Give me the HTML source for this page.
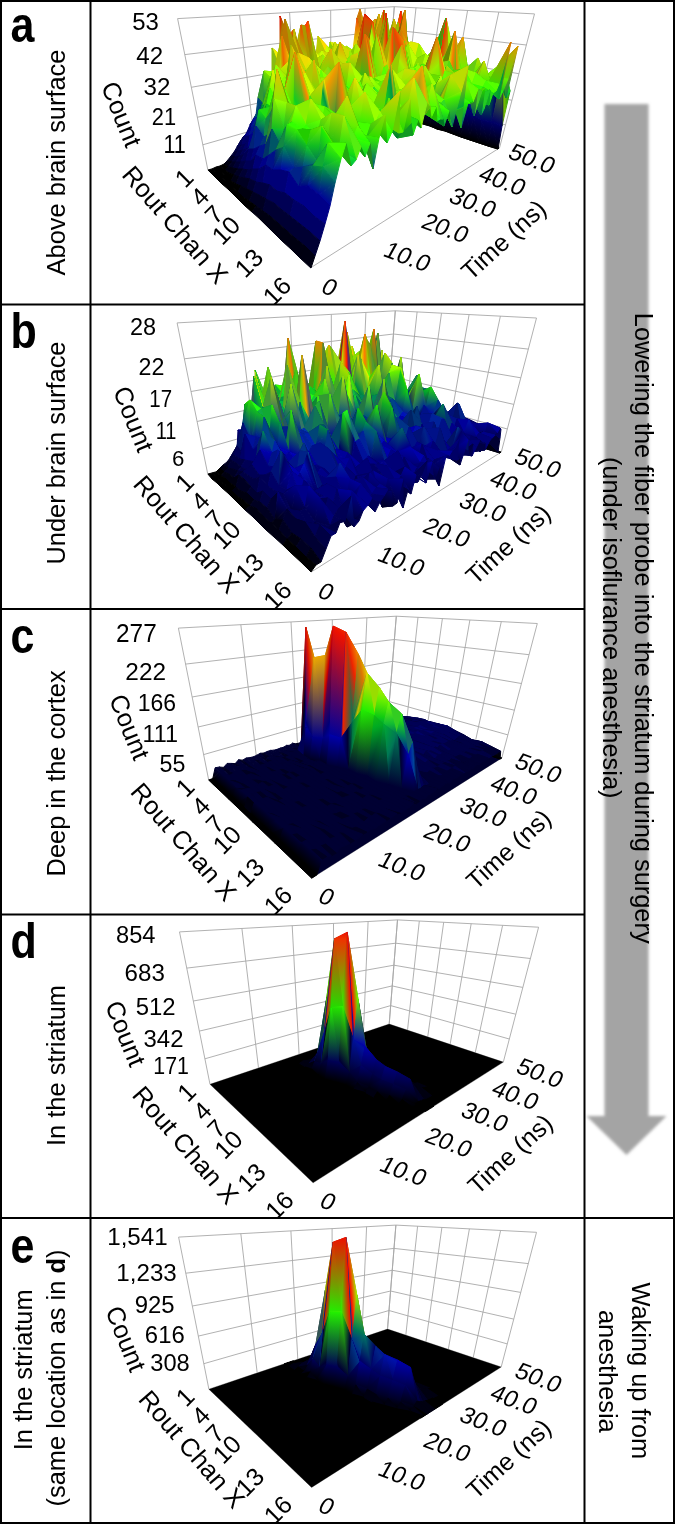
<!DOCTYPE html><html><head><meta charset="utf-8"><title>Figure</title><style>html,body{margin:0;padding:0;background:#fff}svg{display:block}text{font-family:"Liberation Sans",Arial,Helvetica,sans-serif;fill:#000}.lt{font-size:25.4px}.bl{font-weight:bold;font-size:50px}.s path{fill:currentColor;stroke:currentColor;stroke-width:1;stroke-linejoin:round}.gr{fill:none;stroke:#a8a8a8;stroke-width:.9}</style></head><body>
<svg width="675" height="1531" viewBox="0 0 675 1531">
<defs><filter id="bl" x="-20%" y="-5%" width="140%" height="110%"><feGaussianBlur stdDeviation="1.8"/></filter></defs>
<path filter="url(#bl)" fill="#a4a4a4" d="M604.5 104H648.5V1116H666.5L626.5 1155L586.5 1116H604.5Z"/>
<text class="lt" transform="translate(634.6,628.2) rotate(90)" text-anchor="middle">Lowering the fiber probe into the striatum during surgery</text>
<text class="lt" transform="translate(603,627.7) rotate(90)" text-anchor="middle">(under isoflurance anesthesia)</text>
<text class="lt" transform="translate(632,1370.8) rotate(90)" text-anchor="middle">Waking up from</text>
<text class="lt" transform="translate(598.8,1371.3) rotate(90)" text-anchor="middle">anesthesia</text>
<g><path d="M207.9 170.1L177.6 18.6M207.9 170.1L386 110.2M386 110.2L394.3 6.7M386 110.2L499.5 147.9M256.1 153.9L239.6 15.2M202.8 144.8L387.5 91.8M404.3 116.3L416 7.8M387.5 91.8L505.5 124.9M296.5 140.3L289.6 12.5M197.3 117.3L389.1 72.3M424.4 123L440.2 9M389.1 72.3L511.9 100.3M330.9 128.8L330.7 10.2M191.3 87.3L390.7 51.7M446.7 130.4L467.6 10.4M390.7 51.7L518.9 73.7M360.4 118.9L365.1 8.3M184.8 54.6L392.5 29.8M471.5 138.6L498.8 12M392.5 29.8L526.4 45M386 110.2L394.3 6.7M177.6 18.6L394.3 6.7M499.5 147.9L534.5 13.9M394.3 6.7L534.5 13.9M207.9 170.1L310.5 267.9M310.5 267.9L499.5 147.9" class="gr"/>
<g class="s"><defs><linearGradient id="g1" x1="1.1" y1=".09" x2="1.02" y2="1"><stop stop-color="#007"/><stop offset="1" stop-color="#000"/></linearGradient><linearGradient id="g2" x1=".95" y1=".07" x2=".88" y2="1"><stop stop-color="#007"/><stop offset="1" stop-color="#000"/></linearGradient><linearGradient id="g3" x1="1.08" y1=".09" x2="1" y2="1"><stop stop-color="#007"/><stop offset="1" stop-color="#000"/></linearGradient><linearGradient id="g4" x1=".93" y1=".07" x2=".86" y2="1"><stop stop-color="#007"/><stop offset="1" stop-color="#000"/></linearGradient><linearGradient id="g5" x1="1.06" y1=".08" x2=".98" y2="1"><stop stop-color="#006"/><stop offset="1" stop-color="#000"/></linearGradient><linearGradient id="g6" x1=".88" y1="-.01" x2=".82" y2="1.01"><stop stop-color="#008"/><stop offset="1" stop-color="#000"/></linearGradient><linearGradient id="g7" x1="1.26" y1=".07" x2="1.18" y2="1.02"><stop stop-color="#008"/><stop offset="1" stop-color="#000"/></linearGradient><linearGradient id="g8" x1="1.16" y1=".09" x2="1.09" y2="1.03"><stop stop-color="#007"/><stop offset="1" stop-color="#000"/></linearGradient><linearGradient id="g9" x1="1.03" y1=".08" x2=".94" y2=".99"><stop stop-color="#006"/><stop offset="1" stop-color="#000"/></linearGradient><linearGradient id="ga" x1=".84" y1=".05" x2=".76" y2="1"><stop stop-color="#006"/><stop offset="1" stop-color="#000"/></linearGradient><linearGradient id="gb" x1="1.05" y1=".08" x2=".96" y2="1"><stop stop-color="#006"/><stop offset="1" stop-color="#000"/></linearGradient><linearGradient id="gc" x1=".94" y1=".09" x2=".85" y2="1.01"><stop stop-color="#006"/><stop offset="1" stop-color="#000"/></linearGradient><linearGradient id="gd" x1=".94" y1=".08" x2=".84" y2=".98"><stop stop-color="#005"/><stop offset="1" stop-color="#000"/></linearGradient><linearGradient id="ge" x1=".81" y1=".03" x2=".71" y2="1"><stop stop-color="#006"/><stop offset="1" stop-color="#000"/></linearGradient><linearGradient id="gf" x1=".98" y1=".08" x2=".88" y2=".99"><stop stop-color="#006"/><stop offset="1" stop-color="#000"/></linearGradient><linearGradient id="gg" x1=".78" y1="-.01" x2=".71" y2="1.01"><stop stop-color="#008"/><stop offset="1" stop-color="#000"/></linearGradient><linearGradient id="gh" x1="1.26" y1=".06" x2="1.18" y2="1.02"><stop stop-color="#008"/><stop offset="1" stop-color="#000"/></linearGradient><linearGradient id="gi" x1="1.06" y1=".08" x2=".98" y2="1.03"><stop stop-color="#008"/><stop offset="1" stop-color="#000"/></linearGradient><linearGradient id="gj" x1="1.04" y1=".07" x2=".94" y2=".99"><stop stop-color="#006"/><stop offset="1" stop-color="#000"/></linearGradient><linearGradient id="gk" x1=".83" y1=".08" x2=".74" y2="1.01"><stop stop-color="#006"/><stop offset="1" stop-color="#000"/></linearGradient><linearGradient id="gl" x1=".96" y1=".07" x2=".84" y2=".98"><stop stop-color="#006"/><stop offset="1" stop-color="#000"/></linearGradient><linearGradient id="gm" x1=".74" y1=".04" x2=".64" y2="1.01"><stop stop-color="#006"/><stop offset="1" stop-color="#000"/></linearGradient><linearGradient id="gn" x1=".99" y1=".07" x2=".88" y2=".99"><stop stop-color="#006"/><stop offset="1" stop-color="#000"/></linearGradient><linearGradient id="go" x1=".76" y1=".08" x2=".66" y2="1.01"><stop stop-color="#006"/><stop offset="1" stop-color="#000"/></linearGradient><linearGradient id="gp" x1="2.36" y1=".31" x2="2.24" y2="1.2"><stop stop-color="#6c0"/><stop offset="1" stop-color="#007"/></linearGradient><linearGradient id="gq" x1="-1.24" y1=".64" x2="-1.09" y2="-.22"><stop stop-color="#006"/><stop offset=".97" stop-color="#6c0"/><stop offset="1" stop-color="#3c0"/></linearGradient><linearGradient id="gr" x1="1.09" y1=".03" x2="1.05" y2="1"><stop stop-color="#4c0"/><stop offset="1" stop-color="#006"/></linearGradient><linearGradient id="gs" x1=".96" y1=".5" x2=".37" y2=".03"><stop stop-color="#007"/><stop offset=".38" stop-color="#d70"/><stop offset="1" stop-color="#4d0"/></linearGradient><linearGradient id="gt" x1="-.94" y1=".03" x2="-.92" y2="1.04"><stop stop-color="#c60"/><stop offset="1" stop-color="#007"/></linearGradient><linearGradient id="gu" x1=".08" y1=".5" x2=".52" y2=".04"><stop stop-color="#006"/><stop offset=".48" stop-color="#b50"/><stop offset="1" stop-color="#4b0"/></linearGradient><linearGradient id="gv" x1="1.57" y1=".09" x2="1.5" y2="1.04"><stop stop-color="#4c0"/><stop offset="1" stop-color="#007"/></linearGradient><linearGradient id="gw" x1=".57" y1="0" x2=".57" y2="1"><stop stop-color="#5c0"/><stop offset=".02" stop-color="#4c0"/><stop offset="1" stop-color="#007"/></linearGradient><linearGradient id="gx" x1="1.77" y1=".1" x2="1.7" y2="1.06"><stop stop-color="#5c0"/><stop offset="1" stop-color="#007"/></linearGradient><linearGradient id="gy" x1="1.55" y1=".47" x2="1.12" y2="-.36"><stop stop-color="#007"/><stop offset=".71" stop-color="#bc0"/><stop offset="1" stop-color="#5c0"/></linearGradient><linearGradient id="gz" x1="-1.49" y1=".24" x2="-1.37" y2="1.22"><stop stop-color="#ab0"/><stop offset=".95" stop-color="#007"/><stop offset="1" stop-color="#008"/></linearGradient><linearGradient id="g10" x1=".17" y1=".52" x2=".46" y2=".14"><stop stop-color="#007"/><stop offset=".67" stop-color="#990"/><stop offset="1" stop-color="#181"/></linearGradient><linearGradient id="g11" x1="1.35" y1=".44" x2="1.1" y2="1.12"><stop stop-color="#191"/><stop offset=".9" stop-color="#006"/><stop offset="1" stop-color="#007"/></linearGradient><linearGradient id="g12" x1=".65" y1="0" x2=".63" y2="1"><stop stop-color="#4c0"/><stop offset=".23" stop-color="#1a2"/><stop offset="1" stop-color="#006"/></linearGradient><linearGradient id="g13" x1=".19" y1=".97" x2=".23" y2="-.01"><stop stop-color="#006"/><stop offset="1" stop-color="#4c0"/></linearGradient><linearGradient id="g14" x1="1.19" y1=".13" x2="1.09" y2="1.06"><stop stop-color="#4c0"/><stop offset=".01" stop-color="#3c0"/><stop offset="1" stop-color="#006"/></linearGradient><linearGradient id="g15" x1="2.2" y1=".28" x2="2.04" y2="1.2"><stop stop-color="#3c0"/><stop offset="1" stop-color="#006"/></linearGradient><linearGradient id="g16" x1=".94" y1=".06" x2=".88" y2="1.03"><stop stop-color="#3c0"/><stop offset="1" stop-color="#006"/></linearGradient><linearGradient id="g17" x1=".78" y1="0" x2=".76" y2="1"><stop stop-color="#2c0"/><stop offset="1" stop-color="#006"/></linearGradient><linearGradient id="g18" x1="-.74" y1=".44" x2="-.12" y2="1.47"><stop stop-color="#2b0"/><stop offset=".76" stop-color="#045"/><stop offset="1" stop-color="#005"/></linearGradient><linearGradient id="g19" x1=".53" y1=".42" x2=".35" y2=".65"><stop stop-color="#026"/><stop offset=".56" stop-color="#005"/><stop offset="1" stop-color="#007"/></linearGradient><linearGradient id="g1a" x1="1.35" y1=".23" x2=".79" y2="1.08"><stop stop-color="#093"/><stop offset=".86" stop-color="#027"/><stop offset="1" stop-color="#006"/></linearGradient><linearGradient id="g1b" x1="1.49" y1=".19" x2="1.33" y2="1.09"><stop stop-color="#082"/><stop offset="1" stop-color="#006"/></linearGradient><linearGradient id="g1c" x1=".78" y1=".02" x2=".69" y2="1.02"><stop stop-color="#092"/><stop offset="1" stop-color="#006"/></linearGradient><linearGradient id="g1d" x1=".79" y1=".01" x2=".75" y2=".99"><stop stop-color="#092"/><stop offset="1" stop-color="#006"/></linearGradient><linearGradient id="g1e" x1=".72" y1=".49" x2=".15" y2=".16"><stop stop-color="#9d0"/><stop offset=".17" stop-color="#006"/><stop offset="1" stop-color="#092"/></linearGradient><linearGradient id="g1f" x1="1.99" y1=".09" x2="1.89" y2="1.11"><stop stop-color="#8c0"/><stop offset="1" stop-color="#006"/></linearGradient><linearGradient id="g1g" x1="-.01" y1=".47" x2="1" y2=".46"><stop stop-color="#005"/><stop offset=".26" stop-color="#7b0"/><stop offset="1" stop-color="#191"/></linearGradient><linearGradient id="g1h" x1=".87" y1=".06" x2=".79" y2=".98"><stop stop-color="#3b0"/><stop offset="1" stop-color="#026"/></linearGradient><linearGradient id="g1i" x1=".6" y1="-.01" x2=".59" y2="1"><stop stop-color="#4c0"/><stop offset="1" stop-color="#027"/></linearGradient><linearGradient id="g1j" x1=".88" y1=".15" x2=".63" y2="1.16"><stop stop-color="#4c0"/><stop offset=".39" stop-color="#093"/><stop offset="1" stop-color="#027"/></linearGradient><linearGradient id="g1k" x1=".65" y1="-.02" x2=".61" y2=".99"><stop stop-color="#6c0"/><stop offset=".24" stop-color="#4c0"/><stop offset="1" stop-color="#082"/></linearGradient><linearGradient id="g1l" x1=".81" y1=".04" x2=".7" y2=".96"><stop stop-color="#af0"/><stop offset=".64" stop-color="#4f0"/><stop offset="1" stop-color="#1c2"/></linearGradient><linearGradient id="g1m" x1=".78" y1=".14" x2=".63" y2=".99"><stop stop-color="#5f0"/><stop offset=".5" stop-color="#1d2"/><stop offset="1" stop-color="#0a5"/></linearGradient><linearGradient id="g1n" x1=".92" y1=".47" x2=".64" y2=".99"><stop stop-color="#8a0"/><stop offset=".72" stop-color="#082"/><stop offset="1" stop-color="#2b0"/></linearGradient><linearGradient id="g1o" x1=".04" y1=".5" x2=".56" y2=".91"><stop stop-color="#ac0"/><stop offset=".67" stop-color="#d30"/><stop offset="1" stop-color="#1a2"/></linearGradient><linearGradient id="g1p" x1="1" y1=".52" x2=".12" y2=".35"><stop stop-color="#bc0"/><stop offset=".62" stop-color="#d30"/><stop offset="1" stop-color="#1a2"/></linearGradient><linearGradient id="g1q" x1=".97" y1=".59" x2=".1" y2=".71"><stop stop-color="#de0"/><stop offset=".69" stop-color="#9f0"/><stop offset="1" stop-color="#f30"/></linearGradient><linearGradient id="g1r" x1="1.04" y1=".04" x2=".97" y2="1.07"><stop stop-color="#c80"/><stop offset="1" stop-color="#3c0"/></linearGradient><linearGradient id="g1s" x1=".51" y1=".62" x2=".62" y2=".54"><stop stop-color="#d80"/><stop offset=".61" stop-color="#7d0"/><stop offset="1" stop-color="#4d0"/></linearGradient><linearGradient id="g1t" x1=".62" y1=".48" x2=".24" y2=".76"><stop stop-color="#790"/><stop offset="0" stop-color="#063"/><stop offset="1" stop-color="#3a0"/></linearGradient><linearGradient id="g1u" x1=".02" y1=".34" x2=".28" y2="1.01"><stop stop-color="#9c0"/><stop offset=".07" stop-color="#c90"/><stop offset="1" stop-color="#084"/></linearGradient><linearGradient id="g1v" x1=".37" y1=".57" x2=".4" y2=".6"><stop stop-color="#8a0"/><stop offset=".87" stop-color="#a20"/><stop offset="1" stop-color="#4a0"/></linearGradient><linearGradient id="g1w" x1=".06" y1=".59" x2=".76" y2=".8"><stop stop-color="#5d0"/><stop offset=".6" stop-color="#1b1"/><stop offset="1" stop-color="#d30"/></linearGradient><linearGradient id="g1x" x1="1.11" y1=".6" x2=".6" y2=".21"><stop stop-color="#8e0"/><stop offset=".95" stop-color="#e30"/><stop offset="1" stop-color="#1c1"/></linearGradient><linearGradient id="g1y" x1=".54" y1=".1" x2=".71" y2=".84"><stop stop-color="#6a0"/><stop offset="1" stop-color="#191"/></linearGradient><linearGradient id="g1z" x1=".17" y1=".13" x2=".29" y2=".95"><stop stop-color="#b70"/><stop offset="1" stop-color="#6b0"/></linearGradient><linearGradient id="g20" x1=".3" y1=".06" x2=".38" y2="1.01"><stop stop-color="#d80"/><stop offset=".69" stop-color="#8d0"/><stop offset="1" stop-color="#5d0"/></linearGradient><linearGradient id="g21" x1=".98" y1=".03" x2=".88" y2="1.08"><stop stop-color="#e90"/><stop offset=".8" stop-color="#7e0"/><stop offset="1" stop-color="#5e0"/></linearGradient><linearGradient id="g22" x1=".63" y1="-.05" x2=".47" y2=".97"><stop stop-color="#7f0"/><stop offset="1" stop-color="#2f0"/></linearGradient><linearGradient id="g23" x1=".29" y1=".44" x2=".46" y2=".71"><stop stop-color="#c80"/><stop offset=".24" stop-color="#9b0"/><stop offset="1" stop-color="#4c0"/></linearGradient><linearGradient id="g24" x1=".77" y1="-.04" x2=".59" y2="1.08"><stop stop-color="#d90"/><stop offset="1" stop-color="#5d0"/></linearGradient><linearGradient id="g25" x1=".74" y1=".02" x2=".63" y2="1.07"><stop stop-color="#bd0"/><stop offset=".46" stop-color="#5e0"/><stop offset="1" stop-color="#0a3"/></linearGradient><linearGradient id="g26" x1=".46" y1=".03" x2=".51" y2="1"><stop stop-color="#5e0"/><stop offset=".6" stop-color="#0a3"/><stop offset="1" stop-color="#066"/></linearGradient><linearGradient id="g27" x1=".56" y1=".03" x2=".4" y2="1.07"><stop stop-color="#5d0"/><stop offset="1" stop-color="#065"/></linearGradient><linearGradient id="g28" x1="-.05" y1=".63" x2="1.06" y2=".48"><stop stop-color="#065"/><stop offset=".66" stop-color="#1a2"/><stop offset="1" stop-color="#5d0"/></linearGradient><linearGradient id="g29" x1=".49" y1="-.06" x2=".29" y2="1.05"><stop stop-color="#6e0"/><stop offset="1" stop-color="#1b2"/></linearGradient><linearGradient id="g2a" x1=".49" y1="1.11" x2=".76" y2="-.06"><stop stop-color="#1b2"/><stop offset=".23" stop-color="#2c1"/><stop offset="1" stop-color="#6e0"/></linearGradient><linearGradient id="g2b" x1=".22" y1=".5" x2=".42" y2=".33"><stop stop-color="#990"/><stop offset=".63" stop-color="#a50"/><stop offset="1" stop-color="#4a0"/></linearGradient><linearGradient id="g2c" x1=".75" y1="0" x2=".74" y2="1"><stop stop-color="#c40"/><stop offset=".12" stop-color="#c60"/><stop offset="1" stop-color="#5c0"/></linearGradient><linearGradient id="g2d" x1=".85" y1=".56" x2=".16" y2="1.18"><stop stop-color="#ac0"/><stop offset=".24" stop-color="#c40"/><stop offset="1" stop-color="#5c0"/></linearGradient><linearGradient id="g2e" x1=".74" y1=".53" x2=".57" y2=".67"><stop stop-color="#a70"/><stop offset=".54" stop-color="#890"/><stop offset="1" stop-color="#a30"/></linearGradient><linearGradient id="g2f" x1=".71" y1=".06" x2=".62" y2="1.06"><stop stop-color="#ca0"/><stop offset="1" stop-color="#4c0"/></linearGradient><linearGradient id="g2g" x1=".78" y1=".05" x2=".72" y2=".98"><stop stop-color="#ba0"/><stop offset="1" stop-color="#5b0"/></linearGradient><linearGradient id="g2h" x1=".42" y1=".97" x2=".46" y2=".01"><stop stop-color="#5f0"/><stop offset="1" stop-color="#ce0"/></linearGradient><linearGradient id="g2i" x1=".45" y1=".98" x2=".54" y2=".05"><stop stop-color="#1c2"/><stop offset="1" stop-color="#6f0"/></linearGradient><linearGradient id="g2j" x1=".49" y1=".04" x2=".42" y2=".96"><stop stop-color="#2a0"/><stop offset="1" stop-color="#044"/></linearGradient><linearGradient id="g2k" x1="1.11" y1=".63" x2=".69" y2=".04"><stop stop-color="#065"/><stop offset=".79" stop-color="#bc0"/><stop offset="1" stop-color="#3d0"/></linearGradient><linearGradient id="g2l" x1="-.4" y1=".81" x2=".09" y2="-.2"><stop stop-color="#065"/><stop offset=".52" stop-color="#1a2"/><stop offset="1" stop-color="#ab0"/></linearGradient><linearGradient id="g2m" x1=".45" y1=".58" x2=".62" y2=".39"><stop stop-color="#182"/><stop offset=".58" stop-color="#9a0"/><stop offset="1" stop-color="#3b0"/></linearGradient><linearGradient id="g2n" x1="-.32" y1=".2" x2="-.1" y2="1.03"><stop stop-color="#e40"/><stop offset=".75" stop-color="#ea0"/><stop offset="1" stop-color="#9e0"/></linearGradient><linearGradient id="g2o" x1=".2" y1=".09" x2=".31" y2="1.03"><stop stop-color="#ea0"/><stop offset=".5" stop-color="#9e0"/><stop offset="1" stop-color="#4e0"/></linearGradient><linearGradient id="g2p" x1=".18" y1="-.04" x2=".42" y2="1.12"><stop stop-color="#6f0"/><stop offset="1" stop-color="#1c2"/></linearGradient><linearGradient id="g2q" x1=".13" y1=".54" x2=".63" y2=".93"><stop stop-color="#6d0"/><stop offset=".58" stop-color="#d60"/><stop offset="1" stop-color="#1b2"/></linearGradient><linearGradient id="g2r" x1="1.04" y1=".6" x2=".12" y2=".42"><stop stop-color="#5c0"/><stop offset=".63" stop-color="#c60"/><stop offset="1" stop-color="#1a2"/></linearGradient><linearGradient id="g2s" x1=".94" y1=".59" x2=".16" y2=".85"><stop stop-color="#6f0"/><stop offset=".85" stop-color="#f70"/><stop offset="1" stop-color="#2d1"/></linearGradient><linearGradient id="g2t" x1=".37" y1="1.06" x2=".54" y2=".03"><stop stop-color="#1d1"/><stop offset=".48" stop-color="#3f0"/><stop offset="1" stop-color="#6f0"/></linearGradient><linearGradient id="g2u" x1=".56" y1="-.01" x2=".53" y2=".99"><stop stop-color="#3e0"/><stop offset="1" stop-color="#075"/></linearGradient><linearGradient id="g2v" x1=".51" y1=".55" x2=".4" y2=".42"><stop stop-color="#064"/><stop offset=".52" stop-color="#ab0"/><stop offset="1" stop-color="#2c0"/></linearGradient><linearGradient id="g2w" x1=".4" y1=".54" x2=".62" y2=".74"><stop stop-color="#064"/><stop offset=".33" stop-color="#ac0"/><stop offset="1" stop-color="#2c1"/></linearGradient><linearGradient id="g2x" x1=".45" y1="1.02" x2=".49" y2="0"><stop stop-color="#2d1"/><stop offset=".17" stop-color="#4e0"/><stop offset="1" stop-color="#cd0"/></linearGradient><linearGradient id="g2y" x1=".65" y1="-.17" x2=".21" y2=".73"><stop stop-color="#4f0"/><stop offset="1" stop-color="#2e1"/></linearGradient><linearGradient id="g2z" x1=".32" y1="0" x2=".45" y2="1.06"><stop stop-color="#4f0"/><stop offset="1" stop-color="#0b3"/></linearGradient><linearGradient id="g30" x1=".76" y1=".63" x2=".16" y2=".4"><stop stop-color="#d70"/><stop offset=".2" stop-color="#093"/><stop offset="1" stop-color="#2c1"/></linearGradient><linearGradient id="g31" x1=".02" y1=".51" x2=".92" y2="1.12"><stop stop-color="#be0"/><stop offset=".38" stop-color="#f70"/><stop offset="1" stop-color="#1d1"/></linearGradient><linearGradient id="g32" x1="1.01" y1=".45" x2=".8" y2=".91"><stop stop-color="#7a0"/><stop offset=".37" stop-color="#3a0"/><stop offset="1" stop-color="#191"/></linearGradient><linearGradient id="g33" x1=".68" y1=".17" x2=".38" y2="1.12"><stop stop-color="#5c0"/><stop offset=".26" stop-color="#2b1"/><stop offset="1" stop-color="#064"/></linearGradient><linearGradient id="g34" x1=".53" y1=".89" x2=".7" y2=".17"><stop stop-color="#190"/><stop offset="1" stop-color="#4a0"/></linearGradient><linearGradient id="g35" x1=".25" y1=".6" x2=".36" y2=".74"><stop stop-color="#d70"/><stop offset=".43" stop-color="#3d0"/><stop offset="1" stop-color="#2c1"/></linearGradient><linearGradient id="g36" x1=".89" y1="-.02" x2=".68" y2="1.12"><stop stop-color="#d70"/><stop offset="1" stop-color="#3d0"/></linearGradient><linearGradient id="g37" x1=".18" y1=".42" x2=".49" y2="-.02"><stop stop-color="#7f0"/><stop offset=".08" stop-color="#f60"/><stop offset="1" stop-color="#f10"/></linearGradient><linearGradient id="g38" x1=".86" y1=".58" x2=".42" y2=".93"><stop stop-color="#7f0"/><stop offset=".55" stop-color="#f60"/><stop offset="1" stop-color="#2e1"/></linearGradient><linearGradient id="g39" x1="-.03" y1=".56" x2=".87" y2=".37"><stop stop-color="#be0"/><stop offset=".81" stop-color="#e10"/><stop offset="1" stop-color="#2e0"/></linearGradient><linearGradient id="g3a" x1=".3" y1=".92" x2=".4" y2=".05"><stop stop-color="#2b0"/><stop offset="1" stop-color="#8b0"/></linearGradient><linearGradient id="g3b" x1="1.81" y1=".89" x2="1.71" y2="-.12"><stop stop-color="#3c0"/><stop offset=".06" stop-color="#1b1"/><stop offset="1" stop-color="#c00"/></linearGradient><linearGradient id="g3c" x1=".49" y1=".62" x2=".57" y2=".54"><stop stop-color="#6c0"/><stop offset=".6" stop-color="#c00"/><stop offset="1" stop-color="#3c0"/></linearGradient><linearGradient id="g3d" x1="1.06" y1=".41" x2=".01" y2="1.02"><stop stop-color="#db0"/><stop offset=".24" stop-color="#d70"/><stop offset="1" stop-color="#1b2"/></linearGradient><linearGradient id="g3e" x1=".63" y1=".43" x2=".55" y2=".36"><stop stop-color="#a80"/><stop offset=".01" stop-color="#890"/><stop offset="1" stop-color="#181"/></linearGradient><linearGradient id="g3f" x1=".38" y1="1.03" x2=".46" y2=".01"><stop stop-color="#2e0"/><stop offset="1" stop-color="#ae0"/></linearGradient><linearGradient id="g3g" x1=".55" y1=".01" x2=".56" y2="1"><stop stop-color="#4f0"/><stop offset=".23" stop-color="#2e0"/><stop offset="1" stop-color="#0b3"/></linearGradient><linearGradient id="g3h" x1=".28" y1="1.03" x2=".41" y2="0"><stop stop-color="#1c1"/><stop offset="1" stop-color="#ad0"/></linearGradient><linearGradient id="g3i" x1=".66" y1="-.03" x2=".56" y2="1"><stop stop-color="#7e0"/><stop offset=".77" stop-color="#1c1"/><stop offset="1" stop-color="#0a3"/></linearGradient><linearGradient id="g3j" x1="-.33" y1=".09" x2="-.21" y2="1.03"><stop stop-color="#e40"/><stop offset=".91" stop-color="#dd0"/><stop offset="1" stop-color="#ae0"/></linearGradient><linearGradient id="g3k" x1=".68" y1="-.07" x2=".48" y2=".95"><stop stop-color="#ed0"/><stop offset="1" stop-color="#ae0"/></linearGradient><linearGradient id="g3l" x1="1.22" y1=".03" x2="1.17" y2="1.01"><stop stop-color="#e10"/><stop offset=".97" stop-color="#8e0"/><stop offset="1" stop-color="#7e0"/></linearGradient><linearGradient id="g3m" x1=".46" y1=".99" x2=".5" y2=".02"><stop stop-color="#2d1"/><stop offset="1" stop-color="#9f0"/></linearGradient><linearGradient id="g3n" x1=".07" y1="1.01" x2=".19" y2=".01"><stop stop-color="#092"/><stop offset=".18" stop-color="#1a1"/><stop offset="1" stop-color="#8c0"/></linearGradient><linearGradient id="g3o" x1="1.03" y1=".35" x2=".83" y2=".94"><stop stop-color="#690"/><stop offset=".34" stop-color="#390"/><stop offset="1" stop-color="#181"/></linearGradient><linearGradient id="g3p" x1=".72" y1=".21" x2=".53" y2=".86"><stop stop-color="#2b0"/><stop offset="1" stop-color="#045"/></linearGradient><linearGradient id="g3q" x1=".42" y1=".06" x2=".52" y2="1.02"><stop stop-color="#5c0"/><stop offset=".09" stop-color="#2c0"/><stop offset="1" stop-color="#055"/></linearGradient><linearGradient id="g3r" x1=".43" y1=".29" x2=".28" y2=".52"><stop stop-color="#2d0"/><stop offset="1" stop-color="#1a2"/></linearGradient><linearGradient id="g3s" x1=".81" y1="-.02" x2=".7" y2=".98"><stop stop-color="#8c0"/><stop offset=".75" stop-color="#2c0"/><stop offset="1" stop-color="#1a2"/></linearGradient><linearGradient id="g3t" x1=".21" y1="1.02" x2=".33" y2=".02"><stop stop-color="#192"/><stop offset="1" stop-color="#8c0"/></linearGradient><linearGradient id="g3u" x1=".26" y1=".88" x2=".39" y2=".07"><stop stop-color="#181"/><stop offset="1" stop-color="#6a0"/></linearGradient><linearGradient id="g3v" x1="1.25" y1=".31" x2=".85" y2="1.33"><stop stop-color="#e90"/><stop offset=".32" stop-color="#ad0"/><stop offset="1" stop-color="#4e0"/></linearGradient><linearGradient id="g3w" x1=".78" y1="-.04" x2=".59" y2="1.01"><stop stop-color="#ad0"/><stop offset="1" stop-color="#4e0"/></linearGradient><linearGradient id="g3x" x1=".29" y1=".38" x2=".38" y2=".28"><stop stop-color="#065"/><stop offset=".72" stop-color="#7d0"/><stop offset="1" stop-color="#5d0"/></linearGradient><linearGradient id="g3y" x1=".01" y1=".91" x2=".13" y2=".02"><stop stop-color="#055"/><stop offset="1" stop-color="#6b0"/></linearGradient><linearGradient id="g3z" x1=".68" y1=".08" x2=".57" y2="1.04"><stop stop-color="#ba0"/><stop offset="1" stop-color="#5b0"/></linearGradient><linearGradient id="g40" x1="-.03" y1=".56" x2="1.01" y2=".17"><stop stop-color="#cc0"/><stop offset=".73" stop-color="#6d0"/><stop offset="1" stop-color="#d10"/></linearGradient><linearGradient id="g41" x1="1.98" y1=".17" x2="1.89" y2="1.16"><stop stop-color="#c10"/><stop offset=".85" stop-color="#8c0"/><stop offset="1" stop-color="#6c0"/></linearGradient><linearGradient id="g42" x1=".81" y1=".01" x2=".8" y2="1"><stop stop-color="#c10"/><stop offset="1" stop-color="#7c0"/></linearGradient><linearGradient id="g43" x1=".46" y1=".15" x2=".27" y2=".76"><stop stop-color="#390"/><stop offset="1" stop-color="#190"/></linearGradient><linearGradient id="g44" x1=".57" y1="1" x2=".57" y2="0"><stop stop-color="#2d0"/><stop offset=".16" stop-color="#4d0"/><stop offset="1" stop-color="#d60"/></linearGradient><linearGradient id="g45" x1=".94" y1=".51" x2=".27" y2="1.24"><stop stop-color="#d60"/><stop offset=".05" stop-color="#9c0"/><stop offset="1" stop-color="#2c0"/></linearGradient><linearGradient id="g46" x1=".83" y1=".55" x2=".46" y2="1.02"><stop stop-color="#bf0"/><stop offset=".13" stop-color="#f70"/><stop offset="1" stop-color="#5f0"/></linearGradient><linearGradient id="g47" x1=".43" y1=".58" x2=".42" y2=".57"><stop stop-color="#990"/><stop offset=".43" stop-color="#7a0"/><stop offset="1" stop-color="#a10"/></linearGradient><linearGradient id="g48" x1=".08" y1=".56" x2=".63" y2=".85"><stop stop-color="#9d0"/><stop offset=".88" stop-color="#d10"/><stop offset="1" stop-color="#2d0"/></linearGradient><linearGradient id="g49" x1="-.82" y1=".92" x2="-.72" y2="-.11"><stop stop-color="#2c0"/><stop offset=".93" stop-color="#d40"/><stop offset="1" stop-color="#d10"/></linearGradient><linearGradient id="g4a" x1=".65" y1=".49" x2=".55" y2=".39"><stop stop-color="#b90"/><stop offset=".49" stop-color="#b30"/><stop offset="1" stop-color="#1b0"/></linearGradient><linearGradient id="g4b" x1="-.02" y1=".55" x2=".48" y2=".06"><stop stop-color="#fd0"/><stop offset=".6" stop-color="#9f0"/><stop offset="1" stop-color="#f40"/></linearGradient><linearGradient id="g4c" x1=".86" y1=".08" x2=".77" y2="1.01"><stop stop-color="#fe0"/><stop offset="1" stop-color="#6f0"/></linearGradient><linearGradient id="g4d" x1=".48" y1=".05" x2=".25" y2="1.06"><stop stop-color="#9f0"/><stop offset="1" stop-color="#6f0"/></linearGradient><linearGradient id="g4e" x1=".94" y1="0" x2=".92" y2="1.02"><stop stop-color="#d20"/><stop offset="1" stop-color="#5d0"/></linearGradient><linearGradient id="g4f" x1=".39" y1=".6" x2=".4" y2=".6"><stop stop-color="#3a0"/><stop offset=".72" stop-color="#181"/><stop offset="1" stop-color="#a40"/></linearGradient><linearGradient id="g4g" x1=".7" y1=".57" x2=".48" y2=".4"><stop stop-color="#8c0"/><stop offset=".42" stop-color="#c60"/><stop offset="1" stop-color="#1b1"/></linearGradient><linearGradient id="g4h" x1="-.65" y1=".29" x2="-.42" y2="1.31"><stop stop-color="#e70"/><stop offset=".57" stop-color="#9e0"/><stop offset="1" stop-color="#5e0"/></linearGradient><linearGradient id="g4i" x1=".54" y1=".9" x2=".7" y2=".05"><stop stop-color="#4a0"/><stop offset="1" stop-color="#7a0"/></linearGradient><linearGradient id="g4j" x1=".24" y1=".27" x2=".45" y2=".84"><stop stop-color="#7a0"/><stop offset="1" stop-color="#1a0"/></linearGradient><linearGradient id="g4k" x1=".65" y1="-.03" x2=".56" y2="1"><stop stop-color="#9e0"/><stop offset=".68" stop-color="#2e0"/><stop offset="1" stop-color="#1b2"/></linearGradient><linearGradient id="g4l" x1=".65" y1=".01" x2=".57" y2="1.04"><stop stop-color="#ae0"/><stop offset=".76" stop-color="#2e0"/><stop offset="1" stop-color="#1b2"/></linearGradient><linearGradient id="g4m" x1=".62" y1=".48" x2=".5" y2=".38"><stop stop-color="#2c0"/><stop offset="1" stop-color="#192"/></linearGradient><linearGradient id="g4n" x1="-.02" y1=".56" x2=".87" y2=".38"><stop stop-color="#be0"/><stop offset=".8" stop-color="#e20"/><stop offset="1" stop-color="#2e0"/></linearGradient><linearGradient id="g4o" x1=".76" y1=".01" x2=".69" y2=".98"><stop stop-color="#9b0"/><stop offset="1" stop-color="#2b0"/></linearGradient><linearGradient id="g4p" x1=".61" y1="-.3" x2="-.23" y2=".81"><stop stop-color="#cd0"/><stop offset="1" stop-color="#ae0"/></linearGradient><linearGradient id="g4q" x1=".47" y1=".01" x2=".49" y2="1"><stop stop-color="#cd0"/><stop offset=".2" stop-color="#ae0"/><stop offset="1" stop-color="#1b2"/></linearGradient><linearGradient id="g4r" x1=".39" y1="1.02" x2=".57" y2=".05"><stop stop-color="#2e1"/><stop offset="1" stop-color="#6f0"/></linearGradient><linearGradient id="g4s" x1=".58" y1="-.01" x2=".5" y2="1"><stop stop-color="#2e0"/><stop offset="1" stop-color="#048"/></linearGradient><linearGradient id="g4t" x1=".68" y1=".02" x2=".6" y2=".97"><stop stop-color="#bf0"/><stop offset=".41" stop-color="#7f0"/><stop offset="1" stop-color="#1c2"/></linearGradient><linearGradient id="g4u" x1=".03" y1=".57" x2=".87" y2=".72"><stop stop-color="#5d0"/><stop offset=".99" stop-color="#1a2"/><stop offset="1" stop-color="#d50"/></linearGradient><linearGradient id="g4v" x1=".94" y1=".58" x2="-.04" y2=".88"><stop stop-color="#6c0"/><stop offset=".51" stop-color="#c50"/><stop offset="1" stop-color="#1a2"/></linearGradient><linearGradient id="g4w" x1="1.39" y1=".21" x2="1.26" y2="1.05"><stop stop-color="#c50"/><stop offset=".06" stop-color="#c70"/><stop offset="1" stop-color="#5c0"/></linearGradient><linearGradient id="g4x" x1=".31" y1="1.03" x2=".42" y2="0"><stop stop-color="#2e0"/><stop offset="1" stop-color="#cd0"/></linearGradient><linearGradient id="g4y" x1="1.01" y1=".36" x2="-.02" y2=".4"><stop stop-color="#5e0"/><stop offset="1" stop-color="#2e0"/></linearGradient><linearGradient id="g4z" x1=".23" y1=".56" x2=".41" y2=".8"><stop stop-color="#d50"/><stop offset=".05" stop-color="#ad0"/><stop offset="1" stop-color="#5d0"/></linearGradient><linearGradient id="g50" x1=".34" y1=".06" x2=".44" y2=".95"><stop stop-color="#c40"/><stop offset="1" stop-color="#9c0"/></linearGradient><linearGradient id="g51" x1=".26" y1=".83" x2=".43" y2=".1"><stop stop-color="#b70"/><stop offset="1" stop-color="#b30"/></linearGradient><linearGradient id="g52" x1="1.29" y1=".36" x2=".86" y2="1.26"><stop stop-color="#e80"/><stop offset=".23" stop-color="#e40"/><stop offset="1" stop-color="#1c2"/></linearGradient><linearGradient id="g53" x1=".9" y1=".57" x2=".01" y2="1.03"><stop stop-color="#6e0"/><stop offset=".03" stop-color="#e80"/><stop offset="1" stop-color="#1c2"/></linearGradient><linearGradient id="g54" x1=".71" y1="-.04" x2=".56" y2=".99"><stop stop-color="#6e0"/><stop offset="1" stop-color="#1b2"/></linearGradient><linearGradient id="g55" x1=".26" y1="1.09" x2=".61" y2=".1"><stop stop-color="#0b3"/><stop offset=".63" stop-color="#2e1"/><stop offset="1" stop-color="#4f0"/></linearGradient><linearGradient id="g56" x1=".15" y1=".16" x2=".3" y2=".97"><stop stop-color="#db0"/><stop offset=".97" stop-color="#0a3"/><stop offset="1" stop-color="#2c1"/></linearGradient><linearGradient id="g57" x1=".95" y1=".11" x2=".75" y2="1.14"><stop stop-color="#ea0"/><stop offset=".5" stop-color="#bd0"/><stop offset="1" stop-color="#8e0"/></linearGradient><linearGradient id="g58" x1=".47" y1=".98" x2=".57" y2="-.04"><stop stop-color="#5e0"/><stop offset="1" stop-color="#cd0"/></linearGradient><linearGradient id="g59" x1="0" y1=".52" x2=".97" y2=".47"><stop stop-color="#be0"/><stop offset=".67" stop-color="#f40"/><stop offset="1" stop-color="#1c2"/></linearGradient><linearGradient id="g5a" x1=".84" y1="1.01" x2=".75" y2="-.06"><stop stop-color="#1c2"/><stop offset="1" stop-color="#be0"/></linearGradient><linearGradient id="g5b" x1="1.52" y1=".92" x2="1.36" y2="-.15"><stop stop-color="#0b3"/><stop offset=".87" stop-color="#9f0"/><stop offset="1" stop-color="#cf0"/></linearGradient><linearGradient id="g5c" x1=".59" y1="0" x2=".58" y2="1"><stop stop-color="#ab0"/><stop offset=".25" stop-color="#7c0"/><stop offset="1" stop-color="#092"/></linearGradient><linearGradient id="g5d" x1=".51" y1="-.03" x2=".44" y2="1.03"><stop stop-color="#8d0"/><stop offset="1" stop-color="#1b2"/></linearGradient><linearGradient id="g5e" x1="1.06" y1=".56" x2=".45" y2=".22"><stop stop-color="#8d0"/><stop offset=".54" stop-color="#d60"/><stop offset="1" stop-color="#1b2"/></linearGradient><linearGradient id="g5f" x1=".3" y1=".28" x2=".53" y2=".86"><stop stop-color="#5b0"/><stop offset=".52" stop-color="#2a0"/><stop offset="1" stop-color="#191"/></linearGradient><linearGradient id="g5g" x1=".39" y1="1.04" x2=".5" y2="-.04"><stop stop-color="#2d0"/><stop offset="1" stop-color="#db0"/></linearGradient><linearGradient id="g5h" x1=".24" y1=".18" x2=".42" y2=".9"><stop stop-color="#bc0"/><stop offset=".09" stop-color="#8d0"/><stop offset="1" stop-color="#084"/></linearGradient><linearGradient id="g5i" x1=".41" y1=".51" x2=".62" y2=".69"><stop stop-color="#073"/><stop offset=".44" stop-color="#ab0"/><stop offset="1" stop-color="#3c0"/></linearGradient><linearGradient id="g5j" x1=".66" y1=".04" x2=".49" y2="1.08"><stop stop-color="#cd0"/><stop offset="1" stop-color="#4e0"/></linearGradient><linearGradient id="g5k" x1=".32" y1=".08" x2=".43" y2="1"><stop stop-color="#8e0"/><stop offset=".13" stop-color="#4e0"/><stop offset="1" stop-color="#066"/></linearGradient><linearGradient id="g5l" x1=".28" y1="1.02" x2=".34" y2="-.04"><stop stop-color="#4d0"/><stop offset="1" stop-color="#dc0"/></linearGradient><linearGradient id="g5m" x1=".38" y1=".98" x2=".44" y2="-.03"><stop stop-color="#2d0"/><stop offset="1" stop-color="#dc0"/></linearGradient><linearGradient id="g5n" x1=".95" y1=".52" x2=".2" y2="1.22"><stop stop-color="#e60"/><stop offset=".04" stop-color="#ad0"/><stop offset="1" stop-color="#3e0"/></linearGradient><linearGradient id="g5o" x1=".94" y1="-.02" x2=".61" y2="1.17"><stop stop-color="#ad0"/><stop offset="1" stop-color="#3d0"/></linearGradient><linearGradient id="g5p" x1=".06" y1=".51" x2=".26" y2=".88"><stop stop-color="#b90"/><stop offset="1" stop-color="#2b0"/></linearGradient><linearGradient id="g5q" x1=".95" y1=".44" x2=".28" y2=".21"><stop stop-color="#dc0"/><stop offset=".27" stop-color="#d80"/><stop offset="1" stop-color="#2c1"/></linearGradient><linearGradient id="g5r" x1="1.31" y1=".39" x2=".82" y2="1.4"><stop stop-color="#e80"/><stop offset=".34" stop-color="#ae0"/><stop offset="1" stop-color="#3e0"/></linearGradient><linearGradient id="g5s" x1=".82" y1="-.03" x2=".62" y2="1"><stop stop-color="#ae0"/><stop offset="1" stop-color="#2d0"/></linearGradient><linearGradient id="g5t" x1=".56" y1=".21" x2=".36" y2=".76"><stop stop-color="#490"/><stop offset="1" stop-color="#190"/></linearGradient><linearGradient id="g5u" x1=".81" y1="-.01" x2=".76" y2=".99"><stop stop-color="#bb0"/><stop offset="1" stop-color="#2c0"/></linearGradient><linearGradient id="g5v" x1=".11" y1="1.01" x2=".19" y2=".01"><stop stop-color="#2b0"/><stop offset="1" stop-color="#ab0"/></linearGradient><linearGradient id="g5w" x1=".82" y1=".06" x2=".75" y2=".98"><stop stop-color="#ab0"/><stop offset="1" stop-color="#3c0"/></linearGradient><linearGradient id="g5x" x1=".44" y1=".04" x2=".27" y2=".84"><stop stop-color="#5f0"/><stop offset="1" stop-color="#3f0"/></linearGradient><linearGradient id="g5y" x1=".38" y1=".96" x2=".53" y2=".09"><stop stop-color="#094"/><stop offset="1" stop-color="#3f0"/></linearGradient><linearGradient id="g5z" x1="-.22" y1=".13" x2="-.13" y2="1.04"><stop stop-color="#c60"/><stop offset="1" stop-color="#3c0"/></linearGradient><linearGradient id="g60" x1=".96" y1=".37" x2=".12" y2=".24"><stop stop-color="#c70"/><stop offset=".28" stop-color="#c50"/><stop offset="1" stop-color="#3c0"/></linearGradient><linearGradient id="g61" x1=".58" y1=".36" x2=".46" y2=".49"><stop stop-color="#d70"/><stop offset=".73" stop-color="#d50"/><stop offset="1" stop-color="#7d0"/></linearGradient><linearGradient id="g62" x1=".86" y1=".57" x2=".5" y2=".9"><stop stop-color="#8f0"/><stop offset=".52" stop-color="#f60"/><stop offset="1" stop-color="#2d1"/></linearGradient><linearGradient id="g63" x1=".51" y1=".03" x2=".3" y2="1.06"><stop stop-color="#cd0"/><stop offset="1" stop-color="#8e0"/></linearGradient><linearGradient id="g64" x1=".45" y1=".97" x2=".59" y2="-.05"><stop stop-color="#6e0"/><stop offset="1" stop-color="#cd0"/></linearGradient><linearGradient id="g65" x1=".88" y1=".08" x2=".72" y2="1.11"><stop stop-color="#e90"/><stop offset=".58" stop-color="#cd0"/><stop offset="1" stop-color="#9e0"/></linearGradient><linearGradient id="g66" x1=".49" y1=".99" x2=".52" y2="-.01"><stop stop-color="#4e0"/><stop offset="1" stop-color="#cd0"/></linearGradient><linearGradient id="g67" x1="-.39" y1=".15" x2="-.3" y2="1.03"><stop stop-color="#b50"/><stop offset="1" stop-color="#2b0"/></linearGradient><linearGradient id="g68" x1="1.31" y1=".02" x2="1.23" y2="1.05"><stop stop-color="#d50"/><stop offset="1" stop-color="#3d0"/></linearGradient><linearGradient id="g69" x1="-.45" y1=".78" x2="-.27" y2="-.15"><stop stop-color="#3e0"/><stop offset=".07" stop-color="#1c1"/><stop offset="1" stop-color="#e60"/></linearGradient><linearGradient id="g6a" x1=".75" y1="-.01" x2=".58" y2=".92"><stop stop-color="#6c0"/><stop offset=".63" stop-color="#3c0"/><stop offset="1" stop-color="#1a1"/></linearGradient><linearGradient id="g6b" x1=".13" y1=".95" x2=".22" y2=".01"><stop stop-color="#192"/><stop offset="1" stop-color="#9b0"/></linearGradient><linearGradient id="g6c" x1="-.77" y1=".46" x2="-.07" y2="1.64"><stop stop-color="#be0"/><stop offset="1" stop-color="#1c2"/></linearGradient><linearGradient id="g6d" x1=".89" y1=".06" x2=".77" y2=".97"><stop stop-color="#be0"/><stop offset=".86" stop-color="#3f0"/><stop offset="1" stop-color="#2d1"/></linearGradient><linearGradient id="g6e" x1=".55" y1="-.06" x2=".66" y2="1.01"><stop stop-color="#3f0"/><stop offset="1" stop-color="#2e2"/></linearGradient><linearGradient id="g6f" x1=".5" y1="1.05" x2=".39" y2="-.01"><stop stop-color="#2f0"/><stop offset="1" stop-color="#7f0"/></linearGradient><linearGradient id="g6g" x1=".87" y1="0" x2=".82" y2=".99"><stop stop-color="#cb0"/><stop offset="1" stop-color="#2c0"/></linearGradient><linearGradient id="g6h" x1=".38" y1="1.1" x2=".63" y2=".09"><stop stop-color="#7f0"/><stop offset="1" stop-color="#af0"/></linearGradient><linearGradient id="g6i" x1=".6" y1="-.02" x2=".54" y2="1"><stop stop-color="#7e0"/><stop offset="1" stop-color="#094"/></linearGradient><linearGradient id="g6j" x1=".82" y1=".15" x2=".46" y2="1.16"><stop stop-color="#7e0"/><stop offset=".27" stop-color="#3e0"/><stop offset="1" stop-color="#093"/></linearGradient><linearGradient id="g6k" x1=".59" y1=".38" x2=".63" y2=".42"><stop stop-color="#2b0"/><stop offset="1" stop-color="#073"/></linearGradient><linearGradient id="g6l" x1=".39" y1=".97" x2=".45" y2=".01"><stop stop-color="#6f0"/><stop offset="1" stop-color="#bf0"/></linearGradient><linearGradient id="g6m" x1=".72" y1=".08" x2=".62" y2="1"><stop stop-color="#7f0"/><stop offset=".14" stop-color="#5f0"/><stop offset="1" stop-color="#0a3"/></linearGradient><linearGradient id="g6n" x1=".51" y1=".52" x2=".4" y2=".4"><stop stop-color="#083"/><stop offset=".32" stop-color="#bb0"/><stop offset="1" stop-color="#4c0"/></linearGradient><linearGradient id="g6o" x1=".38" y1=".55" x2=".62" y2=".75"><stop stop-color="#083"/><stop offset=".39" stop-color="#cb0"/><stop offset="1" stop-color="#3c0"/></linearGradient><linearGradient id="g6p" x1=".75" y1=".04" x2=".64" y2="1.07"><stop stop-color="#dd0"/><stop offset="1" stop-color="#4e0"/></linearGradient><linearGradient id="g6q" x1=".63" y1="-.03" x2=".53" y2=".99"><stop stop-color="#6e0"/><stop offset=".31" stop-color="#4e0"/><stop offset="1" stop-color="#1c2"/></linearGradient><linearGradient id="g6r" x1="-.46" y1=".77" x2="-.05" y2="-.07"><stop stop-color="#083"/><stop offset=".73" stop-color="#2c0"/><stop offset="1" stop-color="#9c0"/></linearGradient><linearGradient id="g6s" x1=".55" y1=".61" x2=".61" y2=".56"><stop stop-color="#ac0"/><stop offset="1" stop-color="#2c0"/></linearGradient><linearGradient id="g6t" x1=".42" y1=".05" x2=".5" y2=".98"><stop stop-color="#7a0"/><stop offset="1" stop-color="#5a0"/></linearGradient><linearGradient id="g6u" x1=".1" y1=".01" x2=".12" y2="1"><stop stop-color="#d30"/><stop offset=".91" stop-color="#ad0"/><stop offset="1" stop-color="#7d0"/></linearGradient><linearGradient id="g6v" x1=".52" y1=".07" x2=".39" y2="1.01"><stop stop-color="#ab0"/><stop offset="1" stop-color="#6c0"/></linearGradient><linearGradient id="g6w" x1=".64" y1="-.01" x2=".59" y2=".98"><stop stop-color="#c90"/><stop offset="1" stop-color="#9c0"/></linearGradient><linearGradient id="g6x" x1=".18" y1="1.02" x2=".29" y2="-.07"><stop stop-color="#4d0"/><stop offset="1" stop-color="#cc0"/></linearGradient><linearGradient id="g6y" x1="1.06" y1=".01" x2=".84" y2="1.17"><stop stop-color="#cc0"/><stop offset="1" stop-color="#4d0"/></linearGradient><linearGradient id="g6z" x1=".62" y1=".02" x2=".57" y2=".97"><stop stop-color="#dd0"/><stop offset="1" stop-color="#5f0"/></linearGradient><linearGradient id="g70" x1=".45" y1=".97" x2=".56" y2=".06"><stop stop-color="#1d2"/><stop offset="1" stop-color="#5f0"/></linearGradient><linearGradient id="g71" x1=".41" y1=".98" x2=".44" y2="0"><stop stop-color="#5f0"/><stop offset="1" stop-color="#cf0"/></linearGradient><linearGradient id="g72" x1=".64" y1="0" x2=".64" y2="1"><stop stop-color="#d90"/><stop offset="1" stop-color="#4d0"/></linearGradient><linearGradient id="g73" x1=".86" y1=".03" x2=".82" y2=".99"><stop stop-color="#b80"/><stop offset="1" stop-color="#2b0"/></linearGradient><linearGradient id="g74" x1=".78" y1=".59" x2=".66" y2=".75"><stop stop-color="#b80"/><stop offset=".56" stop-color="#5b0"/><stop offset="1" stop-color="#2b0"/></linearGradient><linearGradient id="g75" x1=".11" y1=".58" x2=".53" y2=".83"><stop stop-color="#bc0"/><stop offset=".92" stop-color="#d30"/><stop offset="1" stop-color="#7d0"/></linearGradient><linearGradient id="g76" x1=".43" y1=".01" x2=".44" y2=".99"><stop stop-color="#a20"/><stop offset="1" stop-color="#990"/></linearGradient><linearGradient id="g77" x1="-.57" y1=".17" x2="-.35" y2="1.27"><stop stop-color="#f30"/><stop offset=".02" stop-color="#f40"/><stop offset="1" stop-color="#3f0"/></linearGradient><linearGradient id="g78" x1=".88" y1=".99" x2=".84" y2="-.03"><stop stop-color="#3e0"/><stop offset="1" stop-color="#e40"/></linearGradient><linearGradient id="g79" x1=".31" y1=".47" x2=".46" y2=".68"><stop stop-color="#c90"/><stop offset=".09" stop-color="#ac0"/><stop offset="1" stop-color="#7c0"/></linearGradient><linearGradient id="g7a" x1="1.06" y1=".97" x2=".98" y2="0"><stop stop-color="#2d0"/><stop offset=".45" stop-color="#7d0"/><stop offset="1" stop-color="#da0"/></linearGradient><linearGradient id="g7b" x1=".09" y1="1" x2=".16" y2="-.01"><stop stop-color="#2e0"/><stop offset="1" stop-color="#ea0"/></linearGradient><linearGradient id="g7c" x1=".53" y1="1.05" x2=".63" y2="-.01"><stop stop-color="#2b0"/><stop offset="1" stop-color="#6b0"/></linearGradient><linearGradient id="g7d" x1=".61" y1=".05" x2=".44" y2="1.07"><stop stop-color="#ce0"/><stop offset="1" stop-color="#6e0"/></linearGradient><linearGradient id="g7e" x1=".68" y1="-.1" x2=".39" y2=".91"><stop stop-color="#8f0"/><stop offset="1" stop-color="#4f0"/></linearGradient><linearGradient id="g7f" x1=".11" y1=".28" x2=".32" y2=".94"><stop stop-color="#c90"/><stop offset=".57" stop-color="#9c0"/><stop offset="1" stop-color="#6c0"/></linearGradient><linearGradient id="g7g" x1="-.01" y1=".35" x2=".27" y2="1.05"><stop stop-color="#ad0"/><stop offset=".07" stop-color="#ea0"/><stop offset="1" stop-color="#084"/></linearGradient><linearGradient id="g7h" x1=".97" y1=".53" x2="-.04" y2=".87"><stop stop-color="#6e0"/><stop offset=".18" stop-color="#ea0"/><stop offset="1" stop-color="#084"/></linearGradient><linearGradient id="g7i" x1=".52" y1=".04" x2=".64" y2=".92"><stop stop-color="#7c0"/><stop offset="1" stop-color="#073"/></linearGradient><linearGradient id="g7j" x1=".14" y1="1" x2=".26" y2=".03"><stop stop-color="#093"/><stop offset="1" stop-color="#7c0"/></linearGradient><linearGradient id="g7k" x1=".62" y1=".21" x2=".37" y2=".65"><stop stop-color="#6a0"/><stop offset="1" stop-color="#4a0"/></linearGradient><linearGradient id="g7l" x1=".85" y1=".46" x2=".07" y2=".67"><stop stop-color="#094"/><stop offset=".38" stop-color="#bf0"/><stop offset="1" stop-color="#5f0"/></linearGradient><linearGradient id="g7m" x1="1.04" y1=".53" x2=".2" y2=".11"><stop stop-color="#084"/><stop offset=".29" stop-color="#db0"/><stop offset="1" stop-color="#4d0"/></linearGradient><linearGradient id="g7n" x1="-.28" y1=".73" x2="-.08" y2="-.07"><stop stop-color="#be0"/><stop offset=".07" stop-color="#8e0"/><stop offset="1" stop-color="#e40"/></linearGradient><linearGradient id="g7o" x1=".68" y1=".04" x2=".61" y2=".99"><stop stop-color="#cf0"/><stop offset="1" stop-color="#4f0"/></linearGradient><linearGradient id="g7p" x1=".52" y1=".06" x2=".27" y2="1.07"><stop stop-color="#af0"/><stop offset="1" stop-color="#6f0"/></linearGradient><linearGradient id="g7q" x1=".65" y1="-.06" x2=".49" y2=".97"><stop stop-color="#8f0"/><stop offset="1" stop-color="#2f0"/></linearGradient><linearGradient id="g7r" x1=".23" y1=".1" x2=".35" y2=".97"><stop stop-color="#cb0"/><stop offset="1" stop-color="#4c0"/></linearGradient><linearGradient id="g7s" x1=".45" y1=".99" x2=".48" y2="-.02"><stop stop-color="#3e0"/><stop offset="1" stop-color="#ec0"/></linearGradient><linearGradient id="g7t" x1="1.28" y1=".11" x2="1.16" y2="1.02"><stop stop-color="#ed0"/><stop offset=".88" stop-color="#4e0"/><stop offset="1" stop-color="#1c1"/></linearGradient><linearGradient id="g7u" x1=".67" y1=".29" x2=".46" y2=".77"><stop stop-color="#290"/><stop offset="1" stop-color="#181"/></linearGradient><linearGradient id="g7v" x1="1.1" y1=".08" x2="1.03" y2="1"><stop stop-color="#c10"/><stop offset="1" stop-color="#9c0"/></linearGradient><linearGradient id="g7w" x1=".63" y1=".48" x2=".51" y2=".58"><stop stop-color="#a60"/><stop offset=".42" stop-color="#8a0"/><stop offset="1" stop-color="#a10"/></linearGradient><linearGradient id="g7x" x1=".85" y1=".11" x2=".73" y2="1.03"><stop stop-color="#c70"/><stop offset="1" stop-color="#8b0"/></linearGradient><linearGradient id="g7y" x1=".91" y1=".05" x2=".8" y2=".97"><stop stop-color="#c40"/><stop offset=".32" stop-color="#c70"/><stop offset="1" stop-color="#9c0"/></linearGradient><linearGradient id="g7z" x1=".54" y1=".03" x2=".43" y2=".93"><stop stop-color="#9f0"/><stop offset="1" stop-color="#4f0"/></linearGradient><linearGradient id="g80" x1=".46" y1=".95" x2=".62" y2=".12"><stop stop-color="#1d2"/><stop offset="1" stop-color="#5f0"/></linearGradient><linearGradient id="g81" x1=".94" y1=".49" x2=".26" y2="-.23"><stop stop-color="#d80"/><stop offset=".28" stop-color="#8d0"/><stop offset="1" stop-color="#d10"/></linearGradient><linearGradient id="g82" x1=".07" y1=".52" x2=".77" y2="1.17"><stop stop-color="#8d0"/><stop offset=".34" stop-color="#d80"/><stop offset="1" stop-color="#1c1"/></linearGradient><linearGradient id="g83" x1="-.48" y1=".35" x2="-.21" y2="1.08"><stop stop-color="#d70"/><stop offset=".24" stop-color="#d50"/><stop offset="1" stop-color="#1b1"/></linearGradient><linearGradient id="g84" x1=".71" y1=".52" x2=".52" y2=".36"><stop stop-color="#ab0"/><stop offset=".43" stop-color="#c40"/><stop offset="1" stop-color="#1a1"/></linearGradient><linearGradient id="g85" x1=".33" y1="1.04" x2=".46" y2=".02"><stop stop-color="#2e0"/><stop offset="1" stop-color="#8f0"/></linearGradient><linearGradient id="g86" x1=".58" y1="-.01" x2=".56" y2="1"><stop stop-color="#4f0"/><stop offset=".16" stop-color="#2e0"/><stop offset="1" stop-color="#0a3"/></linearGradient><linearGradient id="g87" x1=".54" y1=".06" x2=".29" y2="1.07"><stop stop-color="#7f0"/><stop offset="1" stop-color="#3f0"/></linearGradient><linearGradient id="g88" x1="1.17" y1=".01" x2="1.08" y2="1.09"><stop stop-color="#d90"/><stop offset="1" stop-color="#3d0"/></linearGradient><linearGradient id="g89" x1=".24" y1=".56" x2=".43" y2=".23"><stop stop-color="#093"/><stop offset=".94" stop-color="#3e0"/><stop offset="1" stop-color="#2d0"/></linearGradient><linearGradient id="g8a" x1="1.37" y1=".47" x2=".83" y2="1.23"><stop stop-color="#cb0"/><stop offset=".7" stop-color="#093"/><stop offset="1" stop-color="#3d0"/></linearGradient><linearGradient id="g8b" x1=".55" y1=".06" x2=".32" y2="1.07"><stop stop-color="#7f0"/><stop offset="1" stop-color="#3f0"/></linearGradient><linearGradient id="g8c" x1=".47" y1=".03" x2=".52" y2="1.01"><stop stop-color="#5e0"/><stop offset=".05" stop-color="#3e0"/><stop offset="1" stop-color="#057"/></linearGradient><linearGradient id="g8d" x1="-.15" y1=".3" x2=".04" y2="1.04"><stop stop-color="#c90"/><stop offset=".78" stop-color="#5c0"/><stop offset="1" stop-color="#3c0"/></linearGradient><linearGradient id="g8e" x1=".45" y1="1" x2=".47" y2="-.01"><stop stop-color="#2d0"/><stop offset=".24" stop-color="#5d0"/><stop offset="1" stop-color="#d90"/></linearGradient><linearGradient id="g8f" x1=".92" y1=".58" x2=".16" y2="1.02"><stop stop-color="#ea0"/><stop offset=".16" stop-color="#094"/><stop offset="1" stop-color="#2e0"/></linearGradient><linearGradient id="g8g" x1=".65" y1="0" x2=".65" y2="1"><stop stop-color="#5c0"/><stop offset=".31" stop-color="#2c0"/><stop offset="1" stop-color="#073"/></linearGradient><linearGradient id="g8h" x1=".6" y1=".17" x2=".34" y2="1.08"><stop stop-color="#5c0"/><stop offset=".16" stop-color="#3c0"/><stop offset="1" stop-color="#073"/></linearGradient><linearGradient id="g8i" x1=".53" y1=".95" x2=".64" y2="-.03"><stop stop-color="#3c0"/><stop offset="1" stop-color="#9c0"/></linearGradient><linearGradient id="g8j" x1=".27" y1="0" x2=".34" y2="1.04"><stop stop-color="#fd0"/><stop offset="1" stop-color="#7f0"/></linearGradient><linearGradient id="g8k" x1="-.27" y1=".69" x2="-.05" y2="-.02"><stop stop-color="#094"/><stop offset=".91" stop-color="#7f0"/><stop offset="1" stop-color="#ce0"/></linearGradient><linearGradient id="g8l" x1=".14" y1=".18" x2=".31" y2=".98"><stop stop-color="#7d0"/><stop offset=".06" stop-color="#3d0"/><stop offset="1" stop-color="#056"/></linearGradient><linearGradient id="g8m" x1=".67" y1="-.01" x2=".55" y2="1.06"><stop stop-color="#9b0"/><stop offset="1" stop-color="#3c0"/></linearGradient><linearGradient id="g8n" x1=".84" y1="-.08" x2=".28" y2="1.13"><stop stop-color="#9c0"/><stop offset="1" stop-color="#2c0"/></linearGradient><linearGradient id="g8o" x1=".95" y1="-.01" x2=".7" y2="1.02"><stop stop-color="#ad0"/><stop offset="1" stop-color="#2d0"/></linearGradient><linearGradient id="g8p" x1=".48" y1="-.06" x2=".36" y2=".99"><stop stop-color="#690"/><stop offset="1" stop-color="#490"/></linearGradient><linearGradient id="g8q" x1=".6" y1="0" x2=".59" y2="1.01"><stop stop-color="#d10"/><stop offset=".96" stop-color="#8d0"/><stop offset="1" stop-color="#7d0"/></linearGradient><linearGradient id="g8r" x1="1.27" y1=".26" x2="1.03" y2="1.25"><stop stop-color="#db0"/><stop offset=".19" stop-color="#bd0"/><stop offset="1" stop-color="#2d1"/></linearGradient><linearGradient id="g8s" x1=".26" y1="1.03" x2=".39" y2="-.07"><stop stop-color="#2c1"/><stop offset=".14" stop-color="#3d0"/><stop offset="1" stop-color="#bd0"/></linearGradient><linearGradient id="g8t" x1=".68" y1=".28" x2=".48" y2=".79"><stop stop-color="#a90"/><stop offset="1" stop-color="#5a0"/></linearGradient><linearGradient id="g8u" x1=".06" y1=".94" x2=".16" y2=".02"><stop stop-color="#2d1"/><stop offset=".5" stop-color="#7f0"/><stop offset="1" stop-color="#ee0"/></linearGradient><linearGradient id="g8v" x1=".57" y1=".07" x2=".31" y2="1.08"><stop stop-color="#7e0"/><stop offset="1" stop-color="#1c1"/></linearGradient><linearGradient id="g8w" x1=".79" y1="-.05" x2=".56" y2=".97"><stop stop-color="#6e0"/><stop offset="1" stop-color="#1b2"/></linearGradient><linearGradient id="g8x" x1=".33" y1=".96" x2=".39" y2="0"><stop stop-color="#3f0"/><stop offset="1" stop-color="#be0"/></linearGradient><linearGradient id="g8y" x1=".67" y1=".18" x2=".47" y2=".94"><stop stop-color="#4f0"/><stop offset=".12" stop-color="#3f0"/><stop offset="1" stop-color="#1d2"/></linearGradient><linearGradient id="g8z" x1=".04" y1=".25" x2=".22" y2=".94"><stop stop-color="#990"/><stop offset="1" stop-color="#290"/></linearGradient><linearGradient id="g90" x1="1.01" y1="0" x2=".88" y2="1.03"><stop stop-color="#dc0"/><stop offset="1" stop-color="#2d0"/></linearGradient><linearGradient id="g91" x1="1.16" y1=".11" x2="1.03" y2="1.01"><stop stop-color="#ed0"/><stop offset=".95" stop-color="#3e0"/><stop offset="1" stop-color="#1d1"/></linearGradient><linearGradient id="g92" x1=".64" y1="-.05" x2=".31" y2=".71"><stop stop-color="#3a0"/><stop offset="1" stop-color="#191"/></linearGradient><linearGradient id="g93" x1=".96" y1=".55" x2="-.05" y2=".81"><stop stop-color="#ec0"/><stop offset=".61" stop-color="#e60"/><stop offset="1" stop-color="#ae0"/></linearGradient><linearGradient id="g94" x1=".41" y1=".97" x2=".52" y2="-.05"><stop stop-color="#8e0"/><stop offset="1" stop-color="#ed0"/></linearGradient><linearGradient id="g95" x1=".24" y1=".09" x2=".34" y2=".98"><stop stop-color="#cb0"/><stop offset="1" stop-color="#3c0"/></linearGradient><linearGradient id="g96" x1=".4" y1=".99" x2=".46" y2="-.03"><stop stop-color="#3e0"/><stop offset="1" stop-color="#dc0"/></linearGradient><linearGradient id="g97" x1="1.23" y1=".21" x2=".26" y2="1.24"><stop stop-color="#9d0"/><stop offset="1" stop-color="#2c0"/></linearGradient><linearGradient id="g98" x1="1.33" y1=".43" x2=".75" y2="1.43"><stop stop-color="#d90"/><stop offset=".23" stop-color="#9d0"/><stop offset="1" stop-color="#2d0"/></linearGradient><linearGradient id="g99" x1=".59" y1=".22" x2=".35" y2=".89"><stop stop-color="#3b0"/><stop offset="1" stop-color="#191"/></linearGradient><linearGradient id="g9a" x1="1.06" y1=".03" x2=".95" y2=".99"><stop stop-color="#bc0"/><stop offset=".71" stop-color="#4d0"/><stop offset="1" stop-color="#1b1"/></linearGradient><linearGradient id="g9b" x1=".52" y1=".02" x2=".42" y2=".94"><stop stop-color="#9f0"/><stop offset="1" stop-color="#3f0"/></linearGradient><linearGradient id="g9c" x1=".67" y1=".17" x2=".47" y2=".94"><stop stop-color="#5f0"/><stop offset=".22" stop-color="#3f0"/><stop offset="1" stop-color="#1e2"/></linearGradient><linearGradient id="g9d" x1="-1.15" y1=".81" x2="-.98" y2="-.17"><stop stop-color="#066"/><stop offset=".93" stop-color="#6d0"/><stop offset="1" stop-color="#8d0"/></linearGradient><linearGradient id="g9e" x1="-.05" y1=".6" x2="1.05" y2=".47"><stop stop-color="#056"/><stop offset=".66" stop-color="#092"/><stop offset="1" stop-color="#6d0"/></linearGradient><linearGradient id="g9f" x1=".32" y1=".08" x2=".42" y2=".99"><stop stop-color="#8a0"/><stop offset="1" stop-color="#4a0"/></linearGradient><linearGradient id="g9g" x1=".96" y1=".52" x2=".21" y2="1.23"><stop stop-color="#d70"/><stop offset=".05" stop-color="#bc0"/><stop offset="1" stop-color="#6d0"/></linearGradient><linearGradient id="g9h" x1=".92" y1=".05" x2=".85" y2="1.06"><stop stop-color="#ea0"/><stop offset="1" stop-color="#4e0"/></linearGradient><linearGradient id="g9i" x1=".6" y1="-.02" x2=".31" y2="1.08"><stop stop-color="#5a0"/><stop offset="1" stop-color="#3a0"/></linearGradient><linearGradient id="g9j" x1=".38" y1=".44" x2=".46" y2=".37"><stop stop-color="#6c0"/><stop offset=".63" stop-color="#4c0"/><stop offset="1" stop-color="#1a1"/></linearGradient><linearGradient id="g9k" x1=".83" y1=".01" x2=".75" y2=".98"><stop stop-color="#ab0"/><stop offset=".42" stop-color="#6c0"/><stop offset="1" stop-color="#1a1"/></linearGradient><linearGradient id="g9l" x1="-.02" y1=".95" x2=".12" y2=".02"><stop stop-color="#1b1"/><stop offset=".69" stop-color="#7c0"/><stop offset="1" stop-color="#bc0"/></linearGradient><linearGradient id="g9m" x1=".66" y1="0" x2=".64" y2=".99"><stop stop-color="#c80"/><stop offset=".6" stop-color="#bc0"/><stop offset="1" stop-color="#7c0"/></linearGradient><linearGradient id="g9n" x1=".31" y1=".07" x2=".4" y2=".98"><stop stop-color="#ab0"/><stop offset="1" stop-color="#4c0"/></linearGradient><linearGradient id="g9o" x1=".76" y1="-.02" x2=".68" y2="1"><stop stop-color="#cd0"/><stop offset=".5" stop-color="#7e0"/><stop offset="1" stop-color="#2d1"/></linearGradient><linearGradient id="g9p" x1=".24" y1="1.02" x2=".34" y2="0"><stop stop-color="#2d1"/><stop offset=".25" stop-color="#4e0"/><stop offset="1" stop-color="#cd0"/></linearGradient><linearGradient id="g9q" x1=".57" y1=".07" x2=".8" y2=".69"><stop stop-color="#4b0"/><stop offset="1" stop-color="#1a0"/></linearGradient><linearGradient id="g9r" x1=".16" y1="-.07" x2=".7" y2="1.14"><stop stop-color="#5f0"/><stop offset="1" stop-color="#1d2"/></linearGradient><linearGradient id="g9s" x1=".88" y1="0" x2=".71" y2=".95"><stop stop-color="#8c0"/><stop offset=".49" stop-color="#4c0"/><stop offset="1" stop-color="#1a1"/></linearGradient><linearGradient id="g9t" x1=".88" y1=".06" x2=".79" y2="1.07"><stop stop-color="#e80"/><stop offset=".75" stop-color="#cd0"/><stop offset="1" stop-color="#ae0"/></linearGradient><linearGradient id="g9u" x1=".53" y1=".29" x2=".7" y2=".58"><stop stop-color="#bc0"/><stop offset="1" stop-color="#9d0"/></linearGradient><linearGradient id="g9v" x1=".23" y1=".16" x2=".4" y2=".98"><stop stop-color="#b70"/><stop offset="1" stop-color="#9a0"/></linearGradient><linearGradient id="g9w" x1="-.22" y1=".34" x2=".16" y2="1.22"><stop stop-color="#dc0"/><stop offset=".18" stop-color="#e90"/><stop offset="1" stop-color="#094"/></linearGradient><linearGradient id="g9x" x1=".94" y1=".53" x2=".04" y2="1.07"><stop stop-color="#7e0"/><stop offset=".25" stop-color="#e80"/><stop offset="1" stop-color="#084"/></linearGradient><linearGradient id="g9y" x1=".43" y1=".44" x2=".58" y2=".56"><stop stop-color="#073"/><stop offset=".91" stop-color="#6c0"/><stop offset="1" stop-color="#3c0"/></linearGradient><linearGradient id="g9z" x1=".96" y1="-.02" x2=".17" y2="1.12"><stop stop-color="#8d0"/><stop offset="1" stop-color="#1b1"/></linearGradient><linearGradient id="ga0" x1=".42" y1="1.09" x2=".65" y2="-.07"><stop stop-color="#1c1"/><stop offset=".16" stop-color="#3d0"/><stop offset="1" stop-color="#8d0"/></linearGradient><linearGradient id="ga1" x1=".17" y1="1.01" x2=".26" y2="-.06"><stop stop-color="#3d0"/><stop offset="1" stop-color="#bc0"/></linearGradient><linearGradient id="ga2" x1=".96" y1=".52" x2=".09" y2="1.12"><stop stop-color="#bd0"/><stop offset=".14" stop-color="#d60"/><stop offset="1" stop-color="#3d0"/></linearGradient><linearGradient id="ga3" x1=".28" y1=".21" x2=".46" y2=".87"><stop stop-color="#a90"/><stop offset="1" stop-color="#6a0"/></linearGradient><linearGradient id="ga4" x1=".46" y1=".99" x2=".49" y2="-.01"><stop stop-color="#3e0"/><stop offset="1" stop-color="#dc0"/></linearGradient><linearGradient id="ga5" x1=".81" y1=".53" x2=".34" y2="1"><stop stop-color="#ed0"/><stop offset=".3" stop-color="#094"/><stop offset="1" stop-color="#3f0"/></linearGradient><linearGradient id="ga6" x1=".73" y1="0" x2=".62" y2=".96"><stop stop-color="#5c0"/><stop offset=".37" stop-color="#2c0"/><stop offset="1" stop-color="#073"/></linearGradient><linearGradient id="ga7" x1=".43" y1=".26" x2=".02" y2=".84"><stop stop-color="#2a0"/><stop offset="1" stop-color="#181"/></linearGradient><linearGradient id="ga8" x1=".65" y1=".05" x2=".57" y2="1"><stop stop-color="#3e0"/><stop offset="1" stop-color="#048"/></linearGradient><linearGradient id="ga9" x1=".24" y1=".62" x2=".45" y2=".27"><stop stop-color="#9b0"/><stop offset=".16" stop-color="#7b0"/><stop offset="1" stop-color="#b60"/></linearGradient><linearGradient id="gaa" x1=".87" y1=".52" x2=".6" y2=".87"><stop stop-color="#9f0"/><stop offset=".26" stop-color="#f80"/><stop offset="1" stop-color="#1c2"/></linearGradient><linearGradient id="gab" x1=".52" y1=".25" x2=".28" y2=".75"><stop stop-color="#3a0"/><stop offset="1" stop-color="#190"/></linearGradient><linearGradient id="gac" x1=".43" y1=".96" x2=".5" y2="-.02"><stop stop-color="#2c0"/><stop offset="1" stop-color="#bc0"/></linearGradient><linearGradient id="gad" x1=".93" y1=".16" x2=".8" y2=".98"><stop stop-color="#ab0"/><stop offset="1" stop-color="#2c0"/></linearGradient><linearGradient id="gae" x1=".32" y1=".61" x2=".7" y2=".42"><stop stop-color="#ab0"/><stop offset="1" stop-color="#2c0"/></linearGradient><linearGradient id="gaf" x1=".4" y1="1" x2=".4" y2="0"><stop stop-color="#2e1"/><stop offset=".53" stop-color="#8f0"/><stop offset="1" stop-color="#ee0"/></linearGradient><linearGradient id="gag" x1=".48" y1=".94" x2=".57" y2=".06"><stop stop-color="#2e1"/><stop offset="1" stop-color="#8f0"/></linearGradient><linearGradient id="gah" x1="-.47" y1=".3" x2="-.3" y2="1.15"><stop stop-color="#c60"/><stop offset=".81" stop-color="#8c0"/><stop offset="1" stop-color="#7c0"/></linearGradient><linearGradient id="gai" x1=".16" y1=".52" x2=".57" y2="1.18"><stop stop-color="#d70"/><stop offset=".01" stop-color="#9d0"/><stop offset="1" stop-color="#3d0"/></linearGradient><linearGradient id="gaj" x1="1.55" y1=".49" x2="1.28" y2="1.28"><stop stop-color="#e80"/><stop offset=".79" stop-color="#1c2"/><stop offset="1" stop-color="#3e0"/></linearGradient><linearGradient id="gak" x1=".59" y1=".4" x2=".44" y2=".61"><stop stop-color="#2a0"/><stop offset="1" stop-color="#181"/></linearGradient><linearGradient id="gal" x1=".15" y1=".22" x2=".32" y2=".92"><stop stop-color="#890"/><stop offset="1" stop-color="#390"/></linearGradient><linearGradient id="gam" x1="1.18" y1=".03" x2="1" y2="1.06"><stop stop-color="#cd0"/><stop offset=".75" stop-color="#4e0"/><stop offset="1" stop-color="#1c1"/></linearGradient><linearGradient id="gan" x1=".08" y1="1.01" x2=".21" y2="-.01"><stop stop-color="#1c1"/><stop offset=".39" stop-color="#6e0"/><stop offset="1" stop-color="#cd0"/></linearGradient><linearGradient id="gao" x1=".49" y1="1.14" x2=".83" y2="-.05"><stop stop-color="#1c1"/><stop offset=".19" stop-color="#2e0"/><stop offset="1" stop-color="#6e0"/></linearGradient><linearGradient id="gap" x1=".54" y1=".05" x2=".37" y2=".87"><stop stop-color="#6f0"/><stop offset="1" stop-color="#2f0"/></linearGradient><linearGradient id="gaq" x1=".64" y1=".15" x2=".46" y2=".95"><stop stop-color="#3f0"/><stop offset="1" stop-color="#1c3"/></linearGradient><linearGradient id="gar" x1=".67" y1=".22" x2=".47" y2=".83"><stop stop-color="#7b0"/><stop offset="1" stop-color="#2b0"/></linearGradient><linearGradient id="gas" x1=".71" y1=".12" x2=".52" y2=".88"><stop stop-color="#8b0"/><stop offset="1" stop-color="#3b0"/></linearGradient><linearGradient id="gat" x1=".71" y1=".08" x2=".53" y2="1.09"><stop stop-color="#be0"/><stop offset="1" stop-color="#4e0"/></linearGradient><linearGradient id="gau" x1=".77" y1="-.06" x2=".5" y2=".95"><stop stop-color="#6f0"/><stop offset="1" stop-color="#2d1"/></linearGradient><linearGradient id="gav" x1=".99" y1="-.01" x2=".39" y2="1.19"><stop stop-color="#9d0"/><stop offset="1" stop-color="#1c1"/></linearGradient><linearGradient id="gaw" x1="1.16" y1=".04" x2=".91" y2="1.06"><stop stop-color="#9e0"/><stop offset="1" stop-color="#1c1"/></linearGradient><linearGradient id="gax" x1=".67" y1=".03" x2=".46" y2="1.09"><stop stop-color="#9d0"/><stop offset="1" stop-color="#1b1"/></linearGradient><linearGradient id="gay" x1="1.16" y1=".04" x2=".9" y2="1.09"><stop stop-color="#9d0"/><stop offset="1" stop-color="#1b1"/></linearGradient><linearGradient id="gaz" x1=".85" y1=".06" x2=".75" y2=".97"><stop stop-color="#ae0"/><stop offset=".88" stop-color="#1d1"/><stop offset="1" stop-color="#1b3"/></linearGradient><linearGradient id="gb0" x1=".59" y1=".02" x2=".55" y2=".99"><stop stop-color="#2f1"/><stop offset="1" stop-color="#0b4"/></linearGradient><linearGradient id="gb1" x1=".05" y1="1.02" x2=".37" y2=".03"><stop stop-color="#066"/><stop offset="1" stop-color="#1d1"/></linearGradient><linearGradient id="gb2" x1=".97" y1="-.01" x2=".72" y2="1"><stop stop-color="#1b3"/><stop offset="1" stop-color="#038"/></linearGradient><linearGradient id="gb3" x1=".27" y1=".96" x2=".33" y2=".01"><stop stop-color="#8e0"/><stop offset="1" stop-color="#eb0"/></linearGradient><linearGradient id="gb4" x1=".36" y1=".97" x2=".44" y2=".03"><stop stop-color="#1c2"/><stop offset="1" stop-color="#9f0"/></linearGradient><linearGradient id="gb5" x1=".71" y1=".07" x2=".5" y2="1.1"><stop stop-color="#8d0"/><stop offset="1" stop-color="#1b2"/></linearGradient><linearGradient id="gb6" x1=".72" y1=".6" x2=".3" y2=".39"><stop stop-color="#3d0"/><stop offset=".02" stop-color="#7d0"/><stop offset="1" stop-color="#1b2"/></linearGradient><linearGradient id="gb7" x1=".34" y1=".91" x2=".49" y2=".03"><stop stop-color="#4f0"/><stop offset="1" stop-color="#9f0"/></linearGradient><linearGradient id="gb8" x1=".58" y1=".19" x2=".29" y2=".81"><stop stop-color="#4f0"/><stop offset="1" stop-color="#3f0"/></linearGradient><linearGradient id="gb9" x1=".17" y1="1.02" x2=".29" y2=".01"><stop stop-color="#1b2"/><stop offset="1" stop-color="#8e0"/></linearGradient><linearGradient id="gba" x1=".69" y1="-.05" x2=".53" y2=".97"><stop stop-color="#1c2"/><stop offset="1" stop-color="#057"/></linearGradient><linearGradient id="gbb" x1=".67" y1="-.09" x2=".35" y2="1.09"><stop stop-color="#6d0"/><stop offset=".31" stop-color="#4d0"/><stop offset="1" stop-color="#1b2"/></linearGradient><linearGradient id="gbc" x1=".62" y1="0" x2=".6" y2="1"><stop stop-color="#6e0"/><stop offset=".54" stop-color="#1b2"/><stop offset="1" stop-color="#075"/></linearGradient><linearGradient id="gbd" x1="-.39" y1=".75" x2=".15" y2="-.08"><stop stop-color="#075"/><stop offset=".93" stop-color="#2e0"/><stop offset="1" stop-color="#7e0"/></linearGradient><linearGradient id="gbe" x1=".7" y1="0" x2=".45" y2="1.11"><stop stop-color="#3b0"/><stop offset=".09" stop-color="#2b0"/><stop offset="1" stop-color="#064"/></linearGradient><linearGradient id="gbf" x1=".67" y1=".11" x2=".39" y2="1.11"><stop stop-color="#3e0"/><stop offset="1" stop-color="#075"/></linearGradient><linearGradient id="gbg" x1="1.11" y1=".01" x2=".99" y2="1.03"><stop stop-color="#3e0"/><stop offset=".56" stop-color="#075"/><stop offset="1" stop-color="#029"/></linearGradient><linearGradient id="gbh" x1="-.44" y1=".9" x2="-.21" y2="-.1"><stop stop-color="#028"/><stop offset=".78" stop-color="#1b2"/><stop offset="1" stop-color="#3e0"/></linearGradient><linearGradient id="gbi" x1=".24" y1="1.06" x2=".55" y2="-.12"><stop stop-color="#028"/><stop offset="1" stop-color="#1b2"/></linearGradient><linearGradient id="gbj" x1=".15" y1="1.05" x2=".46" y2=".05"><stop stop-color="#048"/><stop offset="1" stop-color="#1c2"/></linearGradient><linearGradient id="gbk" x1=".59" y1=".8" x2=".21" y2=".6"><stop stop-color="#065"/><stop offset="1" stop-color="#037"/></linearGradient><linearGradient id="gbl" x1=".75" y1=".19" x2=".34" y2="1.14"><stop stop-color="#4e0"/><stop offset=".33" stop-color="#2d1"/><stop offset="1" stop-color="#094"/></linearGradient><linearGradient id="gbm" x1=".77" y1="-.05" x2=".55" y2=".97"><stop stop-color="#2d1"/><stop offset="1" stop-color="#067"/></linearGradient><linearGradient id="gbn" x1="1.12" y1=".31" x2="-.09" y2=".8"><stop stop-color="#074"/><stop offset="1" stop-color="#008"/></linearGradient><linearGradient id="gbo" x1=".46" y1=".02" x2=".5" y2="1.01"><stop stop-color="#075"/><stop offset="1" stop-color="#009"/></linearGradient><linearGradient id="gbp" x1=".65" y1=".06" x2=".51" y2="1.07"><stop stop-color="#085"/><stop offset="1" stop-color="#00a"/></linearGradient><linearGradient id="gbq" x1=".92" y1=".93" x2="-.03" y2=".84"><stop stop-color="#029"/><stop offset="1" stop-color="#00a"/></linearGradient><linearGradient id="gbr" x1="1.09" y1=".25" x2="-.11" y2=".71"><stop stop-color="#075"/><stop offset="1" stop-color="#008"/></linearGradient><linearGradient id="gbs" x1=".61" y1="-.01" x2=".58" y2="1.02"><stop stop-color="#075"/><stop offset="1" stop-color="#008"/></linearGradient><linearGradient id="gbt" x1=".89" y1="0" x2=".12" y2="1.08"><stop stop-color="#093"/><stop offset="1" stop-color="#019"/></linearGradient><linearGradient id="gbu" x1="1.19" y1=".07" x2=".81" y2="1.04"><stop stop-color="#093"/><stop offset="1" stop-color="#009"/></linearGradient><linearGradient id="gbv" x1=".64" y1=".05" x2=".48" y2="1.07"><stop stop-color="#094"/><stop offset="1" stop-color="#009"/></linearGradient><linearGradient id="gbw" x1="1.07" y1=".04" x2=".57" y2=".93"><stop stop-color="#056"/><stop offset="1" stop-color="#009"/></linearGradient></defs><path color="#000" d="M384 111l2-1 6 2-2 1zM390 113l2-1 6 2-2 1zM396 115l2-1 6 2-2 1zM402 117l2-1 7 2-2 1zM409 119l2-1 6 3-1 0zM416 121l1 0 7 2-1 1zM423 124l1-1 8 2-2 1zM430 126l2-1 7 3-2 1zM437 129l2-1 8 2-2 1zM445 131l2-1 8 3-2 1zM453 134l2-1 8 3-2 1zM461 137l2-1 9 3-2 1zM470 140l2-1 8 3-1 1zM479 143l1-1 10 3-2 1zM488 146l2-1 9 3-1 1z"/><path color="#003" d="M384 88l0 23 6 2 0-21zM390 92l0 21 6 2 0-22zM396 93l0 22 6 2 1-24z"/><path style="fill:url(#g1);stroke:url(#g1)" d="M403 93l-1 24 7 2z"/><path style="fill:url(#g2);stroke:url(#g2)" d="M403 93l6 26 1-23z"/><path style="fill:url(#g3);stroke:url(#g3)" d="M410 96l-1 23 7 2z"/><path style="fill:url(#g4);stroke:url(#g4)" d="M410 96l6 25 1-23z"/><path style="fill:url(#g5);stroke:url(#g5)" d="M417 98l-1 23 7 3z"/><path style="fill:url(#g6);stroke:url(#g6)" d="M417 98l6 26 2-29z"/><path style="fill:url(#g7);stroke:url(#g7)" d="M425 95l-2 29 7 2z"/><path style="fill:url(#g8);stroke:url(#g8)" d="M425 95l5 31 1-22z"/><path style="fill:url(#g9);stroke:url(#g9)" d="M431 104l-1 22 7 3z"/><path style="fill:url(#ga);stroke:url(#ga)" d="M431 104l6 25 2-24z"/><path style="fill:url(#gb);stroke:url(#gb)" d="M439 105l-2 24 8 2z"/><path style="fill:url(#gc);stroke:url(#gc)" d="M439 105l6 26 2-20z"/><path style="fill:url(#gd);stroke:url(#gd)" d="M447 111l-2 20 8 3z"/><path style="fill:url(#ge);stroke:url(#ge)" d="M447 111l6 23 2-22z"/><path style="fill:url(#gf);stroke:url(#gf)" d="M455 112l-2 22 8 3z"/><path style="fill:url(#gg);stroke:url(#gg)" d="M455 112l6 25 5-32z"/><path style="fill:url(#gh);stroke:url(#gh)" d="M466 105l-5 32 9 3z"/><path style="fill:url(#gi);stroke:url(#gi)" d="M466 105l4 35 3-25z"/><path style="fill:url(#gj);stroke:url(#gj)" d="M473 115l-3 25 9 3z"/><path style="fill:url(#gk);stroke:url(#gk)" d="M473 115l6 28 3-23z"/><path style="fill:url(#gl);stroke:url(#gl)" d="M482 120l-3 23 9 3z"/><path style="fill:url(#gm);stroke:url(#gm)" d="M482 120l6 26 4-24z"/><path style="fill:url(#gn);stroke:url(#gn)" d="M492 122l-4 24 10 3z"/><path style="fill:url(#go);stroke:url(#go)" d="M492 122l6 27 4-23z"/><path style="fill:url(#gp);stroke:url(#gp)" d="M385 52l-1 36 6 4z"/><path style="fill:url(#gq);stroke:url(#gq)" d="M385 52l5 40 1-34z"/><path style="fill:url(#gr);stroke:url(#gr)" d="M391 58l-1 34 6 1z"/><path style="fill:url(#gs);stroke:url(#gs)" d="M391 58l5 35 5-69z"/><path style="fill:url(#gt);stroke:url(#gt)" d="M401 24l-5 69 7 0z"/><path style="fill:url(#gu);stroke:url(#gu)" d="M401 24l2 69 1-34z"/><path style="fill:url(#gv);stroke:url(#gv)" d="M404 59l-1 34 7 3z"/><path style="fill:url(#gw);stroke:url(#gw)" d="M404 59l6 37 2-38z"/><path style="fill:url(#gx);stroke:url(#gx)" d="M412 58l-2 38 7 2z"/><path style="fill:url(#gy);stroke:url(#gy)" d="M412 58l5 40 4-51z"/><path style="fill:url(#gz);stroke:url(#gz)" d="M421 47l-4 51 8-3z"/><path style="fill:url(#g10);stroke:url(#g10)" d="M421 47l4 48 1-22z"/><path style="fill:url(#g11);stroke:url(#g11)" d="M426 73l-1 22 6 9z"/><path style="fill:url(#g12);stroke:url(#g12)" d="M426 73l5 31 4-39z"/><path style="fill:url(#g13);stroke:url(#g13)" d="M435 65l-4 39 8 1z"/><path style="fill:url(#g14);stroke:url(#g14)" d="M435 65l4 40 4-36z"/><path style="fill:url(#g15);stroke:url(#g15)" d="M443 69l-4 36 8 6z"/><path style="fill:url(#g16);stroke:url(#g16)" d="M443 69l4 42 4-39z"/><path style="fill:url(#g17);stroke:url(#g17)" d="M451 72l-4 39 8 1z"/><path style="fill:url(#g18);stroke:url(#g18)" d="M451 72l4 40 2-21z"/><path color="#027" d="M457 91l-2 21 11-7-1-6z"/><path style="fill:url(#g19);stroke:url(#g19)" d="M465 99l1 6 7 10z"/><path style="fill:url(#g1a);stroke:url(#g1a)" d="M465 99l8 16 4-27z"/><path style="fill:url(#g1b);stroke:url(#g1b)" d="M477 88l-4 27 9 5z"/><path style="fill:url(#g1c);stroke:url(#g1c)" d="M477 88l5 32 5-31z"/><path style="fill:url(#g1d);stroke:url(#g1d)" d="M487 89l-5 31 10 2z"/><path style="fill:url(#g1e);stroke:url(#g1e)" d="M487 89l5 33 12-56z"/><path style="fill:url(#g1f);stroke:url(#g1f)" d="M504 66l-12 56 10 4z"/><path style="fill:url(#g1g);stroke:url(#g1g)" d="M504 66l-2 60 8-35z"/><path color="#6f0" d="M383 51l2 1 6 6z"/><path color="#7c0" d="M383 51l8 7-1-18z"/><path color="#b90" d="M390 40l1 18 10-34-2-3zM399 21l2 3 3 35z"/><path color="#980" d="M399 21l5 38 1-28z"/><path color="#7b0" d="M405 31l-1 28 8-1z"/><path color="#8d0" d="M405 31l7 27-3 8z"/><path color="#6c0" d="M409 66l3-8 9-11-3 11z"/><path color="#7e1" d="M418 58l3-11 5 26z"/><path color="#3a0" d="M418 58l8 15-2-6z"/><path color="#2b0" d="M424 67l2 6 9-8z"/><path color="#4f0" d="M424 67l11-2-3 5z"/><path color="#3f1" d="M432 70l3-5 8 4-4 10z"/><path color="#2d1" d="M439 79l4-10 8 3z"/><path color="#5c1" d="M439 79l12-7 2-20z"/><path color="#391" d="M453 52l-2 20 6 19 2-19z"/><path style="fill:url(#g1h);stroke:url(#g1h)" d="M459 72l-2 19 8 8z"/><path style="fill:url(#g1i);stroke:url(#g1i)" d="M459 72l6 27 3-27z"/><path style="fill:url(#g1j);stroke:url(#g1j)" d="M468 72l-3 27 12-11z"/><path style="fill:url(#g1k);stroke:url(#g1k)" d="M468 72l9 16 2-20z"/><path color="#2a1" d="M479 68l-2 20 10 1 0-8z"/><path color="#4b1" d="M487 81l0 8 17-23z"/><path color="#5d0" d="M487 81l17-15-5 14z"/><path style="fill:url(#g1l);stroke:url(#g1l)" d="M499 80l5-14 6 25z"/><path style="fill:url(#g1m);stroke:url(#g1m)" d="M499 80l11 11-4 7z"/><path color="#9b0" d="M381 42l2 9 7-11z"/><path color="#ae0" d="M381 42l9-2-3 17z"/><path color="#990" d="M387 57l3-17 9-19z"/><path color="#870" d="M387 57l12-36-3 6z"/><path color="#fa0" d="M396 27l3-6 6 10-3 15z"/><path color="#ad0" d="M402 46l3-15 4 35z"/><path color="#5c0" d="M402 46l7 20-1-5z"/><path color="#4b0" d="M408 61l1 5 9-8-3 0z"/><path color="#7f0" d="M415 58l3 0 6 9z"/><path color="#5b0" d="M415 58l9 9 0-9z"/><path color="#5a0" d="M424 58l0 9 8 3 1-17z"/><path style="fill:url(#g1n);stroke:url(#g1n)" d="M433 53l-1 17 7 9z"/><path style="fill:url(#g1o);stroke:url(#g1o)" d="M433 53l6 26 7-61z"/><path style="fill:url(#g1p);stroke:url(#g1p)" d="M446 18l-7 61 14-27z"/><path style="fill:url(#g1q);stroke:url(#g1q)" d="M446 18l7 34-4 10z"/><path color="#9f0" d="M449 62l4-10 6 20z"/><path color="#8b0" d="M449 62l10 10 4-35z"/><path style="fill:url(#g1r);stroke:url(#g1r)" d="M463 37l-4 35 9 0z"/><path style="fill:url(#g1s);stroke:url(#g1s)" d="M463 37l5 35-1-4z"/><path color="#5a0" d="M467 68l1 4 11-4z"/><path color="#8f0" d="M467 68l12 0-2 6z"/><path color="#5f0" d="M477 74l2-6 8 13-2 1z"/><path color="#3d0" d="M485 82l2-1 12-1z"/><path color="#5c0" d="M485 82l14-2 2-16z"/><path style="fill:url(#g1t);stroke:url(#g1t)" d="M501 64l-2 16 7 18z"/><path style="fill:url(#g1u);stroke:url(#g1u)" d="M501 64l5 34 12-52z"/><path color="#9f0" d="M378 51l3-9 6 15z"/><path color="#5c0" d="M378 51l9 6-2-2z"/><path color="#990" d="M385 55l2 2 9-30-2-8z"/><path color="#b70" d="M394 19l2 8 6 19z"/><path color="#db0" d="M394 19l8 27-3 1z"/><path color="#af0" d="M399 47l3-1 6 15z"/><path color="#6a0" d="M399 47l9 14-2-10z"/><path color="#6b0" d="M406 51l2 10 7-3z"/><path color="#8f0" d="M406 51l9 7-2 7z"/><path color="#7e0" d="M413 65l2-7 9 0-3 3z"/><path color="#7d0" d="M421 61l3-3 9-5-4 12z"/><path style="fill:url(#g1v);stroke:url(#g1v)" d="M429 65l4-12 13-35z"/><path style="fill:url(#g1w);stroke:url(#g1w)" d="M429 65l17-47-10 59z"/><path style="fill:url(#g1x);stroke:url(#g1x)" d="M436 77l10-59 3 44z"/><path style="fill:url(#g1y);stroke:url(#g1y)" d="M436 77l13-15-2 1z"/><path style="fill:url(#g1z);stroke:url(#g1z)" d="M447 63l2-1 14-25z"/><path style="fill:url(#g20);stroke:url(#g20)" d="M447 63l16-26-8 35z"/><path style="fill:url(#g21);stroke:url(#g21)" d="M455 72l8-35 4 31z"/><path style="fill:url(#g22);stroke:url(#g22)" d="M455 72l12-4-4 11z"/><path color="#5f0" d="M463 79l4-11 10 6z"/><path color="#6c0" d="M463 79l14-5 1-16z"/><path color="#5a0" d="M478 58l-1 16 8 8 0-6z"/><path color="#5c0" d="M485 76l0 6 16-18z"/><path color="#7e0" d="M485 76l16-12-5 14z"/><path style="fill:url(#g23);stroke:url(#g23)" d="M496 78l5-14 17-18z"/><path style="fill:url(#g24);stroke:url(#g24)" d="M496 78l22-32-10 33z"/><path color="#7a0" d="M377 39l1 12 7 4z"/><path color="#af0" d="M377 39l8 16-3 2z"/><path color="#790" d="M382 57l3-2 9-36z"/><path color="#990" d="M382 57l12-38-4 27z"/><path color="#cb0" d="M390 46l4-27 5 28z"/><path color="#ba0" d="M390 46l9 1 0-18z"/><path color="#990" d="M399 29l0 18 7 4z"/><path color="#cd0" d="M399 29l7 22-2 3z"/><path color="#8f0" d="M404 54l2-3 7 14-2 0z"/><path color="#4b0" d="M411 65l2 0 8-4-2 0z"/><path color="#7f0" d="M419 61l2 0 8 4z"/><path color="#5b0" d="M419 61l10 4-1-7z"/><path color="#4a0" d="M428 58l1 7 7 12z"/><path color="#4d2" d="M428 58l8 19-3 6z"/><path color="#391" d="M433 83l3-6 11-14z"/><path color="#6b1" d="M433 83l14-20-1-9z"/><path color="#690" d="M446 54l1 9 8 9z"/><path color="#8f0" d="M446 54l9 18-2 0z"/><path color="#4f0" d="M453 72l2 0 8 7z"/><path color="#3a0" d="M453 72l10 7 0-8z"/><path color="#6c0" d="M463 71l0 8 15-21z"/><path color="#6c1" d="M463 71l15-13-9 33z"/><path style="fill:url(#g25);stroke:url(#g25)" d="M469 91l9-33 7 18z"/><path style="fill:url(#g26);stroke:url(#g26)" d="M469 91l16-15-7 23z"/><path style="fill:url(#g27);stroke:url(#g27)" d="M478 99l7-23 11 2z"/><path style="fill:url(#g28);stroke:url(#g28)" d="M478 99l18-21-5 15z"/><path style="fill:url(#g29);stroke:url(#g29)" d="M491 93l5-15 12 1z"/><path style="fill:url(#g2a);stroke:url(#g2a)" d="M491 93l17-14-5 12z"/><path style="fill:url(#g2b);stroke:url(#g2b)" d="M376 23l1 16 5 18z"/><path style="fill:url(#g2c);stroke:url(#g2c)" d="M376 23l6 34 1-39z"/><path style="fill:url(#g2d);stroke:url(#g2d)" d="M383 18l-1 39 8-11z"/><path style="fill:url(#g2e);stroke:url(#g2e)" d="M383 18l7 28-1-11z"/><path color="#c90" d="M389 35l1 11 9-17z"/><path color="#eb0" d="M389 35l10-6-4 14z"/><path color="#dc0" d="M395 43l4-14 5 25z"/><path color="#ac0" d="M395 43l9 11-2-3z"/><path color="#7d0" d="M402 51l2 3 7 11z"/><path color="#8c0" d="M402 51l9 14 0-23z"/><path style="fill:url(#g2f);stroke:url(#g2f)" d="M411 42l0 23 8-4z"/><path style="fill:url(#g2g);stroke:url(#g2g)" d="M411 42l8 19 0-17z"/><path color="#8b0" d="M419 44l0 17 9-3z"/><path color="#bf0" d="M419 44l9 14-3 6z"/><path color="#6e1" d="M425 64l3-6 5 25z"/><path color="#391" d="M425 64l8 19-1-12z"/><path color="#5b1" d="M432 71l1 12 13-29z"/><path color="#7d0" d="M432 71l14-17-4 15z"/><path style="fill:url(#g2h);stroke:url(#g2h)" d="M442 69l4-15 7 18z"/><path style="fill:url(#g2i);stroke:url(#g2i)" d="M442 69l11 3-4 12z"/><path color="#4d1" d="M449 84l4-12 10-1z"/><path color="#3a0" d="M449 84l14-13-2 2z"/><path color="#4e1" d="M461 73l2-2 6 20z"/><path color="#291" d="M461 73l8 18 0-10z"/><path style="fill:url(#g2j);stroke:url(#g2j)" d="M469 81l0 10 9 8z"/><path style="fill:url(#g2k);stroke:url(#g2k)" d="M469 81l9 18 6-38z"/><path style="fill:url(#g2l);stroke:url(#g2l)" d="M484 61l-6 38 13-6z"/><path style="fill:url(#g2m);stroke:url(#g2m)" d="M484 61l7 32 0-9z"/><path color="#2a1" d="M491 84l0 9 12-2z"/><path color="#2e1" d="M491 84l12 7-4 8z"/><path color="#a40" d="M374 20l2 3 7-5z"/><path color="#d80" d="M374 20l9-2-4 32z"/><path style="fill:url(#g2n);stroke:url(#g2n)" d="M379 50l4-32 6 17z"/><path style="fill:url(#g2o);stroke:url(#g2o)" d="M379 50l10-15-4 26z"/><path color="#ac0" d="M385 61l4-26 6 8z"/><path color="#9b0" d="M385 61l10-18-1-6z"/><path color="#990" d="M394 37l1 6 7 8z"/><path color="#ae0" d="M394 37l8 14-3 15z"/><path color="#8c0" d="M399 66l3-15 9-9z"/><path color="#8a0" d="M399 66l12-24-3 1z"/><path color="#de0" d="M408 43l3-1 8 2-5 19z"/><path color="#9e0" d="M414 63l5-19 6 20z"/><path color="#6b0" d="M414 63l11 1-1-9z"/><path color="#5a0" d="M424 55l1 9 7 7-1-7z"/><path color="#4a0" d="M431 64l1 7 10-2z"/><path color="#7f0" d="M431 64l11 5-2 0z"/><path style="fill:url(#g2p);stroke:url(#g2p)" d="M440 69l2 0 7 15z"/><path style="fill:url(#g2q);stroke:url(#g2q)" d="M440 69l9 15 6-53z"/><path style="fill:url(#g2r);stroke:url(#g2r)" d="M455 31l-6 53 12-11z"/><path style="fill:url(#g2s);stroke:url(#g2s)" d="M455 31l6 42-5 12z"/><path style="fill:url(#g2t);stroke:url(#g2t)" d="M456 85l5-12 8 8z"/><path style="fill:url(#g2u);stroke:url(#g2u)" d="M456 85l13-4-5 16z"/><path style="fill:url(#g2v);stroke:url(#g2v)" d="M464 97l5-16 15-20z"/><path style="fill:url(#g2w);stroke:url(#g2w)" d="M464 97l20-36-7 26z"/><path style="fill:url(#g2x);stroke:url(#g2x)" d="M477 87l7-26 7 23z"/><path style="fill:url(#g2y);stroke:url(#g2y)" d="M477 87l14-3-3 6z"/><path style="fill:url(#g2z);stroke:url(#g2z)" d="M488 90l3-6 8 15z"/><path style="fill:url(#g30);stroke:url(#g30)" d="M488 90l11 9 12-57z"/><path color="#bb0" d="M370 48l4-28 5 30z"/><path color="#a90" d="M370 48l9 2 0-36z"/><path color="#890" d="M379 14l0 36 6 11-1-16z"/><path color="#9c0" d="M384 45l1 16 9-24z"/><path color="#bd0" d="M384 45l10-8-4 23z"/><path color="#8d0" d="M390 60l4-23 5 29z"/><path color="#790" d="M390 60l9 6 2-55z"/><path color="#980" d="M401 11l-2 55 9-23z"/><path color="#ca0" d="M401 11l7 32-4 18z"/><path color="#9e0" d="M404 61l4-18 6 20z"/><path color="#6c0" d="M404 61l10 2-2-2z"/><path color="#690" d="M412 61l2 2 10-8z"/><path color="#8e0" d="M412 61l12-6-4 13zM420 68l4-13 7 9z"/><path color="#7c0" d="M420 68l11-4 0-12z"/><path color="#6a0" d="M431 52l0 12 9 5z"/><path color="#8f0" d="M431 52l9 17-3 8z"/><path color="#680" d="M437 77l3-8 15-38-6 30z"/><path style="fill:url(#g31);stroke:url(#g31)" d="M449 61l6-30 1 54z"/><path style="fill:url(#g32);stroke:url(#g32)" d="M449 61l7 24 0-9z"/><path color="#281" d="M456 76l0 9 8 12 2-21z"/><path style="fill:url(#g33);stroke:url(#g33)" d="M466 76l-2 21 13-10z"/><path style="fill:url(#g34);stroke:url(#g34)" d="M466 76l11 11-1-6z"/><path color="#290" d="M476 81l1 6 11 3-1-5z"/><path style="fill:url(#g35);stroke:url(#g35)" d="M487 85l1 5 23-48z"/><path style="fill:url(#g36);stroke:url(#g36)" d="M487 85l24-43-12 42z"/><path color="#770" d="M367 57l3-9 9-34z"/><path color="#990" d="M367 57l12-43-5 29z"/><path color="#da0" d="M374 43l5-29 5 31z"/><path color="#c80" d="M374 43l10 2 0-35z"/><path color="#980" d="M384 10l0 35 6 15z"/><path color="#8a0" d="M384 10l6 50-3 8z"/><path color="#760" d="M387 68l3-8 11-49-3 12z"/><path style="fill:url(#g37);stroke:url(#g37)" d="M398 23l3-12 3 50z"/><path style="fill:url(#g38);stroke:url(#g38)" d="M398 23l6 38-3 13z"/><path color="#5d0" d="M401 74l3-13 8 0-3 10z"/><path color="#6f0" d="M409 71l3-10 8 7z"/><path color="#3a0" d="M409 71l11-3-2-2z"/><path color="#6a0" d="M418 66l2 2 11-16z"/><path color="#7d0" d="M418 66l13-14-6 24z"/><path color="#6e0" d="M425 76l6-24 6 25z"/><path color="#4c0" d="M425 76l12 1-1-13z"/><path color="#6c0" d="M436 64l1 13 12-16z"/><path color="#7d1" d="M436 64l13-3-7 26z"/><path color="#5d1" d="M442 87l7-26 7 15z"/><path color="#290" d="M442 87l14-11-2 1z"/><path color="#5e0" d="M454 77l2-1 10 0-2 1z"/><path color="#6f0" d="M464 77l2-1 10 5z"/><path color="#4b0" d="M464 77l12 4 0-8z"/><path color="#4a0" d="M476 73l0 8 11 4-1-4z"/><path color="#3a0" d="M486 81l1 4 12-1z"/><path color="#5f0" d="M486 81l13 3-3 7z"/><path color="#8c0" d="M365 48l2 9 7-14z"/><path color="#bc0" d="M365 48l9-5-2 2z"/><path color="#a70" d="M372 45l2-2 10-33z"/><path color="#b90" d="M372 45l12-35-5 39z"/><path style="fill:url(#g39);stroke:url(#g39)" d="M379 49l5-39 3 58z"/><path style="fill:url(#g3a);stroke:url(#g3a)" d="M379 49l8 19-1-15z"/><path color="#8b0" d="M386 53l1 15 11-45z"/><path color="#aa0" d="M386 53l12-30-5 32z"/><path color="#9b0" d="M393 55l5-32 3 51z"/><path color="#880" d="M393 55l8 19 4-64z"/><path style="fill:url(#g3b);stroke:url(#g3b)" d="M405 10l-4 64 8-3z"/><path style="fill:url(#g3c);stroke:url(#g3c)" d="M405 10l4 61-1-9z"/><path color="#5b0" d="M408 62l1 9 9-5-1-7z"/><path color="#5a0" d="M417 59l1 7 7 10 1-22z"/><path color="#7c0" d="M426 54l-1 22 11-12z"/><path color="#af0" d="M426 54l10 10-3 9z"/><path color="#5f1" d="M433 73l3-9 6 23z"/><path color="#3a1" d="M433 73l9 14 0-13z"/><path color="#4b0" d="M442 74l0 13 12-10-1-6z"/><path color="#490" d="M453 71l1 6 10 0 0-8z"/><path color="#6b0" d="M464 69l0 8 12-4z"/><path color="#8f0" d="M464 69l12 4-4 11z"/><path color="#6f0" d="M472 84l4-11 10 8-3 6z"/><path color="#4f0" d="M483 87l3-6 10 10-3 2z"/><path color="#ad0" d="M363 51l2-3 7-3z"/><path color="#890" d="M363 51l9-6-2-1z"/><path color="#ae0" d="M370 44l2 1 7 4-3 12z"/><path color="#9e0" d="M376 61l3-12 7 4z"/><path color="#7c0" d="M376 61l10-8-3 2z"/><path color="#af0" d="M383 55l3-2 7 2-3 8z"/><path color="#770" d="M390 63l3-8 12-45z"/><path color="#950" d="M390 63l15-53-4 20z"/><path color="#d80" d="M401 30l4-20 3 52z"/><path color="#980" d="M401 30l7 32 0-18z"/><path color="#9b0" d="M408 44l0 18 9-3z"/><path color="#bf0" d="M408 44l9 15-4 10z"/><path color="#8d0" d="M413 69l4-10 9-5-3 10z"/><path color="#af0" d="M423 64l3-10 7 19z"/><path color="#6c0" d="M423 64l10 9-2-3z"/><path color="#5b0" d="M431 70l2 3 9 1-2-1zM440 73l2 1 11-3z"/><path color="#5f0" d="M440 73l13-2-5 13z"/><path color="#5d0" d="M448 84l5-13 11-2-5 14z"/><path color="#5f0" d="M459 83l5-14 8 15-3 1z"/><path color="#3f0" d="M469 85l3-1 11 3-4 9z"/><path color="#2d1" d="M479 96l4-9 10 6-4 12z"/><path color="#ba0" d="M361 35l2 16 7-7-2-5z"/><path color="#ac0" d="M368 39l2 5 6 17z"/><path color="#8a0" d="M368 39l8 22-2-13z"/><path color="#8b0" d="M374 48l2 13 7-6-1-22z"/><path color="#8a0" d="M382 33l1 22 7 8-2-8z"/><path color="#9b0" d="M388 55l2 8 11-33z"/><path color="#8a1" d="M388 55l13-25-7 48z"/><path style="fill:url(#g3d);stroke:url(#g3d)" d="M394 78l7-48 7 14z"/><path style="fill:url(#g3e);stroke:url(#g3e)" d="M394 78l14-34-4 9z"/><path color="#9e0" d="M404 53l4-9 5 25-3 9z"/><path color="#4d0" d="M410 78l3-9 10-5-5 17z"/><path color="#5e0" d="M418 81l5-17 8 6-4 10zM427 80l4-10 9 3-3 7z"/><path color="#4f0" d="M437 80l3-7 8 11z"/><path color="#3b0" d="M437 80l11 4 0-8z"/><path color="#3a0" d="M448 76l0 8 11-1-1-5zM458 78l1 5 10 2z"/><path color="#5f0" d="M458 78l11 7-2 1z"/><path color="#2e1" d="M467 86l2-1 10 11-3 4z"/><path color="#1d3" d="M476 100l3-4 10 9z"/><path color="#1a2" d="M476 100l13 5 1-15z"/><path color="#b60" d="M360 9l1 26 7 4z"/><path color="#c90" d="M360 9l8 30-4 20z"/><path color="#9d0" d="M364 59l4-20 6 9-3 16z"/><path color="#9b0" d="M371 64l3-16 8-15-3 16z"/><path color="#dd0" d="M379 49l3-16 6 22z"/><path color="#9b0" d="M379 49l9 6-2-3z"/><path color="#7c1" d="M386 52l2 3 6 23z"/><path color="#4b0" d="M386 52l8 26-2-6z"/><path color="#5b1" d="M392 72l2 6 10-25z"/><path color="#5d0" d="M392 72l12-19-4 24zM400 77l4-24 6 25z"/><path color="#2b0" d="M400 77l10 1-2-2z"/><path color="#3c0" d="M408 76l2 2 8 3 0-18z"/><path color="#4b0" d="M418 63l0 18 9-1z"/><path color="#5e0" d="M418 63l9 17-1-3z"/><path color="#2b0" d="M426 77l1 3 10 0z"/><path color="#3f0" d="M426 77l11 3-3 5z"/><path color="#3d0" d="M434 85l3-5 11-4z"/><path color="#5c0" d="M434 85l14-9-1-10z"/><path color="#5a0" d="M447 66l1 10 10 2-2-3z"/><path color="#5c0" d="M456 75l2 3 9 8z"/><path color="#4e1" d="M456 75l11 11-5 14z"/><path color="#2c2" d="M462 100l5-14 9 14z"/><path color="#181" d="M462 100l14 0-1-4z"/><path color="#291" d="M475 96l1 4 14-10z"/><path color="#2c2" d="M475 96l15-6-6 19z"/><path color="#c70" d="M357 18l3-9 4 50z"/><path color="#870" d="M357 18l7 41-1-16z"/><path color="#6a0" d="M363 43l1 16 7 5z"/><path color="#8e0" d="M363 43l8 21-3 0z"/><path color="#5a0" d="M368 64l3 0 8-15z"/><path color="#7d0" d="M368 64l11-15-4 15z"/><path color="#ad0" d="M375 64l4-15 7 3z"/><path color="#a90" d="M375 64l11-12 0-39z"/><path color="#880" d="M386 13l0 39 6 20z"/><path color="#790" d="M386 13l6 59-2-8z"/><path color="#490" d="M390 64l2 8 8 5-1-16z"/><path color="#4b0" d="M399 61l1 16 8-1z"/><path color="#5e0" d="M399 61l9 15-2-1z"/><path color="#4a0" d="M406 75l2 1 10-13z"/><path color="#5e0" d="M406 75l12-12-4 17z"/><path style="fill:url(#g3f);stroke:url(#g3f)" d="M414 80l4-17 8 14z"/><path style="fill:url(#g3g);stroke:url(#g3g)" d="M414 80l12-3-4 13z"/><path color="#2d1" d="M422 90l4-13 8 8-3 4z"/><path color="#390" d="M431 89l3-4 13-19z"/><path color="#4c1" d="M431 89l16-23-6 25z"/><path style="fill:url(#g3h);stroke:url(#g3h)" d="M441 91l6-25 9 9z"/><path style="fill:url(#g3i);stroke:url(#g3i)" d="M441 91l15-16-6 23z"/><path color="#3c2" d="M450 98l6-23 6 25z"/><path color="#1a2" d="M450 98l12 2 1-13z"/><path color="#2a1" d="M463 87l-1 13 13-4z"/><path color="#3f1" d="M463 87l12 9-3 3z"/><path color="#1b4" d="M472 99l3-3 9 13-3 6z"/><path style="fill:url(#g3j);stroke:url(#g3j)" d="M353 50l4-32 6 25z"/><path style="fill:url(#g3k);stroke:url(#g3k)" d="M353 50l10-7-3 9z"/><path color="#af0" d="M360 52l3-9 5 21z"/><path color="#6a0" d="M360 52l8 12-2-5z"/><path color="#4a0" d="M366 59l2 5 7 0-2-3z"/><path color="#890" d="M373 61l2 3 11-51z"/><path color="#990" d="M373 61l13-48-5 47z"/><path style="fill:url(#g3l);stroke:url(#g3l)" d="M381 60l5-47 4 51z"/><path style="fill:url(#g3m);stroke:url(#g3m)" d="M381 60l9 4-3 14z"/><path color="#6d0" d="M387 78l3-14 9-3z"/><path color="#7c0" d="M387 78l12-17-2-7z"/><path color="#7a0" d="M397 54l2 7 7 14 0-25z"/><path color="#5b0" d="M406 50l0 25 8 5z"/><path color="#6d0" d="M406 50l8 30-2-3z"/><path color="#4c1" d="M412 77l2 3 8 10 0-25z"/><path style="fill:url(#g3n);stroke:url(#g3n)" d="M422 65l0 25 9-1z"/><path style="fill:url(#g3o);stroke:url(#g3o)" d="M422 65l9 24-1-11z"/><path color="#2a1" d="M430 78l1 11 10 2-1-8z"/><path color="#181" d="M440 83l1 8 9 7-1-6z"/><path color="#2a1" d="M449 92l1 6 13-11z"/><path color="#2c1" d="M449 92l14-5-5 17z"/><path color="#2c2" d="M458 104l5-17 9 12z"/><path color="#191" d="M458 104l14-5-1-6z"/><path style="fill:url(#g3p);stroke:url(#g3p)" d="M471 93l1 6 9 16z"/><path style="fill:url(#g3q);stroke:url(#g3q)" d="M471 93l10 22 4-27z"/><path color="#bf0" d="M351 51l2-1 7 2-3 3z"/><path color="#af0" d="M357 55l3-3 6 7-2-1z"/><path color="#7e0" d="M364 58l2 1 7 2-2 2z"/><path color="#7f0" d="M371 63l2-2 8-1-4 13z"/><path color="#4e0" d="M377 73l4-13 6 18z"/><path color="#4c0" d="M377 73l10 5-1-20z"/><path color="#7c0" d="M386 58l1 20 10-24z"/><path color="#8e0" d="M386 58l11-4-4 21z"/><path color="#9c0" d="M393 75l4-21 9-4-4 10z"/><path color="#9f0" d="M402 60l4-10 6 27-3 1z"/><path color="#4a0" d="M409 78l3-1 10-12z"/><path color="#6d0" d="M409 78l13-13-3 8z"/><path color="#8f0" d="M419 73l3-8 8 13z"/><path color="#5b0" d="M419 73l11 5-1-4zM429 74l1 4 10 5 0-15z"/><path color="#4a0" d="M440 68l0 15 9 9z"/><path color="#5e1" d="M440 68l9 24-3 1z"/><path color="#1e2" d="M446 93l3-1 9 12z"/><path color="#192" d="M446 93l12 11-2-5z"/><path color="#191" d="M456 99l2 5 13-11z"/><path color="#2d1" d="M456 99l15-6-3 6z"/><path color="#4d0" d="M468 99l3-6 14-5-3 3z"/><path color="#af0" d="M348 53l3-2 6 4-3 10z"/><path color="#7e0" d="M354 65l3-10 7 3z"/><path color="#6b0" d="M354 65l10-7-3-4z"/><path color="#7b0" d="M361 54l3 4 7 5-2-8z"/><path color="#590" d="M369 55l2 8 6 10-1-18z"/><path color="#7c0" d="M376 55l1 18 9-15z"/><path color="#bf0" d="M376 55l10 3-3 7z"/><path color="#8f0" d="M383 65l3-7 7 17z"/><path color="#8b0" d="M383 65l10 10 0-37zM393 38l0 37 9-15z"/><path color="#cd0" d="M393 38l9 22-2 0z"/><path color="#7f0" d="M400 60l2 0 7 18-3 5z"/><path color="#4d0" d="M406 83l3-5 10-5z"/><path color="#5c0" d="M406 83l13-10-1-8z"/><path color="#5a0" d="M418 65l1 8 10 1z"/><path color="#9f0" d="M418 65l11 9-4 5z"/><path color="#6d0" d="M425 79l4-5 11-6-6 21z"/><path color="#5e0" d="M434 89l6-21 6 25z"/><path color="#2b0" d="M434 89l12 4-2-2z"/><path style="fill:url(#g3r);stroke:url(#g3r)" d="M444 91l2 2 10 6z"/><path style="fill:url(#g3s);stroke:url(#g3s)" d="M444 91l12 8 2-24z"/><path style="fill:url(#g3t);stroke:url(#g3t)" d="M458 75l-2 24 12 0z"/><path style="fill:url(#g3u);stroke:url(#g3u)" d="M458 75l10 24 0-12z"/><path color="#3b0" d="M468 87l0 12 14-8z"/><path color="#4c2" d="M468 87l14 4-8 25z"/><path color="#7a0" d="M346 46l2 7 6 12-2-15z"/><path color="#7c0" d="M352 50l2 15 7-11z"/><path color="#af0" d="M352 50l9 4-2 10z"/><path color="#8e0" d="M359 64l2-10 8 1-3 9z"/><path color="#9e0" d="M366 64l3-9 7 0-3 5z"/><path color="#af0" d="M373 60l3-5 7 10-3 2z"/><path color="#790" d="M380 67l3-2 10-27z"/><path color="#8c0" d="M380 67l13-29-5 37z"/><path style="fill:url(#g3v);stroke:url(#g3v)" d="M388 75l5-37 7 22z"/><path style="fill:url(#g3w);stroke:url(#g3w)" d="M388 75l12-15-4 16z"/><path color="#6f0" d="M396 76l4-16 6 23z"/><path color="#3b0" d="M396 76l10 7-2-3z"/><path color="#5b0" d="M404 80l2 3 12-18-3 3z"/><path color="#8f0" d="M415 68l3-3 7 14-3 9z"/><path color="#3f0" d="M422 88l3-9 9 10-2 1z"/><path color="#2e0" d="M432 90l2-1 10 2z"/><path color="#4c0" d="M432 90l12 1 1-20z"/><path color="#6c0" d="M445 71l-1 20 14-16z"/><path color="#7e0" d="M445 71l13 4-6 23z"/><path color="#6e0" d="M452 98l6-23 10 12z"/><path color="#4b0" d="M452 98l16-11-2-4z"/><path style="fill:url(#g3x);stroke:url(#g3x)" d="M466 83l2 4 6 29z"/><path style="fill:url(#g3y);stroke:url(#g3y)" d="M466 83l8 33 4-27z"/><path color="#ae0" d="M343 58l3-12 6 4-3 8z"/><path color="#9f0" d="M349 58l3-8 7 14z"/><path color="#8c0" d="M349 58l10 6-2-18z"/><path style="fill:url(#g3z);stroke:url(#g3z)" d="M357 46l2 18 7 0z"/><path style="fill:url(#g40);stroke:url(#g40)" d="M357 46l9 18-1-50z"/><path style="fill:url(#g41);stroke:url(#g41)" d="M365 14l1 50 7-4z"/><path style="fill:url(#g42);stroke:url(#g42)" d="M365 14l8 46 0-38z"/><path color="#890" d="M373 22l0 38 7 7z"/><path color="#9a0" d="M373 22l7 45-2-3z"/><path color="#6c0" d="M378 64l2 3 8 8-2-5z"/><path color="#4a0" d="M386 70l2 5 8 1-2-11z"/><path color="#5a0" d="M394 65l2 11 8 4-1-12z"/><path color="#6c0" d="M403 68l1 12 11-12z"/><path color="#8f0" d="M403 68l12 0-4 14z"/><path color="#5f0" d="M411 82l4-14 7 20z"/><path color="#2a0" d="M411 82l11 6-2-7z"/><path style="fill:url(#g43);stroke:url(#g43)" d="M420 81l2 7 10 2z"/><path style="fill:url(#g44);stroke:url(#g44)" d="M420 81l12 9 5-53z"/><path style="fill:url(#g45);stroke:url(#g45)" d="M437 37l-5 53 13-19z"/><path style="fill:url(#g46);stroke:url(#g46)" d="M437 37l8 34-5 15z"/><path color="#6f0" d="M440 86l5-15 7 27z"/><path color="#3d0" d="M440 86l12 12-2-3z"/><path color="#4a0" d="M450 95l2 3 14-15-1-4z"/><path color="#6b0" d="M465 79l1 4 12 6z"/><path color="#6f0" d="M465 79l13 10-5 13z"/><path color="#7c0" d="M340 57l3 1 6 0z"/><path color="#9f0" d="M340 57l9 1-2 4z"/><path color="#8b0" d="M347 62l2-4 8-12-3 11z"/><path style="fill:url(#g47);stroke:url(#g47)" d="M354 57l3-11 8-32z"/><path style="fill:url(#g48);stroke:url(#g48)" d="M354 57l11-43-5 61z"/><path style="fill:url(#g49);stroke:url(#g49)" d="M360 75l5-61 8 8z"/><path style="fill:url(#g4a);stroke:url(#g4a)" d="M360 75l13-53-4 24z"/><path style="fill:url(#g4b);stroke:url(#g4b)" d="M369 46l4-24 5 42z"/><path style="fill:url(#g4c);stroke:url(#g4c)" d="M369 46l9 18-3 6z"/><path style="fill:url(#g4d);stroke:url(#g4d)" d="M375 70l3-6 8 6z"/><path style="fill:url(#g4e);stroke:url(#g4e)" d="M375 70l11 0 1-52z"/><path color="#990" d="M387 18l-1 52 8-5z"/><path color="#9b0" d="M387 18l7 47-4 18z"/><path color="#6d0" d="M390 83l4-18 9 3z"/><path color="#6c0" d="M390 83l13-15-2-6z"/><path color="#6b0" d="M401 62l2 6 8 14z"/><path color="#7f0" d="M401 62l10 20-3 0z"/><path color="#3d0" d="M408 82l3 0 9-1-4 12z"/><path style="fill:url(#g4f);stroke:url(#g4f)" d="M416 93l4-12 17-44z"/><path style="fill:url(#g4g);stroke:url(#g4g)" d="M416 93l21-56-8 37z"/><path style="fill:url(#g4h);stroke:url(#g4h)" d="M429 74l8-37 3 49z"/><path style="fill:url(#g4i);stroke:url(#g4i)" d="M429 74l11 12 0-10z"/><path color="#490" d="M440 76l0 10 10 9z"/><path color="#5f0" d="M440 76l10 19-2 1z"/><path style="fill:url(#g4j);stroke:url(#g4j)" d="M448 96l2-1 15-16z"/><path style="fill:url(#g4k);stroke:url(#g4k)" d="M448 96l17-17-8 28z"/><path style="fill:url(#g4l);stroke:url(#g4l)" d="M457 107l8-28 8 23z"/><path style="fill:url(#g4m);stroke:url(#g4m)" d="M457 107l16-5-3 1z"/><path color="#6e0" d="M338 70l2-13 7 5z"/><path color="#6c0" d="M338 70l9-8-3-13z"/><path color="#8b0" d="M344 49l3 13 7-5z"/><path color="#cf0" d="M344 49l10 8-3 1z"/><path color="#7f0" d="M351 58l3-1 6 18-3-4z"/><path color="#6b0" d="M357 71l3 4 9-29z"/><path color="#8b0" d="M357 71l12-25-4 10z"/><path color="#9f0" d="M365 56l4-10 6 24-3 9z"/><path color="#570" d="M372 79l3-9 12-52z"/><path color="#890" d="M372 79l15-61-6 43z"/><path style="fill:url(#g4n);stroke:url(#g4n)" d="M381 61l6-43 3 65z"/><path style="fill:url(#g4o);stroke:url(#g4o)" d="M381 61l9 22-1-22z"/><path color="#8c0" d="M389 61l1 22 11-21-2-4z"/><path color="#7d0" d="M399 58l2 4 7 20-3 7z"/><path color="#3f1" d="M405 89l3-7 8 11z"/><path color="#3b1" d="M405 89l11 4 0-17z"/><path color="#5c0" d="M416 76l0 17 13-19z"/><path color="#6e1" d="M416 76l13-2-6 23z"/><path color="#6d0" d="M423 97l6-23 11 2-4 8z"/><path color="#7f0" d="M436 84l4-8 8 20z"/><path color="#4a0" d="M436 84l12 12-1-10z"/><path color="#290" d="M447 86l1 10 9 11 1-15z"/><path color="#2a1" d="M458 92l-1 15 13-4z"/><path color="#3f0" d="M458 92l12 11-2 0z"/><path color="#7c0" d="M335 59l3 11 6-21z"/><path color="#ad0" d="M335 59l9-10-2 8z"/><path color="#bf0" d="M342 57l2-8 7 9z"/><path color="#9d0" d="M342 57l9 1-3-1z"/><path color="#8f0" d="M348 57l3 1 6 13z"/><path color="#8c0" d="M348 57l9 14-1-27z"/><path color="#9c0" d="M356 44l1 27 8-15z"/><path color="#be0" d="M356 44l9 12-3 13z"/><path color="#7f0" d="M362 69l3-13 7 23z"/><path color="#4b0" d="M362 69l10 10-2-14z"/><path color="#7c0" d="M370 65l2 14 9-18-3-2z"/><path color="#9b0" d="M378 59l3 2 8 0z"/><path color="#cf0" d="M378 59l11 2-3 5z"/><path style="fill:url(#g4p);stroke:url(#g4p)" d="M386 66l3-5 10-3z"/><path style="fill:url(#g4q);stroke:url(#g4q)" d="M386 66l13-8-6 34z"/><path color="#5c1" d="M393 92l6-34 6 31z"/><path color="#3b1" d="M393 92l12-3-2-11z"/><path color="#4c0" d="M403 78l2 11 11-13z"/><path color="#6f0" d="M403 78l13-2-4 10z"/><path color="#5f1" d="M412 86l4-10 7 21z"/><path color="#5c0" d="M412 86l11 11 2-31z"/><path color="#6b0" d="M425 66l-2 31 13-13z"/><path color="#9f0" d="M425 66l11 18-3 5z"/><path color="#6f0" d="M433 89l3-5 11 2z"/><path color="#5c0" d="M433 89l14-3-3-1z"/><path color="#5f0" d="M444 85l3 1 11 6-5 11z"/><path style="fill:url(#g4r);stroke:url(#g4r)" d="M453 103l5-11 10 11z"/><path style="fill:url(#g4s);stroke:url(#g4s)" d="M453 103l15 0-7 25z"/><path color="#8e0" d="M332 64l3-5 7-2z"/><path color="#9c0" d="M332 64l10-7-3-12z"/><path color="#9b0" d="M339 45l3 12 6 0z"/><path color="#bf0" d="M339 45l9 12-3 11z"/><path color="#8c0" d="M345 68l3-11 8-13-4 20z"/><path color="#ae0" d="M352 64l4-20 6 25z"/><path color="#6d0" d="M352 64l10 5-2-2z"/><path color="#6a0" d="M360 67l2 2 8-4-2-6z"/><path color="#8a0" d="M368 59l2 6 8-6z"/><path color="#8e0" d="M368 59l10 0-4 24z"/><path color="#7d0" d="M374 83l4-24 8 7-3 9z"/><path style="fill:url(#g4t);stroke:url(#g4t)" d="M383 75l3-9 7 26z"/><path style="fill:url(#g4u);stroke:url(#g4u)" d="M383 75l10 17 2-59z"/><path style="fill:url(#g4v);stroke:url(#g4v)" d="M395 33l-2 59 10-14z"/><path style="fill:url(#g4w);stroke:url(#g4w)" d="M395 33l8 45 1-37z"/><path color="#7a0" d="M404 41l-1 37 9 8z"/><path color="#8b0" d="M404 41l8 45-2-5z"/><path color="#6b0" d="M410 81l2 5 13-20z"/><path color="#7d0" d="M410 81l15-15-6 27z"/><path style="fill:url(#g4x);stroke:url(#g4x)" d="M419 93l6-27 8 23z"/><path style="fill:url(#g4y);stroke:url(#g4y)" d="M419 93l14-4-3 2z"/><path color="#4d0" d="M430 91l3-2 11-4-5 16z"/><path color="#4e0" d="M439 101l5-16 9 18z"/><path color="#2a0" d="M439 101l14 2-1-6z"/><path color="#2a2" d="M452 97l1 6 8 25 2-21z"/><path color="#ab0" d="M330 42l2 22 7-19z"/><path color="#de0" d="M330 42l9 3-3 12z"/><path color="#af0" d="M336 57l3-12 6 23z"/><path color="#5a0" d="M336 57l9 11-2-6z"/><path color="#6a0" d="M343 62l2 6 7-4-2-13z"/><path color="#7a0" d="M350 51l2 13 8 3z"/><path color="#9d0" d="M350 51l10 16-3-3z"/><path color="#790" d="M357 64l3 3 8-8-2-17z"/><path color="#680" d="M366 42l2 17 6 24-1-23z"/><path color="#6c0" d="M373 60l1 23 9-8-2-10z"/><path style="fill:url(#g4z);stroke:url(#g4z)" d="M381 65l2 10 12-42z"/><path style="fill:url(#g50);stroke:url(#g50)" d="M381 65l14-32-2-6z"/><path style="fill:url(#g51);stroke:url(#g51)" d="M393 27l2 6 9 8z"/><path style="fill:url(#g52);stroke:url(#g52)" d="M393 27l11 14-8 53z"/><path style="fill:url(#g53);stroke:url(#g53)" d="M396 94l8-53 6 40z"/><path style="fill:url(#g54);stroke:url(#g54)" d="M396 94l14-13-5 19z"/><path color="#3d1" d="M405 100l5-19 9 12z"/><path color="#3b1" d="M405 100l14-7-1-13z"/><path color="#4b0" d="M418 80l1 13 11-2z"/><path color="#5f1" d="M418 80l12 11-4 11z"/><path color="#3e1" d="M426 102l4-11 9 10z"/><path color="#4c1" d="M426 102l13-1 2-25z"/><path color="#5b0" d="M441 76l-2 25 13-4z"/><path color="#5e1" d="M441 76l11 21-5 16z"/><path style="fill:url(#g55);stroke:url(#g55)" d="M447 113l5-16 11 10z"/><path style="fill:url(#g56);stroke:url(#g56)" d="M447 113l16-6 5-41z"/><path color="#8c0" d="M327 75l3-33 6 15z"/><path color="#6b0" d="M327 75l9-18-3-2z"/><path color="#ac0" d="M333 55l3 2 7 5-3-19z"/><path color="#ab0" d="M340 43l3 19 7-11z"/><path color="#cd0" d="M340 43l10 8-3 17z"/><path color="#9e0" d="M347 68l3-17 7 13z"/><path color="#6a0" d="M347 68l10-4-3-4z"/><path color="#9b0" d="M354 60l3 4 9-22z"/><path color="#ac0" d="M354 60l12-18-4 27z"/><path style="fill:url(#g57);stroke:url(#g57)" d="M362 69l4-27 7 18z"/><path style="fill:url(#g58);stroke:url(#g58)" d="M362 69l11-9-4 16z"/><path color="#9e0" d="M369 76l4-16 8 5-3 6z"/><path color="#880" d="M378 71l3-6 12-38z"/><path color="#aa0" d="M378 71l15-44-6 38z"/><path style="fill:url(#g59);stroke:url(#g59)" d="M387 65l6-38 3 67z"/><path style="fill:url(#g5a);stroke:url(#g5a)" d="M387 65l9 29-2 0z"/><path color="#1c2" d="M394 94l2 0 9 6z"/><path color="#2b1" d="M394 94l11 6 0-18z"/><path color="#4c1" d="M405 82l0 18 13-20z"/><path color="#7f0" d="M405 82l13-2-4 8z"/><path color="#4e1" d="M414 88l4-8 8 22-4 6z"/><path color="#381" d="M422 108l4-6 15-26z"/><path color="#591" d="M422 108l19-32-4 8z"/><path style="fill:url(#g5b);stroke:url(#g5b)" d="M437 84l4-8 6 37z"/><path style="fill:url(#g5c);stroke:url(#g5c)" d="M437 84l10 29 4-38z"/><path color="#8b1" d="M451 75l-4 38 21-47z"/><path color="#bd0" d="M451 75l17-9-7 26z"/><path color="#6c0" d="M324 58l3 17 6-20z"/><path color="#9f0" d="M324 58l9-3-3 11z"/><path color="#9b0" d="M330 66l3-11 7-12-3 12z"/><path color="#ae0" d="M337 55l3-12 7 25-3 5z"/><path color="#6c0" d="M344 73l3-5 7-8z"/><path color="#7b0" d="M344 73l10-13-3-4z"/><path color="#ac0" d="M351 56l3 4 8 9-3-16z"/><path color="#7a0" d="M359 53l3 16 7 7z"/><path color="#7e1" d="M359 53l10 23-3 14z"/><path style="fill:url(#g5d);stroke:url(#g5d)" d="M366 90l3-14 9-5z"/><path style="fill:url(#g5e);stroke:url(#g5e)" d="M366 90l12-19-1-37z"/><path color="#aa0" d="M377 34l1 37 9-6z"/><path color="#dc0" d="M377 34l10 31-3 2z"/><path color="#7e0" d="M384 67l3-2 7 29-3-3z"/><path style="fill:url(#g5f);stroke:url(#g5f)" d="M391 91l3 3 11-12z"/><path style="fill:url(#g5g);stroke:url(#g5g)" d="M391 91l14-9-1-23z"/><path color="#7b0" d="M404 59l1 23 9 6z"/><path color="#7d1" d="M404 59l10 29-5 20z"/><path color="#2c2" d="M409 108l5-20 8 20z"/><path color="#1a2" d="M409 108l13 0-1-14z"/><path color="#4b1" d="M421 94l1 14 15-24z"/><path color="#4c1" d="M421 94l16-10-7 32z"/><path style="fill:url(#g5h);stroke:url(#g5h)" d="M430 116l7-32 14-9z"/><path style="fill:url(#g5i);stroke:url(#g5i)" d="M430 116l21-41-7 25z"/><path style="fill:url(#g5j);stroke:url(#g5j)" d="M444 100l7-25 10 17z"/><path style="fill:url(#g5k);stroke:url(#g5k)" d="M444 100l17-8-9 35z"/><path color="#8a0" d="M321 52l3 6 6 8-3-20z"/><path color="#9b0" d="M327 46l3 20 7-11z"/><path color="#be0" d="M327 46l10 9-3 14z"/><path color="#8f0" d="M334 69l3-14 7 18z"/><path color="#5b0" d="M334 69l10 4-3-9z"/><path color="#7c0" d="M341 64l3 9 7-17z"/><path color="#8e0" d="M341 64l10-8-3 19z"/><path style="fill:url(#g5l);stroke:url(#g5l)" d="M348 75l3-19 8-3z"/><path style="fill:url(#g5m);stroke:url(#g5m)" d="M348 75l11-22-4 29z"/><path color="#6d1" d="M355 82l4-29 7 37z"/><path color="#190" d="M355 82l11 8-3-6z"/><path color="#5a1" d="M363 84l3 6 11-56z"/><path color="#6b0" d="M363 84l14-50-6 51z"/><path style="fill:url(#g5n);stroke:url(#g5n)" d="M371 85l6-51 7 33z"/><path style="fill:url(#g5o);stroke:url(#g5o)" d="M371 85l13-18-4 16z"/><path color="#5f0" d="M380 83l4-16 7 24-3 3z"/><path style="fill:url(#g5p);stroke:url(#g5p)" d="M388 94l3-3 13-32z"/><path style="fill:url(#g5q);stroke:url(#g5q)" d="M388 94l16-35-2-14z"/><path color="#881" d="M402 45l2 14 5 49z"/><path color="#681" d="M402 45l7 63 1-31z"/><path color="#4b1" d="M410 77l-1 31 12-14z"/><path color="#6f0" d="M410 77l11 17-3 4z"/><path color="#3e2" d="M418 98l3-4 9 22z"/><path color="#3b1" d="M418 98l12 18 1-27zM431 89l-1 27 14-16z"/><path color="#6f0" d="M431 89l13 11-3 3z"/><path color="#3d2" d="M441 103l3-3 8 27z"/><path color="#193" d="M441 103l11 24-2-5z"/><path color="#ba0" d="M318 36l3 16 6-6z"/><path color="#fd0" d="M318 36l9 10-2 6z"/><path color="#cf0" d="M325 52l2-6 7 23z"/><path color="#8b0" d="M325 52l9 17-3-15zM331 54l3 15 7-5-3-7z"/><path color="#6a0" d="M338 57l3 7 7 11-3-7z"/><path color="#4a0" d="M345 68l3 7 7 7-2-9zM353 73l2 9 8 2-2-18z"/><path color="#4b0" d="M361 66l2 18 8 1z"/><path color="#5d0" d="M361 66l10 19-2-4z"/><path color="#390" d="M369 81l2 4 9-2-3-4z"/><path color="#5c0" d="M377 79l3 4 8 11-1-20z"/><path color="#8b0" d="M387 74l1 20 14-49z"/><path color="#9c0" d="M387 74l15-29-7 48z"/><path style="fill:url(#g5r);stroke:url(#g5r)" d="M395 93l7-48 8 32z"/><path style="fill:url(#g5s);stroke:url(#g5s)" d="M395 93l15-16-6 22z"/><path color="#5e0" d="M404 99l6-22 8 21z"/><path color="#2c0" d="M404 99l14-1-3 0z"/><path color="#3a0" d="M415 98l3 0 13-9z"/><path color="#5e0" d="M415 98l16-9-4 8z"/><path color="#6f0" d="M427 97l4-8 10 14-3-1z"/><path color="#3d1" d="M438 102l3 1 9 19z"/><path color="#191" d="M438 102l12 20-1-11z"/><path color="#bc0" d="M315 65l3-29 7 16z"/><path color="#790" d="M315 65l10-13-3-1z"/><path color="#cd0" d="M322 51l3 1 6 2-3 8z"/><path color="#ce0" d="M328 62l3-8 7 3z"/><path color="#ab0" d="M328 62l10-5-3-15z"/><path color="#890" d="M335 42l3 15 7 11z"/><path color="#ac0" d="M335 42l10 26-3-3z"/><path color="#7c0" d="M342 65l3 3 8 5z"/><path color="#8f0" d="M342 65l11 8-3 7z"/><path color="#5d0" d="M350 80l3-7 8-7-4 17z"/><path color="#6e0" d="M357 83l4-17 8 15z"/><path color="#7b0" d="M357 83l12-2-1-43z"/><path color="#7a0" d="M368 38l1 43 8-2z"/><path color="#9c0" d="M368 38l9 41-3-1z"/><path color="#6b0" d="M374 78l3 1 10-5z"/><path color="#8f0" d="M374 78l13-4-4 9z"/><path color="#7f0" d="M383 83l4-9 8 19z"/><path color="#4a0" d="M383 83l12 10-2-8z"/><path style="fill:url(#g5t);stroke:url(#g5t)" d="M393 85l2 8 9 6z"/><path style="fill:url(#g5u);stroke:url(#g5u)" d="M393 85l11 14 1-30z"/><path style="fill:url(#g5v);stroke:url(#g5v)" d="M405 69l-1 30 11-1z"/><path style="fill:url(#g5w);stroke:url(#g5w)" d="M405 69l10 29 1-27z"/><path color="#6b0" d="M416 71l-1 27 12-1z"/><path color="#8e0" d="M416 71l11 26-3-2z"/><path color="#5d0" d="M424 95l3 2 11 5z"/><path color="#5f0" d="M424 95l14 7-3 5z"/><path style="fill:url(#g5x);stroke:url(#g5x)" d="M435 107l3-5 11 9z"/><path style="fill:url(#g5y);stroke:url(#g5y)" d="M435 107l14 4-5 15z"/><path color="#8b0" d="M312 59l3 6 7-14z"/><path color="#be0" d="M312 59l10-8-3 6z"/><path color="#cf0" d="M319 57l3-6 6 11-3 2z"/><path color="#790" d="M325 64l3-2 7-20z"/><path color="#ac0" d="M325 64l10-22-3 18z"/><path color="#cd0" d="M332 60l3-18 7 23z"/><path color="#ab0" d="M332 60l10 5-2-23z"/><path color="#7a0" d="M340 42l2 23 8 15-3-19z"/><path color="#5b0" d="M347 61l3 19 7 3z"/><path color="#7f0" d="M347 61l10 22-3 0z"/><path style="fill:url(#g5z);stroke:url(#g5z)" d="M354 83l3 0 11-45z"/><path style="fill:url(#g60);stroke:url(#g60)" d="M354 83l14-45-3-4z"/><path style="fill:url(#g61);stroke:url(#g61)" d="M365 34l3 4 6 40z"/><path style="fill:url(#g62);stroke:url(#g62)" d="M365 34l9 44-4 17z"/><path color="#5d0" d="M370 95l4-17 9 5z"/><path color="#4a0" d="M370 95l13-12-3-1z"/><path color="#6c0" d="M380 82l3 1 10 2-3-6z"/><path color="#8b0" d="M390 79l3 6 12-16z"/><path color="#ae0" d="M390 79l15-10-5 16z"/><path style="fill:url(#g63);stroke:url(#g63)" d="M400 85l5-16 11 2z"/><path style="fill:url(#g64);stroke:url(#g64)" d="M400 85l16-14-6 21z"/><path color="#9e0" d="M410 92l6-21 8 24z"/><path color="#5a0" d="M410 92l14 3-2-8z"/><path color="#4a0" d="M422 87l2 8 11 12z"/><path color="#5f1" d="M422 87l13 20-5 10z"/><path color="#1d2" d="M430 117l5-10 9 19z"/><path color="#072" d="M430 117l14 9-1-7z"/><path color="#8e0" d="M310 68l2-9 7-2z"/><path color="#8b0" d="M310 68l9-11-4-5z"/><path color="#8a0" d="M315 52l4 5 6 7-3-6z"/><path color="#7a0" d="M322 58l3 6 7-4z"/><path color="#bf0" d="M322 58l10 2-3 10z"/><path color="#8a0" d="M329 70l3-10 8-18-4 26z"/><path style="fill:url(#g65);stroke:url(#g65)" d="M336 68l4-26 7 19z"/><path style="fill:url(#g66);stroke:url(#g66)" d="M336 68l11-7-4 21z"/><path color="#6e0" d="M343 82l4-21 7 22-3 2z"/><path style="fill:url(#g67);stroke:url(#g67)" d="M351 85l3-2 11-49z"/><path style="fill:url(#g68);stroke:url(#g68)" d="M351 85l14-51-6 54z"/><path style="fill:url(#g69);stroke:url(#g69)" d="M359 88l6-54 5 61z"/><path style="fill:url(#g6a);stroke:url(#g6a)" d="M359 88l11 7-2-14z"/><path color="#4c0" d="M368 81l2 14 10-13z"/><path color="#8f0" d="M368 81l12 1-3 3z"/><path color="#6e0" d="M377 85l3-3 10-3-4 20zM386 99l4-20 10 6-3 4z"/><path color="#8f0" d="M397 89l3-4 10 7-3 1z"/><path color="#5d0" d="M407 93l3-1 12-5-5 17z"/><path color="#5e1" d="M417 104l5-17 8 30z"/><path color="#4b1" d="M417 104l13 13 2-33z"/><path style="fill:url(#g6b);stroke:url(#g6b)" d="M432 84l-2 33 13 2z"/><path style="fill:url(#g6c);stroke:url(#g6c)" d="M432 84l11 35-3 0z"/><path color="#6a0" d="M307 69l3-1 5-16-3 2z"/><path color="#df0" d="M312 54l3-2 7 6-3 10z"/><path color="#7f0" d="M319 68l3-10 7 12-3 14z"/><path color="#6d0" d="M326 84l3-14 7-2z"/><path color="#4a0" d="M326 84l10-16-3 4z"/><path color="#7f0" d="M333 72l3-4 7 14-3 0z"/><path color="#4f0" d="M340 82l3 0 8 3z"/><path color="#4b0" d="M340 82l11 3-3-10z"/><path color="#4a0" d="M348 75l3 10 8 3-2-11z"/><path color="#5b0" d="M357 77l2 11 9-7-3-6z"/><path color="#5a0" d="M365 75l3 6 9 4z"/><path color="#7f0" d="M365 75l12 10-4 11z"/><path color="#4f0" d="M373 96l4-11 9 14z"/><path color="#3b0" d="M373 96l13 3-3-9z"/><path color="#4b0" d="M383 90l3 9 11-10z"/><path color="#5f0" d="M383 90l14-1-5 14z"/><path color="#5e0" d="M392 103l5-14 10 4z"/><path color="#5c0" d="M392 103l15-10-2-8z"/><path color="#5a0" d="M405 85l2 8 10 11-2-9z"/><path color="#6c0" d="M415 95l2 9 15-20z"/><path color="#7e0" d="M415 95l17-11-6 26z"/><path style="fill:url(#g6d);stroke:url(#g6d)" d="M426 110l6-26 8 35z"/><path style="fill:url(#g6e);stroke:url(#g6e)" d="M426 110l14 9-3 2z"/><path color="#8c0" d="M303 61l4 8 5-15z"/><path color="#8d0" d="M303 61l9-7-2 28z"/><path color="#7d0" d="M310 82l2-28 7 14z"/><path color="#6c0" d="M310 82l9-14-3-9z"/><path color="#6a0" d="M316 59l3 9 7 16-3-29z"/><path color="#6c0" d="M323 55l3 29 7-12z"/><path color="#af0" d="M323 55l10 17-3 6z"/><path color="#6f0" d="M330 78l3-6 7 10z"/><path color="#5c0" d="M330 78l10 4-3-13z"/><path color="#6c0" d="M337 69l3 13 8-7-3-3z"/><path color="#7b0" d="M345 72l3 3 9 2z"/><path color="#6e0" d="M345 72l12 5-4 18z"/><path color="#6d0" d="M353 95l4-18 8-2z"/><path color="#490" d="M353 95l12-20-3 2z"/><path color="#8f0" d="M362 77l3-2 8 21z"/><path color="#6b0" d="M362 77l11 19-2-19z"/><path color="#5c0" d="M371 77l2 19 10-6z"/><path color="#8f0" d="M371 77l12 13-3 2z"/><path style="fill:url(#g6f);stroke:url(#g6f)" d="M380 92l3-2 9 13z"/><path style="fill:url(#g6g);stroke:url(#g6g)" d="M380 92l12 11 0-34z"/><path color="#7c0" d="M392 69l0 34 13-18z"/><path color="#bf0" d="M392 69l13 16-4 10z"/><path style="fill:url(#g6h);stroke:url(#g6h)" d="M401 95l4-10 10 10z"/><path style="fill:url(#g6i);stroke:url(#g6i)" d="M401 95l14 0-6 28z"/><path style="fill:url(#g6j);stroke:url(#g6j)" d="M409 123l6-28 11 15z"/><path style="fill:url(#g6k);stroke:url(#g6k)" d="M409 123l17-13-4 2z"/><path color="#3f1" d="M422 112l4-2 11 11z"/><path color="#2b0" d="M422 112l15 9-1-14z"/><path color="#7f0" d="M300 64l3-3 7 21z"/><path color="#4a0" d="M300 64l10 18-4-13z"/><path color="#7c0" d="M306 69l4 13 6-23-3 3z"/><path color="#ad0" d="M313 62l3-3 7-4-3 17z"/><path color="#9e0" d="M320 72l3-17 7 23z"/><path color="#5c0" d="M320 72l10 6-3-3z"/><path color="#6a0" d="M327 75l3 3 7-9-3-3z"/><path color="#9c0" d="M334 66l3 3 8 3-3-8z"/><path color="#6b0" d="M342 64l3 8 8 23z"/><path color="#7b0" d="M342 64l11 31-3-32z"/><path color="#7c0" d="M350 63l3 32 9-18z"/><path color="#af0" d="M350 63l12 14-4 11z"/><path color="#8e0" d="M358 88l4-11 9 0-3 8z"/><path style="fill:url(#g6l);stroke:url(#g6l)" d="M368 85l3-8 9 15z"/><path style="fill:url(#g6m);stroke:url(#g6m)" d="M368 85l12 7-5 20z"/><path style="fill:url(#g6n);stroke:url(#g6n)" d="M375 112l5-20 12-23z"/><path style="fill:url(#g6o);stroke:url(#g6o)" d="M375 112l17-43-6 30z"/><path style="fill:url(#g6p);stroke:url(#g6p)" d="M386 99l6-30 9 26z"/><path style="fill:url(#g6q);stroke:url(#g6q)" d="M386 99l15-4-5 19z"/><path color="#2c2" d="M396 114l5-19 8 28z"/><path color="#4a2" d="M396 114l13 9 1-39z"/><path style="fill:url(#g6r);stroke:url(#g6r)" d="M410 84l-1 39 13-11z"/><path style="fill:url(#g6s);stroke:url(#g6s)" d="M410 84l12 28-2-5z"/><path color="#3a0" d="M420 107l2 5 14-5z"/><path color="#5f0" d="M420 107l16 0-5 11z"/><path color="#9f0" d="M297 66l3-2 6 5z"/><path color="#7d0" d="M297 66l9 3-3-2z"/><path style="fill:url(#g6t);stroke:url(#g6t)" d="M303 67l3 2 7-7z"/><path style="fill:url(#g6u);stroke:url(#g6u)" d="M303 67l10-5-5-41z"/><path color="#980" d="M308 21l5 41 7 10z"/><path color="#9b0" d="M308 21l12 51-3 9z"/><path color="#6f0" d="M317 81l3-9 7 3z"/><path color="#6c0" d="M317 81l10-6-4-13z"/><path style="fill:url(#g6v);stroke:url(#g6v)" d="M323 62l4 13 7-9z"/><path style="fill:url(#g6w);stroke:url(#g6w)" d="M323 62l11 4-3-17z"/><path color="#aa0" d="M331 49l3 17 8-2z"/><path color="#bd0" d="M331 49l11 15-4 22z"/><path style="fill:url(#g6x);stroke:url(#g6x)" d="M338 86l4-22 8-1z"/><path style="fill:url(#g6y);stroke:url(#g6y)" d="M338 86l12-23-3 23z"/><path style="fill:url(#g6z);stroke:url(#g6z)" d="M347 86l3-23 8 25z"/><path style="fill:url(#g70);stroke:url(#g70)" d="M347 86l11 2-3 13z"/><path color="#4d0" d="M355 101l3-13 10-3z"/><path color="#6c0" d="M355 101l13-16-3-12z"/><path color="#5a1" d="M365 73l3 12 7 27-1-25z"/><path color="#3b1" d="M374 87l1 25 11-13z"/><path color="#4e1" d="M374 87l12 12-4 17z"/><path color="#2c2" d="M382 116l4-17 10 15z"/><path color="#181" d="M382 116l14-2-3-5z"/><path color="#4b1" d="M393 109l3 5 14-30z"/><path color="#6c0" d="M393 109l17-25-4 13z"/><path style="fill:url(#g71);stroke:url(#g71)" d="M406 97l4-13 10 23z"/><path style="fill:url(#g72);stroke:url(#g72)" d="M406 97l14 10 2-41z"/><path style="fill:url(#g73);stroke:url(#g73)" d="M422 66l-2 41 11 11z"/><path style="fill:url(#g74);stroke:url(#g74)" d="M422 66l9 52-1-11z"/><path color="#7b0" d="M294 63l3 3 6 1-4-11z"/><path style="fill:url(#g75);stroke:url(#g75)" d="M299 56l4 11 5-46z"/><path style="fill:url(#g76);stroke:url(#g76)" d="M299 56l9-35-3 5z"/><path style="fill:url(#g77);stroke:url(#g77)" d="M305 26l3-5 9 60z"/><path style="fill:url(#g78);stroke:url(#g78)" d="M305 26l12 55-4 1z"/><path color="#4a0" d="M313 82l4-1 6-19z"/><path color="#7c0" d="M313 82l10-20-3 12z"/><path style="fill:url(#g79);stroke:url(#g79)" d="M320 74l3-12 8-13z"/><path style="fill:url(#g7a);stroke:url(#g7a)" d="M320 74l11-25-3 40z"/><path style="fill:url(#g7b);stroke:url(#g7b)" d="M328 89l3-40 7 37z"/><path style="fill:url(#g7c);stroke:url(#g7c)" d="M328 89l10-3-3-7z"/><path color="#4a0" d="M335 79l3 7 9 0z"/><path color="#5f0" d="M335 79l12 7-4 9z"/><path color="#3f1" d="M343 95l4-9 8 15-4-1z"/><path color="#4a1" d="M351 100l4 1 10-28z"/><path color="#6c0" d="M351 100l14-27-4 18z"/><path style="fill:url(#g7d);stroke:url(#g7d)" d="M361 91l4-18 9 14z"/><path style="fill:url(#g7e);stroke:url(#g7e)" d="M361 91l13-4-4 10z"/><path color="#3d2" d="M370 97l4-10 8 29-3 1z"/><path color="#291" d="M379 117l3-1 11-7-2-10z"/><path color="#5b0" d="M391 99l2 10 13-12-3-8z"/><path style="fill:url(#g7f);stroke:url(#g7f)" d="M403 89l3 8 16-31z"/><path style="fill:url(#g7g);stroke:url(#g7g)" d="M403 89l19-23-11 66z"/><path style="fill:url(#g7h);stroke:url(#g7h)" d="M411 132l11-66 8 41z"/><path style="fill:url(#g7i);stroke:url(#g7i)" d="M411 132l19-25-3-4z"/><path color="#aa0" d="M289 37l5 26 5-7z"/><path color="#cd0" d="M289 37l10 19-2 15z"/><path color="#970" d="M297 71l2-15 6-30-4-1z"/><path color="#a90" d="M301 25l4 1 8 56-3-9z"/><path color="#5c0" d="M310 73l3 9 7-8z"/><path color="#7f0" d="M310 73l10 1-3 7z"/><path color="#6f0" d="M317 81l3-7 8 15z"/><path color="#4b0" d="M317 81l11 8-4-11z"/><path color="#5c0" d="M324 78l4 11 7-10z"/><path color="#8f0" d="M324 78l11 1-3 4z"/><path color="#6f0" d="M332 83l3-4 8 16z"/><path color="#5b0" d="M332 83l11 12-3-17z"/><path color="#3b0" d="M340 78l3 17 8 5-3-11zM348 89l3 11 10-9z"/><path color="#5f0" d="M348 89l13 2-4 7zM357 98l4-7 9 6z"/><path color="#5c0" d="M357 98l13-1-3-14z"/><path color="#491" d="M367 83l3 14 9 20-2-24z"/><path style="fill:url(#g7j);stroke:url(#g7j)" d="M377 93l2 24 12-18z"/><path style="fill:url(#g7k);stroke:url(#g7k)" d="M377 93l14 6-3-5z"/><path color="#6a0" d="M388 94l3 5 12-10z"/><path color="#8e0" d="M388 94l15-5-5 17z"/><path style="fill:url(#g7l);stroke:url(#g7l)" d="M398 106l5-17 8 43z"/><path style="fill:url(#g7m);stroke:url(#g7m)" d="M398 106l13 26 3-54z"/><path color="#7b1" d="M414 78l-3 54 16-29z"/><path color="#8e1" d="M414 78l13 25-6 25z"/><path color="#bd0" d="M287 61l2-24 8 34z"/><path color="#6a0" d="M287 61l10 10-4-8z"/><path color="#9a0" d="M293 63l4 8 4-46z"/><path color="#ba0" d="M293 63l8-38-2 38z"/><path style="fill:url(#g7n);stroke:url(#g7n)" d="M299 63l2-38 9 48z"/><path style="fill:url(#g7o);stroke:url(#g7o)" d="M299 63l11 10-3 9z"/><path color="#6f0" d="M307 82l3-9 7 8z"/><path color="#4c0" d="M307 82l10-1-4-1z"/><path color="#5b0" d="M313 80l4 1 7-3z"/><path color="#7e0" d="M313 80l11-2-3 1z"/><path color="#8f0" d="M321 79l3-1 8 5z"/><path color="#7c0" d="M321 79l11 4-4-16z"/><path color="#7b0" d="M328 67l4 16 8-5z"/><path color="#7d1" d="M328 67l12 11-4 29z"/><path color="#5c1" d="M336 107l4-29 8 11z"/><path color="#3a1" d="M336 107l12-18-3-3z"/><path color="#4c0" d="M345 86l3 3 9 9z"/><path color="#5f0" d="M345 86l12 12-3 1z"/><path color="#390" d="M354 99l3-1 10-15z"/><path color="#6d0" d="M354 99l13-16-4 12z"/><path style="fill:url(#g7p);stroke:url(#g7p)" d="M363 95l4-12 10 10z"/><path style="fill:url(#g7q);stroke:url(#g7q)" d="M363 95l14-2-5 15z"/><path color="#5e0" d="M372 108l5-15 11 1-5 11z"/><path color="#6f0" d="M383 105l5-11 10 12z"/><path color="#5b0" d="M383 105l15 1-2-9z"/><path style="fill:url(#g7r);stroke:url(#g7r)" d="M396 97l2 9 16-28z"/><path style="fill:url(#g7s);stroke:url(#g7s)" d="M396 97l18-19-8 37z"/><path style="fill:url(#g7t);stroke:url(#g7t)" d="M406 115l8-37 7 50z"/><path style="fill:url(#g7u);stroke:url(#g7u)" d="M406 115l15 13-3-8z"/><path style="fill:url(#g7v);stroke:url(#g7v)" d="M280 16l7 45 6 2z"/><path style="fill:url(#g7w);stroke:url(#g7w)" d="M280 16l13 47-5-26z"/><path style="fill:url(#g7x);stroke:url(#g7x)" d="M288 37l5 26 6 0z"/><path style="fill:url(#g7y);stroke:url(#g7y)" d="M288 37l11 26-5-34z"/><path color="#790" d="M294 29l5 34 8 19zM294 29l13 53-4-9z"/><path color="#5b0" d="M303 73l4 9 6-2-3-7z"/><path color="#5a0" d="M310 73l3 7 8-1z"/><path color="#8f0" d="M310 73l11 6-4 0z"/><path color="#690" d="M317 79l4 0 7-12z"/><path color="#9d0" d="M317 79l11-12-3 9z"/><path color="#8d1" d="M325 76l3-9 8 40z"/><path color="#5a1" d="M325 76l11 31-3-25z"/><path color="#4b1" d="M333 82l3 25 9-21z"/><path color="#7f0" d="M333 82l12 4-4 10z"/><path color="#5f0" d="M341 96l4-10 9 13-4 2z"/><path color="#5c0" d="M350 101l4-2 9-4-3-13z"/><path color="#490" d="M360 82l3 13 9 13z"/><path color="#5e0" d="M360 82l12 26-3-2z"/><path color="#3a0" d="M369 106l3 2 11-3-3-6z"/><path color="#5a0" d="M380 99l3 6 13-8z"/><path color="#7f0" d="M380 99l16-2-5 14z"/><path style="fill:url(#g7z);stroke:url(#g7z)" d="M391 111l5-14 10 18z"/><path style="fill:url(#g80);stroke:url(#g80)" d="M391 111l15 4-5 11z"/><path color="#2d1" d="M401 126l5-11 12 5-5 15z"/><path style="fill:url(#g81);stroke:url(#g81)" d="M280 66l0-50 8 21z"/><path style="fill:url(#g82);stroke:url(#g82)" d="M280 66l8-29 0 49z"/><path style="fill:url(#g83);stroke:url(#g83)" d="M288 86l0-49 6-8z"/><path style="fill:url(#g84);stroke:url(#g84)" d="M288 86l6-57-2 31z"/><path color="#cb0" d="M292 60l2-31 9 44z"/><path color="#ab0" d="M292 60l11 13-5-30z"/><path color="#9a0" d="M298 43l5 30 7 0-4-11z"/><path color="#790" d="M306 62l4 11 7 6-4-16z"/><path color="#8b0" d="M313 63l4 16 8-3-4-6z"/><path color="#7a0" d="M321 70l4 6 8 6z"/><path color="#8f0" d="M321 70l12 12-4 16z"/><path style="fill:url(#g85);stroke:url(#g85)" d="M329 98l4-16 8 14z"/><path style="fill:url(#g86);stroke:url(#g86)" d="M329 98l12-2-4 16z"/><path color="#2d1" d="M337 112l4-16 9 5z"/><path color="#3b1" d="M337 112l13-11-3-10z"/><path color="#6c0" d="M347 91l3 10 10-19z"/><path color="#7e0" d="M347 91l13-9-4 19z"/><path color="#6f0" d="M356 101l4-19 9 24z"/><path color="#6c0" d="M356 101l13 5-2-23zM367 83l2 23 11-7z"/><path color="#8f0" d="M367 83l13 16-4 13z"/><path style="fill:url(#g87);stroke:url(#g87)" d="M376 112l4-13 11 12z"/><path style="fill:url(#g88);stroke:url(#g88)" d="M376 112l15-1 0-46z"/><path color="#5a0" d="M391 65l0 46 10 15z"/><path color="#5b2" d="M391 65l10 61-4 12z"/><path color="#1b3" d="M397 138l4-12 12 9z"/><path color="#192" d="M397 138l16-3-2-12z"/><path color="#6f0" d="M277 73l3-7 8 20z"/><path color="#6c0" d="M277 73l11 13-6-30z"/><path color="#8c0" d="M282 56l6 30 4-26z"/><path color="#ef0" d="M282 56l10 4-3 5z"/><path color="#a80" d="M289 65l3-5 6-17-4-8z"/><path color="#b80" d="M294 35l4 8 8 19-4 3z"/><path color="#ee0" d="M302 65l4-3 7 1z"/><path color="#990" d="M302 65l11-2-4-5z"/><path color="#aa0" d="M309 58l4 5 8 7z"/><path color="#be0" d="M309 58l12 12-3 15z"/><path color="#6f0" d="M318 85l3-15 8 28-3-2z"/><path style="fill:url(#g89);stroke:url(#g89)" d="M326 96l3 2 8 14z"/><path style="fill:url(#g8a);stroke:url(#g8a)" d="M326 96l11 16-3-44z"/><path color="#6b1" d="M334 68l3 44 10-21z"/><path color="#9f0" d="M334 68l13 23-4 12z"/><path style="fill:url(#g8b);stroke:url(#g8b)" d="M343 103l4-12 9 10z"/><path style="fill:url(#g8c);stroke:url(#g8c)" d="M343 103l13-2-5 28z"/><path color="#5a1" d="M351 129l5-28 11-18-5 13z"/><path color="#8f0" d="M362 96l5-13 9 29z"/><path color="#4b0" d="M362 96l14 16-3-6z"/><path style="fill:url(#g8d);stroke:url(#g8d)" d="M373 106l3 6 15-47z"/><path style="fill:url(#g8e);stroke:url(#g8e)" d="M373 106l18-41-8 55z"/><path style="fill:url(#g8f);stroke:url(#g8f)" d="M383 120l8-55 6 73z"/><path style="fill:url(#g8g);stroke:url(#g8g)" d="M383 120l14 18-1-26z"/><path style="fill:url(#g8h);stroke:url(#g8h)" d="M396 112l1 26 14-15z"/><path style="fill:url(#g8i);stroke:url(#g8i)" d="M396 112l15 11-1-24z"/><path color="#ab0" d="M272 48l5 25 5-17z"/><path color="#ee0" d="M272 48l10 8-3 10z"/><path color="#bf0" d="M279 66l3-10 7 9-3 12z"/><path color="#780" d="M286 77l3-12 5-30z"/><path color="#9a0" d="M286 77l8-42-2 37z"/><path color="#cb0" d="M292 72l2-37 8 30z"/><path color="#ab0" d="M292 72l10-7-4-12z"/><path color="#ba0" d="M298 53l4 12 7-7z"/><path color="#ed0" d="M298 53l11 5-3 12z"/><path style="fill:url(#g8j);stroke:url(#g8j)" d="M306 70l3-12 9 27z"/><path style="fill:url(#g8k);stroke:url(#g8k)" d="M306 70l12 15-3 25z"/><path color="#3c1" d="M315 110l3-25 8 11z"/><path color="#2a1" d="M315 110l11-14-4-5z"/><path color="#6c0" d="M322 91l4 5 8-28z"/><path color="#7d0" d="M322 91l12-23-4 34z"/><path color="#6e0" d="M330 102l4-34 9 35z"/><path color="#3c0" d="M330 102l13 1-4-11z"/><path color="#391" d="M339 92l4 11 8 26-3-24z"/><path style="fill:url(#g8l);stroke:url(#g8l)" d="M348 105l3 24 11-33z"/><path style="fill:url(#g8m);stroke:url(#g8m)" d="M348 105l14-9-3-8z"/><path color="#5a0" d="M359 88l3 8 11 10z"/><path color="#7d0" d="M359 88l14 18-4-3z"/><path color="#4d0" d="M369 103l4 3 10 14z"/><path color="#3a0" d="M369 103l14 17-3-11z"/><path color="#4b0" d="M380 109l3 11 13-8z"/><path color="#5f0" d="M380 109l16 3-5 11z"/><path style="fill:url(#g8n);stroke:url(#g8n)" d="M391 123l5-11 14-13z"/><path style="fill:url(#g8o);stroke:url(#g8o)" d="M391 123l19-24-7 33z"/><path color="#8b1" d="M272 93l0-45 7 18z"/><path color="#481" d="M272 93l7-27-3 6z"/><path color="#9f0" d="M276 72l3-6 7 11z"/><path color="#6b0" d="M276 72l10 5-4-3z"/><path style="fill:url(#g8p);stroke:url(#g8p)" d="M282 74l4 3 6-5z"/><path style="fill:url(#g8q);stroke:url(#g8q)" d="M282 74l10-2-7-53z"/><path color="#b80" d="M285 19l7 53 6-19z"/><path color="#a90" d="M285 19l13 34-2 41z"/><path style="fill:url(#g8r);stroke:url(#g8r)" d="M296 94l2-41 8 17z"/><path style="fill:url(#g8s);stroke:url(#g8s)" d="M296 94l10-24-3 23z"/><path color="#5d1" d="M303 93l3-23 9 40z"/><path color="#3b1" d="M303 93l12 17-5-28z"/><path color="#4b1" d="M310 82l5 28 7-19z"/><path color="#7f0" d="M310 82l12 9-4 0z"/><path color="#5f0" d="M318 91l4 0 8 11z"/><path color="#6c0" d="M318 91l12 11-4-24zM326 78l4 24 9-10z"/><path color="#8f0" d="M326 78l13 14-4 14z"/><path color="#5f0" d="M335 106l4-14 9 13z"/><path color="#3a0" d="M335 106l13-1-3-3z"/><path color="#6a0" d="M345 102l3 3 11-17-4-10z"/><path style="fill:url(#g8t);stroke:url(#g8t)" d="M355 78l4 10 10 15z"/><path style="fill:url(#g8u);stroke:url(#g8u)" d="M355 78l14 25-5 19z"/><path style="fill:url(#g8v);stroke:url(#g8v)" d="M364 122l5-19 11 6z"/><path style="fill:url(#g8w);stroke:url(#g8w)" d="M364 122l16-13-5 21z"/><path color="#3d1" d="M375 130l5-21 11 14z"/><path color="#4c1" d="M375 130l16-7-2-25z"/><path color="#4b0" d="M389 98l2 25 12 9z"/><path color="#5e0" d="M389 98l14 34-4 1z"/><path color="#291" d="M268 94l4-1 4-21-3 7z"/><path color="#7f0" d="M273 79l3-7 6 2-4 2z"/><path color="#970" d="M278 76l4-2 3-55-3 17z"/><path color="#b70" d="M282 36l3-17 11 75z"/><path color="#880" d="M282 36l14 58-6-34z"/><path color="#6b0" d="M290 60l6 34 7-1-4-13z"/><path color="#5c0" d="M299 80l4 13 7-11z"/><path color="#6e0" d="M299 80l11 2-3 20z"/><path color="#5e0" d="M307 102l3-20 8 9z"/><path color="#5c0" d="M307 102l11-11-4-13z"/><path color="#8c0" d="M314 78l4 13 8-13z"/><path color="#9e0" d="M314 78l12 0-3 23z"/><path style="fill:url(#g8x);stroke:url(#g8x)" d="M323 101l3-23 9 28z"/><path style="fill:url(#g8y);stroke:url(#g8y)" d="M323 101l12 5-4 10z"/><path color="#3d0" d="M331 116l4-10 10-4-4 5z"/><path style="fill:url(#g8z);stroke:url(#g8z)" d="M341 107l4-5 10-24z"/><path style="fill:url(#g90);stroke:url(#g90)" d="M341 107l14-29-5 36z"/><path style="fill:url(#g91);stroke:url(#g91)" d="M350 114l5-36 9 44z"/><path style="fill:url(#g92);stroke:url(#g92)" d="M350 114l14 8-3-8z"/><path color="#181" d="M361 114l3 8 11 8z"/><path color="#2e2" d="M361 114l14 16-4 4z"/><path color="#391" d="M371 134l4-4 14-32z"/><path color="#4b1" d="M371 134l18-36-6 25z"/><path color="#6e0" d="M383 123l6-25 10 35z"/><path color="#6c0" d="M383 123l16 10 1-42z"/><path color="#2b1" d="M264 85l4 9 5-15z"/><path color="#3d1" d="M264 85l9-6-3 13z"/><path color="#4d1" d="M270 92l3-13 5-3z"/><path color="#5b0" d="M270 92l8-16-4-4z"/><path color="#9a0" d="M274 72l4 4 4-40z"/><path color="#ab0" d="M274 72l8-36-2 34z"/><path style="fill:url(#g93);stroke:url(#g93)" d="M280 70l2-34 8 24z"/><path style="fill:url(#g94);stroke:url(#g94)" d="M280 70l10-10-2 18z"/><path color="#ae0" d="M288 78l2-18 9 20-4 3z"/><path color="#7f0" d="M295 83l4-3 8 22z"/><path color="#5b0" d="M295 83l12 19-5-19z"/><path color="#6c0" d="M302 83l5 19 7-24z"/><path color="#8e0" d="M302 83l12-5-4 16z"/><path color="#7f0" d="M310 94l4-16 9 23z"/><path color="#5c0" d="M310 94l13 7-5-16z"/><path color="#390" d="M318 85l5 16 8 15-4-16z"/><path color="#3b0" d="M327 100l4 16 10-9-4-4zM337 103l4 4 9 7-4-8z"/><path color="#3a0" d="M346 106l4 8 11 0z"/><path color="#4e1" d="M346 106l15 8-5 14z"/><path color="#2d2" d="M356 128l5-14 10 20z"/><path color="#191" d="M356 128l15 6-4-3z"/><path color="#291" d="M367 131l4 3 12-11-3-11z"/><path style="fill:url(#g95);stroke:url(#g95)" d="M380 112l3 11 17-32z"/><path style="fill:url(#g96);stroke:url(#g96)" d="M380 112l20-21-8 41z"/><path color="#1a3" d="M262 102l2-17 6 7z"/><path color="#3a3" d="M262 102l8-10-6-21z"/><path color="#6c0" d="M264 71l6 21 4-20z"/><path color="#9f0" d="M264 71l10 1-3 6z"/><path color="#9e0" d="M271 78l3-6 6-2z"/><path color="#8b0" d="M271 78l9-8-4-5zM276 65l4 5 8 8z"/><path color="#ae0" d="M276 65l12 13-4-1z"/><path color="#7e0" d="M284 77l4 1 7 5-4 7z"/><path color="#7f0" d="M291 90l4-7 7 0z"/><path color="#7c0" d="M291 90l11-7-4-9z"/><path color="#690" d="M298 74l4 9 8 11z"/><path color="#7f0" d="M298 74l12 20-3 11z"/><path style="fill:url(#g97);stroke:url(#g97)" d="M307 105l3-11 8-9z"/><path style="fill:url(#g98);stroke:url(#g98)" d="M307 105l11-20-4-25z"/><path color="#7a0" d="M314 60l4 25 9 15z"/><path color="#9e0" d="M314 60l13 40-4 3z"/><path color="#5f0" d="M323 103l4-3 10 3-4 17z"/><path color="#4d0" d="M333 120l4-17 9 3z"/><path color="#4b0" d="M333 120l13-14-4-6z"/><path color="#4b1" d="M342 100l4 6 10 22z"/><path color="#390" d="M342 100l14 28-3-13z"/><path style="fill:url(#g99);stroke:url(#g99)" d="M353 115l3 13 11 3z"/><path style="fill:url(#g9a);stroke:url(#g9a)" d="M353 115l14 16-2-39z"/><path color="#6c0" d="M365 92l2 39 13-19z"/><path color="#9f0" d="M365 92l15 20-5 12z"/><path style="fill:url(#g9b);stroke:url(#g9b)" d="M375 124l5-12 12 20z"/><path style="fill:url(#g9c);stroke:url(#g9c)" d="M375 124l17 8-5 11z"/><path color="#383" d="M258 98l4 4 2-31z"/><path color="#393" d="M258 98l6-27 0 34z"/><path style="fill:url(#g9d);stroke:url(#g9d)" d="M264 105l0-34 7 7z"/><path style="fill:url(#g9e);stroke:url(#g9e)" d="M264 105l7-27-2 21z"/><path color="#6b1" d="M269 99l2-21 5-13-3 15z"/><path color="#9f0" d="M273 80l3-15 8 12-4 6z"/><path color="#8f0" d="M280 83l4-6 7 13-4-1z"/><path style="fill:url(#g9f);stroke:url(#g9f)" d="M287 89l4 1 7-16z"/><path style="fill:url(#g9g);stroke:url(#g9g)" d="M287 89l11-15-6-27z"/><path color="#780" d="M292 47l6 27 9 31-5-28z"/><path color="#9b0" d="M302 77l5 28 7-45z"/><path color="#ac0" d="M302 77l12-17-3 43z"/><path style="fill:url(#g9h);stroke:url(#g9h)" d="M311 103l3-43 9 43z"/><path style="fill:url(#g9i);stroke:url(#g9i)" d="M311 103l12 0-4-7z"/><path style="fill:url(#g9j);stroke:url(#g9j)" d="M319 96l4 7 10 17z"/><path style="fill:url(#g9k);stroke:url(#g9k)" d="M319 96l14 24-5-36z"/><path style="fill:url(#g9l);stroke:url(#g9l)" d="M328 84l5 36 9-20z"/><path style="fill:url(#g9m);stroke:url(#g9m)" d="M328 84l14 16-3-38z"/><path color="#7a0" d="M339 62l3 38 11 15z"/><path color="#8b0" d="M339 62l14 53-4-7z"/><path style="fill:url(#g9n);stroke:url(#g9n)" d="M349 108l4 7 12-23z"/><path style="fill:url(#g9o);stroke:url(#g9o)" d="M349 108l16-16-6 38z"/><path style="fill:url(#g9p);stroke:url(#g9p)" d="M359 130l6-38 10 32z"/><path style="fill:url(#g9q);stroke:url(#g9q)" d="M359 130l16-6-4 0z"/><path style="fill:url(#g9r);stroke:url(#g9r)" d="M371 124l4 0 12 19z"/><path style="fill:url(#g9s);stroke:url(#g9s)" d="M371 124l16 19-2-28z"/><path color="#047" d="M256 115l2-17 6 7-3 6z"/><path color="#065" d="M261 111l3-6 5-6z"/><path color="#064" d="M261 111l8-12-4 3z"/><path color="#281" d="M265 102l4-3 4-19z"/><path color="#3b1" d="M265 102l8-22-2 17z"/><path color="#4d0" d="M271 97l2-17 7 3-3 13z"/><path color="#5e0" d="M277 96l3-13 7 6-3 6z"/><path color="#690" d="M284 95l3-6 5-42z"/><path color="#8b0" d="M284 95l8-48-2 35z"/><path style="fill:url(#g9t);stroke:url(#g9t)" d="M290 82l2-35 10 30z"/><path style="fill:url(#g9u);stroke:url(#g9u)" d="M290 82l12-5-5 1z"/><path color="#af0" d="M297 78l5-1 9 26z"/><path color="#8b0" d="M297 78l14 25-6-30z"/><path color="#7c0" d="M305 73l6 30 8-7z"/><path color="#ad0" d="M305 73l14 23-4-3z"/><path color="#7a0" d="M315 93l4 3 9-12-4-4z"/><path style="fill:url(#g9v);stroke:url(#g9v)" d="M324 80l4 4 11-22z"/><path style="fill:url(#g9w);stroke:url(#g9w)" d="M324 80l15-18-5 73z"/><path style="fill:url(#g9x);stroke:url(#g9x)" d="M334 135l5-73 10 46z"/><path style="fill:url(#g9y);stroke:url(#g9y)" d="M334 135l15-27-5 12z"/><path color="#5f0" d="M344 120l5-12 10 22z"/><path color="#290" d="M344 120l15 10-4-8z"/><path color="#3a0" d="M355 122l4 8 12-6z"/><path color="#4f0" d="M355 122l16 2-5 15z"/><path style="fill:url(#g9z);stroke:url(#g9z)" d="M366 139l5-15 14-9z"/><path style="fill:url(#ga0);stroke:url(#ga0)" d="M366 139l19-24-6 23z"/><path color="#018" d="M253 121l3-6 5-4z"/><path color="#017" d="M253 121l8-10-4 4z"/><path color="#055" d="M257 115l4-4 4-9-3 2z"/><path color="#092" d="M262 104l3-2 6-5z"/><path color="#1b2" d="M262 104l9-7-4 4z"/><path color="#2d1" d="M267 101l4-4 6-1z"/><path color="#4c1" d="M267 101l10-5-6-20z"/><path color="#4b0" d="M271 76l6 20 7-1z"/><path color="#6d0" d="M271 76l13 19-5-3z"/><path color="#5a0" d="M279 92l5 3 6-13z"/><path color="#6e0" d="M279 92l11-10-3 20z"/><path style="fill:url(#ga1);stroke:url(#ga1)" d="M287 102l3-20 7-4z"/><path style="fill:url(#ga2);stroke:url(#ga2)" d="M287 102l10-24-6-33z"/><path color="#b90" d="M291 45l6 33 8-5z"/><path color="#ec0" d="M291 45l14 28-4 10z"/><path color="#cf0" d="M301 83l4-10 10 20-5 3z"/><path style="fill:url(#ga3);stroke:url(#ga3)" d="M310 96l5-3 9-13z"/><path style="fill:url(#ga4);stroke:url(#ga4)" d="M310 96l14-16-4 37z"/><path style="fill:url(#ga5);stroke:url(#ga5)" d="M320 117l4-37 10 55z"/><path style="fill:url(#ga6);stroke:url(#ga6)" d="M320 117l14 18-5-26z"/><path color="#3b1" d="M329 109l5 26 10-15z"/><path color="#5f0" d="M329 109l15 11-4 8z"/><path color="#3f0" d="M340 128l4-8 11 2-4 8zM351 130l4-8 11 17z"/><path color="#2a0" d="M351 130l15 9-4-4z"/><path style="fill:url(#ga7);stroke:url(#ga7)" d="M362 135l4 4 13-1z"/><path style="fill:url(#ga8);stroke:url(#ga8)" d="M362 135l17 3-6 31z"/><path color="#018" d="M250 125l3-4 4-6z"/><path color="#017" d="M250 125l7-10-3 3z"/><path color="#035" d="M254 118l3-3 5-11z"/><path color="#047" d="M254 118l8-14-3 13z"/><path color="#074" d="M259 117l3-13 5-3z"/><path color="#063" d="M259 117l8-16-4 4z"/><path color="#381" d="M263 105l4-4 4-25z"/><path color="#4b1" d="M263 105l8-29-1 29z"/><path color="#5d1" d="M270 105l1-29 8 16z"/><path color="#6c1" d="M270 105l9-13-6-22z"/><path color="#5b0" d="M273 70l6 22 8 10z"/><path color="#6f0" d="M273 70l14 32-4 5z"/><path color="#590" d="M283 107l4-5 4-57z"/><path color="#7a0" d="M283 107l8-62-2 47z"/><path color="#bb0" d="M289 92l2-47 10 38z"/><path color="#ab0" d="M289 92l12-9-6-31z"/><path style="fill:url(#ga9);stroke:url(#ga9)" d="M295 52l6 31 9 13z"/><path style="fill:url(#gaa);stroke:url(#gaa)" d="M295 52l15 44-3 26z"/><path color="#4d1" d="M307 122l3-26 10 21z"/><path color="#2b0" d="M307 122l13-5-5-8z"/><path color="#4b0" d="M315 109l5 8 9-8-4-2z"/><path color="#5e0" d="M325 107l4 2 11 19z"/><path color="#3a0" d="M325 107l15 21-5-9z"/><path style="fill:url(#gab);stroke:url(#gab)" d="M335 119l5 9 11 2z"/><path style="fill:url(#gac);stroke:url(#gac)" d="M335 119l16 11-4-34z"/><path style="fill:url(#gad);stroke:url(#gad)" d="M347 96l4 34 11 5z"/><path style="fill:url(#gae);stroke:url(#gae)" d="M347 96l15 39-4-9z"/><path color="#292" d="M358 126l4 9 11 34z"/><path color="#282" d="M358 126l15 43-3-26z"/><path color="#007" d="M247 132l3-7 4-7-3 10z"/><path color="#019" d="M251 128l3-10 5-1-3 6z"/><path color="#045" d="M256 123l3-6 4-12-3 7z"/><path color="#0a3" d="M260 112l3-7 7 0z"/><path color="#172" d="M260 112l10-7-5-1z"/><path color="#4a1" d="M265 104l5 1 3-35z"/><path color="#6b0" d="M265 104l8-34-3 18z"/><path style="fill:url(#gaf);stroke:url(#gaf)" d="M270 88l3-18 10 37z"/><path style="fill:url(#gag);stroke:url(#gag)" d="M270 88l13 19-4-1z"/><path color="#4a0" d="M279 106l4 1 6-15-4-3z"/><path style="fill:url(#gah);stroke:url(#gah)" d="M285 89l4 3 6-40z"/><path style="fill:url(#gai);stroke:url(#gai)" d="M285 89l10-37-1 59z"/><path style="fill:url(#gaj);stroke:url(#gaj)" d="M294 111l1-59 12 70z"/><path style="fill:url(#gak);stroke:url(#gak)" d="M294 111l13 11-5-6z"/><path color="#3b0" d="M302 116l5 6 8-13-4-6z"/><path color="#5a0" d="M311 103l4 6 10-2z"/><path color="#6f0" d="M311 103l14 4-4 19z"/><path color="#5e0" d="M321 126l4-19 10 12-4 3z"/><path style="fill:url(#gal);stroke:url(#gal)" d="M331 122l4-3 12-23z"/><path style="fill:url(#gam);stroke:url(#gam)" d="M331 122l16-26-6 43z"/><path style="fill:url(#gan);stroke:url(#gan)" d="M341 139l6-43 11 30z"/><path style="fill:url(#gao);stroke:url(#gao)" d="M341 139l17-13-5 12z"/><path style="fill:url(#gap);stroke:url(#gap)" d="M353 138l5-12 12 17z"/><path style="fill:url(#gaq);stroke:url(#gaq)" d="M353 138l17 5-5 14z"/><path color="#006" d="M244 137l3-5 4-4-3 5z"/><path color="#008" d="M248 133l3-5 5-5-4 5z"/><path color="#026" d="M252 128l4-5 4-11z"/><path color="#037" d="M252 128l8-16-3 9z"/><path color="#074" d="M257 121l3-9 5-8-3 10z"/><path color="#291" d="M262 114l3-10 5-16z"/><path color="#3b1" d="M262 114l8-26-3 16z"/><path color="#4f0" d="M267 104l3-16 9 18-5 3z"/><path color="#390" d="M274 109l5-3 6-17z"/><path color="#5c0" d="M274 109l11-20-4 12z"/><path color="#6f0" d="M281 101l4-12 9 22-5 1z"/><path color="#3f0" d="M289 112l5-1 8 5z"/><path color="#3a0" d="M289 112l13 4-5-8z"/><path color="#4b0" d="M297 108l5 8 9-13z"/><path color="#6f0" d="M297 108l14-5-4 17z"/><path color="#5f0" d="M307 120l4-17 10 23z"/><path color="#3b0" d="M307 120l14 6-5-12z"/><path color="#4b0" d="M316 114l5 12 10-4-5-4z"/><path color="#4c0" d="M326 118l5 4 10 17z"/><path color="#3a0" d="M326 118l15 21-4-9z"/><path color="#2a0" d="M337 130l4 9 12-1z"/><path color="#3d0" d="M337 130l16 8-4-1z"/><path color="#2d1" d="M349 137l4 1 12 19z"/><path color="#191" d="M349 137l16 20-4-10z"/><path color="#005" d="M240 142l4-5 4-4zM240 142l8-9-4 3z"/><path color="#007" d="M244 136l4-3 4-5z"/><path color="#008" d="M244 136l8-8-3 8z"/><path color="#018" d="M249 136l3-8 5-7-3 11z"/><path color="#037" d="M254 132l3-11 5-7-3 17z"/><path color="#074" d="M259 131l3-17 5-10-3 13z"/><path color="#1c1" d="M264 117l3-13 7 5z"/><path color="#191" d="M264 117l10-8-4-2z"/><path color="#390" d="M270 107l4 2 7-8-6-12z"/><path color="#490" d="M275 89l6 12 8 11-5-13z"/><path color="#4b0" d="M284 99l5 13 8-4z"/><path color="#6f0" d="M284 99l13 9-4 9z"/><path color="#4f0" d="M293 117l4-9 10 12-5 4z"/><path color="#3d0" d="M302 124l5-4 9-6z"/><path color="#6c0" d="M302 124l14-10-5-15z"/><path color="#6a0" d="M311 99l5 15 10 4z"/><path color="#9f0" d="M311 99l15 19-5 2z"/><path color="#6f0" d="M321 120l5-2 11 12z"/><path color="#5b0" d="M321 120l16 10-5-17z"/><path style="fill:url(#gar);stroke:url(#gar)" d="M332 113l5 17 12 7z"/><path style="fill:url(#gas);stroke:url(#gas)" d="M332 113l17 24-5-21z"/><path color="#4b0" d="M344 116l5 21 12 10z"/><path color="#5e1" d="M344 116l17 31-5 13z"/><path color="#004" d="M237 147l3-5 4-6z"/><path color="#005" d="M237 147l7-11-2 9z"/><path color="#006" d="M242 145l2-9 5 0-3 8z"/><path color="#007" d="M246 144l3-8 5-4z"/><path color="#006" d="M246 144l8-12-4 3z"/><path color="#019" d="M250 135l4-3 5-1z"/><path color="#018" d="M250 135l9-4-4 2z"/><path color="#044" d="M255 133l4-2 5-14-5-7z"/><path color="#191" d="M259 110l5 7 6-10z"/><path color="#2d1" d="M259 110l11-3-4 12z"/><path color="#3b1" d="M266 119l4-12 5-18-3 21z"/><path color="#7e0" d="M272 110l3-21 9 10z"/><path color="#8c0" d="M272 110l12-11-7-30z"/><path color="#6a0" d="M277 69l7 30 9 18zM277 69l16 48-6-14z"/><path color="#4a0" d="M287 103l6 14 9 7-6-18z"/><path color="#6c0" d="M296 106l6 18 9-25z"/><path color="#8e0" d="M296 106l15-7-5 26z"/><path style="fill:url(#gat);stroke:url(#gat)" d="M306 125l5-26 10 21z"/><path style="fill:url(#gau);stroke:url(#gau)" d="M306 125l15-5-4 18z"/><path style="fill:url(#gav);stroke:url(#gav)" d="M317 138l4-18 11-7z"/><path style="fill:url(#gaw);stroke:url(#gaw)" d="M317 138l15-25-5 33z"/><path style="fill:url(#gax);stroke:url(#gax)" d="M327 146l5-33 12 3z"/><path style="fill:url(#gay);stroke:url(#gay)" d="M327 146l17-30-5 34z"/><path style="fill:url(#gaz);stroke:url(#gaz)" d="M339 150l5-34 12 44z"/><path style="fill:url(#gb0);stroke:url(#gb0)" d="M339 150l17 10-5 6z"/><path color="#004" d="M234 152l3-5 5-2-4 6z"/><path color="#005" d="M238 151l4-6 4-1-3 6zM243 150l3-6 4-9z"/><path color="#006" d="M243 150l7-15-2 13z"/><path color="#008" d="M248 148l2-13 5-2-3 9z"/><path color="#035" d="M252 142l3-9 4-23z"/><path color="#054" d="M252 142l7-32-3 16z"/><path style="fill:url(#gb1);stroke:url(#gb1)" d="M256 126l3-16 7 9z"/><path style="fill:url(#gb2);stroke:url(#gb2)" d="M256 126l10-7-2 18z"/><path color="#184" d="M264 137l2-18 6-9-2 23z"/><path color="#481" d="M270 133l2-23 5-41z"/><path color="#681" d="M270 133l7-64-3 30z"/><path style="fill:url(#gb3);stroke:url(#gb3)" d="M274 99l3-30 10 34z"/><path style="fill:url(#gb4);stroke:url(#gb4)" d="M274 99l13 4-3 26z"/><path style="fill:url(#gb5);stroke:url(#gb5)" d="M284 129l3-26 9 3z"/><path style="fill:url(#gb6);stroke:url(#gb6)" d="M284 129l12-23-4 16z"/><path style="fill:url(#gb7);stroke:url(#gb7)" d="M292 122l4-16 10 19z"/><path style="fill:url(#gb8);stroke:url(#gb8)" d="M292 122l14 3-4 4z"/><path color="#3f0" d="M302 129l4-4 11 13z"/><path color="#2a0" d="M302 129l15 9-6-8z"/><path color="#290" d="M311 130l6 8 10 8-5-20z"/><path color="#2a1" d="M322 126l5 20 12 4z"/><path color="#3c0" d="M322 126l17 24-5-4z"/><path color="#1a1" d="M334 146l5 4 12 16z"/><path color="#2a1" d="M334 146l17 20-5-23z"/><path color="#003" d="M231 156l3-4 4-1-3 6z"/><path color="#004" d="M235 157l3-6 5-1-3 6z"/><path color="#005" d="M240 156l3-6 5-2-4 6z"/><path color="#006" d="M244 154l4-6 4-6-3 7z"/><path color="#026" d="M249 149l3-7 4-16z"/><path color="#027" d="M249 149l7-23-2 23z"/><path color="#028" d="M254 149l2-23 8 11-4 9z"/><path color="#037" d="M260 146l4-9 6-4-4 11z"/><path color="#253" d="M266 144l4-11 4-34z"/><path color="#383" d="M266 144l8-45-2 30z"/><path style="fill:url(#gb9);stroke:url(#gb9)" d="M272 129l2-30 10 30z"/><path style="fill:url(#gba);stroke:url(#gba)" d="M272 129l12 0-3 17z"/><path color="#193" d="M281 146l3-17 8-7z"/><path color="#182" d="M281 146l11-24-5 3z"/><path color="#3f0" d="M287 125l5-3 10 7-5 1z"/><path color="#2c0" d="M297 130l5-1 9 1-4 16z"/><path style="fill:url(#gbb);stroke:url(#gbb)" d="M307 146l4-16 11-4z"/><path style="fill:url(#gbc);stroke:url(#gbc)" d="M307 146l15-20-4 37z"/><path style="fill:url(#gbd);stroke:url(#gbd)" d="M318 163l4-37 12 20z"/><path style="fill:url(#gbe);stroke:url(#gbe)" d="M318 163l16-17-6-3z"/><path color="#2a0" d="M328 143l6 3 12-3z"/><path color="#4f0" d="M328 143l18 0-5 16z"/><path color="#002" d="M227 161l4-5 4 1-3 5z"/><path color="#003" d="M232 162l3-5 5-1-4 6z"/><path color="#004" d="M236 162l4-6 4-2-3 8z"/><path color="#005" d="M241 162l3-8 5-5-3 12z"/><path color="#006" d="M246 161l3-12 5 0-3 12z"/><path color="#007" d="M251 161l3-12 6-3-4 9z"/><path color="#018" d="M256 155l4-9 6-2-3 15z"/><path color="#036" d="M263 159l3-15 6-15-3 26z"/><path color="#056" d="M269 155l3-26 9 17-5 4z"/><path color="#153" d="M276 150l5-4 6-21z"/><path color="#184" d="M276 150l11-25-3 22z"/><path style="fill:url(#gbf);stroke:url(#gbf)" d="M284 147l3-22 10 5z"/><path style="fill:url(#gbg);stroke:url(#gbg)" d="M284 147l13-17-3 38z"/><path style="fill:url(#gbh);stroke:url(#gbh)" d="M294 168l3-38 10 16z"/><path style="fill:url(#gbi);stroke:url(#gbi)" d="M294 168l13-22-4 21z"/><path style="fill:url(#gbj);stroke:url(#gbj)" d="M303 167l4-21 11 17z"/><path style="fill:url(#gbk);stroke:url(#gbk)" d="M303 167l15-4-5 3z"/><path color="#172" d="M313 166l5-3 10-20z"/><path color="#1a3" d="M313 166l15-23-5 24z"/><path style="fill:url(#gbl);stroke:url(#gbl)" d="M323 167l5-24 13 16z"/><path style="fill:url(#gbm);stroke:url(#gbm)" d="M323 167l18-8-6 24z"/><path color="#001" d="M224 164l3-3 5 1-4 5z"/><path color="#002" d="M228 167l4-5 4 0-3 6z"/><path color="#003" d="M233 168l3-6 5 0-3 7z"/><path color="#004" d="M238 169l3-7 5-1-3 8z"/><path color="#005" d="M243 169l3-8 5 0-3 9zM248 170l3-9 5-6-3 14z"/><path color="#007" d="M253 169l3-14 7 4-4 10z"/><path color="#008" d="M259 169l4-10 6-4-3 10z"/><path color="#018" d="M266 165l3-10 7-5-3 20z"/><path style="fill:url(#gbn);stroke:url(#gbn)" d="M273 170l3-20 8-3z"/><path style="fill:url(#gbo);stroke:url(#gbo)" d="M273 170l11-23-3 23z"/><path style="fill:url(#gbp);stroke:url(#gbp)" d="M281 170l3-23 10 21z"/><path style="fill:url(#gbq);stroke:url(#gbq)" d="M281 170l13-2-5 4z"/><path color="#028" d="M289 172l5-4 9-1-4 20z"/><path style="fill:url(#gbr);stroke:url(#gbr)" d="M299 187l4-20 10-1z"/><path style="fill:url(#gbs);stroke:url(#gbs)" d="M299 187l14-21-5 20z"/><path style="fill:url(#gbt);stroke:url(#gbt)" d="M308 186l5-20 10 1z"/><path style="fill:url(#gbu);stroke:url(#gbu)" d="M308 186l15-19-4 28z"/><path style="fill:url(#gbv);stroke:url(#gbv)" d="M319 195l4-28 12 16z"/><path style="fill:url(#gbw);stroke:url(#gbw)" d="M319 195l16-12-5 23z"/><path color="#000" d="M220 166l4-2 4 3-3 3z"/><path color="#001" d="M225 170l3-3 5 1-4 5zM229 173l4-5 5 1-4 6z"/><path color="#002" d="M234 175l4-6 5 0-4 8z"/><path color="#003" d="M239 177l4-8 5 1-3 8z"/><path color="#004" d="M245 178l3-8 5-1-3 10z"/><path color="#005" d="M250 179l3-10 6 0-3 13z"/><path color="#006" d="M256 182l3-13 7-4-3 18z"/><path color="#007" d="M263 183l3-18 7 5-3 15zM270 185l3-15 8 0-4 21zM277 191l4-21 8 2-4 21z"/><path color="#008" d="M285 193l4-21 10 15-5 13zM294 200l5-13 9-1-4 20zM304 206l4-20 11 9-5 21zM314 216l5-21 11 11-5 18z"/><path color="#000" d="M216 167l4-1 5 4-4 2zM221 172l4-2 4 3-3 3zM226 176l3-3 5 2-3 6z"/><path color="#001" d="M231 181l3-6 5 2-3 7z"/><path color="#002" d="M236 184l3-7 6 1-4 8zM241 186l4-8 5 1-3 10z"/><path color="#003" d="M247 189l3-10 6 3-3 10z"/><path color="#004" d="M253 192l3-10 7 1-4 12zM259 195l4-12 7 2-4 14z"/><path color="#005" d="M266 199l4-14 7 6-3 12zM274 203l3-12 8 2-3 17zM282 210l3-17 9 7-4 16z"/><path color="#006" d="M290 216l4-16 10 6-4 18zM300 224l4-18 10 10-5 15zM309 231l5-15 11 8-5 17z"/><path color="#000" d="M212 169l4-2 5 5-4 1zM217 173l4-1 5 4-5 1zM221 177l5-1 5 5-4 1zM227 182l4-1 5 3-4 3zM232 187l4-3 5 2-3 6z"/><path color="#001" d="M238 192l3-6 6 3-4 8zM243 197l4-8 6 3-4 9z"/><path color="#002" d="M249 201l4-9 6 3-3 11zM256 206l3-11 7 4-3 12z"/><path color="#003" d="M263 211l3-12 8 4-4 13zM270 216l4-13 8 7-4 13zM278 223l4-13 8 6-4 14zM286 230l4-14 10 8-5 14zM295 238l5-14 9 7-4 15zM305 246l4-15 11 10-5 15z"/><path color="#000" d="M208 170l4-1 5 4-5 1zM212 174l5-1 4 4-4 2zM217 179l4-2 6 5-5 2zM222 184l5-2 5 5-4 2zM228 189l4-2 6 5-5 2zM233 194l5-2 5 5-4 3zM239 200l4-3 6 4-4 5zM245 206l4-5 7 5-4 6z"/><path color="#001" d="M252 212l4-6 7 5-4 7zM259 218l4-7 7 5-4 9zM266 225l4-9 8 7-4 10zM274 233l4-10 8 7-4 11zM282 241l4-11 9 8-4 11zM291 249l4-11 10 8-5 12zM300 258l5-12 10 10-4 12z"/></g></g>
<g><path d="M207.8 474.3L177.1 322.9M207.8 474.3L387.1 414.4M387.1 414.4L395.3 310.8M387.1 414.4L501.3 452M256.3 458L239.6 319.4M202.7 448.9L388.5 395.9M405.4 420.4L417.1 311.9M388.5 395.9L507.3 429M297 444.5L289.9 316.6M197.1 421.5L390.1 376.4M425.7 427.1L441.5 313.2M390.1 376.4L513.8 404.4M331.5 432.9L331.3 314.4M191 391.5L391.7 355.8M448.1 434.5L469.1 314.6M391.7 355.8L520.8 377.8M361.3 423L365.9 312.5M184.4 358.8L393.5 334M473.2 442.7L500.4 316.1M393.5 334L528.3 349.1M387.1 414.4L395.3 310.8M177.1 322.9L395.3 310.8M501.3 452L536.5 318M395.3 310.8L536.5 318M207.8 474.3L311.2 572M311.2 572L501.3 452" class="gr"/>
<g class="s"><defs><linearGradient id="gbx" x1="-.07" y1="0" x2="-.05" y2="1.02"><stop stop-color="#3c0"/><stop offset="1" stop-color="#007"/></linearGradient><linearGradient id="gby" x1=".21" y1=".49" x2=".46" y2=".11"><stop stop-color="#006"/><stop offset=".65" stop-color="#3b0"/><stop offset="1" stop-color="#073"/></linearGradient><linearGradient id="gbz" x1=".5" y1="0" x2=".49" y2="1"><stop stop-color="#3d0"/><stop offset=".41" stop-color="#093"/><stop offset="1" stop-color="#008"/></linearGradient><linearGradient id="gc0" x1=".26" y1=".13" x2=".4" y2=".98"><stop stop-color="#083"/><stop offset="1" stop-color="#009"/></linearGradient><linearGradient id="gc1" x1=".54" y1="-.27" x2="-.15" y2=".91"><stop stop-color="#009"/><stop offset="1" stop-color="#006"/></linearGradient><linearGradient id="gc2" x1=".67" y1="-.03" x2=".56" y2="1.01"><stop stop-color="#009"/><stop offset="1" stop-color="#001"/></linearGradient><linearGradient id="gc3" x1=".68" y1=".03" x2=".51" y2="1.08"><stop stop-color="#008"/><stop offset="1" stop-color="#001"/></linearGradient><linearGradient id="gc4" x1=".76" y1=".54" x2=".59" y2=".25"><stop stop-color="#001"/><stop offset="1" stop-color="#005"/></linearGradient><linearGradient id="gc5" x1=".42" y1=".36" x2=".32" y2=".47"><stop stop-color="#018"/><stop offset="1" stop-color="#009"/></linearGradient><linearGradient id="gc6" x1="1.09" y1="0" x2="1.05" y2="1"><stop stop-color="#bd0"/><stop offset="1" stop-color="#009"/></linearGradient><linearGradient id="gc7" x1="1.09" y1=".58" x2=".09" y2=".35"><stop stop-color="#038"/><stop offset=".69" stop-color="#ce0"/><stop offset="1" stop-color="#094"/></linearGradient><linearGradient id="gc8" x1=".88" y1=".96" x2=".65" y2="-.14"><stop stop-color="#01b"/><stop offset="1" stop-color="#0a4"/></linearGradient><linearGradient id="gc9" x1=".34" y1="1.03" x2=".5" y2=".08"><stop stop-color="#007"/><stop offset="1" stop-color="#026"/></linearGradient><linearGradient id="gca" x1="1.03" y1="0" x2=".98" y2="1.01"><stop stop-color="#9d0"/><stop offset="1" stop-color="#028"/></linearGradient><linearGradient id="gcb" x1=".63" y1="0" x2=".62" y2="1"><stop stop-color="#ae0"/><stop offset=".84" stop-color="#066"/><stop offset="1" stop-color="#038"/></linearGradient><linearGradient id="gcc" x1=".45" y1="-.06" x2=".61" y2="1.02"><stop stop-color="#077"/><stop offset="1" stop-color="#02b"/></linearGradient><linearGradient id="gcd" x1=".8" y1=".04" x2=".69" y2=".96"><stop stop-color="#0a3"/><stop offset="1" stop-color="#00a"/></linearGradient><linearGradient id="gce" x1=".66" y1=".15" x2=".46" y2=".95"><stop stop-color="#00a"/><stop offset="1" stop-color="#008"/></linearGradient><linearGradient id="gcf" x1=".4" y1=".95" x2=".48" y2=".01"><stop stop-color="#007"/><stop offset="1" stop-color="#01a"/></linearGradient><linearGradient id="gcg" x1=".61" y1=".05" x2=".52" y2="1"><stop stop-color="#007"/><stop offset="1" stop-color="#003"/></linearGradient><linearGradient id="gch" x1="-.29" y1=".89" x2="-.07" y2="-.02"><stop stop-color="#064"/><stop offset=".35" stop-color="#092"/><stop offset="1" stop-color="#8c0"/></linearGradient><linearGradient id="gci" x1=".7" y1="0" x2=".68" y2=".99"><stop stop-color="#9c0"/><stop offset="1" stop-color="#092"/></linearGradient><linearGradient id="gcj" x1="1.18" y1=".15" x2="1.07" y2="1.01"><stop stop-color="#8b0"/><stop offset=".94" stop-color="#082"/><stop offset="1" stop-color="#073"/></linearGradient><linearGradient id="gck" x1="-.02" y1=".46" x2=".68" y2="1.22"><stop stop-color="#9c0"/><stop offset=".34" stop-color="#d70"/><stop offset="1" stop-color="#084"/></linearGradient><linearGradient id="gcl" x1="-.22" y1=".04" x2="-.15" y2="1.05"><stop stop-color="#1b1"/><stop offset="1" stop-color="#007"/></linearGradient><linearGradient id="gcm" x1="-.7" y1=".14" x2="-.48" y2="1.27"><stop stop-color="#1a1"/><stop offset="1" stop-color="#006"/></linearGradient><linearGradient id="gcn" x1=".47" y1="-.01" x2=".46" y2="1.01"><stop stop-color="#ad0"/><stop offset="1" stop-color="#083"/></linearGradient><linearGradient id="gco" x1=".83" y1="-.01" x2=".77" y2="1.01"><stop stop-color="#ad0"/><stop offset=".89" stop-color="#083"/><stop offset="1" stop-color="#075"/></linearGradient><linearGradient id="gcp" x1=".26" y1=".46" x2=".42" y2=".67"><stop stop-color="#9c0"/><stop offset=".35" stop-color="#c70"/><stop offset="1" stop-color="#064"/></linearGradient><linearGradient id="gcq" x1=".36" y1=".62" x2=".61" y2=".87"><stop stop-color="#065"/><stop offset=".11" stop-color="#d70"/><stop offset="1" stop-color="#1a2"/></linearGradient><linearGradient id="gcr" x1=".73" y1="-.05" x2=".5" y2="1.1"><stop stop-color="#1c1"/><stop offset=".27" stop-color="#093"/><stop offset="1" stop-color="#008"/></linearGradient><linearGradient id="gcs" x1=".32" y1=".1" x2=".44" y2=".94"><stop stop-color="#1b1"/><stop offset="1" stop-color="#008"/></linearGradient><linearGradient id="gct" x1=".62" y1=".03" x2=".5" y2="1.06"><stop stop-color="#2d1"/><stop offset="1" stop-color="#038"/></linearGradient><linearGradient id="gcu" x1=".83" y1="-.05" x2=".51" y2=".96"><stop stop-color="#075"/><stop offset="1" stop-color="#00a"/></linearGradient><linearGradient id="gcv" x1="1.25" y1=".44" x2=".05" y2="-.09"><stop stop-color="#009"/><stop offset="1" stop-color="#075"/></linearGradient><linearGradient id="gcw" x1="1.07" y1=".01" x2=".99" y2="1.02"><stop stop-color="#6d0"/><stop offset=".6" stop-color="#065"/><stop offset="1" stop-color="#008"/></linearGradient><linearGradient id="gcx" x1=".15" y1="0" x2=".17" y2="1"><stop stop-color="#6c0"/><stop offset="1" stop-color="#008"/></linearGradient><linearGradient id="gcy" x1="-.23" y1=".01" x2="-.17" y2="1.07"><stop stop-color="#6e0"/><stop offset="1" stop-color="#038"/></linearGradient><linearGradient id="gcz" x1=".42" y1="-.04" x2=".34" y2="1"><stop stop-color="#191"/><stop offset="1" stop-color="#064"/></linearGradient><linearGradient id="gd0" x1=".76" y1="0" x2=".74" y2="1.01"><stop stop-color="#cc0"/><stop offset=".93" stop-color="#1b1"/><stop offset="1" stop-color="#1a2"/></linearGradient><linearGradient id="gd1" x1=".54" y1=".55" x2=".44" y2=".42"><stop stop-color="#008"/><stop offset=".73" stop-color="#5b0"/><stop offset="1" stop-color="#064"/></linearGradient><linearGradient id="gd2" x1="1.38" y1=".51" x2=".39" y2="1.24"><stop stop-color="#6d0"/><stop offset=".85" stop-color="#006"/><stop offset="1" stop-color="#009"/></linearGradient><linearGradient id="gd3" x1="-.38" y1=".37" x2="-.13" y2="1.05"><stop stop-color="#6e0"/><stop offset=".96" stop-color="#038"/><stop offset="1" stop-color="#006"/></linearGradient><linearGradient id="gd4" x1=".78" y1=".73" x2=".51" y2=".34"><stop stop-color="#007"/><stop offset=".47" stop-color="#006"/><stop offset="1" stop-color="#037"/></linearGradient><linearGradient id="gd5" x1=".6" y1=".54" x2=".36" y2=".36"><stop stop-color="#064"/><stop offset=".68" stop-color="#005"/><stop offset="1" stop-color="#008"/></linearGradient><linearGradient id="gd6" x1=".51" y1=".01" x2=".52" y2="1"><stop stop-color="#075"/><stop offset="1" stop-color="#006"/></linearGradient><linearGradient id="gd7" x1="1.15" y1=".09" x2="1.01" y2="1.02"><stop stop-color="#075"/><stop offset="1" stop-color="#007"/></linearGradient><linearGradient id="gd8" x1=".62" y1=".09" x2=".5" y2=".97"><stop stop-color="#008"/><stop offset="1" stop-color="#006"/></linearGradient><linearGradient id="gd9" x1="1.11" y1=".25" x2=".74" y2="1.27"><stop stop-color="#cc0"/><stop offset=".04" stop-color="#9d0"/><stop offset="1" stop-color="#056"/></linearGradient><linearGradient id="gda" x1=".94" y1="-.01" x2=".84" y2="1.02"><stop stop-color="#9d0"/><stop offset="1" stop-color="#056"/></linearGradient><linearGradient id="gdb" x1=".49" y1=".27" x2=".3" y2=".61"><stop stop-color="#2b0"/><stop offset="1" stop-color="#082"/></linearGradient><linearGradient id="gdc" x1="1.67" y1=".58" x2=".81" y2="1.57"><stop stop-color="#d50"/><stop offset=".6" stop-color="#093"/><stop offset="1" stop-color="#2c1"/></linearGradient><linearGradient id="gdd" x1="-.2" y1=".59" x2=".72" y2=".14"><stop stop-color="#0a3"/><stop offset=".74" stop-color="#ec0"/><stop offset="1" stop-color="#4e0"/></linearGradient><linearGradient id="gde" x1=".83" y1="-.05" x2=".49" y2="1.09"><stop stop-color="#4e0"/><stop offset="1" stop-color="#0a3"/></linearGradient><linearGradient id="gdf" x1="1.95" y1=".53" x2="1.59" y2="1.49"><stop stop-color="#e60"/><stop offset=".76" stop-color="#0a3"/><stop offset="1" stop-color="#1c1"/></linearGradient><linearGradient id="gdg" x1=".64" y1="-.04" x2=".38" y2=".81"><stop stop-color="#190"/><stop offset="1" stop-color="#072"/></linearGradient><linearGradient id="gdh" x1="1.89" y1=".18" x2="1.8" y2="1.08"><stop stop-color="#8c0"/><stop offset=".89" stop-color="#037"/><stop offset="1" stop-color="#008"/></linearGradient><linearGradient id="gdi" x1=".12" y1=".52" x2=".34" y2=".12"><stop stop-color="#007"/><stop offset=".86" stop-color="#7a0"/><stop offset="1" stop-color="#191"/></linearGradient><linearGradient id="gdj" x1=".49" y1=".05" x2=".21" y2="1.05"><stop stop-color="#af0"/><stop offset="1" stop-color="#7f0"/></linearGradient><linearGradient id="gdk" x1=".3" y1=".05" x2=".36" y2="1.01"><stop stop-color="#9e0"/><stop offset=".08" stop-color="#6e0"/><stop offset="1" stop-color="#048"/></linearGradient><linearGradient id="gdl" x1="-.37" y1=".65" x2=".34" y2="-.11"><stop stop-color="#047"/><stop offset=".92" stop-color="#1c1"/><stop offset="1" stop-color="#9e0"/></linearGradient><linearGradient id="gdm" x1="1" y1="0" x2=".73" y2="1.03"><stop stop-color="#1c1"/><stop offset="1" stop-color="#019"/></linearGradient><linearGradient id="gdn" x1="1.04" y1=".08" x2=".91" y2=".99"><stop stop-color="#1d1"/><stop offset="1" stop-color="#00a"/></linearGradient><linearGradient id="gdo" x1=".82" y1=".36" x2=".45" y2=".66"><stop stop-color="#00b"/><stop offset=".84" stop-color="#02a"/><stop offset="1" stop-color="#00a"/></linearGradient><linearGradient id="gdp" x1=".92" y1=".68" x2=".26" y2=".2"><stop stop-color="#009"/><stop offset=".69" stop-color="#006"/><stop offset="1" stop-color="#038"/></linearGradient><linearGradient id="gdq" x1=".75" y1="-.04" x2=".56" y2="1"><stop stop-color="#009"/><stop offset="1" stop-color="#004"/></linearGradient><linearGradient id="gdr" x1=".66" y1=".56" x2=".41" y2=".28"><stop stop-color="#056"/><stop offset=".5" stop-color="#d80"/><stop offset="1" stop-color="#4d0"/></linearGradient><linearGradient id="gds" x1="1" y1=".38" x2="0" y2=".38"><stop stop-color="#d80"/><stop offset=".22" stop-color="#d60"/><stop offset="1" stop-color="#4d0"/></linearGradient><linearGradient id="gdt" x1=".51" y1=".45" x2=".38" y2=".56"><stop stop-color="#063"/><stop offset=".5" stop-color="#3a0"/><stop offset="1" stop-color="#191"/></linearGradient><linearGradient id="gdu" x1="-.01" y1=".22" x2=".21" y2="1.18"><stop stop-color="#9c0"/><stop offset=".17" stop-color="#4c0"/><stop offset="1" stop-color="#074"/></linearGradient><linearGradient id="gdv" x1="-.09" y1=".92" x2=".11" y2=".02"><stop stop-color="#037"/><stop offset=".47" stop-color="#074"/><stop offset="1" stop-color="#4c0"/></linearGradient><linearGradient id="gdw" x1="-.02" y1=".57" x2=".93" y2=".44"><stop stop-color="#4d0"/><stop offset=".95" stop-color="#d60"/><stop offset="1" stop-color="#084"/></linearGradient><linearGradient id="gdx" x1="0" y1=".52" x2=".97" y2=".48"><stop stop-color="#de0"/><stop offset=".43" stop-color="#f70"/><stop offset="1" stop-color="#5f0"/></linearGradient><linearGradient id="gdy" x1="-.05" y1=".58" x2=".26" y2=".07"><stop stop-color="#0a4"/><stop offset=".88" stop-color="#de0"/><stop offset="1" stop-color="#5f0"/></linearGradient><linearGradient id="gdz" x1=".61" y1=".52" x2=".44" y2=".3"><stop stop-color="#083"/><stop offset=".59" stop-color="#9c0"/><stop offset="1" stop-color="#4c0"/></linearGradient><linearGradient id="ge0" x1="1.01" y1="0" x2=".9" y2="1.03"><stop stop-color="#ad0"/><stop offset="1" stop-color="#084"/></linearGradient><linearGradient id="ge1" x1=".59" y1="0" x2=".58" y2="1"><stop stop-color="#be0"/><stop offset=".85" stop-color="#084"/><stop offset="1" stop-color="#057"/></linearGradient><linearGradient id="ge2" x1=".37" y1="-.03" x2=".47" y2="1.02"><stop stop-color="#095"/><stop offset="1" stop-color="#00a"/></linearGradient><linearGradient id="ge3" x1=".23" y1=".98" x2=".26" y2="0"><stop stop-color="#2e0"/><stop offset="1" stop-color="#e60"/></linearGradient><linearGradient id="ge4" x1=".75" y1=".1" x2=".63" y2="1"><stop stop-color="#3f0"/><stop offset=".04" stop-color="#2e0"/><stop offset="1" stop-color="#048"/></linearGradient><linearGradient id="ge5" x1="-.62" y1=".81" x2="-.3" y2="-.22"><stop stop-color="#047"/><stop offset=".35" stop-color="#084"/><stop offset="1" stop-color="#dd0"/></linearGradient><linearGradient id="ge6" x1=".61" y1=".75" x2=".38" y2=".2"><stop stop-color="#046"/><stop offset="1" stop-color="#073"/></linearGradient><linearGradient id="ge7" x1=".95" y1=".46" x2="-.06" y2=".84"><stop stop-color="#009"/><stop offset=".34" stop-color="#028"/><stop offset="1" stop-color="#006"/></linearGradient><linearGradient id="ge8" x1=".78" y1="-.06" x2=".52" y2=".97"><stop stop-color="#009"/><stop offset="1" stop-color="#005"/></linearGradient><linearGradient id="ge9" x1="1.08" y1=".23" x2=".89" y2="1.13"><stop stop-color="#9c0"/><stop offset=".7" stop-color="#1b1"/><stop offset="1" stop-color="#083"/></linearGradient><linearGradient id="gea" x1="0" y1=".55" x2=".94" y2=".44"><stop stop-color="#ad0"/><stop offset=".92" stop-color="#d20"/><stop offset="1" stop-color="#1b1"/></linearGradient><linearGradient id="geb" x1=".31" y1=".51" x2=".41" y2=".62"><stop stop-color="#8b0"/><stop offset=".68" stop-color="#b20"/><stop offset="1" stop-color="#045"/></linearGradient><linearGradient id="gec" x1=".7" y1=".52" x2=".56" y2=".39"><stop stop-color="#9b0"/><stop offset=".65" stop-color="#c20"/><stop offset="1" stop-color="#045"/></linearGradient><linearGradient id="ged" x1=".01" y1=".5" x2=".84" y2=".3"><stop stop-color="#be0"/><stop offset=".58" stop-color="#f20"/><stop offset="1" stop-color="#019"/></linearGradient><linearGradient id="gee" x1="-.66" y1=".61" x2="-.49" y2="-.12"><stop stop-color="#017"/><stop offset=".99" stop-color="#9b0"/><stop offset="1" stop-color="#7c0"/></linearGradient><linearGradient id="gef" x1="2.06" y1=".35" x2="1.86" y2="1.21"><stop stop-color="#8e0"/><stop offset=".98" stop-color="#008"/><stop offset="1" stop-color="#019"/></linearGradient><linearGradient id="geg" x1=".64" y1=".58" x2=".55" y2=".65"><stop stop-color="#007"/><stop offset="1" stop-color="#019"/></linearGradient><linearGradient id="geh" x1=".38" y1="-.01" x2=".43" y2="1.03"><stop stop-color="#1e2"/><stop offset="1" stop-color="#068"/></linearGradient><linearGradient id="gei" x1="1" y1=".61" x2=".11" y2="1.07"><stop stop-color="#db0"/><stop offset=".18" stop-color="#056"/><stop offset="1" stop-color="#083"/></linearGradient><linearGradient id="gej" x1=".02" y1="1" x2=".14" y2="-.02"><stop stop-color="#1b2"/><stop offset=".78" stop-color="#8e0"/><stop offset="1" stop-color="#ad0"/></linearGradient><linearGradient id="gek" x1=".34" y1="1.06" x2=".56" y2="-.08"><stop stop-color="#1b2"/><stop offset="1" stop-color="#8d0"/></linearGradient><linearGradient id="gel" x1=".48" y1=".4" x2=".4" y2=".5"><stop stop-color="#026"/><stop offset="1" stop-color="#007"/></linearGradient><linearGradient id="gem" x1="1.48" y1=".16" x2="1.2" y2="1.06"><stop stop-color="#1a1"/><stop offset="1" stop-color="#008"/></linearGradient><linearGradient id="gen" x1=".89" y1="-.2" x2="-.3" y2=".47"><stop stop-color="#007"/><stop offset="1" stop-color="#005"/></linearGradient><linearGradient id="geo" x1=".78" y1="-.04" x2=".61" y2="1.01"><stop stop-color="#008"/><stop offset="1" stop-color="#002"/></linearGradient><linearGradient id="gep" x1=".51" y1=".05" x2=".35" y2=".87"><stop stop-color="#00a"/><stop offset="1" stop-color="#009"/></linearGradient><linearGradient id="geq" x1=".64" y1=".07" x2=".54" y2=".99"><stop stop-color="#008"/><stop offset="1" stop-color="#004"/></linearGradient><linearGradient id="ger" x1=".75" y1="-.1" x2=".26" y2="1.1"><stop stop-color="#009"/><stop offset="1" stop-color="#004"/></linearGradient><linearGradient id="ges" x1=".96" y1="-.01" x2=".69" y2="1.02"><stop stop-color="#009"/><stop offset="1" stop-color="#003"/></linearGradient><linearGradient id="get" x1=".04" y1=".9" x2=".29" y2=".09"><stop stop-color="#065"/><stop offset=".43" stop-color="#092"/><stop offset="1" stop-color="#5c0"/></linearGradient><linearGradient id="geu" x1=".83" y1=".02" x2=".74" y2=".97"><stop stop-color="#9c0"/><stop offset=".41" stop-color="#5c0"/><stop offset="1" stop-color="#092"/></linearGradient><linearGradient id="gev" x1=".96" y1=".04" x2=".91" y2="1"><stop stop-color="#ea0"/><stop offset=".94" stop-color="#3e0"/><stop offset="1" stop-color="#2e0"/></linearGradient><linearGradient id="gew" x1=".77" y1=".1" x2=".65" y2=".99"><stop stop-color="#3f0"/><stop offset=".08" stop-color="#2e0"/><stop offset="1" stop-color="#057"/></linearGradient><linearGradient id="gex" x1=".69" y1=".07" x2=".5" y2="1.09"><stop stop-color="#2d1"/><stop offset="1" stop-color="#038"/></linearGradient><linearGradient id="gey" x1="1.02" y1="0" x2=".75" y2="1.02"><stop stop-color="#1b2"/><stop offset="1" stop-color="#028"/></linearGradient><linearGradient id="gez" x1=".27" y1=".03" x2=".31" y2="1"><stop stop-color="#4c0"/><stop offset="1" stop-color="#008"/></linearGradient><linearGradient id="gf0" x1="1.7" y1=".29" x2="1.28" y2="1.3"><stop stop-color="#4d0"/><stop offset=".96" stop-color="#018"/><stop offset="1" stop-color="#008"/></linearGradient><linearGradient id="gf1" x1="1.06" y1=".12" x2=".87" y2="1.16"><stop stop-color="#4d0"/><stop offset=".25" stop-color="#1a2"/><stop offset="1" stop-color="#008"/></linearGradient><linearGradient id="gf2" x1="1.54" y1=".28" x2="1.01" y2="1.29"><stop stop-color="#1a2"/><stop offset=".94" stop-color="#007"/><stop offset="1" stop-color="#008"/></linearGradient><linearGradient id="gf3" x1=".3" y1="0" x2=".34" y2="1.01"><stop stop-color="#1b2"/><stop offset="1" stop-color="#008"/></linearGradient><linearGradient id="gf4" x1=".68" y1="-.07" x2=".47" y2=".96"><stop stop-color="#008"/><stop offset="1" stop-color="#005"/></linearGradient><linearGradient id="gf5" x1="1.05" y1=".13" x2=".94" y2=".99"><stop stop-color="#017"/><stop offset="1" stop-color="#003"/></linearGradient><linearGradient id="gf6" x1="1.01" y1=".47" x2=".8" y2=".91"><stop stop-color="#016"/><stop offset="1" stop-color="#002"/></linearGradient><linearGradient id="gf7" x1=".63" y1=".08" x2=".34" y2="1.09"><stop stop-color="#007"/><stop offset="1" stop-color="#003"/></linearGradient><linearGradient id="gf8" x1=".9" y1="-.08" x2="-.02" y2=".97"><stop stop-color="#006"/><stop offset="1" stop-color="#003"/></linearGradient><linearGradient id="gf9" x1=".61" y1=".02" x2=".53" y2=".96"><stop stop-color="#1d2"/><stop offset="1" stop-color="#039"/></linearGradient><linearGradient id="gfa" x1="1.07" y1=".51" x2=".19" y2="-.23"><stop stop-color="#007"/><stop offset=".14" stop-color="#039"/><stop offset="1" stop-color="#076"/></linearGradient><linearGradient id="gfb" x1="-.48" y1=".9" x2="-.27" y2="-.11"><stop stop-color="#093"/><stop offset=".71" stop-color="#6e0"/><stop offset="1" stop-color="#bd0"/></linearGradient><linearGradient id="gfc" x1=".14" y1="1.05" x2=".55" y2="-.15"><stop stop-color="#093"/><stop offset="1" stop-color="#6d0"/></linearGradient><linearGradient id="gfd" x1=".45" y1=".32" x2=".12" y2=".78"><stop stop-color="#063"/><stop offset="1" stop-color="#045"/></linearGradient><linearGradient id="gfe" x1="1" y1=".01" x2=".96" y2="1"><stop stop-color="#cc0"/><stop offset="1" stop-color="#065"/></linearGradient><linearGradient id="gff" x1="1.28" y1=".1" x2="1.2" y2="1.02"><stop stop-color="#bb0"/><stop offset="1" stop-color="#055"/></linearGradient><linearGradient id="gfg" x1="1" y1=".38" x2=".79" y2=".92"><stop stop-color="#7b0"/><stop offset=".03" stop-color="#aa0"/><stop offset="1" stop-color="#055"/></linearGradient><linearGradient id="gfh" x1="1.03" y1=".04" x2=".96" y2="1"><stop stop-color="#7f0"/><stop offset=".74" stop-color="#057"/><stop offset="1" stop-color="#01a"/></linearGradient><linearGradient id="gfi" x1=".46" y1=".9" x2=".61" y2=".11"><stop stop-color="#006"/><stop offset="1" stop-color="#045"/></linearGradient><linearGradient id="gfj" x1=".52" y1=".02" x2=".46" y2=".97"><stop stop-color="#4f0"/><stop offset="1" stop-color="#0a3"/></linearGradient><linearGradient id="gfk" x1="1.23" y1=".03" x2="1.19" y2="1.01"><stop stop-color="#d80"/><stop offset="1" stop-color="#093"/></linearGradient><linearGradient id="gfl" x1="1.77" y1=".42" x2="1.57" y2="1.28"><stop stop-color="#c70"/><stop offset=".82" stop-color="#1a2"/><stop offset="1" stop-color="#083"/></linearGradient><linearGradient id="gfm" x1="-.22" y1=".93" x2="-.16" y2="-.01"><stop stop-color="#1a2"/><stop offset="1" stop-color="#c70"/></linearGradient><linearGradient id="gfn" x1="1.14" y1=".2" x2=".9" y2="1.21"><stop stop-color="#cc0"/><stop offset=".16" stop-color="#9d0"/><stop offset="1" stop-color="#093"/></linearGradient><linearGradient id="gfo" x1=".37" y1=".52" x2=".63" y2=".72"><stop stop-color="#083"/><stop offset=".55" stop-color="#8d0"/><stop offset="1" stop-color="#2d0"/></linearGradient><linearGradient id="gfp" x1="1.02" y1=".48" x2="0" y2=".43"><stop stop-color="#048"/><stop offset=".69" stop-color="#af0"/><stop offset="1" stop-color="#3f0"/></linearGradient><linearGradient id="gfq" x1="-.66" y1=".19" x2="-.34" y2="1.29"><stop stop-color="#3f0"/><stop offset="1" stop-color="#00a"/></linearGradient><linearGradient id="gfr" x1=".61" y1=".62" x2=".33" y2=".45"><stop stop-color="#055"/><stop offset="1" stop-color="#008"/></linearGradient><linearGradient id="gfs" x1="1.16" y1=".07" x2=".69" y2="1.06"><stop stop-color="#066"/><stop offset="1" stop-color="#008"/></linearGradient><linearGradient id="gft" x1=".03" y1=".11" x2=".31" y2="1.02"><stop stop-color="#066"/><stop offset=".88" stop-color="#008"/><stop offset="1" stop-color="#00a"/></linearGradient><linearGradient id="gfu" x1=".72" y1="-.05" x2=".52" y2=".98"><stop stop-color="#00a"/><stop offset="1" stop-color="#006"/></linearGradient><linearGradient id="gfv" x1=".67" y1=".07" x2=".44" y2="1.1"><stop stop-color="#00a"/><stop offset="1" stop-color="#006"/></linearGradient><linearGradient id="gfw" x1=".9" y1="-.31" x2="-.25" y2=".03"><stop stop-color="#007"/><stop offset="1" stop-color="#006"/></linearGradient><linearGradient id="gfx" x1=".84" y1="-.59" x2="-.35" y2="-.25"><stop stop-color="#008"/><stop offset="1" stop-color="#006"/></linearGradient><linearGradient id="gfy" x1=".75" y1="-.06" x2=".5" y2=".97"><stop stop-color="#009"/><stop offset="1" stop-color="#004"/></linearGradient><linearGradient id="gfz" x1="-.43" y1=".98" x2="-.38" y2="-.03"><stop stop-color="#1c1"/><stop offset="1" stop-color="#d80"/></linearGradient><linearGradient id="gg0" x1=".92" y1=".59" x2=".19" y2=".29"><stop stop-color="#066"/><stop offset=".18" stop-color="#d80"/><stop offset="1" stop-color="#1c1"/></linearGradient><linearGradient id="gg1" x1=".49" y1=".37" x2=".38" y2=".47"><stop stop-color="#008"/><stop offset="1" stop-color="#056"/></linearGradient><linearGradient id="gg2" x1="1.14" y1=".03" x2="1" y2="1"><stop stop-color="#2c0"/><stop offset="1" stop-color="#008"/></linearGradient><linearGradient id="gg3" x1=".83" y1=".02" x2=".8" y2=".99"><stop stop-color="#bd0"/><stop offset=".87" stop-color="#066"/><stop offset="1" stop-color="#038"/></linearGradient><linearGradient id="gg4" x1=".7" y1=".01" x2=".51" y2=".89"><stop stop-color="#082"/><stop offset="1" stop-color="#037"/></linearGradient><linearGradient id="gg5" x1="1.16" y1=".06" x2="1.1" y2="1.01"><stop stop-color="#ae0"/><stop offset=".91" stop-color="#048"/><stop offset="1" stop-color="#029"/></linearGradient><linearGradient id="gg6" x1=".75" y1="0" x2=".43" y2=".78"><stop stop-color="#064"/><stop offset="1" stop-color="#027"/></linearGradient><linearGradient id="gg7" x1="1.23" y1=".4" x2=".04" y2="1.08"><stop stop-color="#2c0"/><stop offset="1" stop-color="#008"/></linearGradient><linearGradient id="gg8" x1=".7" y1="-.02" x2=".64" y2="1.03"><stop stop-color="#2d0"/><stop offset="1" stop-color="#009"/></linearGradient><linearGradient id="gg9" x1="1.03" y1=".09" x2=".91" y2=".99"><stop stop-color="#2e0"/><stop offset="1" stop-color="#00a"/></linearGradient><linearGradient id="gga" x1=".92" y1=".85" x2=".24" y2="-.16"><stop stop-color="#00b"/><stop offset="1" stop-color="#049"/></linearGradient><linearGradient id="ggb" x1=".43" y1=".37" x2=".38" y2=".41"><stop stop-color="#009"/><stop offset="1" stop-color="#018"/></linearGradient><linearGradient id="ggc" x1=".95" y1=".02" x2=".85" y2=".99"><stop stop-color="#1b1"/><stop offset="1" stop-color="#009"/></linearGradient><linearGradient id="ggd" x1=".49" y1=".02" x2=".46" y2="1.01"><stop stop-color="#1b1"/><stop offset="1" stop-color="#008"/></linearGradient><linearGradient id="gge" x1=".45" y1=".62" x2=".59" y2=".41"><stop stop-color="#035"/><stop offset="1" stop-color="#191"/></linearGradient><linearGradient id="ggf" x1=".24" y1="1.02" x2=".33" y2="0"><stop stop-color="#0a3"/><stop offset="1" stop-color="#8e0"/></linearGradient><linearGradient id="ggg" x1=".63" y1="-.09" x2=".38" y2=".93"><stop stop-color="#1c2"/><stop offset="1" stop-color="#085"/></linearGradient><linearGradient id="ggh" x1=".73" y1=".06" x2=".59" y2="1.08"><stop stop-color="#1c1"/><stop offset=".35" stop-color="#084"/><stop offset="1" stop-color="#019"/></linearGradient><linearGradient id="ggi" x1=".57" y1="0" x2=".57" y2="1"><stop stop-color="#084"/><stop offset="1" stop-color="#018"/></linearGradient><linearGradient id="ggj" x1=".54" y1=".08" x2=".22" y2="1.07"><stop stop-color="#094"/><stop offset="1" stop-color="#048"/></linearGradient><linearGradient id="ggk" x1="1.08" y1=".03" x2=".74" y2="1.04"><stop stop-color="#066"/><stop offset=".3" stop-color="#048"/><stop offset="1" stop-color="#007"/></linearGradient><linearGradient id="ggl" x1=".38" y1="0" x2=".4" y2="1"><stop stop-color="#066"/><stop offset="1" stop-color="#007"/></linearGradient><linearGradient id="ggm" x1=".79" y1="-.65" x2="-.14" y2="-.35"><stop stop-color="#008"/><stop offset="1" stop-color="#007"/></linearGradient><linearGradient id="ggn" x1=".53" y1=".15" x2=".03" y2="1.02"><stop stop-color="#009"/><stop offset="1" stop-color="#007"/></linearGradient><linearGradient id="ggo" x1=".7" y1="-.08" x2=".44" y2=".95"><stop stop-color="#008"/><stop offset="1" stop-color="#004"/></linearGradient><linearGradient id="ggp" x1="1.1" y1=".06" x2=".34" y2="1.23"><stop stop-color="#084"/><stop offset="1" stop-color="#019"/></linearGradient><linearGradient id="ggq" x1="-.17" y1=".6" x2=".74" y2=".21"><stop stop-color="#019"/><stop offset=".55" stop-color="#d70"/><stop offset="1" stop-color="#084"/></linearGradient><linearGradient id="ggr" x1="-.04" y1=".55" x2=".54" y2=".21"><stop stop-color="#8e0"/><stop offset=".63" stop-color="#e70"/><stop offset="1" stop-color="#1b2"/></linearGradient><linearGradient id="ggs" x1=".12" y1=".73" x2=".38" y2=".17"><stop stop-color="#095"/><stop offset=".55" stop-color="#1c2"/><stop offset="1" stop-color="#9f0"/></linearGradient><linearGradient id="ggt" x1=".48" y1=".37" x2=".36" y2=".53"><stop stop-color="#082"/><stop offset="1" stop-color="#064"/></linearGradient><linearGradient id="ggu" x1=".95" y1=".03" x2=".89" y2=".99"><stop stop-color="#ac0"/><stop offset=".92" stop-color="#093"/><stop offset="1" stop-color="#074"/></linearGradient><linearGradient id="ggv" x1=".24" y1="0" x2=".26" y2="1"><stop stop-color="#5e0"/><stop offset="1" stop-color="#009"/></linearGradient><linearGradient id="ggw" x1=".64" y1="-.1" x2=".32" y2="1.04"><stop stop-color="#039"/><stop offset="1" stop-color="#009"/></linearGradient><linearGradient id="ggx" x1=".21" y1=".01" x2=".3" y2="1.06"><stop stop-color="#2f1"/><stop offset="1" stop-color="#01a"/></linearGradient><linearGradient id="ggy" x1="-.24" y1=".5" x2=".81" y2=".99"><stop stop-color="#2d1"/><stop offset=".88" stop-color="#006"/><stop offset="1" stop-color="#01a"/></linearGradient><linearGradient id="ggz" x1="1.27" y1=".17" x2="1.12" y2="1.02"><stop stop-color="#4f0"/><stop offset=".75" stop-color="#058"/><stop offset="1" stop-color="#00a"/></linearGradient><linearGradient id="gh0" x1=".49" y1="-.02" x2=".54" y2="1"><stop stop-color="#058"/><stop offset="1" stop-color="#00a"/></linearGradient><linearGradient id="gh1" x1="1.56" y1=".4" x2="1.3" y2="1.18"><stop stop-color="#1d1"/><stop offset=".9" stop-color="#006"/><stop offset="1" stop-color="#008"/></linearGradient><linearGradient id="gh2" x1=".69" y1=".13" x2=".43" y2=".77"><stop stop-color="#007"/><stop offset="1" stop-color="#005"/></linearGradient><linearGradient id="gh3" x1=".42" y1="-.31" x2="-.18" y2=".78"><stop stop-color="#006"/><stop offset="1" stop-color="#004"/></linearGradient><linearGradient id="gh4" x1=".72" y1="-.05" x2=".52" y2=".98"><stop stop-color="#008"/><stop offset="1" stop-color="#004"/></linearGradient><linearGradient id="gh5" x1=".46" y1="0" x2=".43" y2=".98"><stop stop-color="#2f1"/><stop offset="1" stop-color="#095"/></linearGradient><linearGradient id="gh6" x1="2.03" y1=".39" x2="1.8" y2="1.31"><stop stop-color="#d90"/><stop offset=".88" stop-color="#084"/><stop offset="1" stop-color="#1a2"/></linearGradient><linearGradient id="gh7" x1=".49" y1=".24" x2=".14" y2=".97"><stop stop-color="#007"/><stop offset="1" stop-color="#005"/></linearGradient><linearGradient id="gh8" x1=".73" y1=".06" x2=".65" y2="1"><stop stop-color="#009"/><stop offset="1" stop-color="#002"/></linearGradient><linearGradient id="gh9" x1=".82" y1=".09" x2=".61" y2="1.12"><stop stop-color="#007"/><stop offset="1" stop-color="#002"/></linearGradient><linearGradient id="gha" x1=".64" y1=".88" x2=".13" y2=".67"><stop stop-color="#003"/><stop offset="1" stop-color="#002"/></linearGradient><linearGradient id="ghb" x1=".78" y1=".55" x2=".11" y2=".88"><stop stop-color="#038"/><stop offset=".42" stop-color="#ea0"/><stop offset="1" stop-color="#2e1"/></linearGradient><linearGradient id="ghc" x1="-.15" y1=".03" x2=".07" y2="1.13"><stop stop-color="#2f1"/><stop offset="1" stop-color="#02a"/></linearGradient><linearGradient id="ghd" x1=".75" y1=".2" x2=".51" y2="1.1"><stop stop-color="#006"/><stop offset="1" stop-color="#002"/></linearGradient><linearGradient id="ghe" x1=".78" y1=".26" x2=".58" y2=".86"><stop stop-color="#006"/><stop offset="1" stop-color="#003"/></linearGradient><linearGradient id="ghf" x1=".47" y1="0" x2=".44" y2=".98"><stop stop-color="#1c2"/><stop offset="1" stop-color="#058"/></linearGradient><linearGradient id="ghg" x1="1.55" y1=".1" x2="1.47" y2="1.04"><stop stop-color="#dc0"/><stop offset=".95" stop-color="#075"/><stop offset="1" stop-color="#047"/></linearGradient><linearGradient id="ghh" x1=".74" y1=".1" x2=".48" y2="1.12"><stop stop-color="#008"/><stop offset="1" stop-color="#003"/></linearGradient><linearGradient id="ghi" x1=".61" y1=".43" x2=".57" y2=".39"><stop stop-color="#002"/><stop offset="1" stop-color="#005"/></linearGradient><linearGradient id="ghj" x1=".66" y1=".08" x2=".45" y2="1.09"><stop stop-color="#084"/><stop offset="1" stop-color="#009"/></linearGradient><linearGradient id="ghk" x1=".9" y1="-.02" x2=".7" y2="1.03"><stop stop-color="#075"/><stop offset="1" stop-color="#009"/></linearGradient><linearGradient id="ghl" x1=".38" y1=".58" x2=".47" y2=".66"><stop stop-color="#035"/><stop offset=".68" stop-color="#6a0"/><stop offset="1" stop-color="#062"/></linearGradient><linearGradient id="ghm" x1="2.4" y1=".18" x2="2.27" y2="1.18"><stop stop-color="#8d0"/><stop offset=".84" stop-color="#057"/><stop offset="1" stop-color="#019"/></linearGradient><linearGradient id="ghn" x1=".86" y1=".03" x2=".83" y2="1.03"><stop stop-color="#9e0"/><stop offset=".88" stop-color="#038"/><stop offset="1" stop-color="#019"/></linearGradient><linearGradient id="gho" x1=".81" y1="-.18" x2=".07" y2=".64"><stop stop-color="#039"/><stop offset="1" stop-color="#01a"/></linearGradient><linearGradient id="ghp" x1="-.5" y1=".6" x2="-.08" y2="-.05"><stop stop-color="#028"/><stop offset="1" stop-color="#ad0"/><stop offset="1" stop-color="#1b2"/></linearGradient><linearGradient id="ghq" x1=".93" y1=".78" x2=".75" y2=".06"><stop stop-color="#026"/><stop offset="1" stop-color="#181"/></linearGradient><linearGradient id="ghr" x1=".84" y1=".04" x2=".58" y2="1.14"><stop stop-color="#093"/><stop offset="1" stop-color="#009"/></linearGradient><linearGradient id="ghs" x1="-.39" y1=".58" x2=".29" y2="-.05"><stop stop-color="#009"/><stop offset=".76" stop-color="#dc0"/><stop offset="1" stop-color="#093"/></linearGradient><linearGradient id="ght" x1=".08" y1=".32" x2=".29" y2=".9"><stop stop-color="#191"/><stop offset="1" stop-color="#026"/></linearGradient><linearGradient id="ghu" x1="-.53" y1=".58" x2=".04" y2="-.14"><stop stop-color="#038"/><stop offset=".92" stop-color="#ad0"/><stop offset="1" stop-color="#1b2"/></linearGradient><linearGradient id="ghv" x1=".03" y1=".98" x2=".07" y2="0"><stop stop-color="#048"/><stop offset="1" stop-color="#bd0"/></linearGradient><linearGradient id="ghw" x1=".71" y1=".02" x2=".53" y2=".96"><stop stop-color="#048"/><stop offset="1" stop-color="#00a"/></linearGradient><linearGradient id="ghx" x1=".51" y1=".02" x2=".42" y2=".96"><stop stop-color="#029"/><stop offset="1" stop-color="#009"/></linearGradient><linearGradient id="ghy" x1=".73" y1=".01" x2=".57" y2=".98"><stop stop-color="#009"/><stop offset="1" stop-color="#005"/></linearGradient><linearGradient id="ghz" x1=".7" y1=".1" x2=".33" y2="1.12"><stop stop-color="#009"/><stop offset="1" stop-color="#004"/></linearGradient><linearGradient id="gi0" x1="1.19" y1=".21" x2=".13" y2="1.14"><stop stop-color="#008"/><stop offset="1" stop-color="#004"/></linearGradient><linearGradient id="gi1" x1="-.48" y1=".6" x2="-.06" y2="-.04"><stop stop-color="#028"/><stop offset=".98" stop-color="#1b2"/><stop offset="1" stop-color="#ad0"/></linearGradient><linearGradient id="gi2" x1="1.16" y1=".03" x2=".93" y2="1.14"><stop stop-color="#1b2"/><stop offset="1" stop-color="#028"/></linearGradient><linearGradient id="gi3" x1="1.4" y1=".18" x2="1.27" y2="1.06"><stop stop-color="#3e0"/><stop offset="1" stop-color="#009"/></linearGradient><linearGradient id="gi4" x1=".61" y1=".07" x2=".49" y2=".97"><stop stop-color="#00b"/><stop offset="1" stop-color="#009"/></linearGradient><linearGradient id="gi5" x1="1" y1=".13" x2=".84" y2="1.13"><stop stop-color="#3e0"/><stop offset=".5" stop-color="#084"/><stop offset="1" stop-color="#028"/></linearGradient><linearGradient id="gi6" x1="1.34" y1=".13" x2=".99" y2="1.08"><stop stop-color="#084"/><stop offset="1" stop-color="#009"/></linearGradient><linearGradient id="gi7" x1=".87" y1=".1" x2=".73" y2=".97"><stop stop-color="#094"/><stop offset="1" stop-color="#00a"/></linearGradient><linearGradient id="gi8" x1=".58" y1=".13" x2=".4" y2=".95"><stop stop-color="#00b"/><stop offset="1" stop-color="#00a"/></linearGradient><linearGradient id="gi9" x1=".45" y1=".08" x2="-.05" y2=".77"><stop stop-color="#006"/><stop offset="1" stop-color="#005"/></linearGradient><linearGradient id="gia" x1=".79" y1=".03" x2=".68" y2="1"><stop stop-color="#009"/><stop offset="1" stop-color="#002"/></linearGradient><linearGradient id="gib" x1=".87" y1=".12" x2=".65" y2="1.14"><stop stop-color="#008"/><stop offset="1" stop-color="#002"/></linearGradient><linearGradient id="gic" x1="1.11" y1=".41" x2="-.07" y2=".71"><stop stop-color="#005"/><stop offset="1" stop-color="#002"/></linearGradient><linearGradient id="gid" x1=".95" y1=".32" x2=".75" y2=".92"><stop stop-color="#1a1"/><stop offset="1" stop-color="#008"/></linearGradient><linearGradient id="gie" x1=".61" y1=".01" x2=".55" y2=".97"><stop stop-color="#3c0"/><stop offset=".18" stop-color="#1a1"/><stop offset="1" stop-color="#008"/></linearGradient><linearGradient id="gif" x1=".64" y1=".42" x2=".31" y2=".69"><stop stop-color="#049"/><stop offset=".25" stop-color="#006"/><stop offset="1" stop-color="#01a"/></linearGradient><linearGradient id="gig" x1=".95" y1=".98" x2=".58" y2="-.18"><stop stop-color="#006"/><stop offset="1" stop-color="#00a"/></linearGradient><linearGradient id="gih" x1=".15" y1=".06" x2=".21" y2=".98"><stop stop-color="#3d0"/><stop offset=".17" stop-color="#1b1"/><stop offset="1" stop-color="#037"/></linearGradient><linearGradient id="gii" x1="2.09" y1=".33" x2="1.84" y2="1.23"><stop stop-color="#3e0"/><stop offset=".81" stop-color="#047"/><stop offset="1" stop-color="#008"/></linearGradient><linearGradient id="gij" x1="-1.25" y1=".84" x2="-1.14" y2="-.14"><stop stop-color="#008"/><stop offset=".83" stop-color="#1b2"/><stop offset="1" stop-color="#3d0"/></linearGradient><linearGradient id="gik" x1="-.65" y1=".33" x2="-.49" y2="1.1"><stop stop-color="#1b2"/><stop offset=".97" stop-color="#018"/><stop offset="1" stop-color="#008"/></linearGradient><linearGradient id="gil" x1="-.39" y1=".94" x2="-.23" y2="-.07"><stop stop-color="#019"/><stop offset="1" stop-color="#1b2"/></linearGradient><linearGradient id="gim" x1="1.32" y1=".07" x2="1.09" y2="1.18"><stop stop-color="#1a2"/><stop offset="1" stop-color="#019"/></linearGradient><linearGradient id="gin" x1=".17" y1=".02" x2=".35" y2="1.11"><stop stop-color="#01b"/><stop offset="1" stop-color="#006"/></linearGradient><linearGradient id="gio" x1=".74" y1=".99" x2=".52" y2="-.1"><stop stop-color="#006"/><stop offset="1" stop-color="#00a"/></linearGradient><linearGradient id="gip" x1=".45" y1=".42" x2=".42" y2=".45"><stop stop-color="#005"/><stop offset="1" stop-color="#003"/></linearGradient><linearGradient id="giq" x1=".32" y1=".89" x2=".47" y2="-.05"><stop stop-color="#004"/><stop offset="1" stop-color="#018"/></linearGradient><linearGradient id="gir" x1=".7" y1=".06" x2=".58" y2=".95"><stop stop-color="#085"/><stop offset="1" stop-color="#00a"/></linearGradient><linearGradient id="gis" x1=".67" y1=".12" x2=".51" y2=".96"><stop stop-color="#00a"/><stop offset="1" stop-color="#008"/></linearGradient><linearGradient id="git" x1="1.01" y1=".56" x2=".13" y2=".07"><stop stop-color="#009"/><stop offset=".66" stop-color="#006"/><stop offset="1" stop-color="#047"/></linearGradient><linearGradient id="giu" x1="1.23" y1=".12" x2=".71" y2="1.15"><stop stop-color="#009"/><stop offset="1" stop-color="#006"/></linearGradient><linearGradient id="giv" x1=".73" y1=".16" x2=".37" y2="1.14"><stop stop-color="#009"/><stop offset="1" stop-color="#005"/></linearGradient><linearGradient id="giw" x1="1.07" y1=".02" x2=".75" y2="1.01"><stop stop-color="#008"/><stop offset="1" stop-color="#004"/></linearGradient><linearGradient id="gix" x1=".81" y1=".1" x2=".64" y2="1"><stop stop-color="#008"/><stop offset="1" stop-color="#004"/></linearGradient><linearGradient id="giy" x1=".69" y1=".1" x2=".34" y2=".84"><stop stop-color="#005"/><stop offset="1" stop-color="#003"/></linearGradient><linearGradient id="giz" x1=".7" y1=".75" x2=".19" y2=".54"><stop stop-color="#007"/><stop offset="1" stop-color="#005"/></linearGradient><linearGradient id="gj0" x1="1.04" y1=".01" x2=".8" y2="1.01"><stop stop-color="#008"/><stop offset="1" stop-color="#003"/></linearGradient><linearGradient id="gj1" x1=".84" y1=".13" x2=".62" y2="1.13"><stop stop-color="#008"/><stop offset="1" stop-color="#003"/></linearGradient><linearGradient id="gj2" x1=".59" y1=".73" x2=".26" y2=".54"><stop stop-color="#004"/><stop offset="1" stop-color="#003"/></linearGradient><linearGradient id="gj3" x1=".93" y1=".18" x2=".68" y2="1.17"><stop stop-color="#007"/><stop offset="1" stop-color="#001"/></linearGradient><linearGradient id="gj4" x1="1.17" y1=".41" x2="-.03" y2=".9"><stop stop-color="#004"/><stop offset="1" stop-color="#001"/></linearGradient></defs><path color="#000" d="M385 415l2-1 6 2-2 1zM391 417l2-1 6 2-2 1zM397 419l2-1 6 2-1 1zM404 421l1-1 7 3-2 0zM410 423l2 0 7 2-2 1zM417 426l2-1 7 2-2 1zM424 428l2-1 7 2-2 1zM431 430l2-1 7 3-1 1zM439 433l1-1 8 2-2 1zM446 435l2-1 8 3-2 1zM454 438l2-1 9 3-2 1zM463 441l2-1 8 3-2 1zM471 444l2-1 9 3-2 1zM480 447l2-1 10 3-2 1zM490 450l2-1 9 3-1 1z"/><path color="#001" d="M384 408l1 7 6 2-1-8zM390 409l1 8 6 2-1-6zM396 413l1 6 7 2-2-8zM402 413l2 8 6 2-1-5zM409 418l1 5 7 3-1-11zM416 415l1 11 7 2-1-8zM423 420l1 8 7 2 0-9zM431 421l0 9 8 3-1-7zM438 426l1 7 7 2 0-7zM446 428l0 7 8 3 0-6zM454 432l0 6 9 3 0-10zM463 431l0 10 8 3 0-6zM471 438l0 6 9 3 0-6zM480 441l0 6 10 3 0-6zM490 444l0 6 10 3-2-1z"/><path color="#005" d="M383 386l1 22 6 1-1-14z"/><path color="#004" d="M389 395l1 14 6 4-1-10zM395 403l1 10 6 0 1-19zM403 394l-1 19 7 5 0-14zM409 404l0 14 7-3-1-4z"/><path color="#003" d="M415 411l1 4 7 5z"/><path color="#004" d="M415 411l8 9-2 2z"/><path color="#003" d="M421 422l2-2 8 1z"/><path color="#004" d="M421 422l10-1 0-13zM431 408l0 13 7 5 0-12z"/><path color="#003" d="M438 414l0 12 8 2 0-10zM446 418l0 10 8 4-1-6zM453 426l1 6 9-1-1-4zM462 427l1 4 8 7 1-12zM472 426l-1 12 9 3 1-9zM481 432l-1 9 10 3 2-15zM492 429l-2 15 8 8 2-14z"/><path color="#009" d="M381 395l2-9 6 9z"/><path color="#007" d="M381 395l8 0-2 0zM387 395l2 0 6 8z"/><path color="#006" d="M387 395l8 8-1-11z"/><path color="#007" d="M394 392l1 11 8-9z"/><path color="#00b" d="M394 392l9 2-3 2z"/><path color="#00a" d="M400 396l3-2 6 10z"/><path color="#007" d="M400 396l9 8-1-11z"/><path color="#015" d="M408 393l1 11 6 7 0-21zM415 390l0 21 6 11 1-21z"/><path color="#006" d="M422 401l-1 21 10-14z"/><path color="#009" d="M422 401l9 7-3 5z"/><path color="#007" d="M428 413l3-5 7 6-2 3zM436 417l2-3 8 4z"/><path color="#005" d="M436 417l10 1-1-6z"/><path color="#004" d="M445 412l1 6 7 8z"/><path color="#006" d="M445 412l8 14-1-2z"/><path color="#004" d="M452 424l1 2 9 1-1-4zM461 423l1 4 10-1-2-1z"/><path color="#005" d="M470 425l2 1 9 6-1-7zM480 425l1 7 11-3z"/><path color="#008" d="M480 425l12 4-2 2z"/><path color="#007" d="M490 431l2-2 8 9z"/><path color="#005" d="M490 431l10 7 1-9z"/><path style="fill:url(#gbx);stroke:url(#gbx)" d="M381 363l0 32 6 0z"/><path style="fill:url(#gby);stroke:url(#gby)" d="M381 363l6 32 0-19z"/><path color="#036" d="M387 376l0 19 7-3z"/><path color="#038" d="M387 376l7 16-3 7z"/><path color="#009" d="M391 399l3-7 6 4z"/><path color="#026" d="M391 399l9-3 0-16z"/><path color="#036" d="M400 380l0 16 8-3z"/><path color="#038" d="M400 380l8 13-3 10z"/><path color="#018" d="M405 403l3-10 7-3-2 8z"/><path color="#019" d="M413 398l2-8 7 11-3 9z"/><path color="#008" d="M419 410l3-9 6 12z"/><path color="#006" d="M419 410l9 3 0-15zM428 398l0 15 8 4-1-10zM435 407l1 10 9-5-2-1z"/><path color="#007" d="M443 411l2 1 7 12z"/><path color="#006" d="M443 411l9 13 0-11zM452 413l0 11 9-1 0-7z"/><path color="#005" d="M461 416l0 7 9 2 0-5zM470 420l0 5 10 0z"/><path color="#006" d="M470 420l10 5-5 16z"/><path color="#005" d="M475 441l5-16 10 6zM475 441l15-10-1-6z"/><path color="#006" d="M489 425l1 6 11-2-1-1z"/><path style="fill:url(#gbz);stroke:url(#gbz)" d="M377 393l4-30 6 13z"/><path style="fill:url(#gc0);stroke:url(#gc0)" d="M377 393l10-17-4 16z"/><path color="#037" d="M383 392l4-16 4 23z"/><path color="#006" d="M383 392l8 7-1-3z"/><path color="#154" d="M390 396l1 3 9-19-1-11z"/><path color="#054" d="M399 369l1 11 5 23-1-13z"/><path color="#017" d="M404 390l1 13 8-5z"/><path color="#019" d="M404 390l9 8-2-2z"/><path color="#009" d="M411 396l2 2 6 12z"/><path color="#006" d="M411 396l8 14-2-5z"/><path color="#007" d="M417 405l2 5 9-12z"/><path color="#019" d="M417 405l11-7-3 8z"/><path color="#009" d="M425 406l3-8 7 9-2 1z"/><path color="#008" d="M433 408l2-1 8 4-4 14z"/><path color="#007" d="M439 425l4-14 9 2z"/><path color="#005" d="M439 425l13-12-2 0z"/><path color="#007" d="M450 413l2 0 9 3-4 10zM457 426l4-10 9 4-4 7z"/><path color="#006" d="M466 427l4-7 5 21z"/><path color="#005" d="M466 427l9 14 2-17z"/><path color="#006" d="M477 424l-2 17 14-16-1-2z"/><path color="#007" d="M488 423l1 2 11 3z"/><path color="#009" d="M488 423l12 5-3 5z"/><path color="#006" d="M375 390l2 3 6-1-2-1z"/><path color="#009" d="M381 391l2 1 7 4z"/><path color="#00a" d="M381 391l9 5-3 5z"/><path color="#134" d="M387 401l3-5 9-27z"/><path color="#154" d="M387 401l12-32-4 18z"/><path color="#167" d="M395 387l4-18 5 21-3 6z"/><path color="#01a" d="M401 396l3-6 7 6-2 2z"/><path color="#00a" d="M409 398l2-2 6 9-2 4z"/><path color="#009" d="M415 409l2-4 8 1z"/><path color="#006" d="M415 409l10-3-2-2z"/><path color="#007" d="M423 404l2 2 8 2-1-7z"/><path color="#006" d="M432 401l1 7 6 17 0-13zM439 412l0 13 11-12z"/><path color="#008" d="M439 412l11 1-4 14z"/><path color="#007" d="M446 427l4-14 7 13z"/><path color="#016" d="M446 427l11-1 2-22zM459 404l-2 22 9 1 0-6z"/><path color="#006" d="M466 421l0 6 11-3z"/><path color="#008" d="M466 421l11 3-3 8z"/><path style="fill:url(#gc1);stroke:url(#gc1)" d="M474 432l3-8 11-1z"/><path style="fill:url(#gc2);stroke:url(#gc2)" d="M474 432l14-9-8 29z"/><path style="fill:url(#gc3);stroke:url(#gc3)" d="M480 452l8-29 9 10z"/><path style="fill:url(#gc4);stroke:url(#gc4)" d="M480 452l17-19-2 2z"/><path style="fill:url(#gc5);stroke:url(#gc5)" d="M373 389l2 1 6 1z"/><path style="fill:url(#gc6);stroke:url(#gc6)" d="M373 389l8 2 1-41z"/><path color="#235" d="M382 350l-1 41 6 10-1-13z"/><path color="#027" d="M386 388l1 13 8-14z"/><path color="#029" d="M386 388l9-1-3 10z"/><path color="#019" d="M392 397l3-10 6 9z"/><path color="#016" d="M392 397l9-1-1-3z"/><path color="#017" d="M400 393l1 3 8 2z"/><path color="#01b" d="M400 393l9 5-3 2z"/><path color="#00a" d="M406 400l3-2 6 11z"/><path color="#145" d="M406 400l9 9 2-34z"/><path color="#045" d="M417 375l-2 34 8-5-1-7z"/><path color="#026" d="M422 397l1 7 9-3 0-10z"/><path color="#025" d="M432 391l0 10 7 11z"/><path color="#038" d="M432 391l7 21-3 5z"/><path color="#008" d="M436 417l3-5 7 15z"/><path color="#005" d="M436 417l10 10-1-8z"/><path color="#026" d="M445 419l1 8 13-23-2-1z"/><path color="#028" d="M457 403l2 1 7 17-4 13z"/><path color="#006" d="M462 434l4-13 8 11-3 6z"/><path color="#004" d="M471 438l3-6 6 20zM471 438l9 14 3-20z"/><path color="#005" d="M483 432l-3 20 15-17z"/><path color="#008" d="M483 432l12 3-2 2z"/><path color="#345" d="M371 392l2-3 9-39z"/><path color="#364" d="M371 392l11-42-4 27z"/><path style="fill:url(#gc7);stroke:url(#gc7)" d="M378 377l4-27 4 38z"/><path style="fill:url(#gc8);stroke:url(#gc8)" d="M378 377l8 11-2 5z"/><path color="#01a" d="M384 393l2-5 6 9z"/><path color="#017" d="M384 393l8 4-1-7z"/><path style="fill:url(#gc9);stroke:url(#gc9)" d="M391 390l1 7 8-4z"/><path style="fill:url(#gca);stroke:url(#gca)" d="M391 390l9 3 1-36z"/><path color="#345" d="M401 357l-1 36 6 7z"/><path color="#355" d="M401 357l5 43-1-6z"/><path color="#155" d="M405 394l1 6 11-25z"/><path color="#184" d="M405 394l12-19-4 12z"/><path color="#176" d="M413 387l4-12 5 22-3 9z"/><path color="#037" d="M419 406l3-9 10-6z"/><path color="#045" d="M419 406l13-15-2-1z"/><path color="#055" d="M430 390l2 1 4 26z"/><path color="#035" d="M430 390l6 27 1-13z"/><path color="#006" d="M437 404l-1 13 9 2-1-3z"/><path color="#016" d="M444 416l1 3 12-16z"/><path color="#017" d="M444 416l13-13-7 28z"/><path color="#016" d="M450 431l7-28 5 31z"/><path color="#005" d="M450 431l12 3 0-12zM462 422l0 12 9 4z"/><path color="#006" d="M462 422l9 16-2 0z"/><path color="#004" d="M469 438l2 0 12-6z"/><path color="#005" d="M469 438l14-6-3 2z"/><path color="#008" d="M480 434l3-2 10 5-2 1z"/><path color="#055" d="M369 379l2 13 7-15z"/><path color="#066" d="M369 379l9-2-3 12z"/><path color="#038" d="M375 389l3-12 6 16-3 1z"/><path color="#018" d="M381 394l3-1 7-3z"/><path color="#019" d="M381 394l10-4-3 10z"/><path color="#244" d="M388 400l3-10 10-33-5 30z"/><path style="fill:url(#gcb);stroke:url(#gcb)" d="M396 387l5-30 4 37z"/><path style="fill:url(#gcc);stroke:url(#gcc)" d="M396 387l9 7-3 4z"/><path color="#036" d="M402 398l3-4 8-7-3 10z"/><path color="#048" d="M410 397l3-10 6 19z"/><path color="#046" d="M410 397l9 9 0-19z"/><path color="#065" d="M419 387l0 19 11-16z"/><path color="#066" d="M419 387l11 3-5 18z"/><path color="#038" d="M425 408l5-18 7 14-4 10z"/><path color="#019" d="M433 414l4-10 7 12-3 2z"/><path color="#008" d="M441 418l3-2 6 15z"/><path color="#005" d="M441 418l9 13-1-4zM449 427l1 4 12-9z"/><path color="#007" d="M449 427l13-5-4 13z"/><path color="#006" d="M458 435l4-13 7 16z"/><path color="#004" d="M458 435l11 3-2-2zM467 436l2 2 11-4-1-1z"/><path color="#006" d="M479 433l1 1 11 4z"/><path color="#007" d="M479 433l12 5-4 8z"/><path color="#264" d="M368 357l1 22 6 10z"/><path color="#265" d="M368 357l7 32-2-5z"/><path color="#026" d="M373 384l2 5 6 5-1-8z"/><path color="#025" d="M380 386l1 8 7 6-1-17z"/><path color="#055" d="M387 383l1 17 8-13-2-1z"/><path color="#057" d="M394 386l2 1 6 11z"/><path color="#055" d="M394 386l8 12-1-13z"/><path color="#046" d="M401 385l1 13 8-1z"/><path color="#048" d="M401 385l9 12-3 7z"/><path color="#036" d="M407 404l3-7 9-10-4 18z"/><path style="fill:url(#gcd);stroke:url(#gcd)" d="M415 405l4-18 6 21z"/><path style="fill:url(#gce);stroke:url(#gce)" d="M415 405l10 3-3 10z"/><path color="#008" d="M422 418l3-10 8 6-3 9zM430 423l3-9 8 4-2 5zM439 423l2-5 8 9-2 5z"/><path color="#007" d="M447 432l2-5 9 8z"/><path color="#004" d="M447 432l11 3-2-2z"/><path color="#005" d="M456 433l2 2 9 1 2-16z"/><path color="#006" d="M469 420l-2 16 12-3z"/><path color="#009" d="M469 420l10 13-3 4z"/><path color="#007" d="M476 437l3-4 8 13-2 4z"/><path color="#394" d="M365 380l3-23 5 27z"/><path color="#064" d="M365 380l8 4-2-7z"/><path color="#054" d="M371 377l2 7 7 2-2-5zM378 381l2 5 7-3z"/><path color="#086" d="M378 381l9 2-3 6z"/><path color="#057" d="M384 389l3-6 7 3-3 13z"/><path color="#056" d="M391 399l3-13 7-1-3 9z"/><path color="#038" d="M398 394l3-9 6 19-2 3z"/><path color="#00a" d="M405 407l2-3 8 1z"/><path color="#006" d="M405 407l10-2-2-1z"/><path color="#018" d="M413 404l2 1 7 13z"/><path color="#045" d="M413 404l9 14 1-29z"/><path color="#034" d="M423 389l-1 29 8 5z"/><path color="#035" d="M423 389l7 34-2-1z"/><path color="#005" d="M428 422l2 1 9 0-2-2z"/><path color="#006" d="M437 421l2 2 8 9-2-5z"/><path color="#005" d="M445 427l2 5 9 1 1-14z"/><path color="#007" d="M457 419l-1 14 13-13z"/><path color="#009" d="M457 419l12 1-5 13z"/><path style="fill:url(#gcf);stroke:url(#gcf)" d="M464 433l5-13 7 17z"/><path style="fill:url(#gcg);stroke:url(#gcg)" d="M464 433l12 4-5 15z"/><path color="#005" d="M471 452l5-15 9 13z"/><path color="#004" d="M471 452l14-2 0-7z"/><path style="fill:url(#gch);stroke:url(#gch)" d="M364 355l1 25 6-3z"/><path style="fill:url(#gci);stroke:url(#gci)" d="M364 355l7 22-1-23z"/><path style="fill:url(#gcj);stroke:url(#gcj)" d="M370 354l1 23 7 4z"/><path style="fill:url(#gck);stroke:url(#gck)" d="M370 354l8 27 0-48z"/><path color="#463" d="M378 333l0 48 6 8z"/><path color="#464" d="M378 333l6 56-2-3z"/><path color="#047" d="M382 386l2 3 7 10z"/><path color="#055" d="M382 386l9 13-1-16z"/><path color="#046" d="M390 383l1 16 7-5-2-3z"/><path color="#037" d="M396 391l2 3 7 13-2-7z"/><path color="#017" d="M403 400l2 7 8-3z"/><path color="#01a" d="M403 400l10 4-3 6z"/><path color="#035" d="M410 410l3-6 10-15z"/><path color="#053" d="M410 410l13-21-2 3z"/><path color="#074" d="M421 392l2-3 5 33z"/><path color="#063" d="M421 392l7 30 3-35z"/><path style="fill:url(#gcl);stroke:url(#gcl)" d="M431 387l-3 35 9-1z"/><path style="fill:url(#gcm);stroke:url(#gcm)" d="M431 387l6 34 1-21z"/><path color="#026" d="M438 400l-1 21 8 6 1-13z"/><path color="#007" d="M446 414l-1 13 12-8z"/><path color="#018" d="M446 414l11 5-6 19z"/><path color="#007" d="M451 438l6-19 7 14-2 1z"/><path color="#006" d="M462 434l2-1 7 19z"/><path color="#004" d="M462 434l9 18 1-12zM472 440l-1 12 14-9z"/><path color="#006" d="M472 440l13 3-2 0z"/><path style="fill:url(#gcn);stroke:url(#gcn)" d="M360 378l4-23 6-1z"/><path style="fill:url(#gco);stroke:url(#gco)" d="M360 378l10-24-3 29z"/><path style="fill:url(#gcp);stroke:url(#gcp)" d="M367 383l3-29 8-21z"/><path style="fill:url(#gcq);stroke:url(#gcq)" d="M367 383l11-50-4 45z"/><path color="#593" d="M374 378l4-45 4 53z"/><path color="#292" d="M374 378l8 8-1-19zM381 367l1 19 8-3z"/><path color="#2a4" d="M381 367l9 16-3 11z"/><path color="#076" d="M387 394l3-11 6 8z"/><path color="#054" d="M387 394l9-3-1-4z"/><path color="#055" d="M395 387l1 4 7 9-1-9z"/><path color="#035" d="M402 391l1 9 7 10 0-14z"/><path color="#056" d="M410 396l0 14 11-18zM410 396l11-4-5 21z"/><path style="fill:url(#gcr);stroke:url(#gcr)" d="M416 413l5-21 10-5z"/><path style="fill:url(#gcs);stroke:url(#gcs)" d="M416 413l15-26-5 20z"/><path style="fill:url(#gct);stroke:url(#gct)" d="M426 407l5-20 7 13z"/><path style="fill:url(#gcu);stroke:url(#gcu)" d="M426 407l12-7-5 16z"/><path color="#038" d="M433 416l5-16 8 14z"/><path color="#018" d="M433 416l13-2-3 0zM443 414l3 0 5 24z"/><path color="#006" d="M443 414l8 24 1-15zM452 423l-1 15 11-4z"/><path color="#009" d="M452 423l10 11-2 1z"/><path color="#007" d="M460 435l2-1 10 6z"/><path color="#005" d="M460 435l12 5-1-4zM471 436l1 4 11 3-2-2z"/><path color="#0a5" d="M358 380l2-2 7 5z"/><path color="#183" d="M358 380l9 3-2-12z"/><path color="#192" d="M365 371l2 12 7-5z"/><path color="#1d2" d="M365 371l9 7-3 6z"/><path color="#182" d="M371 384l3-6 7-11-3 19z"/><path color="#294" d="M378 386l3-19 6 27z"/><path color="#074" d="M378 386l9 8-2-14z"/><path color="#283" d="M385 380l2 14 8-7-1-17z"/><path color="#282" d="M394 370l1 17 7 4z"/><path color="#285" d="M394 370l8 21-4 15z"/><path color="#057" d="M398 406l4-15 8 5z"/><path color="#035" d="M398 406l12-10-2-1z"/><path style="fill:url(#gcv);stroke:url(#gcv)" d="M408 395l2 1 6 17z"/><path style="fill:url(#gcw);stroke:url(#gcw)" d="M408 395l8 18 3-39z"/><path style="fill:url(#gcx);stroke:url(#gcx)" d="M419 374l-3 39 10-6z"/><path style="fill:url(#gcy);stroke:url(#gcy)" d="M419 374l7 33-2-2z"/><path color="#019" d="M424 405l2 2 7 9-2 1z"/><path color="#018" d="M431 417l2-1 10-2z"/><path color="#037" d="M431 417l12-3 0-10z"/><path color="#025" d="M443 404l0 10 9 9z"/><path color="#037" d="M443 404l9 19-4 12z"/><path color="#008" d="M448 435l4-12 8 12-2 3z"/><path color="#007" d="M458 438l2-3 11 1-5 14z"/><path color="#006" d="M466 450l5-14 10 5z"/><path color="#004" d="M466 450l15-9-1-1z"/><path color="#183" d="M355 385l3-5 7-9z"/><path color="#2a2" d="M355 385l10-14-2-6z"/><path color="#2a1" d="M363 365l2 6 6 13-2-10z"/><path color="#072" d="M369 374l2 10 7 2-2-5z"/><path style="fill:url(#gcz);stroke:url(#gcz)" d="M376 381l2 5 7-6z"/><path style="fill:url(#gd0);stroke:url(#gd0)" d="M376 381l9-1 0-27z"/><path color="#6c0" d="M385 353l0 27 9-10-2-7z"/><path color="#583" d="M392 363l2 7 4 36z"/><path color="#254" d="M392 363l6 43-1-12z"/><path color="#046" d="M397 394l1 12 10-11z"/><path color="#057" d="M397 394l11 1-4 15z"/><path style="fill:url(#gd1);stroke:url(#gd1)" d="M404 410l4-15 11-21z"/><path style="fill:url(#gd2);stroke:url(#gd2)" d="M404 410l15-36-9 52z"/><path style="fill:url(#gd3);stroke:url(#gd3)" d="M410 426l9-52 5 31z"/><path style="fill:url(#gd4);stroke:url(#gd4)" d="M410 426l14-21-5 17z"/><path color="#018" d="M419 422l5-17 7 12-4 14z"/><path style="fill:url(#gd5);stroke:url(#gd5)" d="M427 431l4-14 12-13z"/><path style="fill:url(#gd6);stroke:url(#gd6)" d="M427 431l16-27-7 27z"/><path style="fill:url(#gd7);stroke:url(#gd7)" d="M436 431l7-27 5 31z"/><path style="fill:url(#gd8);stroke:url(#gd8)" d="M436 431l12 4-3 6z"/><path color="#006" d="M445 441l3-6 10 3-4 6zM454 444l4-6 8 12z"/><path color="#004" d="M454 444l12 6 0-9z"/><path color="#005" d="M466 441l0 9 14-10z"/><path color="#007" d="M466 441l14-1-4 8z"/><path color="#3a2" d="M354 367l1 18 8-20z"/><path color="#5f0" d="M354 367l9-2-3 5z"/><path color="#3f1" d="M360 370l3-5 6 9-3 5z"/><path color="#1d2" d="M366 379l3-5 7 7-3 2z"/><path color="#391" d="M373 383l3-2 9-28z"/><path color="#493" d="M373 383l12-30-5 39z"/><path style="fill:url(#gd9);stroke:url(#gd9)" d="M380 392l5-39 7 10z"/><path style="fill:url(#gda);stroke:url(#gda)" d="M380 392l12-29-5 31z"/><path color="#394" d="M387 394l5-31 5 31z"/><path color="#054" d="M387 394l10 0-2-2z"/><path color="#047" d="M395 392l2 2 7 16-2-3z"/><path color="#008" d="M402 407l2 3 6 16z"/><path color="#016" d="M402 407l8 19 0-21zM410 405l0 21 9-4z"/><path color="#018" d="M410 405l9 17-3 7z"/><path color="#008" d="M416 429l3-7 8 9z"/><path color="#006" d="M416 429l11 2-1-10zM426 421l1 10 9 0 0-8z"/><path color="#005" d="M436 423l0 8 9 10-1-9zM444 432l1 9 9 3-1-4zM453 440l1 4 12-3-1-6zM465 435l1 6 10 7z"/><path color="#007" d="M465 435l11 13-4 8z"/><path color="#6b0" d="M352 346l2 21 6 3z"/><path color="#7e0" d="M352 346l8 24-2-1z"/><path color="#3e1" d="M358 369l2 1 6 9z"/><path color="#2b1" d="M358 369l8 10-2-3z"/><path style="fill:url(#gdb);stroke:url(#gdb)" d="M364 376l2 3 7 4z"/><path style="fill:url(#gdc);stroke:url(#gdc)" d="M364 376l9 7 1-54z"/><path color="#463" d="M374 329l-1 54 7 9zM374 329l6 63-2-6z"/><path color="#053" d="M378 386l2 6 7 2z"/><path color="#086" d="M378 386l9 8-2 1z"/><path color="#274" d="M385 395l2-1 8-2 0-26z"/><path color="#263" d="M395 366l0 26 7 15z"/><path color="#365" d="M395 366l7 41-2-3z"/><path color="#026" d="M400 404l2 3 8-2z"/><path color="#039" d="M400 404l10 1-3 8z"/><path color="#019" d="M407 413l3-8 6 24z"/><path color="#006" d="M407 413l9 16-1-13z"/><path color="#007" d="M415 416l1 13 10-8z"/><path color="#00b" d="M415 416l11 5-2 2z"/><path color="#009" d="M424 423l2-2 10 2-5 14z"/><path color="#008" d="M431 437l5-14 8 9z"/><path color="#017" d="M431 437l13-5 0-13z"/><path color="#016" d="M444 419l0 13 9 8z"/><path color="#018" d="M444 419l9 21-2 3z"/><path color="#006" d="M451 443l2-3 12-5-5 18zM460 453l5-18 7 21z"/><path color="#005" d="M460 453l12 3 1-12z"/><path style="fill:url(#gdd);stroke:url(#gdd)" d="M348 379l4-33 6 23z"/><path style="fill:url(#gde);stroke:url(#gde)" d="M348 379l10-10-3 11z"/><path color="#2d1" d="M355 380l3-11 6 7z"/><path color="#191" d="M355 380l9-4-2-4z"/><path color="#6a0" d="M362 372l2 4 10-47zM362 372l12-43-6 51z"/><path style="fill:url(#gdf);stroke:url(#gdf)" d="M368 380l6-51 4 57z"/><path style="fill:url(#gdg);stroke:url(#gdg)" d="M368 380l10 6-2-6z"/><path color="#072" d="M376 380l2 6 7 9z"/><path color="#186" d="M376 380l9 15-3 4z"/><path color="#373" d="M382 399l3-4 10-29-3-1z"/><path color="#6a3" d="M392 365l3 1 5 38z"/><path color="#592" d="M392 365l8 39 1-36z"/><path style="fill:url(#gdh);stroke:url(#gdh)" d="M401 368l-1 36 7 9z"/><path style="fill:url(#gdi);stroke:url(#gdi)" d="M401 368l6 45 0-23z"/><path color="#046" d="M407 390l0 23 8 3z"/><path color="#047" d="M407 390l8 26-2 3z"/><path color="#00b" d="M413 419l2-3 9 7z"/><path color="#017" d="M413 419l11 4-1-9z"/><path color="#015" d="M423 414l1 9 7 14 1-23z"/><path color="#027" d="M432 414l-1 23 13-18z"/><path color="#038" d="M432 414l12 5-2 0z"/><path color="#018" d="M442 419l2 0 7 24-2-3z"/><path color="#005" d="M449 440l2 3 9 10z"/><path color="#006" d="M449 440l11 13-3 2z"/><path color="#004" d="M457 455l3-2 13-9-4 11z"/><path color="#0a3" d="M346 384l2-5 7 1z"/><path color="#072" d="M346 384l9-4-3-1z"/><path color="#381" d="M352 379l3 1 7-8-2-21z"/><path color="#5a0" d="M360 351l2 21 6 8z"/><path color="#5b3" d="M360 351l8 29-3 14z"/><path color="#1a3" d="M365 394l3-14 8 0z"/><path color="#3a2" d="M365 394l11-14-2-13z"/><path color="#272" d="M374 367l2 13 6 19z"/><path color="#376" d="M374 367l8 32-3 1z"/><path color="#373" d="M379 400l3-1 10-34-3 8z"/><path style="fill:url(#gdj);stroke:url(#gdj)" d="M389 373l3-8 9 3z"/><path style="fill:url(#gdk);stroke:url(#gdk)" d="M389 373l12-5-6 35z"/><path style="fill:url(#gdl);stroke:url(#gdl)" d="M395 403l6-35 6 22z"/><path style="fill:url(#gdm);stroke:url(#gdm)" d="M395 403l12-13-4 22z"/><path style="fill:url(#gdn);stroke:url(#gdn)" d="M403 412l4-22 6 29z"/><path style="fill:url(#gdo);stroke:url(#gdo)" d="M403 412l10 7-3 4z"/><path color="#018" d="M410 423l3-4 10-5-5 15zM418 429l5-15 9 0-3 10z"/><path color="#029" d="M429 424l3-10 10 5-4 12z"/><path color="#018" d="M438 431l4-12 7 21-3 3z"/><path color="#007" d="M446 443l3-3 8 15z"/><path color="#005" d="M446 443l11 12 0-11zM457 444l0 11 12 0-1-5z"/><path color="#075" d="M343 391l3-7 6-5z"/><path color="#393" d="M343 391l9-12-2-20z"/><path color="#7c1" d="M350 359l2 20 8-28z"/><path color="#8d0" d="M350 359l10-8-4 28z"/><path color="#5a3" d="M356 379l4-28 5 43z"/><path color="#392" d="M356 379l9 15-1-29z"/><path color="#5a2" d="M364 365l1 29 9-27z"/><path color="#6d1" d="M364 365l10 2-4 20z"/><path color="#3a4" d="M370 387l4-20 5 33z"/><path color="#063" d="M370 387l9 13-1-10z"/><path color="#283" d="M378 390l1 10 10-27z"/><path color="#2a2" d="M378 390l11-17-4 22z"/><path color="#294" d="M385 395l4-22 6 30z"/><path color="#054" d="M385 395l10 8-2-4z"/><path color="#036" d="M393 399l2 4 8 9z"/><path color="#039" d="M393 399l10 13-3 4z"/><path color="#01b" d="M400 416l3-4 7 11z"/><path color="#006" d="M400 416l10 7-2-4zM408 419l2 4 8 6z"/><path color="#00a" d="M408 419l10 10-2 1z"/><path color="#006" d="M416 430l2-1 11-5-5 17z"/><path color="#008" d="M424 441l5-17 9 7z"/><path color="#005" d="M424 441l14-10-2 0z"/><path color="#008" d="M436 431l2 0 8 12-3 8z"/><path color="#006" d="M443 451l3-8 11 1z"/><path color="#016" d="M443 451l14-7 1-17zM458 427l-1 17 11 6 0-10z"/><path color="#4a3" d="M341 374l2 17 7-32z"/><path color="#4c1" d="M341 374l9-15-3 25z"/><path color="#3b2" d="M347 384l3-25 6 20-2 9z"/><path color="#291" d="M354 388l2-9 8-14-3 18z"/><path color="#3d1" d="M361 383l3-18 6 22z"/><path color="#5a1" d="M361 383l9 4 0-42z"/><path color="#492" d="M370 345l0 42 8 3z"/><path color="#593" d="M370 345l8 45-4 9z"/><path color="#076" d="M374 399l4-9 7 5-3 9z"/><path color="#066" d="M382 404l3-9 8 4z"/><path color="#055" d="M382 404l11-5-3 1z"/><path color="#048" d="M390 400l3-1 7 17-3 7z"/><path color="#00a" d="M397 423l3-7 8 3-3 5zM405 424l3-5 8 11z"/><path color="#026" d="M405 424l11 6 1-24z"/><path color="#025" d="M417 406l-1 24 8 11-1-8z"/><path color="#017" d="M423 433l1 8 12-10-2-9z"/><path color="#016" d="M434 422l2 9 7 20zM434 422l9 29-3 1z"/><path color="#015" d="M440 452l3-1 15-24z"/><path color="#016" d="M440 452l18-25-6 23z"/><path style="fill:url(#gdp);stroke:url(#gdp)" d="M452 450l6-23 10 13z"/><path style="fill:url(#gdq);stroke:url(#gdq)" d="M452 450l16-10-8 25z"/><path color="#1c3" d="M338 382l3-8 6 10z"/><path color="#082" d="M338 382l9 2-2-5z"/><path color="#172" d="M345 379l2 5 7 4-3-9z"/><path color="#192" d="M351 379l3 9 7-5z"/><path color="#1b3" d="M351 379l10 4-3 12z"/><path color="#561" d="M358 395l3-12 9-38-3-5z"/><path color="#792" d="M367 340l3 5 4 54-1-14z"/><path color="#064" d="M373 385l1 14 8 5-2-7z"/><path color="#055" d="M380 397l2 7 8-4z"/><path color="#067" d="M380 397l10 3-3 13z"/><path color="#038" d="M387 413l3-13 7 23z"/><path color="#007" d="M387 413l10 10-2-4z"/><path color="#006" d="M395 419l2 4 8 1z"/><path color="#009" d="M395 419l10 5-3 10z"/><path color="#025" d="M402 434l3-10 12-18-6 27z"/><path color="#037" d="M411 433l6-27 6 27z"/><path color="#007" d="M411 433l12 0-1-9z"/><path color="#017" d="M422 424l1 9 11-11z"/><path color="#018" d="M422 424l12-2-5 20z"/><path color="#017" d="M429 442l5-20 6 30z"/><path color="#006" d="M429 442l11 10 1-15zM441 437l-1 15 12-2z"/><path color="#008" d="M441 437l11 13-4 7z"/><path color="#006" d="M448 457l4-7 8 15z"/><path color="#003" d="M448 457l12 8-1-6z"/><path color="#192" d="M336 382l2 0 7-3z"/><path color="#194" d="M336 382l9-3-3 16z"/><path color="#193" d="M342 395l3-16 6 0-3 10z"/><path color="#1a4" d="M348 389l3-10 7 16z"/><path color="#183" d="M348 389l10 6-2-20z"/><path style="fill:url(#gdr);stroke:url(#gdr)" d="M356 375l2 20 9-55z"/><path style="fill:url(#gds);stroke:url(#gds)" d="M356 375l11-35-2-6z"/><path color="#8a0" d="M365 334l2 6 6 45-3-8z"/><path style="fill:url(#gdt);stroke:url(#gdt)" d="M370 377l3 8 7 12z"/><path style="fill:url(#gdu);stroke:url(#gdu)" d="M370 377l10 20-1-32z"/><path color="#364" d="M379 365l1 32 7 16zM379 365l8 48-2-9z"/><path color="#016" d="M385 404l2 9 8 6z"/><path color="#029" d="M385 404l10 15-3-1z"/><path color="#008" d="M392 418l3 1 7 15-3-2z"/><path color="#015" d="M399 432l3 2 9-1 0-23z"/><path color="#026" d="M411 410l0 23 11-9z"/><path color="#037" d="M411 410l11 14-5 19z"/><path color="#007" d="M417 443l5-19 7 18-2 1z"/><path color="#006" d="M427 443l2-1 12-5z"/><path color="#017" d="M427 443l14-6-1-9z"/><path color="#005" d="M440 428l1 9 7 20-1-6z"/><path color="#004" d="M447 451l1 6 11 2z"/><path color="#006" d="M447 451l12 8-2 1z"/><path color="#382" d="M333 359l3 23 6 13-3-23z"/><path style="fill:url(#gdv);stroke:url(#gdv)" d="M339 372l3 23 6-6z"/><path style="fill:url(#gdw);stroke:url(#gdw)" d="M339 372l9 17-1-57z"/><path color="#591" d="M347 332l1 57 8-14z"/><path color="#7c0" d="M347 332l9 43-3 5z"/><path color="#590" d="M353 380l3-5 9-41z"/><path color="#890" d="M353 380l12-46-4 25z"/><path style="fill:url(#gdx);stroke:url(#gdx)" d="M361 359l4-25 5 43z"/><path style="fill:url(#gdy);stroke:url(#gdy)" d="M361 359l9 18-3 17z"/><path style="fill:url(#gdz);stroke:url(#gdz)" d="M367 394l3-17 9-12z"/><path style="fill:url(#ge0);stroke:url(#ge0)" d="M367 394l12-29-5 33z"/><path style="fill:url(#ge1);stroke:url(#ge1)" d="M374 398l5-33 6 39z"/><path style="fill:url(#ge2);stroke:url(#ge2)" d="M374 398l11 6-4 14z"/><path color="#029" d="M381 418l4-14 7 14z"/><path color="#037" d="M381 418l11 0-1-15z"/><path color="#025" d="M391 403l1 15 7 14z"/><path color="#026" d="M391 403l8 29-2-4zM397 428l2 4 12-22z"/><path color="#027" d="M397 428l14-18-6 28z"/><path color="#026" d="M405 438l6-28 6 33z"/><path color="#006" d="M405 438l12 5-1-17zM416 426l1 17 10 0-1-14z"/><path color="#017" d="M426 429l1 14 13-15z"/><path color="#018" d="M426 429l14-1-7 26z"/><path color="#017" d="M433 454l7-26 7 23-3 6z"/><path color="#007" d="M444 457l3-6 10 9z"/><path color="#006" d="M444 457l13 3 2-21z"/><path color="#4b2" d="M330 389l3-30 6 13-2 7z"/><path color="#580" d="M337 379l2-7 8-40z"/><path color="#6a0" d="M337 379l10-47-4 45z"/><path style="fill:url(#ge3);stroke:url(#ge3)" d="M343 377l4-45 6 48z"/><path style="fill:url(#ge4);stroke:url(#ge4)" d="M343 377l10 3-3 18z"/><path color="#492" d="M350 398l3-18 8-21z"/><path color="#792" d="M350 398l11-39-3-4z"/><path color="#6a2" d="M358 355l3 4 6 35-3 3z"/><path color="#095" d="M364 397l3-3 7 4-2 4z"/><path color="#057" d="M372 402l2-4 7 20z"/><path color="#055" d="M372 402l9 16-1-24z"/><path color="#065" d="M380 394l1 24 10-15z"/><path color="#095" d="M380 394l11 9-3 6z"/><path color="#057" d="M388 409l3-6 6 25z"/><path color="#016" d="M388 409l9 19-2-6z"/><path color="#006" d="M395 422l2 6 8 10-1-8z"/><path color="#007" d="M404 430l1 8 11-12z"/><path color="#00a" d="M404 430l12-4-3 7z"/><path color="#01a" d="M413 433l3-7 10 3z"/><path color="#016" d="M413 433l13-4-2-2z"/><path color="#017" d="M424 427l2 2 7 25z"/><path color="#015" d="M424 427l9 27 0-13z"/><path color="#005" d="M433 441l0 13 11 3z"/><path color="#007" d="M433 441l11 16-2-1z"/><path color="#005" d="M442 456l2 1 15-18z"/><path color="#007" d="M442 456l17-17-4 9z"/><path color="#073" d="M328 385l2 4 7-10z"/><path color="#1b2" d="M328 385l9-6-3 5z"/><path color="#1c2" d="M334 384l3-5 6-2-3 11z"/><path color="#1a4" d="M340 388l3-11 7 21z"/><path color="#073" d="M340 388l10 10-3-13z"/><path color="#593" d="M347 385l3 13 8-43zM347 385l11-30-4 46z"/><path style="fill:url(#ge5);stroke:url(#ge5)" d="M354 401l4-46 6 42z"/><path style="fill:url(#ge6);stroke:url(#ge6)" d="M354 401l10-4-3 0z"/><path color="#085" d="M361 397l3 0 8 5z"/><path color="#053" d="M361 397l11 5-3-5z"/><path color="#073" d="M369 397l3 5 8-8z"/><path color="#085" d="M369 397l11-3-4 19z"/><path color="#066" d="M376 413l4-19 8 15z"/><path color="#165" d="M376 413l12-4-2-20z"/><path color="#154" d="M386 389l2 20 7 13z"/><path color="#156" d="M386 389l9 33-3 8z"/><path color="#00a" d="M392 430l3-8 9 8-3 1z"/><path color="#009" d="M401 431l3-1 9 3-4 9z"/><path color="#017" d="M409 442l4-9 11-6-6 23z"/><path style="fill:url(#ge7);stroke:url(#ge7)" d="M418 450l6-23 9 14z"/><path style="fill:url(#ge8);stroke:url(#ge8)" d="M418 450l15-9-5 19z"/><path color="#007" d="M428 460l5-19 9 15z"/><path color="#005" d="M428 460l14-4-3 0zM439 456l3 0 13-8z"/><path color="#007" d="M439 456l16-8-3 3z"/><path color="#084" d="M325 394l3-9 6-1z"/><path color="#063" d="M325 394l9-10-3 0z"/><path color="#1b3" d="M331 384l3 0 6 4z"/><path color="#3a2" d="M331 384l9 4-2-26z"/><path style="fill:url(#ge9);stroke:url(#ge9)" d="M338 362l2 26 7-3z"/><path style="fill:url(#gea);stroke:url(#gea)" d="M338 362l9 23-2-64z"/><path color="#452" d="M345 321l2 64 7 16z"/><path color="#536" d="M345 321l9 80-3 8z"/><path color="#046" d="M351 409l3-8 7-4z"/><path color="#054" d="M351 409l10-12-2-2z"/><path color="#083" d="M359 395l2 2 8 0z"/><path color="#085" d="M359 395l10 2-3 15z"/><path color="#048" d="M366 412l3-15 7 16-3 4z"/><path color="#263" d="M373 417l3-4 10-24-2-10zM384 379l2 10 6 41-3 3z"/><path color="#009" d="M389 433l3-3 9 1-3 2z"/><path color="#00a" d="M398 433l3-2 8 11z"/><path color="#017" d="M398 433l11 9 0-15z"/><path color="#006" d="M409 427l0 15 9 8-1-8z"/><path color="#005" d="M417 442l1 8 10 10-1-13z"/><path color="#006" d="M427 447l1 13 11-4-1-5zM438 451l1 5 13-5z"/><path color="#009" d="M438 451l14 0-3 5z"/><path color="#073" d="M322 388l3 6 6-10-3-1z"/><path color="#3a1" d="M328 383l3 1 7-22z"/><path color="#4a3" d="M328 383l10-21-3 35z"/><path style="fill:url(#geb);stroke:url(#geb)" d="M335 397l3-35 7-41z"/><path style="fill:url(#gec);stroke:url(#gec)" d="M335 397l10-76-3 43z"/><path style="fill:url(#ged);stroke:url(#ged)" d="M342 364l3-43 6 88z"/><path style="fill:url(#gee);stroke:url(#gee)" d="M342 364l9 45-2-37z"/><path color="#274" d="M349 372l2 37 8-14z"/><path color="#3b1" d="M349 372l10 23-3-3z"/><path color="#074" d="M356 392l3 3 7 17z"/><path color="#053" d="M356 392l10 20-3-9z"/><path color="#025" d="M363 403l3 9 7 5-2-4z"/><path color="#265" d="M371 413l2 4 11-38zM371 413l13-34-5 43z"/><path style="fill:url(#gef);stroke:url(#gef)" d="M379 422l5-43 5 54z"/><path style="fill:url(#geg);stroke:url(#geg)" d="M379 422l10 11-2-2z"/><path color="#016" d="M387 431l2 2 9 0-1-16z"/><path color="#027" d="M397 417l1 16 11-6z"/><path color="#038" d="M397 417l12 10-5 17z"/><path color="#018" d="M404 444l5-17 8 15-4 8z"/><path color="#008" d="M413 450l4-8 10 5-4 8zM423 455l4-8 11 4-4 9zM434 460l4-9 11 5z"/><path color="#006" d="M434 460l15-4-3 0z"/><path color="#082" d="M319 388l3 0 6-5z"/><path color="#0a3" d="M319 388l9-5-3 6z"/><path style="fill:url(#geh);stroke:url(#geh)" d="M325 389l3-6 7 14z"/><path style="fill:url(#gei);stroke:url(#gei)" d="M325 389l10 8-3-48z"/><path color="#892" d="M332 349l3 48 7-33z"/><path color="#9d1" d="M332 349l10 15-3 25z"/><path style="fill:url(#gej);stroke:url(#gej)" d="M339 389l3-25 7 8z"/><path style="fill:url(#gek);stroke:url(#gek)" d="M339 389l10-17-3 17z"/><path color="#4d1" d="M346 389l3-17 7 20z"/><path color="#1a1" d="M346 389l10 3-3-2z"/><path color="#194" d="M353 390l3 2 7 11-3 4z"/><path color="#058" d="M360 407l3-4 8 10-3 2z"/><path color="#03a" d="M368 415l3-2 8 9z"/><path color="#016" d="M368 415l11 7-3-5z"/><path style="fill:url(#gel);stroke:url(#gel)" d="M376 417l3 5 8 9z"/><path style="fill:url(#gem);stroke:url(#gem)" d="M376 417l11 14-1-29z"/><path color="#055" d="M386 402l1 29 10-14z"/><path color="#086" d="M386 402l11 15-3 7z"/><path color="#038" d="M394 424l3-7 7 27z"/><path color="#016" d="M394 424l10 20-2-7z"/><path color="#005" d="M402 437l2 7 9 6z"/><path color="#007" d="M402 437l11 13-2-2z"/><path color="#006" d="M411 448l2 2 10 5-1-11z"/><path color="#005" d="M422 444l1 11 11 5z"/><path color="#008" d="M422 444l12 16-4 7z"/><path style="fill:url(#gen);stroke:url(#gen)" d="M430 467l4-7 12-4z"/><path style="fill:url(#geo);stroke:url(#geo)" d="M430 467l16-11-7 30z"/><path color="#095" d="M317 392l2-4 6 1z"/><path color="#063" d="M317 392l8-3-2-1z"/><path color="#691" d="M323 388l2 1 7-40-3-4z"/><path color="#7b1" d="M329 345l3 4 7 40-3-4z"/><path color="#191" d="M336 385l3 4 7 0-3-1z"/><path color="#1b1" d="M343 388l3 1 7 1z"/><path color="#2e1" d="M343 388l10 2-3 5z"/><path color="#1b4" d="M350 395l3-5 7 17z"/><path color="#063" d="M350 395l10 12-2-8z"/><path color="#044" d="M358 399l2 8 8 8z"/><path color="#058" d="M358 399l10 16-3 7z"/><path color="#029" d="M365 422l3-7 8 2-3 9z"/><path color="#045" d="M373 426l3-9 10-15z"/><path color="#283" d="M373 426l13-24-2-10z"/><path color="#172" d="M384 392l2 10 8 22-2-16z"/><path color="#035" d="M392 408l2 16 8 13z"/><path color="#047" d="M392 408l10 29-3 7z"/><path style="fill:url(#gep);stroke:url(#gep)" d="M399 444l3-7 9 11z"/><path style="fill:url(#geq);stroke:url(#geq)" d="M399 444l12 4-5 16z"/><path style="fill:url(#ger);stroke:url(#ger)" d="M406 464l5-16 11-4z"/><path style="fill:url(#ges);stroke:url(#ges)" d="M406 464l16-20-6 26z"/><path color="#006" d="M416 470l6-26 8 23z"/><path color="#004" d="M416 470l14-3-1-8zM429 459l1 8 9 19 0-18z"/><path style="fill:url(#get);stroke:url(#get)" d="M313 371l4 21 6-4z"/><path style="fill:url(#geu);stroke:url(#geu)" d="M313 371l10 17-4-25z"/><path color="#8b1" d="M319 363l4 25 6-43z"/><path color="#9c0" d="M319 363l10-18-3 36z"/><path style="fill:url(#gev);stroke:url(#gev)" d="M326 381l3-36 7 40z"/><path style="fill:url(#gew);stroke:url(#gew)" d="M326 381l10 4-3 17z"/><path color="#184" d="M333 402l3-17 7 3-3 20z"/><path style="fill:url(#gex);stroke:url(#gex)" d="M340 408l3-20 7 7z"/><path style="fill:url(#gey);stroke:url(#gey)" d="M340 408l10-13-3 18z"/><path color="#084" d="M347 413l3-18 8 4z"/><path color="#074" d="M347 413l11-14-3-4z"/><path color="#065" d="M355 395l3 4 7 23-3-5z"/><path color="#016" d="M362 417l3 5 8 4-3-3z"/><path style="fill:url(#gez);stroke:url(#gez)" d="M370 423l3 3 11-34z"/><path style="fill:url(#gf0);stroke:url(#gf0)" d="M370 423l14-31-6 44z"/><path style="fill:url(#gf1);stroke:url(#gf1)" d="M378 436l6-44 8 16z"/><path style="fill:url(#gf2);stroke:url(#gf2)" d="M378 436l14-28-6 36z"/><path style="fill:url(#gf3);stroke:url(#gf3)" d="M386 444l6-36 7 36z"/><path style="fill:url(#gf4);stroke:url(#gf4)" d="M386 444l13 0-5 15z"/><path color="#006" d="M394 459l5-15 7 20z"/><path color="#005" d="M394 459l12 5 1-27z"/><path style="fill:url(#gf5);stroke:url(#gf5)" d="M407 437l-1 27 10 6z"/><path style="fill:url(#gf6);stroke:url(#gf6)" d="M407 437l9 33-1-13z"/><path color="#005" d="M415 457l1 13 13-11z"/><path color="#006" d="M415 457l14 2-6 20z"/><path style="fill:url(#gf7);stroke:url(#gf7)" d="M423 479l6-20 10 9z"/><path style="fill:url(#gf8);stroke:url(#gf8)" d="M423 479l16-11-4 11z"/><path color="#4c0" d="M310 382l3-11 6-8-2 21z"/><path color="#5e0" d="M317 384l2-21 7 18z"/><path color="#5c0" d="M317 384l9-3-3-19z"/><path color="#481" d="M323 362l3 19 7 21-3-26z"/><path color="#264" d="M330 376l3 26 7 6z"/><path color="#274" d="M330 376l10 32-3-4z"/><path color="#035" d="M337 404l3 4 7 5-3-9z"/><path color="#064" d="M344 404l3 9 8-18z"/><path color="#084" d="M344 404l11-9-4 13z"/><path style="fill:url(#gf9);stroke:url(#gf9)" d="M351 408l4-13 7 22z"/><path style="fill:url(#gfa);stroke:url(#gfa)" d="M351 408l11 9-4 19z"/><path color="#018" d="M358 436l4-19 8 6z"/><path color="#255" d="M358 436l12-13-1-37z"/><path color="#245" d="M369 386l1 37 8 13zM369 386l9 50-3-6z"/><path color="#006" d="M375 430l3 6 8 8-2-4zM384 440l2 4 8 15zM384 440l10 19-1-14z"/><path color="#007" d="M393 445l1 14 13-22z"/><path color="#009" d="M393 445l14-8-4 6zM403 443l4-6 8 20-4 10z"/><path color="#005" d="M411 467l4-10 8 22zM411 467l12 12 1-23z"/><path color="#004" d="M424 456l-1 23 12 0z"/><path color="#005" d="M424 456l11 23-2-4z"/><path color="#1d2" d="M308 387l2-5 7 2z"/><path color="#2a1" d="M308 387l9-3-4-6z"/><path color="#5c0" d="M313 378l4 6 6-22z"/><path color="#5c1" d="M313 378l10-16-3 31z"/><path style="fill:url(#gfb);stroke:url(#gfb)" d="M320 393l3-31 7 14z"/><path style="fill:url(#gfc);stroke:url(#gfc)" d="M320 393l10-17-3 16z"/><path color="#2a3" d="M327 392l3-16 7 28-3-3z"/><path style="fill:url(#gfd);stroke:url(#gfd)" d="M334 401l3 3 7 0z"/><path style="fill:url(#gfe);stroke:url(#gfe)" d="M334 401l10 3-3-42z"/><path style="fill:url(#gff);stroke:url(#gff)" d="M341 362l3 42 7 4z"/><path style="fill:url(#gfg);stroke:url(#gfg)" d="M341 362l10 46-2-33z"/><path color="#254" d="M349 375l2 33 7 28-2-21z"/><path color="#265" d="M356 415l2 21 11-50z"/><path color="#274" d="M356 415l13-29-5 30z"/><path style="fill:url(#gfh);stroke:url(#gfh)" d="M364 416l5-30 6 44z"/><path style="fill:url(#gfi);stroke:url(#gfi)" d="M364 416l11 14-2-8z"/><path color="#016" d="M373 422l2 8 9 10z"/><path color="#019" d="M373 422l11 18-3 5z"/><path color="#009" d="M381 445l3-5 9 5z"/><path color="#007" d="M381 445l12 0-2-6z"/><path color="#016" d="M391 439l2 6 10-2-1-15z"/><path color="#015" d="M402 428l1 15 8 24 0-19z"/><path color="#007" d="M411 448l0 19 13-11z"/><path color="#00a" d="M411 448l13 8-4 7z"/><path color="#008" d="M420 463l4-7 9 19z"/><path color="#006" d="M420 463l13 12-1-13z"/><path color="#191" d="M305 389l3-2 5-9z"/><path color="#2b2" d="M305 389l8-11-2 12z"/><path style="fill:url(#gfj);stroke:url(#gfj)" d="M311 390l2-12 7 15z"/><path style="fill:url(#gfk);stroke:url(#gfk)" d="M311 390l9 3-4-52z"/><path style="fill:url(#gfl);stroke:url(#gfl)" d="M316 341l4 52 7-1z"/><path style="fill:url(#gfm);stroke:url(#gfm)" d="M316 341l11 51-4-49z"/><path color="#482" d="M323 343l4 49 7 9z"/><path color="#582" d="M323 343l11 58-3-6z"/><path color="#492" d="M331 395l3 6 7-39z"/><path color="#4a2" d="M331 395l10-33-3 40z"/><path style="fill:url(#gfn);stroke:url(#gfn)" d="M338 402l3-40 8 13z"/><path style="fill:url(#gfo);stroke:url(#gfo)" d="M338 402l11-27-3 17z"/><path style="fill:url(#gfp);stroke:url(#gfp)" d="M346 392l3-17 7 40z"/><path style="fill:url(#gfq);stroke:url(#gfq)" d="M346 392l10 23-3 14z"/><path color="#028" d="M353 429l3-14 8 1-3 16z"/><path color="#038" d="M361 432l3-16 9 6z"/><path color="#026" d="M361 432l12-10-3 2z"/><path color="#039" d="M370 424l3-2 8 23z"/><path color="#016" d="M370 424l11 21-3-9z"/><path color="#007" d="M378 436l3 9 10-6z"/><path color="#00a" d="M378 436l13 3-4 7z"/><path style="fill:url(#gfr);stroke:url(#gfr)" d="M387 446l4-7 11-11z"/><path style="fill:url(#gfs);stroke:url(#gfs)" d="M387 446l15-18-5 24z"/><path style="fill:url(#gft);stroke:url(#gft)" d="M397 452l5-24 9 20z"/><path style="fill:url(#gfu);stroke:url(#gfu)" d="M397 452l14-4-5 19z"/><path style="fill:url(#gfv);stroke:url(#gfv)" d="M406 467l5-19 9 15z"/><path style="fill:url(#gfw);stroke:url(#gfw)" d="M406 467l14-4-3 5z"/><path style="fill:url(#gfx);stroke:url(#gfx)" d="M417 468l3-5 12-1z"/><path style="fill:url(#gfy);stroke:url(#gfy)" d="M417 468l15-6-6 21z"/><path color="#182" d="M301 385l4 4 6 1z"/><path color="#1d3" d="M301 385l10 5-3 2z"/><path color="#481" d="M308 392l3-2 5-49z"/><path color="#591" d="M308 392l8-51-2 47z"/><path style="fill:url(#gfz);stroke:url(#gfz)" d="M314 388l2-47 7 2z"/><path style="fill:url(#gg0);stroke:url(#gg0)" d="M314 388l9-45-2 60z"/><path color="#583" d="M321 403l2-60 8 52z"/><path color="#493" d="M321 403l10-8-4-29z"/><path color="#391" d="M327 366l4 29 7 7z"/><path color="#494" d="M327 366l11 36-3 12z"/><path color="#183" d="M335 414l3-12 8-10z"/><path color="#4a3" d="M335 414l11-22-3-16z"/><path color="#372" d="M343 376l3 16 7 37z"/><path color="#355" d="M343 376l10 53-3-6z"/><path color="#006" d="M350 423l3 6 8 3z"/><path color="#019" d="M350 423l11 9-3 0z"/><path color="#025" d="M358 432l3 0 9-8-3-4z"/><path style="fill:url(#gg1);stroke:url(#gg1)" d="M367 420l3 4 8 12z"/><path style="fill:url(#gg2);stroke:url(#gg2)" d="M367 420l11 16-1-31z"/><path color="#145" d="M377 405l1 31 9 10zM377 405l10 41-3-5z"/><path color="#006" d="M384 441l3 5 10 6z"/><path color="#009" d="M384 441l13 11-4 10z"/><path color="#007" d="M393 462l4-10 9 15z"/><path color="#005" d="M393 462l13 5-2-10zM404 457l2 10 11 1z"/><path color="#008" d="M404 457l13 11-4 7z"/><path color="#006" d="M413 475l4-7 9 15zM413 475l13 8 1-22z"/><path color="#193" d="M298 383l3 2 7 7-3 10z"/><path color="#194" d="M305 402l3-10 6-4z"/><path color="#173" d="M305 402l9-14-3 4z"/><path color="#1c3" d="M311 392l3-4 7 15z"/><path color="#172" d="M311 392l10 11-4-11z"/><path color="#4a2" d="M317 392l4 11 6-37zM317 392l10-26-3 40z"/><path style="fill:url(#gg3);stroke:url(#gg3)" d="M324 406l3-40 8 48z"/><path style="fill:url(#gg4);stroke:url(#gg4)" d="M324 406l11 8-4-13z"/><path color="#383" d="M331 401l4 13 8-38z"/><path color="#393" d="M331 401l12-25-4 40z"/><path style="fill:url(#gg5);stroke:url(#gg5)" d="M339 416l4-40 7 47z"/><path style="fill:url(#gg6);stroke:url(#gg6)" d="M339 416l11 7-3-11z"/><path color="#026" d="M347 412l3 11 8 9-3-7z"/><path color="#027" d="M355 425l3 7 9-12z"/><path color="#038" d="M355 425l12-5-4 15z"/><path style="fill:url(#gg7);stroke:url(#gg7)" d="M363 435l4-15 10-15z"/><path style="fill:url(#gg8);stroke:url(#gg8)" d="M363 435l14-30-5 25z"/><path style="fill:url(#gg9);stroke:url(#gg9)" d="M372 430l5-25 7 36z"/><path style="fill:url(#gga);stroke:url(#gga)" d="M372 430l12 11-3 5z"/><path color="#009" d="M381 446l3-5 9 21z"/><path color="#006" d="M381 446l12 16-2-12zM391 450l2 12 11-5z"/><path color="#008" d="M391 450l13 7-5 18z"/><path color="#006" d="M399 475l5-18 9 18-3 3z"/><path color="#005" d="M410 478l3-3 14-14-5 13z"/><path color="#1b3" d="M295 383l3 0 7 19z"/><path color="#073" d="M295 383l10 19-4-7z"/><path color="#074" d="M301 395l4 7 6-10z"/><path color="#0a3" d="M301 395l10-3-3 6z"/><path color="#1b3" d="M308 398l3-6 6 0z"/><path color="#181" d="M308 398l9-6-3-2z"/><path color="#1a2" d="M314 390l3 2 7 14z"/><path color="#172" d="M314 390l10 16-3-9z"/><path color="#073" d="M321 397l3 9 7-5z"/><path color="#1c3" d="M321 397l10 4-3 2z"/><path color="#077" d="M328 403l3-2 8 15-3 7z"/><path color="#037" d="M336 423l3-7 8-4-4 12z"/><path color="#038" d="M343 424l4-12 8 13-4 8z"/><path color="#01a" d="M351 433l4-8 8 10-3 1z"/><path color="#027" d="M360 436l3-1 9-5-3-2z"/><path color="#028" d="M369 428l3 2 9 16-3-2z"/><path color="#008" d="M378 444l3 2 10 4z"/><path color="#00a" d="M378 444l13 6-4 9z"/><path color="#008" d="M387 459l4-9 8 25z"/><path color="#006" d="M387 459l12 16-1-24z"/><path color="#005" d="M398 451l1 24 11 3z"/><path color="#007" d="M398 451l12 27-4 6z"/><path color="#005" d="M406 484l4-6 12-4-4 8z"/><path color="#1c2" d="M292 383l3 0 6 12-3 1z"/><path color="#085" d="M298 396l3-1 7 3-3 8z"/><path color="#183" d="M305 406l3-8 6-8z"/><path color="#192" d="M305 406l9-16-3-3z"/><path color="#2b1" d="M311 387l3 3 7 7-3 0z"/><path color="#1b2" d="M318 397l3 0 7 6z"/><path color="#3b1" d="M318 397l10 6-3-24z"/><path color="#273" d="M325 379l3 24 8 20-4-19z"/><path color="#045" d="M332 404l4 19 7 1z"/><path color="#067" d="M332 404l11 20-3 1z"/><path color="#01a" d="M340 425l3-1 8 9-3-1z"/><path style="fill:url(#ggb);stroke:url(#ggb)" d="M348 432l3 1 9 3z"/><path style="fill:url(#ggc);stroke:url(#ggc)" d="M348 432l12 4-2-28z"/><path style="fill:url(#ggd);stroke:url(#ggd)" d="M358 408l2 28 9-8z"/><path style="fill:url(#gge);stroke:url(#gge)" d="M358 408l11 20-3-6z"/><path color="#045" d="M366 422l3 6 9 16-2-13z"/><path color="#015" d="M376 431l2 13 9 15z"/><path color="#028" d="M376 431l11 28-3 2z"/><path color="#006" d="M384 461l3-2 11-8z"/><path color="#007" d="M384 461l14-10-5 22zM393 473l5-22 8 33z"/><path color="#005" d="M393 473l13 11-1-17zM405 467l1 17 12-2-2-7z"/><path color="#1a3" d="M289 399l3-16 6 13z"/><path color="#074" d="M289 399l9-3-3 1z"/><path color="#086" d="M295 397l3-1 7 10z"/><path color="#183" d="M295 397l10 9-4-20z"/><path color="#2a2" d="M301 386l4 20 6-19z"/><path color="#2d1" d="M301 386l10 1-3 15z"/><path color="#1c2" d="M308 402l3-15 7 10z"/><path color="#182" d="M308 402l10-5-4-1z"/><path color="#391" d="M314 396l4 1 7-18z"/><path color="#3c1" d="M314 396l11-17-3 25z"/><path style="fill:url(#ggf);stroke:url(#ggf)" d="M322 404l3-25 7 25z"/><path style="fill:url(#ggg);stroke:url(#ggg)" d="M322 404l10 0-3 8z"/><path color="#086" d="M329 412l3-8 8 21z"/><path color="#034" d="M329 412l11 13-3-6z"/><path color="#025" d="M337 419l3 6 8 7z"/><path color="#029" d="M337 419l11 13-3 7z"/><path color="#034" d="M345 439l3-7 10-24z"/><path color="#046" d="M345 439l13-31-5 30z"/><path style="fill:url(#ggh);stroke:url(#ggh)" d="M353 438l5-30 8 14z"/><path style="fill:url(#ggi);stroke:url(#ggi)" d="M353 438l13-16-3 9z"/><path style="fill:url(#ggj);stroke:url(#ggj)" d="M363 431l3-9 10 9z"/><path style="fill:url(#ggk);stroke:url(#ggk)" d="M363 431l13 0-5 30z"/><path style="fill:url(#ggl);stroke:url(#ggl)" d="M371 461l5-30 8 30z"/><path style="fill:url(#ggm);stroke:url(#ggm)" d="M371 461l13 0-4 3z"/><path color="#008" d="M380 464l4-3 9 12-3 3z"/><path color="#005" d="M390 476l3-3 12-6-4 9z"/><path style="fill:url(#ggn);stroke:url(#ggn)" d="M401 476l4-9 11 8z"/><path style="fill:url(#ggo);stroke:url(#ggo)" d="M401 476l15-1-5 19z"/><path style="fill:url(#ggp);stroke:url(#ggp)" d="M287 412l2-13 6-2z"/><path style="fill:url(#ggq);stroke:url(#ggq)" d="M287 412l8-15-7-59z"/><path color="#591" d="M288 338l7 59 6-11z"/><path color="#6b1" d="M288 338l13 48-3 9z"/><path color="#1c2" d="M298 395l3-9 7 16z"/><path color="#192" d="M298 395l10 7-4-11zM304 391l4 11 6-6z"/><path color="#2f1" d="M304 391l10 5-3 5z"/><path color="#1c3" d="M311 401l3-5 8 8-4 6z"/><path color="#0a5" d="M318 410l4-6 7 8z"/><path color="#183" d="M318 410l11 2-3-13z"/><path color="#063" d="M326 399l3 13 8 7z"/><path color="#176" d="M326 399l11 20-4 16z"/><path color="#029" d="M333 435l4-16 8 20z"/><path color="#017" d="M333 435l12 4-3-12zM342 427l3 12 8-1z"/><path color="#02a" d="M342 427l11 11-3 8z"/><path color="#028" d="M350 446l3-8 10-7-4 8z"/><path color="#029" d="M359 439l4-8 8 30-3-5z"/><path color="#005" d="M368 456l3 5 9 3z"/><path color="#007" d="M368 456l12 8-3 0zM377 464l3 0 10 12z"/><path color="#005" d="M377 464l13 12-3-10zM387 466l3 10 11 0z"/><path color="#008" d="M387 466l14 10-4 8z"/><path color="#006" d="M397 484l4-8 10 18z"/><path color="#004" d="M397 484l14 10-3-4z"/><path color="#445" d="M283 400l4 12 1-74z"/><path color="#682" d="M283 400l5-62-1 35z"/><path style="fill:url(#ggr);stroke:url(#ggr)" d="M287 373l1-35 10 57z"/><path style="fill:url(#ggs);stroke:url(#ggs)" d="M287 373l11 22-3 7z"/><path color="#1a3" d="M295 402l3-7 6-4-3 14zM301 405l3-14 7 10-3 8z"/><path color="#095" d="M308 409l3-8 7 9-3 3z"/><path color="#173" d="M315 413l3-3 8-11z"/><path color="#185" d="M315 413l11-14-4 23z"/><path color="#166" d="M322 422l4-23 7 36z"/><path color="#255" d="M322 422l11 13-3-41zM330 394l3 41 9-8z"/><path color="#276" d="M330 394l12 33-4 4z"/><path color="#02a" d="M338 431l4-4 8 19z"/><path color="#155" d="M338 431l12 15-3-36z"/><path color="#145" d="M347 410l3 36 9-7z"/><path color="#167" d="M347 410l12 29-4 3z"/><path color="#019" d="M355 442l4-3 9 17-4 8z"/><path color="#008" d="M364 464l4-8 9 8-3 0z"/><path color="#007" d="M374 464l3 0 10 2-4 10zM383 476l4-10 10 18-3-1z"/><path color="#004" d="M394 483l3 1 11 6-5 18z"/><path color="#283" d="M279 398l4 2 4-27z"/><path color="#3a1" d="M279 398l8-25-3 13z"/><path color="#3d2" d="M284 386l3-13 8 29-4-2z"/><path style="fill:url(#ggt);stroke:url(#ggt)" d="M291 400l4 2 6 3z"/><path style="fill:url(#ggu);stroke:url(#ggu)" d="M291 400l10 5-5-35z"/><path color="#383" d="M296 370l5 35 7 4z"/><path color="#382" d="M296 370l12 39-4-9z"/><path color="#073" d="M304 400l4 9 7 4-4-8z"/><path color="#163" d="M311 405l4 8 7 9-4-26z"/><path color="#3a2" d="M318 396l4 26 8-28z"/><path color="#393" d="M318 396l12-2-3 44z"/><path style="fill:url(#ggv);stroke:url(#ggv)" d="M327 438l3-44 8 37z"/><path style="fill:url(#ggw);stroke:url(#ggw)" d="M327 438l11-7-3 7z"/><path color="#153" d="M335 438l3-7 9-21-4 3z"/><path style="fill:url(#ggx);stroke:url(#ggx)" d="M343 413l4-3 8 32z"/><path style="fill:url(#ggy);stroke:url(#ggy)" d="M343 413l12 29-4 22z"/><path color="#007" d="M351 464l4-22 9 22-4 0z"/><path color="#006" d="M360 464l4 0 10 0-5 14zM369 478l5-14 9 12-4 13z"/><path color="#005" d="M379 489l4-13 11 7z"/><path color="#004" d="M379 489l15-6-3-1z"/><path color="#005" d="M391 482l3 1 9 25zM391 482l12 26 0-29z"/><path color="#2a1" d="M275 385l4 13 5-12z"/><path color="#3f0" d="M275 385l9 1-3 6z"/><path color="#2d2" d="M281 392l3-6 7 14-4-2z"/><path color="#3a1" d="M287 398l4 2 5-30z"/><path color="#4b1" d="M287 398l9-28-2 32z"/><path color="#4c1" d="M294 402l2-32 8 30z"/><path color="#181" d="M294 402l10-2-4-3z"/><path color="#1a1" d="M300 397l4 3 7 5z"/><path color="#1d3" d="M300 397l11 8-3 7z"/><path color="#183" d="M308 412l3-7 7-9-3 26z"/><path style="fill:url(#ggz);stroke:url(#ggz)" d="M315 422l3-26 9 42z"/><path style="fill:url(#gh0);stroke:url(#gh0)" d="M315 422l12 16-4 0z"/><path color="#009" d="M323 438l4 0 8 0-4 0z"/><path color="#045" d="M331 438l4 0 8-25z"/><path color="#046" d="M331 438l12-25-4 38z"/><path style="fill:url(#gh1);stroke:url(#gh1)" d="M339 451l4-38 8 51z"/><path style="fill:url(#gh2);stroke:url(#gh2)" d="M339 451l12 13-3-11z"/><path color="#006" d="M348 453l3 11 9 0z"/><path color="#009" d="M348 453l12 11-3 4z"/><path color="#007" d="M357 468l3-4 9 14z"/><path color="#006" d="M357 468l12 10-2-20z"/><path color="#005" d="M367 458l2 20 10 11-3-8zM376 481l3 8 12-7-3-3z"/><path style="fill:url(#gh3);stroke:url(#gh3)" d="M388 479l3 3 12-3z"/><path style="fill:url(#gh4);stroke:url(#gh4)" d="M388 479l15 0-6 24z"/><path color="#1a3" d="M273 404l2-19 6 7-3 6z"/><path color="#1d2" d="M278 398l3-6 6 6z"/><path color="#192" d="M278 398l9 0-3-1z"/><path color="#1a3" d="M284 397l3 1 7 4-3 6z"/><path color="#1a2" d="M291 408l3-6 6-5-3 7z"/><path style="fill:url(#gh5);stroke:url(#gh5)" d="M297 404l3-7 8 15z"/><path style="fill:url(#gh6);stroke:url(#gh6)" d="M297 404l11 8-6-57z"/><path color="#463" d="M302 355l6 57 7 10z"/><path color="#565" d="M302 355l13 67-3 3z"/><path color="#03a" d="M312 425l3-3 8 16z"/><path color="#155" d="M312 425l11 13-4-37z"/><path color="#145" d="M319 401l4 37 8 0z"/><path color="#156" d="M319 401l12 37-4 9z"/><path color="#00a" d="M327 447l4-9 8 13z"/><path color="#007" d="M327 447l12 4-3-2zM336 449l3 2 9 2z"/><path color="#009" d="M336 449l12 4-4 8z"/><path color="#008" d="M344 461l4-8 9 15-4 2z"/><path color="#005" d="M353 470l4-2 10-10z"/><path color="#007" d="M353 470l14-12-5 24zM362 482l5-24 9 23z"/><path color="#005" d="M362 482l14-1-3-10z"/><path style="fill:url(#gh7);stroke:url(#gh7)" d="M373 471l3 10 12-2z"/><path style="fill:url(#gh8);stroke:url(#gh8)" d="M373 471l15 8-6 28z"/><path style="fill:url(#gh9);stroke:url(#gh9)" d="M382 507l6-28 9 24z"/><path style="fill:url(#gha);stroke:url(#gha)" d="M382 507l15-4-4 3z"/><path color="#053" d="M269 403l4 1 5-6z"/><path color="#094" d="M269 403l9-5-3 4zM275 402l3-4 6-1-3 14z"/><path color="#085" d="M281 411l3-14 7 11z"/><path color="#064" d="M281 411l10-3-4-6z"/><path color="#072" d="M287 402l4 6 6-4z"/><path color="#094" d="M287 402l10 2-3 13z"/><path color="#362" d="M294 417l3-13 5-49z"/><path color="#582" d="M294 417l8-62-2 47z"/><path style="fill:url(#ghb);stroke:url(#ghb)" d="M300 402l2-47 10 70z"/><path style="fill:url(#ghc);stroke:url(#ghc)" d="M300 402l12 23-4 7z"/><path color="#163" d="M308 432l4-7 7-24-4 5z"/><path color="#2a3" d="M315 406l4-5 8 46z"/><path color="#153" d="M315 406l12 41-3-22z"/><path color="#026" d="M324 425l3 22 9 2z"/><path color="#038" d="M324 425l12 24-4 5z"/><path color="#009" d="M332 454l4-5 8 12-3 8z"/><path color="#007" d="M341 469l3-8 9 9z"/><path color="#006" d="M341 469l12 1-3-12z"/><path color="#005" d="M350 458l3 12 9 12z"/><path color="#007" d="M350 458l12 24-3 0z"/><path color="#005" d="M359 482l3 0 11-11-3 2z"/><path color="#007" d="M370 473l3-2 9 36z"/><path color="#005" d="M370 473l12 34-2-23z"/><path style="fill:url(#ghd);stroke:url(#ghd)" d="M380 484l2 23 11-1z"/><path style="fill:url(#ghe);stroke:url(#ghe)" d="M380 484l13 22-2-15z"/><path color="#182" d="M265 393l4 10 6-1-5-10z"/><path color="#062" d="M270 392l5 10 6 9-4-10z"/><path color="#073" d="M277 401l4 10 6-9z"/><path color="#0b4" d="M277 401l10 1-4 9z"/><path style="fill:url(#ghf);stroke:url(#ghf)" d="M283 411l4-9 7 15z"/><path style="fill:url(#ghg);stroke:url(#ghg)" d="M283 411l11 6-7-52z"/><path color="#592" d="M287 365l7 52 6-15z"/><path color="#6b2" d="M287 365l13 37-3 18z"/><path color="#066" d="M297 420l3-18 8 30-4-4z"/><path color="#155" d="M304 428l4 4 7-26z"/><path color="#166" d="M304 428l11-22-3 31z"/><path color="#175" d="M312 437l3-31 9 19z"/><path color="#044" d="M312 437l12-12-4 0z"/><path color="#056" d="M320 425l4 0 8 29z"/><path color="#045" d="M320 425l12 29-4-24z"/><path color="#025" d="M328 430l4 24 9 15zM328 430l13 39-4-9z"/><path color="#007" d="M337 460l4 9 9-11z"/><path color="#009" d="M337 460l13-2-4 9z"/><path color="#008" d="M346 467l4-9 9 24z"/><path color="#004" d="M346 467l13 15-3-6z"/><path color="#006" d="M356 476l3 6 11-9zM356 476l14-3-5 29z"/><path style="fill:url(#ghh);stroke:url(#ghh)" d="M365 502l5-29 10 11z"/><path style="fill:url(#ghi);stroke:url(#ghi)" d="M365 502l15-18-4 4z"/><path color="#008" d="M376 488l4-4 11 7z"/><path color="#005" d="M376 488l15 3-3-2z"/><path color="#1b2" d="M262 403l3-10 5-1-3 7z"/><path color="#1d2" d="M267 399l3-7 7 9-4 1z"/><path color="#0b4" d="M273 402l4-1 6 10z"/><path color="#072" d="M273 402l10 9-4-9z"/><path color="#5a2" d="M279 402l4 9 4-46zM279 402l8-37-1 46z"/><path color="#593" d="M286 411l1-46 10 55z"/><path color="#393" d="M286 411l11 9-6-36z"/><path color="#264" d="M291 384l6 36 7 8z"/><path color="#376" d="M291 384l13 44-3 2z"/><path color="#03a" d="M301 430l3-2 8 9z"/><path color="#026" d="M301 430l11 7-4-4z"/><path color="#036" d="M308 433l4 4 8-12z"/><path color="#047" d="M308 433l12-8-4 22z"/><path style="fill:url(#ghj);stroke:url(#ghj)" d="M316 447l4-22 8 5z"/><path style="fill:url(#ghk);stroke:url(#ghk)" d="M316 447l12-17-3 19z"/><path color="#038" d="M325 449l3-19 9 30z"/><path color="#006" d="M325 449l12 11-4-7zM333 453l4 7 9 7z"/><path color="#009" d="M333 453l13 14-4 9z"/><path color="#007" d="M342 476l4-9 10 9-5 15z"/><path color="#005" d="M351 491l5-15 9 26z"/><path color="#004" d="M351 491l14 11-3-25z"/><path color="#005" d="M362 477l3 25 11-14z"/><path color="#008" d="M362 477l14 11-4 6z"/><path color="#007" d="M372 494l4-6 12 1-4 7z"/><path color="#392" d="M255 370l7 33 5-4z"/><path color="#4c2" d="M255 370l12 29-4 0z"/><path color="#1a3" d="M263 399l4 0 6 3-3 6z"/><path color="#0a3" d="M270 408l3-6 6 0-3 7z"/><path color="#0a4" d="M276 409l3-7 7 9-3 9z"/><path style="fill:url(#ghl);stroke:url(#ghl)" d="M283 420l3-9 5-27z"/><path style="fill:url(#ghm);stroke:url(#ghm)" d="M283 420l8-36-1 50z"/><path style="fill:url(#ghn);stroke:url(#ghn)" d="M290 434l1-50 10 46z"/><path style="fill:url(#gho);stroke:url(#gho)" d="M290 434l11-4-4 6z"/><path color="#029" d="M297 436l4-6 7 3z"/><path color="#027" d="M297 436l11-3-4 1z"/><path color="#02a" d="M304 434l4-1 8 14-4-1z"/><path color="#018" d="M312 446l4 1 9 2-5-6z"/><path color="#016" d="M320 443l5 6 8 4-4-4z"/><path color="#017" d="M329 449l4 4 9 23-4-5z"/><path color="#005" d="M338 471l4 5 9 15z"/><path color="#004" d="M338 471l13 20-3-8z"/><path color="#005" d="M348 483l3 8 11-14z"/><path color="#007" d="M348 483l14-6-4 14zM358 491l4-14 10 17-4 5z"/><path color="#006" d="M368 499l4-5 12 2-4 6z"/><path style="fill:url(#ghp);stroke:url(#ghp)" d="M256 415l-1-45 8 29z"/><path style="fill:url(#ghq);stroke:url(#ghq)" d="M256 415l7-16-3 3z"/><path color="#096" d="M260 402l3-3 7 9-2 19z"/><path style="fill:url(#ghr);stroke:url(#ghr)" d="M268 427l2-19 6 1z"/><path style="fill:url(#ghs);stroke:url(#ghs)" d="M268 427l8-18-8-42z"/><path color="#482" d="M268 367l8 42 7 11-6-25z"/><path color="#154" d="M277 395l6 25 7 14z"/><path color="#256" d="M277 395l13 39-3 9z"/><path color="#009" d="M287 443l3-9 7 2-3 6z"/><path color="#019" d="M294 442l3-6 7-2z"/><path color="#026" d="M294 442l10-8-4-1z"/><path color="#029" d="M300 433l4 1 8 12-3 5z"/><path color="#018" d="M309 451l3-5 8-3-3 22zM317 465l3-22 9 6-4 20zM325 469l4-20 9 22-4 7z"/><path color="#008" d="M334 478l4-7 10 12z"/><path color="#005" d="M334 478l14 5-4-6zM344 477l4 6 10 8-4-4z"/><path color="#004" d="M354 487l4 4 10 8z"/><path color="#007" d="M354 487l14 12-4 2z"/><path color="#005" d="M364 501l4-2 12 3-5 10z"/><path color="#036" d="M253 424l3-9 4-13z"/><path color="#046" d="M253 424l7-22-3 12z"/><path color="#057" d="M257 414l3-12 8 25z"/><path color="#056" d="M257 414l11 13-7-25z"/><path color="#584" d="M261 402l7 25 0-60z"/><path color="#5b1" d="M261 402l7-35-1 39z"/><path color="#6c1" d="M267 406l1-39 9 28z"/><path color="#5c1" d="M267 406l10-11-6-18z"/><path color="#363" d="M271 377l6 18 10 48-5-16z"/><path color="#027" d="M282 427l5 16 7-1-5-15z"/><path color="#037" d="M289 427l5 15 6-9z"/><path color="#058" d="M289 427l11 6-4 1z"/><path color="#02a" d="M296 434l4-1 9 18-4 1z"/><path color="#009" d="M305 452l4-1 8 14-4 1z"/><path color="#007" d="M313 466l4-1 8 4-4-1zM321 468l4 1 9 9-4-1z"/><path color="#005" d="M330 477l4 1 10-1-4-14z"/><path color="#006" d="M340 463l4 14 10 10-4-8z"/><path color="#005" d="M350 479l4 8 10 14-3-17zM361 484l3 17 11 11-3-14z"/><path color="#017" d="M250 430l3-6 4-10-4 4z"/><path style="fill:url(#ght);stroke:url(#ght)" d="M253 418l4-4 4-12z"/><path style="fill:url(#ghu);stroke:url(#ghu)" d="M253 418l8-16-7-26z"/><path color="#3a1" d="M254 376l7 26 6 4z"/><path color="#4d1" d="M254 376l13 30-4 1z"/><path color="#391" d="M263 407l4-1 4-29z"/><path color="#493" d="M263 407l8-30 0 48z"/><path style="fill:url(#ghv);stroke:url(#ghv)" d="M271 425l0-48 11 50z"/><path style="fill:url(#ghw);stroke:url(#ghw)" d="M271 425l11 2-3 14z"/><path color="#028" d="M279 441l3-14 7 0-3 19z"/><path color="#038" d="M286 446l3-19 7 7z"/><path color="#165" d="M286 446l10-12-5-24z"/><path color="#144" d="M291 410l5 24 9 18z"/><path color="#156" d="M291 410l14 42-4 5z"/><path color="#009" d="M301 457l4-5 8 14-4 1z"/><path color="#007" d="M309 467l4-1 8 2-4 6z"/><path color="#008" d="M317 474l4-6 9 9-4 1z"/><path color="#005" d="M326 478l4-1 10-14z"/><path color="#018" d="M326 478l14-15-4 14z"/><path style="fill:url(#ghx);stroke:url(#ghx)" d="M336 477l4-14 10 16z"/><path style="fill:url(#ghy);stroke:url(#ghy)" d="M336 477l14 2-4 24z"/><path style="fill:url(#ghz);stroke:url(#ghz)" d="M346 503l4-24 11 5z"/><path style="fill:url(#gi0);stroke:url(#gi0)" d="M346 503l15-19-5 14z"/><path color="#008" d="M356 498l5-14 11 14-4 7z"/><path color="#016" d="M247 434l3-4 3-12-3 7z"/><path color="#344" d="M250 425l3-7 1-42z"/><path color="#355" d="M250 425l4-49 1 48z"/><path style="fill:url(#gi1);stroke:url(#gi1)" d="M255 424l-1-48 9 31z"/><path style="fill:url(#gi2);stroke:url(#gi2)" d="M255 424l8-17-2 17z"/><path color="#057" d="M261 424l2-17 8 18-4 3z"/><path color="#03a" d="M267 428l4-3 8 16z"/><path color="#155" d="M267 428l12 13-7-36zM272 405l7 36 7 5-6-22z"/><path color="#174" d="M280 424l6 22 5-36zM280 424l11-14-2 42z"/><path style="fill:url(#gi3);stroke:url(#gi3)" d="M289 452l2-42 10 47z"/><path style="fill:url(#gi4);stroke:url(#gi4)" d="M289 452l12 5-4 6z"/><path color="#009" d="M297 463l4-6 8 10z"/><path color="#017" d="M297 463l12 4-5-24z"/><path color="#016" d="M304 443l5 24 8 7z"/><path color="#027" d="M304 443l13 31-4 6z"/><path color="#007" d="M313 480l4-6 9 4-4 7zM322 485l4-7 10-1-4 12zM332 489l4-12 10 26z"/><path color="#004" d="M332 489l14 14-4-9z"/><path color="#005" d="M342 494l4 9 10-5-4-7zM352 491l4 7 12 7z"/><path color="#008" d="M352 491l16 14-5 6z"/><path color="#006" d="M243 437l4-3 3-9-3 5z"/><path color="#019" d="M247 430l3-5 5-1-3 3z"/><path color="#029" d="M252 427l3-3 6 0-3 9zM258 433l3-9 6 4z"/><path color="#056" d="M258 433l9-5-6-19z"/><path color="#193" d="M261 409l6 19 5-23z"/><path color="#1a3" d="M261 409l11-4-2 30z"/><path style="fill:url(#gi5);stroke:url(#gi5)" d="M270 435l2-30 8 19z"/><path style="fill:url(#gi6);stroke:url(#gi6)" d="M270 435l10-11-2 24z"/><path style="fill:url(#gi7);stroke:url(#gi7)" d="M278 448l2-24 9 28z"/><path style="fill:url(#gi8);stroke:url(#gi8)" d="M278 448l11 4-4 3z"/><path color="#009" d="M285 455l4-3 8 11-4 7z"/><path color="#015" d="M293 470l4-7 7-20-4 8z"/><path color="#038" d="M300 451l4-8 9 37z"/><path color="#026" d="M300 451l13 29-5-28z"/><path color="#015" d="M308 452l5 28 9 5z"/><path color="#017" d="M308 452l14 33-4 5z"/><path color="#006" d="M318 490l4-5 10 4z"/><path color="#005" d="M318 490l14-1-5-5zM327 484l5 5 10 5-5-5z"/><path style="fill:url(#gi9);stroke:url(#gi9)" d="M337 489l5 5 10-3z"/><path style="fill:url(#gia);stroke:url(#gia)" d="M337 489l15 2-5 36z"/><path style="fill:url(#gib);stroke:url(#gib)" d="M347 527l5-36 11 20z"/><path style="fill:url(#gic);stroke:url(#gic)" d="M347 527l16-16-4 10z"/><path color="#006" d="M238 430l5 7 4-7z"/><path color="#008" d="M238 430l9 0-2 16z"/><path color="#007" d="M245 446l2-16 5-3z"/><path color="#045" d="M245 446l7-19-7-23z"/><path style="fill:url(#gid);stroke:url(#gid)" d="M245 404l7 23 6 6z"/><path style="fill:url(#gie);stroke:url(#gie)" d="M245 404l13 29-8-33z"/><path color="#183" d="M250 400l8 33 3-24z"/><path color="#2f1" d="M250 400l11 9-4 3z"/><path color="#1a4" d="M257 412l4-3 9 26z"/><path color="#073" d="M257 412l13 23-6-18z"/><path color="#035" d="M264 417l6 18 8 13z"/><path color="#046" d="M264 417l14 31-5-3z"/><path color="#007" d="M273 445l5 3 7 7-3 10z"/><path color="#008" d="M282 465l3-10 8 15z"/><path color="#005" d="M282 465l11 5-5-7z"/><path color="#017" d="M288 463l5 7 7-19z"/><path color="#018" d="M288 463l12-12-3 21z"/><path color="#028" d="M297 472l3-21 8 1-4 12z"/><path style="fill:url(#gif);stroke:url(#gif)" d="M304 464l4-12 10 38z"/><path style="fill:url(#gig);stroke:url(#gig)" d="M304 464l14 26-4 1z"/><path color="#004" d="M314 491l4-1 9-6z"/><path color="#007" d="M314 491l13-7-4 12zM323 496l4-12 10 5-4 15z"/><path color="#006" d="M333 504l4-15 10 38z"/><path color="#003" d="M333 504l14 23-4-13zM343 514l4 13 12-6z"/><path color="#005" d="M343 514l16 7-5 6z"/><path color="#006" d="M237 449l1-19 7 16z"/><path color="#004" d="M237 449l8-3-4 1z"/><path color="#034" d="M241 447l4-1 0-42-2 19z"/><path style="fill:url(#gih);stroke:url(#gih)" d="M243 423l2-19 5-4z"/><path style="fill:url(#gii);stroke:url(#gii)" d="M243 423l7-23 1 42z"/><path style="fill:url(#gij);stroke:url(#gij)" d="M251 442l-1-42 7 12z"/><path style="fill:url(#gik);stroke:url(#gik)" d="M251 442l6-30-1 25z"/><path style="fill:url(#gil);stroke:url(#gil)" d="M256 437l1-25 7 5z"/><path style="fill:url(#gim);stroke:url(#gim)" d="M256 437l8-20-2 21z"/><path color="#048" d="M262 438l2-21 9 28-4-2z"/><path color="#018" d="M269 443l4 2 9 20z"/><path color="#026" d="M269 443l13 22-7-24z"/><path color="#016" d="M275 441l7 24 6-2z"/><path color="#017" d="M275 441l13 22-4-5z"/><path color="#006" d="M284 458l4 5 9 9z"/><path color="#007" d="M284 458l13 14-5-2z"/><path color="#006" d="M292 470l5 2 7-8z"/><path color="#009" d="M292 470l12-6-4 9z"/><path style="fill:url(#gin);stroke:url(#gin)" d="M300 473l4-9 10 27z"/><path style="fill:url(#gio);stroke:url(#gio)" d="M300 473l14 18-4 3z"/><path color="#006" d="M310 494l4-3 9 5-4 3z"/><path color="#007" d="M319 499l4-3 10 8z"/><path color="#005" d="M319 499l14 5-5-6z"/><path color="#004" d="M328 498l5 6 10 10-4-6z"/><path style="fill:url(#gip);stroke:url(#gip)" d="M339 508l4 6 11 13z"/><path style="fill:url(#giq);stroke:url(#giq)" d="M339 508l15 19-3-31z"/><path color="#004" d="M234 453l3-4 4-2z"/><path color="#003" d="M234 453l7-6-4-1z"/><path color="#015" d="M237 446l4 1 2-24z"/><path color="#016" d="M237 446l6-23 0 31z"/><path color="#017" d="M243 454l0-31 8 19z"/><path color="#007" d="M243 454l8-12-6-8z"/><path color="#017" d="M245 434l6 8 5-5z"/><path color="#019" d="M245 434l11 3-3 13z"/><path color="#018" d="M253 450l3-13 6 1-4 6z"/><path color="#02a" d="M258 444l4-6 7 5z"/><path color="#037" d="M258 444l11-1-6-12z"/><path color="#046" d="M263 431l6 12 6-2z"/><path color="#048" d="M263 431l12 10-3 12z"/><path color="#02a" d="M272 453l3-12 9 17z"/><path color="#017" d="M272 453l12 5-6-8z"/><path color="#016" d="M278 450l6 8 8 12zM278 450l14 20-5-7z"/><path color="#006" d="M287 463l5 7 8 3z"/><path color="#00a" d="M287 463l13 10-4 6z"/><path color="#008" d="M296 479l4-6 10 21z"/><path color="#006" d="M296 479l14 15-6-14z"/><path color="#005" d="M304 480l6 14 9 5z"/><path color="#007" d="M304 480l15 19-5 8z"/><path color="#005" d="M314 507l5-8 9-1-4 17z"/><path color="#006" d="M324 515l4-17 11 10-5 8z"/><path color="#005" d="M334 516l5-8 12-12-6 25z"/><path color="#003" d="M230 458l4-5 3-7z"/><path color="#004" d="M230 458l7-12-3 9z"/><path color="#005" d="M234 455l3-9 6 8-3 5z"/><path color="#004" d="M240 459l3-5 2-20z"/><path color="#006" d="M240 459l5-25 0 26z"/><path color="#007" d="M245 460l0-26 8 16-3 11zM250 461l3-11 5-6-2 18z"/><path color="#026" d="M256 462l2-18 5-13-3 19z"/><path style="fill:url(#gir);stroke:url(#gir)" d="M260 450l3-19 9 22z"/><path style="fill:url(#gis);stroke:url(#gis)" d="M260 450l12 3-4 13z"/><path color="#018" d="M268 466l4-13 6-3-3 17z"/><path color="#019" d="M275 467l3-17 9 13z"/><path color="#017" d="M275 467l12-4-6-12z"/><path color="#015" d="M281 451l6 12 9 16z"/><path color="#016" d="M281 451l15 28-5-8z"/><path color="#006" d="M291 471l5 8 8 1z"/><path color="#009" d="M291 471l13 9-4 16z"/><path color="#007" d="M300 496l4-16 10 27z"/><path color="#006" d="M300 496l14 11-5-21z"/><path color="#005" d="M309 486l5 21 10 8-5-18zM319 497l5 18 10 1z"/><path color="#007" d="M319 497l15 19-4 10z"/><path color="#005" d="M330 526l4-10 11 5z"/><path color="#004" d="M330 526l15-5-4-1z"/><path color="#003" d="M227 462l3-4 4-3-3 5z"/><path color="#004" d="M231 460l3-5 6 4-4 4zM236 463l4-4 5 1-4 7z"/><path color="#005" d="M241 467l4-7 5 1-3 9zM247 470l3-9 6 1-4 3zM252 465l4-3 4-12z"/><path color="#007" d="M252 465l8-15-1 25zM259 475l1-25 8 16-3 9zM265 475l3-9 7 1-4 5z"/><path color="#016" d="M271 472l4-5 6-16z"/><path color="#017" d="M271 472l10-21-2 35z"/><path style="fill:url(#git);stroke:url(#git)" d="M279 486l2-35 10 20z"/><path style="fill:url(#giu);stroke:url(#giu)" d="M279 486l12-15-4 19z"/><path color="#008" d="M287 490l4-19 9 25z"/><path color="#005" d="M287 490l13 6-5-10z"/><path color="#006" d="M295 486l5 10 9-10z"/><path color="#008" d="M295 486l14 0-4 22z"/><path style="fill:url(#giv);stroke:url(#giv)" d="M305 508l4-22 10 11z"/><path style="fill:url(#giw);stroke:url(#giw)" d="M305 508l14-11-4 25z"/><path style="fill:url(#gix);stroke:url(#gix)" d="M315 522l4-25 11 29z"/><path style="fill:url(#giy);stroke:url(#giy)" d="M315 522l15 4-5 10z"/><path color="#004" d="M325 536l5-10 11-6-5 13z"/><path color="#002" d="M223 465l4-3 4-2-3 8z"/><path color="#003" d="M228 468l3-8 5 3-3 6zM233 469l3-6 5 4-3 4z"/><path color="#004" d="M238 471l3-4 6 3-4 2zM243 472l4-2 5-5z"/><path color="#005" d="M243 472l9-7-3 11zM249 476l3-11 7 10-5 4zM254 479l5-4 6 0-5 2zM260 477l5-2 6-3-3 14z"/><path color="#006" d="M268 486l3-14 8 14-4 5zM275 491l4-5 8 4-4 4z"/><path style="fill:url(#giz);stroke:url(#giz)" d="M283 494l4-4 8-4z"/><path style="fill:url(#gj0);stroke:url(#gj0)" d="M283 494l12-8-3 27z"/><path style="fill:url(#gj1);stroke:url(#gj1)" d="M292 513l3-27 10 22z"/><path style="fill:url(#gj2);stroke:url(#gj2)" d="M292 513l13-5-5 3z"/><path color="#005" d="M300 511l5-3 10 14-5 7z"/><path color="#004" d="M310 529l5-7 10 14z"/><path color="#003" d="M310 529l15 7-5-11z"/><path color="#004" d="M320 525l5 11 11-3z"/><path color="#006" d="M320 525l16 8-5 3z"/><path color="#001" d="M220 468l3-3 5 3-4 4z"/><path color="#002" d="M224 472l4-4 5 1-4 5zM229 474l4-5 5 2-4 7z"/><path color="#003" d="M234 478l4-7 5 1z"/><path color="#002" d="M234 478l9-6-4 3z"/><path color="#004" d="M239 475l4-3 6 4-5 3zM244 479l5-3 5 3-3 8zM251 487l3-8 6-2-3 16z"/><path color="#005" d="M257 493l3-16 8 9-5 5zM263 491l5-5 7 5-4 8zM271 499l4-8 8 3z"/><path color="#004" d="M271 499l12-5-5-2z"/><path color="#005" d="M278 492l5 2 9 19-5-4z"/><path color="#003" d="M287 509l5 4 8-2z"/><path color="#005" d="M287 509l13 2-4 8zM296 519l4-8 10 18z"/><path color="#003" d="M296 519l14 10-5-7zM305 522l5 7 10-4z"/><path color="#005" d="M305 522l15 3-5 12z"/><path color="#004" d="M315 537l5-12 11 11-5 13z"/><path color="#000" d="M216 472l4-4 4 4-3 4z"/><path color="#001" d="M221 476l3-4 5 2-4 4zM225 478l4-4 5 4-4 5zM230 483l4-5 5-3-3 12z"/><path color="#002" d="M236 487l3-12 5 4-3 12zM241 491l3-12 7 8-4 6z"/><path color="#003" d="M247 493l4-6 6 6-3 7zM254 500l3-7 6-2-3 11z"/><path color="#004" d="M260 502l3-11 8 8-4 9z"/><path color="#003" d="M267 508l4-9 7-7-3 28z"/><path style="fill:url(#gj3);stroke:url(#gj3)" d="M275 520l3-28 9 17z"/><path style="fill:url(#gj4);stroke:url(#gj4)" d="M275 520l12-11-4 11z"/><path color="#003" d="M283 520l4-11 9 10-4 14zM292 533l4-14 9 3-4 17zM301 539l4-17 10 15-4 11zM311 548l4-11 11 12-5 13z"/><path color="#000" d="M212 473l4-1 5 4-4 1zM217 477l4-1 4 2-4 4zM221 482l4-4 5 5-3 3zM227 486l3-3 6 4-4 4z"/><path color="#001" d="M232 491l4-4 5 4-4 5zM237 496l4-5 6 2-4 7zM243 500l4-7 7 7-4 6z"/><path color="#002" d="M250 506l4-6 6 2-4 6zM256 508l4-6 7 6-4 8zM263 516l4-8 8 12-4 3z"/><path color="#001" d="M271 523l4-3 8 0-4 10z"/><path color="#002" d="M279 530l4-10 9 13-5 6z"/><path color="#001" d="M287 539l5-6 9 6-5 8z"/><path color="#002" d="M296 547l5-8 10 9-5 9z"/><path color="#001" d="M306 557l5-9 10 14-5 3z"/><path color="#000" d="M208 474l4-1 5 4-5 2zM212 479l5-2 4 5-4 1zM217 483l4-1 6 4-5 2zM222 488l5-2 5 5-4 2zM228 493l4-2 5 5-4 2zM233 498l4-2 6 4-4 4zM239 504l4-4 7 6-5 4z"/><path color="#001" d="M245 510l5-4 6 2-4 8zM252 516l4-8 7 8-4 7zM259 523l4-7 8 7-5 7zM266 530l5-7 8 7-5 7zM274 537l5-7 8 9-4 6z"/><path color="#000" d="M283 545l4-6 9 8-5 6zM291 553l5-6 10 10-5 5zM301 562l5-5 10 8-5 7z"/></g></g>
<g><path d="M208.7 780L178.4 628.1M208.7 780L387.8 720.1M387.8 720.1L396.3 616.2M387.8 720.1L501.8 757.9M257.2 763.8L240.8 624.7M203.6 754.6L389.3 701.6M406.1 726.1L418 617.3M389.3 701.6L507.9 734.9M297.8 750.2L291 622M198.1 727L390.9 682M426.4 732.9L442.4 618.6M390.9 682L514.4 710.2M332.3 738.6L332.3 619.7M192.1 697L392.6 661.3M448.8 740.3L469.9 620M392.6 661.3L521.4 683.5M362 728.7L366.9 617.8M185.6 664.1L394.4 639.5M473.8 748.6L501.3 621.6M394.4 639.5L529 654.7M387.8 720.1L396.3 616.2M178.4 628.1L396.3 616.2M501.8 757.9L537.3 623.5M396.3 616.2L537.3 623.5M208.7 780L311.7 878.2M311.7 878.2L501.8 757.9" class="gr"/>
<path fill="#00002e" d="M209 780l179-60 114 38-190 120z"/>
<g class="s"><defs><linearGradient id="gj5" x1=".64" y1=".13" x2=".48" y2=".9"><stop stop-color="#003"/><stop offset="1" stop-color="#000"/></linearGradient><linearGradient id="gj6" x1=".79" y1=".02" x2=".64" y2=".95"><stop stop-color="#003"/><stop offset="1" stop-color="#000"/></linearGradient><linearGradient id="gj7" x1=".68" y1=".12" x2=".54" y2=".92"><stop stop-color="#003"/><stop offset="1" stop-color="#000"/></linearGradient><linearGradient id="gj8" x1=".83" y1=".04" x2=".7" y2=".96"><stop stop-color="#004"/><stop offset="1" stop-color="#000"/></linearGradient><linearGradient id="gj9" x1=".71" y1=".11" x2=".58" y2=".94"><stop stop-color="#004"/><stop offset="1" stop-color="#000"/></linearGradient><linearGradient id="gja" x1=".84" y1=".08" x2=".72" y2=".97"><stop stop-color="#004"/><stop offset="1" stop-color="#000"/></linearGradient><linearGradient id="gjb" x1=".73" y1=".1" x2=".61" y2=".94"><stop stop-color="#004"/><stop offset="1" stop-color="#000"/></linearGradient><linearGradient id="gjc" x1=".88" y1=".13" x2=".75" y2=".96"><stop stop-color="#004"/><stop offset="1" stop-color="#000"/></linearGradient><linearGradient id="gjd" x1=".68" y1=".11" x2=".55" y2=".92"><stop stop-color="#004"/><stop offset="1" stop-color="#000"/></linearGradient><linearGradient id="gje" x1=".81" y1=".05" x2=".68" y2=".96"><stop stop-color="#004"/><stop offset="1" stop-color="#000"/></linearGradient><linearGradient id="gjf" x1=".73" y1=".1" x2=".6" y2=".94"><stop stop-color="#004"/><stop offset="1" stop-color="#000"/></linearGradient><linearGradient id="gjg" x1=".8" y1=".08" x2=".68" y2=".97"><stop stop-color="#004"/><stop offset="1" stop-color="#000"/></linearGradient><linearGradient id="gjh" x1=".75" y1=".1" x2=".62" y2=".94"><stop stop-color="#004"/><stop offset="1" stop-color="#000"/></linearGradient><linearGradient id="gji" x1=".86" y1=".14" x2=".73" y2=".97"><stop stop-color="#004"/><stop offset="1" stop-color="#000"/></linearGradient><linearGradient id="gjj" x1=".68" y1=".1" x2=".54" y2=".92"><stop stop-color="#003"/><stop offset="1" stop-color="#000"/></linearGradient><linearGradient id="gjk" x1=".81" y1=".15" x2=".67" y2=".95"><stop stop-color="#003"/><stop offset="1" stop-color="#000"/></linearGradient><linearGradient id="gjl" x1=".63" y1=".11" x2=".48" y2=".89"><stop stop-color="#003"/><stop offset="1" stop-color="#000"/></linearGradient><linearGradient id="gjm" x1=".83" y1=".18" x2=".66" y2=".93"><stop stop-color="#003"/><stop offset="1" stop-color="#000"/></linearGradient><linearGradient id="gjn" x1=".56" y1=".13" x2=".39" y2=".85"><stop stop-color="#003"/><stop offset="1" stop-color="#000"/></linearGradient><linearGradient id="gjo" x1=".74" y1=".09" x2=".56" y2=".93"><stop stop-color="#003"/><stop offset="1" stop-color="#000"/></linearGradient><linearGradient id="gjp" x1=".6" y1=".12" x2=".43" y2=".87"><stop stop-color="#003"/><stop offset="1" stop-color="#000"/></linearGradient><linearGradient id="gjq" x1=".78" y1=".19" x2=".6" y2=".93"><stop stop-color="#003"/><stop offset="1" stop-color="#000"/></linearGradient><linearGradient id="gjr" x1=".56" y1=".12" x2=".37" y2=".84"><stop stop-color="#002"/><stop offset="1" stop-color="#000"/></linearGradient><linearGradient id="gjs" x1=".77" y1=".22" x2=".57" y2=".9"><stop stop-color="#002"/><stop offset="1" stop-color="#000"/></linearGradient><linearGradient id="gjt" x1=".46" y1=".25" x2=".1" y2=".94"><stop stop-color="#005"/><stop offset="1" stop-color="#003"/></linearGradient><linearGradient id="gju" x1=".7" y1="-.05" x2=".39" y2=".77"><stop stop-color="#006"/><stop offset="1" stop-color="#004"/></linearGradient><linearGradient id="gjv" x1=".45" y1=".22" x2=".1" y2=".96"><stop stop-color="#005"/><stop offset="1" stop-color="#004"/></linearGradient><linearGradient id="gjw" x1=".72" y1="-.05" x2=".44" y2=".81"><stop stop-color="#007"/><stop offset="1" stop-color="#005"/></linearGradient><linearGradient id="gjx" x1=".58" y1=".2" x2=".38" y2=".78"><stop stop-color="#006"/><stop offset="1" stop-color="#004"/></linearGradient><linearGradient id="gjy" x1=".74" y1=".25" x2=".54" y2=".84"><stop stop-color="#006"/><stop offset="1" stop-color="#004"/></linearGradient><linearGradient id="gjz" x1=".46" y1=".2" x2=".13" y2=".95"><stop stop-color="#005"/><stop offset="1" stop-color="#003"/></linearGradient><linearGradient id="gk0" x1=".68" y1="-.02" x2=".43" y2=".84"><stop stop-color="#007"/><stop offset="1" stop-color="#005"/></linearGradient><linearGradient id="gk1" x1=".5" y1=".19" x2=".2" y2=".99"><stop stop-color="#006"/><stop offset="1" stop-color="#005"/></linearGradient><linearGradient id="gk2" x1=".51" y1=".91" x2=".68" y2="-.02"><stop stop-color="#006"/><stop offset="1" stop-color="#008"/></linearGradient><linearGradient id="gk3" x1=".67" y1=".17" x2=".49" y2=".87"><stop stop-color="#007"/><stop offset="1" stop-color="#005"/></linearGradient><linearGradient id="gk4" x1=".74" y1=".4" x2=".54" y2=".75"><stop stop-color="#006"/><stop offset="1" stop-color="#004"/></linearGradient><linearGradient id="gk5" x1=".48" y1=".17" x2=".19" y2="1"><stop stop-color="#007"/><stop offset="1" stop-color="#005"/></linearGradient><linearGradient id="gk6" x1=".87" y1=".02" x2=".51" y2=".75"><stop stop-color="#027"/><stop offset="1" stop-color="#007"/></linearGradient><linearGradient id="gk7" x1=".5" y1=".21" x2=".16" y2="1.01"><stop stop-color="#008"/><stop offset="1" stop-color="#006"/></linearGradient><linearGradient id="gk8" x1=".94" y1=".02" x2=".58" y2=".81"><stop stop-color="#046"/><stop offset="1" stop-color="#008"/></linearGradient><linearGradient id="gk9" x1=".73" y1=".25" x2=".53" y2=".86"><stop stop-color="#036"/><stop offset="1" stop-color="#007"/></linearGradient><linearGradient id="gka" x1=".76" y1=".08" x2=".67" y2=".97"><stop stop-color="#036"/><stop offset="1" stop-color="#006"/></linearGradient><linearGradient id="gkb" x1=".47" y1=".13" x2=".23" y2=".99"><stop stop-color="#007"/><stop offset="1" stop-color="#005"/></linearGradient><linearGradient id="gkc" x1=".78" y1=".01" x2=".55" y2=".89"><stop stop-color="#027"/><stop offset="1" stop-color="#007"/></linearGradient><linearGradient id="gkd" x1=".32" y1="-.03" x2=".44" y2=".98"><stop stop-color="#027"/><stop offset=".75" stop-color="#018"/><stop offset="1" stop-color="#007"/></linearGradient><linearGradient id="gke" x1=".87" y1=".02" x2=".64" y2=".9"><stop stop-color="#074"/><stop offset="1" stop-color="#018"/></linearGradient><linearGradient id="gkf" x1=".85" y1=".36" x2=".64" y2=".85"><stop stop-color="#063"/><stop offset="1" stop-color="#007"/></linearGradient><linearGradient id="gkg" x1="1.44" y1=".74" x2=".74" y2="-.44"><stop stop-color="#006"/><stop offset="1" stop-color="#063"/></linearGradient><linearGradient id="gkh" x1=".43" y1=".02" x2=".38" y2="1.01"><stop stop-color="#046"/><stop offset="1" stop-color="#007"/></linearGradient><linearGradient id="gki" x1=".91" y1=".01" x2=".7" y2=".93"><stop stop-color="#1a2"/><stop offset="1" stop-color="#027"/></linearGradient><linearGradient id="gkj" x1=".93" y1=".23" x2=".76" y2=".94"><stop stop-color="#192"/><stop offset="1" stop-color="#007"/></linearGradient><linearGradient id="gkk" x1=".94" y1=".14" x2=".82" y2=".97"><stop stop-color="#182"/><stop offset="1" stop-color="#007"/></linearGradient><linearGradient id="gkl" x1=".42" y1=".02" x2=".37" y2="1.01"><stop stop-color="#074"/><stop offset="1" stop-color="#008"/></linearGradient><linearGradient id="gkm" x1=".74" y1="-.01" x2=".69" y2=".98"><stop stop-color="#2c0"/><stop offset=".66" stop-color="#074"/><stop offset="1" stop-color="#046"/></linearGradient><linearGradient id="gkn" x1=".85" y1=".42" x2=".09" y2=".61"><stop stop-color="#003"/><stop offset=".35" stop-color="#049"/><stop offset="1" stop-color="#00a"/></linearGradient><linearGradient id="gko" x1="1.13" y1=".94" x2=".99" y2="-.13"><stop stop-color="#003"/><stop offset="1" stop-color="#00a"/></linearGradient><linearGradient id="gkp" x1=".53" y1=".86" x2=".35" y2=".18"><stop stop-color="#002"/><stop offset="1" stop-color="#004"/></linearGradient><linearGradient id="gkq" x1=".58" y1="0" x2=".57" y2="1.01"><stop stop-color="#007"/><stop offset="1" stop-color="#002"/></linearGradient><linearGradient id="gkr" x1=".48" y1=".07" x2=".2" y2=".96"><stop stop-color="#005"/><stop offset="1" stop-color="#004"/></linearGradient><linearGradient id="gks" x1=".69" y1="0" x2=".49" y2=".96"><stop stop-color="#008"/><stop offset="1" stop-color="#006"/></linearGradient><linearGradient id="gkt" x1=".54" y1=".17" x2=".27" y2="1"><stop stop-color="#008"/><stop offset="1" stop-color="#006"/></linearGradient><linearGradient id="gku" x1=".92" y1=".12" x2=".5" y2=".77"><stop stop-color="#037"/><stop offset="1" stop-color="#008"/></linearGradient><linearGradient id="gkv" x1=".48" y1=".05" x2=".37" y2="1.01"><stop stop-color="#037"/><stop offset="1" stop-color="#007"/></linearGradient><linearGradient id="gkw" x1=".83" y1=".01" x2=".7" y2=".96"><stop stop-color="#1b1"/><stop offset="1" stop-color="#027"/></linearGradient><linearGradient id="gkx" x1=".61" y1=".11" x2=".45" y2="1.04"><stop stop-color="#1a1"/><stop offset="1" stop-color="#027"/></linearGradient><linearGradient id="gky" x1=".63" y1="0" x2=".62" y2="1"><stop stop-color="#6c0"/><stop offset=".58" stop-color="#1b1"/><stop offset="1" stop-color="#074"/></linearGradient><linearGradient id="gkz" x1=".82" y1=".51" x2=".56" y2=".92"><stop stop-color="#5b0"/><stop offset=".67" stop-color="#036"/><stop offset="1" stop-color="#073"/></linearGradient><linearGradient id="gl0" x1=".14" y1=".54" x2=".35" y2=".14"><stop stop-color="#036"/><stop offset=".92" stop-color="#5b0"/><stop offset="1" stop-color="#2b0"/></linearGradient><linearGradient id="gl1" x1=".07" y1=".98" x2=".27" y2=".05"><stop stop-color="#046"/><stop offset=".7" stop-color="#1a2"/><stop offset="1" stop-color="#2c0"/></linearGradient><linearGradient id="gl2" x1="1.11" y1=".03" x2=".96" y2=".99"><stop stop-color="#9c0"/><stop offset=".79" stop-color="#2c0"/><stop offset="1" stop-color="#1a2"/></linearGradient><linearGradient id="gl3" x1="1.04" y1=".48" x2=".78" y2="1.03"><stop stop-color="#8b0"/><stop offset=".8" stop-color="#064"/><stop offset="1" stop-color="#192"/></linearGradient><linearGradient id="gl4" x1="-.12" y1=".59" x2=".08" y2=".03"><stop stop-color="#064"/><stop offset=".96" stop-color="#5b0"/><stop offset="1" stop-color="#8b0"/></linearGradient><linearGradient id="gl5" x1=".92" y1=".04" x2=".84" y2=".99"><stop stop-color="#3f0"/><stop offset=".53" stop-color="#085"/><stop offset="1" stop-color="#00a"/></linearGradient><linearGradient id="gl6" x1="1.01" y1=".46" x2=".09" y2=".59"><stop stop-color="#00a"/><stop offset=".7" stop-color="#003"/><stop offset="1" stop-color="#075"/></linearGradient><linearGradient id="gl7" x1=".93" y1=".04" x2=".84" y2="1"><stop stop-color="#00a"/><stop offset="1" stop-color="#003"/></linearGradient><linearGradient id="gl8" x1=".61" y1=".25" x2=".37" y2=".84"><stop stop-color="#003"/><stop offset="1" stop-color="#003"/></linearGradient><linearGradient id="gl9" x1=".68" y1=".89" x2=".54" y2=".08"><stop stop-color="#002"/><stop offset="1" stop-color="#006"/></linearGradient><linearGradient id="gla" x1="1" y1=".46" x2=".06" y2=".38"><stop stop-color="#008"/><stop offset=".43" stop-color="#038"/><stop offset="1" stop-color="#002"/></linearGradient><linearGradient id="glb" x1=".35" y1="1.01" x2=".51" y2=".03"><stop stop-color="#006"/><stop offset="1" stop-color="#008"/></linearGradient><linearGradient id="glc" x1=".51" y1=".97" x2=".58" y2="-.01"><stop stop-color="#008"/><stop offset="1" stop-color="#065"/></linearGradient><linearGradient id="gld" x1=".48" y1=".02" x2=".43" y2="1.01"><stop stop-color="#064"/><stop offset="1" stop-color="#008"/></linearGradient><linearGradient id="gle" x1=".74" y1="0" x2=".65" y2=".96"><stop stop-color="#2b1"/><stop offset="1" stop-color="#037"/></linearGradient><linearGradient id="glf" x1=".22" y1=".99" x2=".33" y2=".04"><stop stop-color="#037"/><stop offset="1" stop-color="#2c1"/></linearGradient><linearGradient id="glg" x1=".94" y1=".01" x2=".85" y2=".99"><stop stop-color="#ac0"/><stop offset="1" stop-color="#1b1"/></linearGradient><linearGradient id="glh" x1=".07" y1=".98" x2=".18" y2=".02"><stop stop-color="#1b1"/><stop offset=".59" stop-color="#6c0"/><stop offset="1" stop-color="#ac0"/></linearGradient><linearGradient id="gli" x1=".05" y1=".09" x2=".16" y2="1.09"><stop stop-color="#d70"/><stop offset=".51" stop-color="#ac0"/><stop offset="1" stop-color="#6d0"/></linearGradient><linearGradient id="glj" x1=".09" y1=".59" x2=".53" y2=".3"><stop stop-color="#6b0"/><stop offset=".49" stop-color="#b60"/><stop offset="1" stop-color="#2b0"/></linearGradient><linearGradient id="glk" x1=".96" y1=".43" x2=".72" y2=".85"><stop stop-color="#ba0"/><stop offset=".2" stop-color="#b60"/><stop offset="1" stop-color="#2b0"/></linearGradient><linearGradient id="gll" x1=".22" y1="1.03" x2=".34" y2="0"><stop stop-color="#1c1"/><stop offset=".58" stop-color="#6e0"/><stop offset="1" stop-color="#ae0"/></linearGradient><linearGradient id="glm" x1=".7" y1="-.03" x2=".58" y2=".99"><stop stop-color="#6e0"/><stop offset=".69" stop-color="#1c1"/><stop offset="1" stop-color="#0a3"/></linearGradient><linearGradient id="gln" x1=".41" y1="0" x2=".43" y2="1.01"><stop stop-color="#7f0"/><stop offset=".68" stop-color="#1b3"/><stop offset="1" stop-color="#075"/></linearGradient><linearGradient id="glo" x1="-.57" y1=".3" x2="-.09" y2="1.25"><stop stop-color="#0a3"/><stop offset=".56" stop-color="#075"/><stop offset="1" stop-color="#003"/></linearGradient><linearGradient id="glp" x1=".16" y1=".94" x2=".23" y2="-.03"><stop stop-color="#003"/><stop offset="1" stop-color="#075"/></linearGradient><linearGradient id="glq" x1=".68" y1="1.07" x2="-.14" y2=".12"><stop stop-color="#003"/><stop offset="1" stop-color="#003"/></linearGradient><linearGradient id="glr" x1="-.36" y1=".15" x2="-.26" y2="1.07"><stop stop-color="#027"/><stop offset="1" stop-color="#002"/></linearGradient><linearGradient id="gls" x1=".02" y1=".43" x2=".35" y2=".87"><stop stop-color="#1c1"/><stop offset=".8" stop-color="#003"/><stop offset="1" stop-color="#038"/></linearGradient><linearGradient id="glt" x1=".94" y1=".38" x2=".73" y2=".89"><stop stop-color="#191"/><stop offset="1" stop-color="#007"/></linearGradient><linearGradient id="glu" x1="1.02" y1=".22" x2=".86" y2=".97"><stop stop-color="#191"/><stop offset="1" stop-color="#007"/></linearGradient><linearGradient id="glv" x1=".56" y1="-.04" x2=".39" y2="1.01"><stop stop-color="#064"/><stop offset="1" stop-color="#008"/></linearGradient><linearGradient id="glw" x1=".39" y1="1.02" x2=".49" y2="-.02"><stop stop-color="#065"/><stop offset="1" stop-color="#5d0"/></linearGradient><linearGradient id="glx" x1="-.08" y1=".86" x2=".2" y2=".07"><stop stop-color="#064"/><stop offset=".79" stop-color="#2b1"/><stop offset="1" stop-color="#5c0"/></linearGradient><linearGradient id="gly" x1=".82" y1=".01" x2=".76" y2=".98"><stop stop-color="#bb0"/><stop offset=".64" stop-color="#5c0"/><stop offset="1" stop-color="#2c1"/></linearGradient><linearGradient id="glz" x1=".16" y1=".99" x2=".22" y2=".01"><stop stop-color="#2c1"/><stop offset="1" stop-color="#bc0"/></linearGradient><linearGradient id="gm0" x1="1.16" y1=".02" x2="1.1" y2="1.01"><stop stop-color="#d20"/><stop offset=".96" stop-color="#cc0"/><stop offset="1" stop-color="#bc0"/></linearGradient><linearGradient id="gm1" x1=".31" y1="0" x2=".33" y2="1"><stop stop-color="#d20"/><stop offset=".49" stop-color="#d70"/><stop offset="1" stop-color="#ac0"/></linearGradient><linearGradient id="gm2" x1="1.22" y1=".4" x2=".72" y2="1.12"><stop stop-color="#e80"/><stop offset=".42" stop-color="#e20"/><stop offset="1" stop-color="#075"/></linearGradient><linearGradient id="gm3" x1="1.11" y1=".4" x2=".17" y2="1.2"><stop stop-color="#dc0"/><stop offset=".23" stop-color="#d70"/><stop offset="1" stop-color="#075"/></linearGradient><linearGradient id="gm4" x1=".35" y1=".57" x2=".62" y2=".79"><stop stop-color="#074"/><stop offset=".4" stop-color="#cb0"/><stop offset="1" stop-color="#2c0"/></linearGradient><linearGradient id="gm5" x1="1.13" y1=".07" x2="1.03" y2="1"><stop stop-color="#ed0"/><stop offset=".97" stop-color="#2e0"/><stop offset="1" stop-color="#1d1"/></linearGradient><linearGradient id="gm6" x1=".2" y1="-.01" x2=".23" y2="1.01"><stop stop-color="#2e0"/><stop offset="1" stop-color="#003"/></linearGradient><linearGradient id="gm7" x1="-.02" y1=".04" x2=".08" y2=".99"><stop stop-color="#1b1"/><stop offset=".21" stop-color="#0a2"/><stop offset="1" stop-color="#003"/></linearGradient><linearGradient id="gm8" x1="1.68" y1=".12" x2="1.5" y2="1.17"><stop stop-color="#0a2"/><stop offset="1" stop-color="#003"/></linearGradient><linearGradient id="gm9" x1="1.21" y1=".03" x2="1.16" y2="1.01"><stop stop-color="#0a3"/><stop offset="1" stop-color="#003"/></linearGradient><linearGradient id="gma" x1=".66" y1=".13" x2=".29" y2=".41"><stop stop-color="#003"/><stop offset="1" stop-color="#003"/></linearGradient><linearGradient id="gmb" x1="-.43" y1=".05" x2="-.39" y2="1.01"><stop stop-color="#1b1"/><stop offset="1" stop-color="#002"/></linearGradient><linearGradient id="gmc" x1=".13" y1=".45" x2=".62" y2=".84"><stop stop-color="#cd0"/><stop offset=".38" stop-color="#003"/><stop offset="1" stop-color="#1c1"/></linearGradient><linearGradient id="gmd" x1=".57" y1=".54" x2=".41" y2=".69"><stop stop-color="#055"/><stop offset=".19" stop-color="#9a0"/><stop offset="1" stop-color="#1a1"/></linearGradient><linearGradient id="gme" x1=".4" y1=".51" x2=".52" y2=".37"><stop stop-color="#054"/><stop offset=".75" stop-color="#9a0"/><stop offset="1" stop-color="#4a0"/></linearGradient><linearGradient id="gmf" x1=".47" y1="0" x2=".46" y2="1"><stop stop-color="#5d0"/><stop offset="1" stop-color="#065"/></linearGradient><linearGradient id="gmg" x1=".98" y1=".02" x2=".91" y2="1.05"><stop stop-color="#d90"/><stop offset="1" stop-color="#4d0"/></linearGradient><linearGradient id="gmh" x1=".96" y1=".33" x2=".69" y2="1.13"><stop stop-color="#c80"/><stop offset=".18" stop-color="#bb0"/><stop offset="1" stop-color="#5c0"/></linearGradient><linearGradient id="gmi" x1="1.25" y1=".05" x2="1.17" y2="1.01"><stop stop-color="#d00"/><stop offset=".7" stop-color="#d80"/><stop offset="1" stop-color="#bc0"/></linearGradient><linearGradient id="gmj" x1=".48" y1=".01" x2=".47" y2="1"><stop stop-color="#d10"/><stop offset="1" stop-color="#bc0"/></linearGradient><linearGradient id="gmk" x1="2.06" y1=".16" x2="1.97" y2="1.13"><stop stop-color="#e20"/><stop offset=".05" stop-color="#e10"/><stop offset="1" stop-color="#009"/></linearGradient><linearGradient id="gml" x1=".1" y1=".61" x2="1" y2=".86"><stop stop-color="#009"/><stop offset=".17" stop-color="#e20"/><stop offset="1" stop-color="#075"/></linearGradient><linearGradient id="gmm" x1="1.02" y1=".45" x2="0" y2=".49"><stop stop-color="#075"/><stop offset=".42" stop-color="#003"/><stop offset="1" stop-color="#009"/></linearGradient><linearGradient id="gmn" x1=".97" y1=".4" x2=".07" y2=".32"><stop stop-color="#2c0"/><stop offset=".72" stop-color="#074"/><stop offset="1" stop-color="#002"/></linearGradient><linearGradient id="gmo" x1="1.78" y1=".08" x2="1.67" y2="1.11"><stop stop-color="#2d0"/><stop offset="1" stop-color="#003"/></linearGradient><linearGradient id="gmp" x1="1.36" y1=".04" x2="1.32" y2="1.01"><stop stop-color="#2e0"/><stop offset="1" stop-color="#003"/></linearGradient><linearGradient id="gmq" x1=".6" y1=".3" x2=".31" y2=".72"><stop stop-color="#003"/><stop offset="1" stop-color="#003"/></linearGradient><linearGradient id="gmr" x1="-1.92" y1=".09" x2="-1.89" y2="1.06"><stop stop-color="#ac0"/><stop offset="1" stop-color="#002"/></linearGradient><linearGradient id="gms" x1="1.01" y1=".45" x2="-.02" y2=".5"><stop stop-color="#cd0"/><stop offset=".7" stop-color="#e20"/><stop offset="1" stop-color="#003"/></linearGradient><linearGradient id="gmt" x1=".28" y1=".57" x2=".43" y2=".41"><stop stop-color="#9a0"/><stop offset=".82" stop-color="#4b0"/><stop offset="1" stop-color="#b10"/></linearGradient><linearGradient id="gmu" x1=".67" y1=".49" x2=".57" y2=".6"><stop stop-color="#b80"/><stop offset=".7" stop-color="#b10"/><stop offset="1" stop-color="#4b0"/></linearGradient><linearGradient id="gmv" x1=".37" y1=".02" x2=".39" y2="1"><stop stop-color="#d90"/><stop offset="1" stop-color="#4d0"/></linearGradient><linearGradient id="gmw" x1="2.32" y1=".92" x2="2.27" y2="-.1"><stop stop-color="#008"/><stop offset="1" stop-color="#ea0"/></linearGradient><linearGradient id="gmx" x1=".01" y1=".42" x2=".28" y2=".8"><stop stop-color="#c80"/><stop offset=".51" stop-color="#c00"/><stop offset="1" stop-color="#007"/></linearGradient><linearGradient id="gmy" x1="-1.75" y1=".56" x2="-1.57" y2="1.42"><stop stop-color="#d00"/><stop offset=".88" stop-color="#007"/><stop offset="1" stop-color="#009"/></linearGradient><linearGradient id="gmz" x1="2.83" y1=".1" x2="2.79" y2="1.08"><stop stop-color="#e10"/><stop offset="1" stop-color="#009"/></linearGradient><linearGradient id="gn0" x1=".75" y1=".05" x2=".68" y2="1"><stop stop-color="#00a"/><stop offset="1" stop-color="#003"/></linearGradient><linearGradient id="gn1" x1=".88" y1=".05" x2=".8" y2=".98"><stop stop-color="#009"/><stop offset="1" stop-color="#003"/></linearGradient><linearGradient id="gn2" x1=".59" y1=".34" x2=".33" y2=".77"><stop stop-color="#003"/><stop offset="1" stop-color="#003"/></linearGradient><linearGradient id="gn3" x1="-4.54" y1=".08" x2="-4.52" y2="1.06"><stop stop-color="#d10"/><stop offset="1" stop-color="#003"/></linearGradient><linearGradient id="gn4" x1="-.11" y1=".6" x2=".24" y2="1.24"><stop stop-color="#c10"/><stop offset=".55" stop-color="#002"/><stop offset="1" stop-color="#008"/></linearGradient><linearGradient id="gn5" x1="1.12" y1=".43" x2=".26" y2="1.25"><stop stop-color="#d90"/><stop offset=".43" stop-color="#d10"/><stop offset="1" stop-color="#009"/></linearGradient><linearGradient id="gn6" x1="3.16" y1=".51" x2="2.91" y2="1.57"><stop stop-color="#d90"/><stop offset=".93" stop-color="#007"/><stop offset="1" stop-color="#009"/></linearGradient><linearGradient id="gn7" x1=".93" y1=".01" x2=".92" y2="1"><stop stop-color="#ea0"/><stop offset="1" stop-color="#008"/></linearGradient><linearGradient id="gn8" x1=".74" y1=".04" x2=".65" y2=".99"><stop stop-color="#008"/><stop offset="1" stop-color="#003"/></linearGradient><linearGradient id="gn9" x1="1" y1="0" x2=".75" y2="1.16"><stop stop-color="#009"/><stop offset="1" stop-color="#002"/></linearGradient><linearGradient id="gna" x1="1.44" y1=".08" x2="1.26" y2="1.1"><stop stop-color="#009"/><stop offset="1" stop-color="#002"/></linearGradient><linearGradient id="gnb" x1=".9" y1=".05" x2=".82" y2="1"><stop stop-color="#00a"/><stop offset="1" stop-color="#003"/></linearGradient><linearGradient id="gnc" x1=".72" y1="1.18" x2="-.32" y2=".66"><stop stop-color="#003"/><stop offset="1" stop-color="#003"/></linearGradient><linearGradient id="gnd" x1=".87" y1=".07" x2=".74" y2="1.09"><stop stop-color="#009"/><stop offset="1" stop-color="#002"/></linearGradient><linearGradient id="gne" x1="1.31" y1=".07" x2="1.09" y2="1.08"><stop stop-color="#007"/><stop offset="1" stop-color="#002"/></linearGradient><linearGradient id="gnf" x1=".79" y1=".06" x2=".69" y2="1.02"><stop stop-color="#008"/><stop offset="1" stop-color="#002"/></linearGradient><linearGradient id="gng" x1=".6" y1="1.1" x2="-.3" y2=".38"><stop stop-color="#003"/><stop offset="1" stop-color="#002"/></linearGradient><linearGradient id="gnh" x1=".74" y1=".23" x2=".24" y2="1.14"><stop stop-color="#003"/><stop offset="1" stop-color="#000"/></linearGradient><linearGradient id="gni" x1="1.16" y1=".1" x2=".62" y2=".98"><stop stop-color="#003"/><stop offset="1" stop-color="#000"/></linearGradient><linearGradient id="gnj" x1=".74" y1=".24" x2=".22" y2="1.13"><stop stop-color="#003"/><stop offset="1" stop-color="#000"/></linearGradient><linearGradient id="gnk" x1="1.13" y1=".09" x2=".57" y2=".95"><stop stop-color="#003"/><stop offset="1" stop-color="#000"/></linearGradient><linearGradient id="gnl" x1=".75" y1=".22" x2=".18" y2="1.11"><stop stop-color="#003"/><stop offset="1" stop-color="#000"/></linearGradient><linearGradient id="gnm" x1="1.15" y1=".09" x2=".61" y2=".96"><stop stop-color="#003"/><stop offset="1" stop-color="#000"/></linearGradient><linearGradient id="gnn" x1=".74" y1=".23" x2=".25" y2="1.13"><stop stop-color="#003"/><stop offset="1" stop-color="#000"/></linearGradient><linearGradient id="gno" x1="1" y1="0" x2=".33" y2=".74"><stop stop-color="#002"/><stop offset="1" stop-color="#000"/></linearGradient><linearGradient id="gnp" x1=".88" y1=".07" x2="-.09" y2=".91"><stop stop-color="#003"/><stop offset="1" stop-color="#000"/></linearGradient><linearGradient id="gnq" x1="1.14" y1=".09" x2=".59" y2=".95"><stop stop-color="#003"/><stop offset="1" stop-color="#000"/></linearGradient><linearGradient id="gnr" x1=".72" y1=".25" x2=".2" y2="1.12"><stop stop-color="#003"/><stop offset="1" stop-color="#000"/></linearGradient><linearGradient id="gns" x1="1.05" y1=".04" x2=".43" y2=".82"><stop stop-color="#002"/><stop offset="1" stop-color="#000"/></linearGradient><linearGradient id="gnt" x1=".75" y1=".17" x2="0" y2="1"><stop stop-color="#003"/><stop offset="1" stop-color="#000"/></linearGradient><linearGradient id="gnu" x1="1.07" y1=".05" x2=".48" y2=".86"><stop stop-color="#003"/><stop offset="1" stop-color="#000"/></linearGradient><linearGradient id="gnv" x1=".7" y1=".24" x2=".09" y2="1.07"><stop stop-color="#003"/><stop offset="1" stop-color="#000"/></linearGradient><linearGradient id="gnw" x1="1.08" y1=".06" x2=".49" y2=".86"><stop stop-color="#003"/><stop offset="1" stop-color="#000"/></linearGradient><linearGradient id="gnx" x1=".68" y1=".27" x2=".11" y2="1.08"><stop stop-color="#003"/><stop offset="1" stop-color="#000"/></linearGradient><linearGradient id="gny" x1="1.02" y1=".02" x2=".4" y2=".77"><stop stop-color="#003"/><stop offset="1" stop-color="#000"/></linearGradient><linearGradient id="gnz" x1=".66" y1=".28" x2=".05" y2="1.04"><stop stop-color="#003"/><stop offset="1" stop-color="#000"/></linearGradient><linearGradient id="go0" x1="1" y1="0" x2=".35" y2=".71"><stop stop-color="#002"/><stop offset="1" stop-color="#000"/></linearGradient><linearGradient id="go1" x1=".68" y1=".23" x2="-.02" y2=".98"><stop stop-color="#003"/><stop offset="1" stop-color="#000"/></linearGradient><linearGradient id="go2" x1="1.02" y1=".01" x2=".39" y2=".75"><stop stop-color="#003"/><stop offset="1" stop-color="#000"/></linearGradient><linearGradient id="go3" x1=".65" y1=".29" x2=".03" y2="1.02"><stop stop-color="#003"/><stop offset="1" stop-color="#000"/></linearGradient><linearGradient id="go4" x1="1" y1="0" x2=".37" y2=".72"><stop stop-color="#003"/><stop offset="1" stop-color="#000"/></linearGradient><linearGradient id="go5" x1=".69" y1=".22" x2="-.01" y2=".98"><stop stop-color="#003"/><stop offset="1" stop-color="#000"/></linearGradient><linearGradient id="go6" x1="1.03" y1=".03" x2=".41" y2=".77"><stop stop-color="#003"/><stop offset="1" stop-color="#000"/></linearGradient><linearGradient id="go7" x1=".65" y1=".29" x2=".05" y2="1.04"><stop stop-color="#003"/><stop offset="1" stop-color="#000"/></linearGradient><linearGradient id="go8" x1="1" y1="0" x2=".36" y2=".71"><stop stop-color="#003"/><stop offset="1" stop-color="#000"/></linearGradient></defs><path color="#000" d="M385.9 720.7l1.9-.6 5.9 1.9-1.8 .7zM391.9 722.7l1.8-.7 6.1 2.1-1.8 .6zM398 724.7l1.8-.6 6.3 2-1.8 .7zM404.3 726.8l1.8-.7 6.6 2.2-1.9 .7zM410.8 729l1.9-.7 6.7 2.2-1.9 .8zM417.5 731.3l1.9-.8 7 2.4-1.9 .7zM424.5 733.6l1.9-.7 7.2 2.4-1.9 .8zM431.7 736.1l1.9-.8 7.4 2.4-1.8 .9zM439.2 738.6l1.8-.9 7.8 2.6-1.9 .9zM446.9 741.2l1.9-.9 8 2.7-1.8 .9zM455 743.9l1.8-.9 8.3 2.7-1.8 1zM463.3 746.7l1.8-1 8.7 2.9-1.8 1zM472 749.6l1.8-1 9 3-1.8 1zM481 752.6l1.8-1 9.3 3.1-1.7 1zM490.4 755.7l1.7-1 9.7 3.2-1.7 1.1z"/><path color="#001" d="M384.5 714.9l1.4 5.8 6 2z"/><path color="#002" d="M384.5 714.9l7.4 7.8-1.1-9.5z"/><path color="#001" d="M390.8 713.2l1.1 9.5 6.1 2-1.1-8.2zM396.9 716.5l1.1 8.2 6.3 2.1-.8-10.1z"/><path style="fill:url(#gj5);stroke:url(#gj5)" d="M403.5 716.7l.8 10.1 6.5 2.2z"/><path style="fill:url(#gj6);stroke:url(#gj6)" d="M403.5 716.7l7.3 12.3-.5-11.8z"/><path style="fill:url(#gj7);stroke:url(#gj7)" d="M410.3 717.2l.5 11.8 6.7 2.3z"/><path style="fill:url(#gj8);stroke:url(#gj8)" d="M410.3 717.2l7.2 14.1-.2-13.3z"/><path style="fill:url(#gj9);stroke:url(#gj9)" d="M417.3 718l.2 13.3 7 2.3z"/><path style="fill:url(#gja);stroke:url(#gja)" d="M417.3 718l7.2 15.6 .1-14z"/><path style="fill:url(#gjb);stroke:url(#gjb)" d="M424.6 719.6l-.1 14 7.2 2.5z"/><path style="fill:url(#gjc);stroke:url(#gjc)" d="M424.6 719.6l7.1 16.5 .1-12.9z"/><path style="fill:url(#gjd);stroke:url(#gjd)" d="M431.8 723.2l-.1 12.9 7.5 2.5z"/><path style="fill:url(#gje);stroke:url(#gje)" d="M431.8 723.2l7.4 15.4 .5-14.2z"/><path style="fill:url(#gjf);stroke:url(#gjf)" d="M439.7 724.4l-.5 14.2 7.7 2.6z"/><path style="fill:url(#gjg);stroke:url(#gjg)" d="M439.7 724.4l7.2 16.8 .9-15z"/><path style="fill:url(#gjh);stroke:url(#gjh)" d="M447.8 726.2l-.9 15 8.1 2.7z"/><path style="fill:url(#gji);stroke:url(#gji)" d="M447.8 726.2l7.2 17.7 .7-13z"/><path style="fill:url(#gjj);stroke:url(#gjj)" d="M455.7 730.9l-.7 13 8.3 2.8z"/><path style="fill:url(#gjk);stroke:url(#gjk)" d="M455.7 730.9l7.6 15.8 .7-11.7z"/><path style="fill:url(#gjl);stroke:url(#gjl)" d="M464 735l-.7 11.7 8.7 2.9z"/><path style="fill:url(#gjm);stroke:url(#gjm)" d="M464 735l8 14.6 .4-9.6z"/><path style="fill:url(#gjn);stroke:url(#gjn)" d="M472.4 740l-.4 9.6 9 3z"/><path style="fill:url(#gjo);stroke:url(#gjo)" d="M472.4 740l8.6 12.6 .9-10.8z"/><path style="fill:url(#gjp);stroke:url(#gjp)" d="M481.9 741.8l-.9 10.8 9.4 3.1z"/><path style="fill:url(#gjq);stroke:url(#gjq)" d="M481.9 741.8l8.5 13.9 .7-9.3z"/><path style="fill:url(#gjr);stroke:url(#gjr)" d="M491.1 746.4l-.7 9.3 9.7 3.3z"/><path style="fill:url(#gjs);stroke:url(#gjs)" d="M491.1 746.4l9 12.6 .6-7.7z"/><path color="#002" d="M382.7 714l1.8 .9 6.3-1.7z"/><path color="#004" d="M382.7 714l8.1-.8-2.1 2.4zM388.7 715.6l2.1-2.4 6.1 3.3-2 .7z"/><path color="#003" d="M394.9 717.2l2-.7 6.6 .2zM394.9 717.2l8.6-.5-1.9-.3z"/><path color="#004" d="M401.6 716.4l1.9 .3 6.8 .5z"/><path color="#005" d="M401.6 716.4l8.7 .8-2 1.3zM408.3 718.5l2-1.3 7 .8-2 1.6zM415.3 719.6l2-1.6 7.3 1.6-2 1.3zM422.6 720.9l2-1.3 7.2 3.6z"/><path color="#004" d="M422.6 720.9l9.2 2.3-1.6-1.5zM430.2 721.7l1.6 1.5 7.9 1.2-1.7-.6z"/><path color="#005" d="M438 723.8l1.7 .6 8.1 1.8z"/><path color="#006" d="M438 723.8l9.8 2.4-2 1.1z"/><path color="#005" d="M445.8 727.3l2-1.1 7.9 4.7-1.7-.4z"/><path color="#004" d="M454 730.5l1.7 .4 8.3 4.1-2 1.1zM462 736.1l2-1.1 8.4 5-1.6-.4z"/><path color="#003" d="M470.8 739.6l1.6 .4 9.5 1.8z"/><path color="#004" d="M470.8 739.6l11.1 2.2-2.1 2.1zM479.8 743.9l2.1-2.1 9.2 4.6-1.9 1.3z"/><path color="#003" d="M489.2 747.7l1.9-1.3 9.6 4.9-1.6 .1zM380.7 714.9l2-.9 6 1.6-2 1.1zM386.7 716.7l2-1.1 6.2 1.6zM386.7 716.7l8.2 .5-1.8-.6zM393.1 716.6l1.8 .6 6.7-.8z"/><path color="#004" d="M393.1 716.6l8.5-.2-2 .8zM399.6 717.2l2-.8 6.7 2.1-2 .7zM406.3 719.2l2-.7 7 1.1-1.9 0zM413.4 719.6l1.9 0 7.3 1.3-2 .7z"/><path color="#005" d="M420.6 721.6l2-.7 7.6 .8-1.9 0zM428.3 721.7l1.9 0 7.8 2.1-2 .8zM436 724.6l2-.8 7.8 3.5-2.1 1.5zM443.7 728.8l2.1-1.5 8.2 3.2-1.9 .6zM452.1 731.1l1.9-.6 8 5.6-1.6-.3z"/><path color="#004" d="M460.4 735.8l1.6 .3 8.8 3.5-1.8 .4zM469 740l1.8-.4 9 4.3-1.7 .4z"/><path color="#003" d="M478.1 744.3l1.7-.4 9.4 3.8-1.9 1.5zM487.3 749.2l1.9-1.5 9.9 3.7-1.9 1.8zM378.7 715.4l2-.5 6 1.8-2 .1zM384.7 716.8l2-.1 6.4-.1-2.1 1.3z"/><path color="#004" d="M391 717.9l2.1-1.3 6.5 .6-2 1.2zM397.6 718.4l2-1.2 6.7 2-2 .2zM404.3 719.4l2-.2 7.1 .4-2.1 1.7z"/><path color="#005" d="M411.3 721.3l2.1-1.7 7.2 2-1.9 .4zM418.7 722l1.9-.4 7.7 .1-2 1.5z"/><path color="#006" d="M426.3 723.2l2-1.5 7.7 2.9-2 1z"/><path color="#005" d="M434 725.6l2-1 7.7 4.2-1.9 .5zM441.8 729.3l1.9-.5 8.4 2.3-2.1 1.9zM450 733l2.1-1.9 8.3 4.7-2 1.2z"/><path color="#004" d="M458.4 737l2-1.2 8.6 4.2-2.1 2zM466.9 742l2.1-2 9.1 4.3-2.2 2.2zM475.9 746.5l2.2-2.2 9.2 4.9z"/><path color="#003" d="M475.9 746.5l11.4 2.7-1.5-.5zM485.8 748.7l1.5 .5 9.9 4-1.8 1zM376.6 716.8l2.1-1.4 6 1.4-2 1.4zM382.7 718.2l2-1.4 6.3 1.1-2 .5z"/><path color="#004" d="M389 718.4l2-.5 6.6 .5-2.1 1.7zM395.5 720.1l2.1-1.7 6.7 1-2.1 1.4z"/><path color="#005" d="M402.2 720.8l2.1-1.4 7 1.9-2 .2z"/><path color="#004" d="M409.3 721.5l2-.2 7.4 .7-2.1 .6z"/><path color="#005" d="M416.6 722.6l2.1-.6 7.6 1.2-2.1 1.1zM424.2 724.3l2.1-1.1 7.7 2.4-2.1 1.2z"/><path color="#006" d="M431.9 726.8l2.1-1.2 7.8 3.7-1.8-.2z"/><path color="#005" d="M440 729.1l1.8 .2 8.2 3.7-1.8-.4z"/><path color="#004" d="M448.2 732.6l1.8 .4 8.4 4z"/><path color="#005" d="M448.2 732.6l10.2 4.4-2.2 2z"/><path color="#004" d="M456.2 739l2.2-2 8.5 5z"/><path color="#003" d="M456.2 739l10.7 3-1.4-1.6zM465.5 740.4l1.4 1.6 9 4.5z"/><path color="#004" d="M465.5 740.4l10.4 6.1-1.7 0z"/><path color="#003" d="M474.2 746.5l1.7 0 9.9 2.2-1.9 1.3zM483.9 750l1.9-1.3 9.6 5.5-1.9 1.3zM374.6 717.5l2-.7 6.1 1.4-2-.1zM380.7 718.1l2 .1 6.3 .2zM380.7 718.1l8.3 .3-2 .5z"/><path color="#004" d="M387 718.9l2-.5 6.5 1.7-2.1 .7zM393.4 720.8l2.1-.7 6.7 .7-1.9 .1zM400.3 720.9l1.9-.1 7.1 .7zM400.3 720.9l9 .6-1.9-.6zM407.4 720.9l1.9 .6 7.3 1.1z"/><path color="#005" d="M407.4 720.9l9.2 1.7-1.9 .3zM414.7 722.9l1.9-.3 7.6 1.7-2.1 .9zM422.1 725.2l2.1-.9 7.7 2.5-2.1 1.2zM429.8 728l2.1-1.2 8.1 2.3-2.1 1.3zM437.9 730.4l2.1-1.3 8.2 3.5-2.3 3zM445.9 735.6l2.3-3 8 6.4-2.1 1.8z"/><path color="#004" d="M454.1 740.8l2.1-1.8 9.3 1.4-2.4 3.3zM463.1 743.7l2.4-3.3 8.7 6.1-2.1 1.9zM472.1 748.4l2.1-1.9 9.7 3.5-1.8 .7z"/><path color="#003" d="M482.1 750.7l1.8-.7 9.6 5.5-1.8 .6zM372.6 717.1l2 .4 6.1 .6zM372.6 717.1l8.1 1-2.1 .2zM378.6 718.3l2.1-.2 6.3 .8-2.1 1.2z"/><path color="#004" d="M384.9 720.1l2.1-1.2 6.4 1.9z"/><path color="#003" d="M384.9 720.1l8.5 .7-1.9-.7zM391.5 720.1l1.9 .7 6.9 .1z"/><path color="#004" d="M391.5 720.1l8.8 .8-2.1 .9zM398.2 721.8l2.1-.9 7.1 0-2.1 1.1z"/><path color="#005" d="M405.3 722l2.1-1.1 7.3 2-2.3 2zM412.4 724.9l2.3-2 7.4 2.3-1.9 .2zM420.2 725.4l1.9-.2 7.7 2.8-2.1 1.3zM427.7 729.3l2.1-1.3 8.1 2.4-2.2 2.3zM435.7 732.7l2.2-2.3 8 5.2z"/><path color="#004" d="M435.7 732.7l10.2 2.9-1.8-.4zM444.1 735.2l1.8 .4 8.2 5.2-1.7-.5z"/><path color="#003" d="M452.4 740.3l1.7 .5 9 2.9-1.8 .2z"/><path color="#004" d="M461.3 743.9l1.8-.2 9 4.7-1.9 1z"/><path color="#003" d="M470.2 749.4l1.9-1 10 2.3-2 1.2z"/><path color="#004" d="M480.1 751.9l2-1.2 9.6 5.4-1.9 1.2z"/><path color="#003" d="M370.5 717.7l2.1-.6 6 1.2-2.1 1.6z"/><path color="#004" d="M376.5 719.9l2.1-1.6 6.3 1.8-2.2 1zM382.7 721.1l2.2-1 6.6 0-2.2 2zM389.3 722.1l2.2-2 6.7 1.7-2.1 .1zM396.1 721.9l2.1-.1 7.1 .2-2.2 1.7z"/><path color="#005" d="M403.1 723.7l2.2-1.7 7.1 2.9-2 .6zM410.4 725.5l2-.6 7.8 .5-2.3 2.1z"/><path color="#006" d="M417.9 727.5l2.3-2.1 7.5 3.9-2 .7z"/><path color="#005" d="M425.7 730l2-.7 8 3.4z"/><path color="#004" d="M425.7 730l10 2.7-1.8-1.1zM433.9 731.6l1.8 1.1 8.4 2.5z"/><path color="#005" d="M433.9 731.6l10.2 3.6-2.3 2.5zM441.8 737.7l2.3-2.5 8.3 5.1-2.1 1z"/><path color="#004" d="M450.3 741.3l2.1-1 8.9 3.6-2 .9zM459.3 744.8l2-.9 8.9 5.5-1.7-.5z"/><path color="#003" d="M468.5 748.9l1.7 .5 9.9 2.5z"/><path color="#004" d="M468.5 748.9l11.6 3-2.2 2.4zM477.9 754.3l2.2-2.4 9.7 5.4-1.8 .6z"/><path color="#003" d="M368.4 718.1l2.1-.4 6 2.2-2.1 0zM374.4 719.9l2.1 0 6.2 1.2-2.1 1.2zM380.6 722.3l2.1-1.2 6.6 1-2.2 1.7z"/><path color="#004" d="M387.1 723.8l2.2-1.7 6.8-.2-2.1 1.5z"/><path color="#005" d="M394 723.4l2.1-1.5 7 1.8-2 0zM401.1 723.7l2 0 7.3 1.8-2.1 .2zM408.3 725.7l2.1-.2 7.5 2z"/><path color="#004" d="M408.3 725.7l9.6 1.8-2-.4z"/><path color="#005" d="M415.9 727.1l2 .4 7.8 2.5-2.1 .5zM423.6 730.5l2.1-.5 8.2 1.6z"/><path color="#006" d="M423.6 730.5l10.3 1.1-2.4 2.8z"/><path color="#005" d="M431.5 734.4l2.4-2.8 7.9 6.1z"/><path color="#004" d="M431.5 734.4l10.3 3.3-1.8-.9zM440 736.8l1.8 .9 8.5 3.6zM440 736.8l10.3 4.5-1.9 .3zM448.4 741.6l1.9-.3 9 3.5-2.1 1zM457.2 745.8l2.1-1 9.2 4.1-2.4 2.9zM466.1 751.8l2.4-2.9 9.4 5.4-2 .9z"/><path color="#003" d="M475.9 755.2l2-.9 10.1 3.6-2.2 2.2zM366.3 719l2.1-.9 6 1.8-2.1 1.5zM372.3 721.4l2.1-1.5 6.2 2.4zM372.3 721.4l8.3 .9-2.1-.4zM378.5 721.9l2.1 .4 6.5 1.5-2.1 0zM385 723.8l2.1 0 6.9-.4z"/><path color="#004" d="M385 723.8l9-.4-2.1 .3zM391.9 723.7l2.1-.3 7.1 .3-2.3 2.3z"/><path color="#005" d="M398.8 726l2.3-2.3 7.2 2-2.2 1.5zM406.1 727.2l2.2-1.5 7.6 1.4-2.2 1.4z"/><path color="#006" d="M413.7 728.5l2.2-1.4 7.7 3.4-2 .2z"/><path color="#005" d="M421.6 730.7l2-.2 7.9 3.9-2.1 .9zM429.4 735.3l2.1-.9 8.5 2.4-2.3 1.9zM437.7 738.7l2.3-1.9 8.4 4.8-2.1 1z"/><path color="#004" d="M446.3 742.6l2.1-1 8.8 4.2-2.1 1.3zM455.1 747.1l2.1-1.3 8.9 6-1.9 .7z"/><path color="#003" d="M464.2 752.5l1.9-.7 9.8 3.4-2 1.2zM473.9 756.4l2-1.2 9.9 4.9-1.9 1zM364.1 720.3l2.2-1.3 6 2.4-2.2 .9zM370.1 722.3l2.2-.9 6.2 .5zM370.1 722.3l8.4-.4-2.1 .1z"/><path color="#004" d="M376.4 722l2.1-.1 6.5 1.9-2.1-.2z"/><path color="#003" d="M382.9 723.6l2.1 .2 6.9-.1z"/><path color="#004" d="M382.9 723.6l9 .1-2.3 2.3z"/><path color="#005" d="M389.6 726l2.3-2.3 6.9 2.3-2.2 1zM396.6 727l2.2-1 7.3 1.2-2.1 .5zM404 727.7l2.1-.5 7.6 1.3-2.3 2.1zM411.4 730.6l2.3-2.1 7.9 2.2-2.2 1.3zM419.4 732l2.2-1.3 7.8 4.6-2 0z"/><path color="#004" d="M427.4 735.3l2 0 8.3 3.4-2.1 1.1z"/><path color="#005" d="M435.6 739.8l2.1-1.1 8.6 3.9-2.2 1.4z"/><path color="#004" d="M444.1 744l2.2-1.4 8.8 4.5-2 .9zM453.1 748l2-.9 9.1 5.4-1.8-.5z"/><path color="#003" d="M462.4 752l1.8 .5 9.7 3.9-1.8 .1zM472.1 756.5l1.8-.1 10 4.7-2 1zM361.9 721.5l2.2-1.2 6 2-2.2 0zM367.9 722.3l2.2 0 6.3-.3z"/><path color="#004" d="M367.9 722.3l8.5-.3-2.3 2.3zM374.1 724.3l2.3-2.3 6.5 1.6-2.2 .5zM380.7 724.1l2.2-.5 6.7 2.4z"/><path color="#003" d="M380.7 724.1l8.9 1.9-2.1-1.5zM387.5 724.5l2.1 1.5 7 1z"/><path color="#004" d="M387.5 724.5l9.1 2.5-2.1-.4zM394.5 726.6l2.1 .4 7.4 .7-2.1-.6zM401.9 727.1l2.1 .6 7.4 2.9zM401.9 727.1l9.5 3.5-2-.8zM409.4 729.8l2 .8 8 1.4-2-.7z"/><path color="#005" d="M417.4 731.3l2 .7 8 3.3-2.2 .8zM425.2 736.1l2.2-.8 8.2 4.5-2.3 1.5zM433.3 741.3l2.3-1.5 8.5 4.2-1.9-.4z"/><path color="#004" d="M442.2 743.6l1.9 .4 9 4-2.2 1.5zM450.9 749.5l2.2-1.5 9.3 4-2.4 2.9zM460 754.9l2.4-2.9 9.7 4.5-2.4 2.7z"/><path color="#003" d="M469.7 759.2l2.4-2.7 9.8 5.6-2.3 2.4zM359.8 721.2l2.1 .3 6 .8-2.2 .6zM365.7 722.9l2.2-.6 6.2 2-2.1 .3zM372 724.6l2.1-.3 6.6-.2-2.2 1.3z"/><path color="#004" d="M378.5 725.4l2.2-1.3 6.8 .4-2.2 1.2z"/><path color="#005" d="M385.3 725.7l2.2-1.2 7 2.1-2.3 1.5zM392.2 728.1l2.3-1.5 7.4 .5-2.3 1.3z"/><path color="#006" d="M399.6 728.4l2.3-1.3 7.5 2.7-2.2 .7z"/><path color="#005" d="M407.2 730.5l2.2-.7 8 1.5-2.4 2.2z"/><path color="#006" d="M415 733.5l2.4-2.2 7.8 4.8-2.1 0z"/><path color="#005" d="M423.1 736.1l2.1 0 8.1 5.2-2.1 .4z"/><path color="#004" d="M431.2 741.7l2.1-.4 8.9 2.3-2.2 1.4z"/><path color="#005" d="M440 745l2.2-1.4 8.7 5.9-2.3 1.6z"/><path color="#004" d="M448.6 751.1l2.3-1.6 9.1 5.4-2.1 .9z"/><path color="#003" d="M457.9 755.8l2.1-.9 9.7 4.3-2.2 1.5zM467.5 760.7l2.2-1.5 9.9 5.3-1.7-.3zM357.5 721.5l2.3-.3 5.9 1.7-2.2 .2zM363.5 723.1l2.2-.2 6.3 1.7-2.3 1.4z"/><path color="#004" d="M369.7 726l2.3-1.4 6.5 .8-2.3 .7zM376.2 726.1l2.3-.7 6.8 .3-2.3 1.5z"/><path color="#005" d="M383 727.2l2.3-1.5 6.9 2.4-2.2-.1z"/><path color="#004" d="M390 728l2.2 .1 7.4 .3-2.3 1.3z"/><path color="#005" d="M397.3 729.7l2.3-1.3 7.6 2.1-2.3 1.7z"/><path color="#006" d="M404.9 732.2l2.3-1.7 7.8 3-2.3 .9z"/><path color="#005" d="M412.7 734.4l2.3-.9 8.1 2.6-2.3 1.8zM420.8 737.9l2.3-1.8 8.1 5.6-2.1 .5zM429.1 742.2l2.1-.5 8.8 3.3zM429.1 742.2l10.9 2.8-2.6 3z"/><path color="#004" d="M437.4 748l2.6-3 8.6 6.1-2.4 2.6zM446.2 753.7l2.4-2.6 9.3 4.7-2.2 1.2z"/><path color="#003" d="M455.7 757l2.2-1.2 9.6 4.9-2.2 1.7zM465.3 762.4l2.2-1.7 10.4 3.5-2.1 1.4zM355.3 723.4l2.2-1.9 6 1.6-2.3 2.2z"/><path color="#004" d="M361.2 725.3l2.3-2.2 6.2 2.9-2.3 .4z"/><path color="#003" d="M367.4 726.4l2.3-.4 6.5 .1-2.3 1.1z"/><path color="#004" d="M373.9 727.2l2.3-1.1 6.8 1.1z"/><path color="#003" d="M373.9 727.2l9.1 0-2.2-.4z"/><path color="#004" d="M380.8 726.8l2.2 .4 7 .8z"/><path color="#005" d="M380.8 726.8l9.2 1.2-2.3 1.3zM387.7 729.3l2.3-1.3 7.3 1.7-2.3 1.7zM395 731.4l2.3-1.7 7.6 2.5-2.3 .9zM402.6 733.1l2.3-.9 7.8 2.2-2.3 1.2zM410.4 735.6l2.3-1.2 8.1 3.5-2.4 2.3zM418.4 740.2l2.4-2.3 8.3 4.3-2.3 .9zM426.8 743.1l2.3-.9 8.3 5.8-1.9-.7z"/><path color="#004" d="M435.5 747.3l1.9 .7 8.8 5.7z"/><path color="#003" d="M435.5 747.3l10.7 6.4-1.8-1.3zM444.4 752.4l1.8 1.3 9.5 3.3z"/><path color="#004" d="M444.4 752.4l11.3 4.6-2 .1z"/><path color="#003" d="M453.7 757.1l2-.1 9.6 5.4-2.1 .9zM463.2 763.3l2.1-.9 10.5 3.2-2.5 2.8zM353 723.9l2.3-.5 5.9 1.9-2.2 .3zM359 725.6l2.2-.3 6.2 1.1-2.2 .1zM365.2 726.5l2.2-.1 6.5 .8zM365.2 726.5l8.7 .7-2.2-.4zM371.7 726.8l2.2 .4 6.9-.4z"/><path color="#005" d="M371.7 726.8l9.1 0-2.4 1.9zM378.4 728.7l2.4-1.9 6.9 2.5-2.2 .3zM385.5 729.6l2.2-.3 7.3 2.1-2.3 .2zM392.7 731.6l2.3-.2 7.6 1.7-2.3 .7zM400.3 733.8l2.3-.7 7.8 2.5-2.3 1.4zM408.1 737l2.3-1.4 8 4.6-2.3 1zM416.1 741.2l2.3-1 8.4 2.9-2.3 1zM424.5 744.1l2.3-1 8.7 4.2-2.2 .4z"/><path color="#004" d="M433.3 747.7l2.2-.4 8.9 5.1-2.3 1zM442.1 753.4l2.3-1 9.3 4.7-2.4 2zM451.3 759.1l2.4-2 9.5 6.2z"/><path color="#003" d="M451.3 759.1l11.9 4.2-1.8-.9zM461.4 762.4l1.8 .9 10.1 5.1zM461.4 762.4l11.9 6-1.9 .3zM350.7 724.8l2.3-.9 6 1.7-2.3 .6zM356.7 726.2l2.3-.6 6.2 .9-2.3 .4zM362.9 726.9l2.3-.4 6.5 .3-2.4 1.9z"/><path color="#004" d="M369.3 728.7l2.4-1.9 6.7 1.9-2.3 .7zM376.1 729.4l2.3-.7 7.1 .9-2.4 1.4z"/><path color="#005" d="M383.1 731l2.4-1.4 7.2 2-2.3 1.4zM390.4 733l2.3-1.4 7.6 2.2-2.3 .2zM398 734l2.3-.2 7.8 3.2-2.4 1.1zM405.7 738.1l2.4-1.1 8 4.2-2.2-.2z"/><path color="#004" d="M413.9 741l2.2 .2 8.4 2.9-2.1 .1zM422.4 744.2l2.1-.1 8.8 3.6z"/><path color="#005" d="M422.4 744.2l10.9 3.5-2.6 3zM430.7 750.7l2.6-3 8.8 5.7-2.3 1.6z"/><path color="#004" d="M439.8 755l2.3-1.6 9.2 5.7-2.4 2z"/><path color="#003" d="M448.9 761.1l2.4-2 10.1 3.3-2.5 2.9zM458.9 765.3l2.5-2.9 10 6.3-2.4 2.2zM348.4 725l2.3-.2 6 1.4-2.4 1.3zM354.3 727.5l2.4-1.3 6.2 .7-2.3 .4z"/><path color="#004" d="M360.6 727.3l2.3-.4 6.4 1.8-2.4 1.5zM366.9 730.2l2.4-1.5 6.8 .7-2.4 1zM373.7 730.4l2.4-1 7 1.6-2.4 .7z"/><path color="#005" d="M380.7 731.7l2.4-.7 7.3 2-2.4 1zM388 734l2.4-1 7.6 1-2.3 .9zM395.7 734.9l2.3-.9 7.7 4.1-2.4 1.2zM403.3 739.3l2.4-1.2 8.2 2.9-2.4 1.5zM411.5 742.5l2.4-1.5 8.5 3.2-2.5 2.1zM419.9 746.3l2.5-2.1 8.3 6.5-2.2 .7z"/><path color="#004" d="M428.5 751.4l2.2-.7 9.1 4.3-2.3 .7zM437.5 755.7l2.3-.7 9.1 6.1-1.9-.6z"/><path color="#003" d="M447 760.5l1.9 .6 10 4.2-2.3 1.1zM456.6 766.4l2.3-1.1 10.1 5.6-2.1 .6zM346 725.6l2.4-.6 5.9 2.5-2.4 1.2zM351.9 728.7l2.4-1.2 6.3-.2-2.5 1.9z"/><path color="#004" d="M358.1 729.2l2.5-1.9 6.3 2.9-2.3-.1z"/><path color="#003" d="M364.6 730.1l2.3 .1 6.8 .2z"/><path color="#004" d="M364.6 730.1l9.1 .3-2.4 .9zM371.3 731.3l2.4-.9 7 1.3-2.4 1.8z"/><path color="#005" d="M378.3 733.5l2.4-1.8 7.3 2.3-2.5 1.4zM385.5 735.4l2.5-1.4 7.7 .9-2.5 1.2z"/><path color="#006" d="M393.2 736.1l2.5-1.2 7.6 4.4-2.2-.2z"/><path color="#005" d="M401.1 739.1l2.2 .2 8.2 3.2-2.4 .5zM409.1 743l2.4-.5 8.4 3.8-2.6 2.3zM417.3 748.6l2.6-2.3 8.6 5.1z"/><path color="#004" d="M417.3 748.6l11.2 2.8-2.2-.5zM426.3 750.9l2.2 .5 9 4.3z"/><path color="#005" d="M426.3 750.9l11.2 4.8-2.7 3.7z"/><path color="#004" d="M434.8 759.4l2.7-3.7 9.5 4.8-2.5 2.2zM444.5 762.7l2.5-2.2 9.6 5.9z"/><path color="#003" d="M444.5 762.7l12.1 3.7-1.9-.5zM454.7 765.9l1.9 .5 10.3 5.1-2.2 1.1zM343.6 727l2.4-1.4 5.9 3.1-2.3 .5zM349.6 729.2l2.3-.5 6.2 .5-2.3 .4zM355.8 729.6l2.3-.4 6.5 .9-2.4 .5z"/><path color="#004" d="M362.2 730.6l2.4-.5 6.7 1.2-2.4 .6zM368.9 731.9l2.4-.6 7 2.2-2.4-.1zM375.9 733.4l2.4 .1 7.2 1.9-2.4 .7z"/><path color="#005" d="M383.1 736.1l2.4-.7 7.7 .7-2.3 .1zM390.9 736.2l2.3-.1 7.9 3-2.5 1.3zM398.6 740.4l2.5-1.3 8 3.9-2.4 1.2zM406.7 744.2l2.4-1.2 8.2 5.6-2.2-.6z"/><path color="#004" d="M415.1 748l2.2 .6 9 2.3z"/><path color="#005" d="M415.1 748l11.2 2.9-2.8 4z"/><path color="#004" d="M423.5 754.9l2.8-4 8.5 8.5z"/><path color="#003" d="M423.5 754.9l11.3 4.5-2.1-.9zM432.7 758.5l2.1 .9 9.7 3.3z"/><path color="#004" d="M432.7 758.5l11.8 4.2-2.4 1.1z"/><path color="#003" d="M442.1 763.8l2.4-1.1 10.2 3.2-2.6 2.6z"/><path color="#004" d="M452.1 768.5l2.6-2.6 10 6.7-2.1 .2z"/><path color="#003" d="M341.2 726.9l2.4 .1 6 2.2-2.4 0zM347.2 729.2l2.4 0 6.2 .4-2.5 .5z"/><path color="#004" d="M353.3 730.1l2.5-.5 6.4 1z"/><path color="#003" d="M353.3 730.1l8.9 .5-2.4-.3z"/><path color="#004" d="M359.8 730.3l2.4 .3 6.7 1.3-2.4 .7zM366.5 732.6l2.4-.7 7 1.5zM366.5 732.6l9.4 .8-2.4-.4zM373.5 733l2.4 .4 7.2 2.7-2.4 0zM380.7 736.1l2.4 0 7.8 .1z"/><path color="#005" d="M380.7 736.1l10.2 .1-2.6 2.5z"/><path color="#006" d="M388.3 738.7l2.6-2.5 7.7 4.2z"/><path color="#005" d="M388.3 738.7l10.3 1.7-2.4 .1zM396.2 740.5l2.4-.1 8.1 3.8-2.3-.2zM404.4 744l2.3 .2 8.4 3.8-2.5 2.1zM412.6 750.1l2.5-2.1 8.4 6.9z"/><path color="#004" d="M412.6 750.1l10.9 4.8-2.2-.4zM421.3 754.5l2.2 .4 9.2 3.6zM421.3 754.5l11.4 4-2.5 2.3zM430.2 760.8l2.5-2.3 9.4 5.3-2.4 1.3zM439.7 765.1l2.4-1.3 10 4.7-2.3 1z"/><path color="#003" d="M449.8 769.5l2.3-1 10.5 4.3-2.6 2.5zM338.8 728.4l2.4-1.5 6 2.3zM338.8 728.4l8.4 .8-2.5-.3zM344.7 728.9l2.5 .3 6.1 .9-2.4 .8z"/><path color="#004" d="M350.9 730.9l2.4-.8 6.5 .2-2.5 1.8zM357.3 732.1l2.5-1.8 6.7 2.3-2.5 1.6zM364 734.2l2.5-1.6 7 .4-2.6 2.9z"/><path color="#005" d="M370.9 735.9l2.6-2.9 7.2 3.1-2.6 2.2zM378.1 738.3l2.6-2.2 7.6 2.6-2.5 1.2zM385.8 739.9l2.5-1.2 7.9 1.8zM385.8 739.9l10.4 .6-2.7 3.6zM393.5 744.1l2.7-3.6 8.2 3.5-2.7 2.9zM401.7 746.9l2.7-2.9 8.2 6.1z"/><path color="#004" d="M401.7 746.9l10.9 3.2-2.4 .3zM410.2 750.4l2.4-.3 8.7 4.4-2.3 .2zM419 754.7l2.3-.2 8.9 6.3-2.2-.5z"/><path color="#003" d="M428 760.3l2.2 .5 9.5 4.3-2.5 1.9z"/><path color="#004" d="M437.2 767l2.5-1.9 10.1 4.4-2.5 1.7z"/><path color="#003" d="M447.3 771.2l2.5-1.7 10.2 5.8-2.4 2zM336.3 729.3l2.5-.9 5.9 .5-2.5 1.6z"/><path color="#004" d="M342.2 730.5l2.5-1.6 6.2 2-2.6 2.3zM348.3 733.2l2.6-2.3 6.4 1.2-2.6 2.3zM354.7 734.4l2.6-2.3 6.7 2.1-2.5 .3zM361.5 734.5l2.5-.3 6.9 1.7-2.5 .7z"/><path color="#005" d="M368.4 736.6l2.5-.7 7.2 2.4-2.4 .2z"/><path color="#004" d="M375.7 738.5l2.4-.2 7.7 1.6-2.6 1.3z"/><path color="#005" d="M383.2 741.2l2.6-1.3 7.7 4.2-2.4-.5z"/><path color="#004" d="M391.1 743.6l2.4 .5 8.2 2.8-2.6 1.9z"/><path color="#005" d="M399.1 748.8l2.6-1.9 8.5 3.5-2.7 2.7zM407.5 753.1l2.7-2.7 8.8 4.3-2.7 2.6zM416.3 757.3l2.7-2.6 9 5.6-2.7 2.8z"/><path color="#004" d="M425.3 763.1l2.7-2.8 9.2 6.7-2.4 1.3z"/><path color="#003" d="M434.8 768.3l2.4-1.3 10.1 4.2-2.5 1.9zM444.8 773.1l2.5-1.9 10.3 6.1-2.4 1zM333.8 729.4l2.5-.1 5.9 1.2-2.5 1.6zM339.7 732.1l2.5-1.6 6.1 2.7-2.5 .1zM345.8 733.3l2.5-.1 6.4 1.2-2.5 .6z"/><path color="#004" d="M352.2 735l2.5-.6 6.8 .1-2.6 1.3zM358.9 735.8l2.6-1.3 6.9 2.1-2.6 1.5z"/><path color="#005" d="M365.8 738.1l2.6-1.5 7.3 1.9-2.7 1.9zM373 740.4l2.7-1.9 7.5 2.7-2.6 .7zM380.6 741.9l2.6-.7 7.9 2.4-2.6 .8zM388.5 744.4l2.6-.8 8 5.2-2.6 .7zM396.5 749.5l2.6-.7 8.4 4.3-2.4-.4z"/><path color="#004" d="M405.1 752.7l2.4 .4 8.8 4.2-2.6 1.2zM413.7 758.5l2.6-1.2 9 5.8-2.6 1.2zM422.7 764.3l2.6-1.2 9.5 5.2-2.3-.2z"/><path color="#003" d="M432.5 768.1l2.3 .2 10 4.8-2.6 2.1zM442.2 775.2l2.6-2.1 10.4 5.2-2.3 .7zM331.3 730.9l2.5-1.5 5.9 2.7-2.5 1.4zM337.2 733.5l2.5-1.4 6.1 1.2-2.5 1z"/><path color="#004" d="M343.3 734.3l2.5-1 6.4 1.7-2.5 .6zM349.7 735.6l2.5-.6 6.7 .8zM349.7 735.6l9.2 .2-2.6 3zM356.3 738.8l2.6-3 6.9 2.3zM356.3 738.8l9.5-.7-2.5 .4zM363.3 738.5l2.5-.4 7.2 2.3-2.5-.2zM370.5 740.2l2.5 .2 7.6 1.5-2.6 1.8z"/><path color="#005" d="M378 743.7l2.6-1.8 7.9 2.5-2.7 2.3zM385.8 746.7l2.7-2.3 8 5.1z"/><path color="#004" d="M385.8 746.7l10.7 2.8-2.4-.3zM394.1 749.2l2.4 .3 8.6 3.2-2.7 1.8z"/><path color="#005" d="M402.4 754.5l2.7-1.8 8.6 5.8-2.7 2.5z"/><path color="#004" d="M411 761l2.7-2.5 9 5.8-2.5 1.3zM420.2 765.6l2.5-1.3 9.8 3.8-2.8 2.8zM429.7 770.9l2.8-2.8 9.7 7.1-2.5 1z"/><path color="#003" d="M439.7 776.2l2.5-1 10.7 3.8zM439.7 776.2l13.2 2.8-3 4.2zM328.8 731.2l2.5-.3 5.9 2.6-2.6-.3zM334.6 733.2l2.6 .3 6.1 .8zM334.6 733.2l8.7 1.1-2.6 .7zM340.7 735l2.6-.7 6.4 1.3-2.7 2.4z"/><path color="#004" d="M347 738l2.7-2.4 6.6 3.2z"/><path color="#003" d="M347 738l9.3 .8-2.6 .1zM353.7 738.9l2.6-.1 7-.3z"/><path color="#004" d="M353.7 738.9l9.6-.4-2.7 2.5z"/><path color="#005" d="M360.6 741l2.7-2.5 7.2 1.7-2.7 2.7zM367.8 742.9l2.7-2.7 7.5 3.5-2.7 1.2zM375.3 744.9l2.7-1.2 7.8 3-2.7 2.5zM383.1 749.2l2.7-2.5 8.3 2.5-2.9 4.2zM391.2 753.4l2.9-4.2 8.3 5.3-2.8 3.4zM399.6 757.9l2.8-3.4 8.6 6.5-2.6 1.4z"/><path color="#004" d="M408.4 762.4l2.6-1.4 9.2 4.6-2.6 1.1zM417.6 766.7l2.6-1.1 9.5 5.3-2.7 2.2z"/><path color="#003" d="M427 773.1l2.7-2.2 10 5.3-2.4 .7zM437.3 776.9l2.4-.7 10.2 7-2.2-.4zM326.2 732.9l2.6-1.7 5.8 2-2.6 .7zM332 733.9l2.6-.7 6.1 1.8-2.6 .1zM338.1 735.1l2.6-.1 6.3 3-2.6 1.2zM344.4 739.2l2.6-1.2 6.7 .9-2.7 3.3z"/><path color="#004" d="M351 742.2l2.7-3.3 6.9 2.1-2.7 2.1zM357.9 743.1l2.7-2.1 7.2 1.9-2.7 2z"/><path color="#005" d="M365.1 744.9l2.7-2 7.5 2-2.7 2.3zM372.6 747.2l2.7-2.3 7.8 4.3-2.7 1.3z"/><path color="#004" d="M380.4 750.5l2.7-1.3 8.1 4.2-2.8 2.3zM388.4 755.7l2.8-2.3 8.4 4.5-2.8 2.1zM396.8 760l2.8-2.1 8.8 4.5-2.6 .9zM405.8 763.3l2.6-.9 9.2 4.3-2.9 3.3zM414.7 770l2.9-3.3 9.4 6.4z"/><path color="#003" d="M414.7 770l12.3 3.1-2.5 .4zM424.5 773.5l2.5-.4 10.3 3.8-2.8 2.8zM434.5 779.7l2.8-2.8 10.4 5.9-2.5 1.3zM323.6 732.5l2.6 .4 5.8 1-2.6 1.3zM329.4 735.2l2.6-1.3 6.1 1.2zM329.4 735.2l8.7-.1-2.7 4.3zM335.4 739.4l2.7-4.3 6.3 4.1-2.7 3.2zM341.7 742.4l2.7-3.2 6.6 3zM341.7 742.4l9.3-.2-2.7 .9zM348.3 743.1l2.7-.9 6.9 .9-2.7 .9z"/><path color="#004" d="M355.2 744l2.7-.9 7.2 1.8-2.8 2.7zM362.3 747.6l2.8-2.7 7.5 2.3-2.8 3.2zM369.8 750.4l2.8-3.2 7.8 3.3-2.8 2.6zM377.6 753.1l2.8-2.6 8 5.2-2.8 2.4zM385.6 758.1l2.8-2.4 8.4 4.3-2.7 1.5zM394.1 761.5l2.7-1.5 9 3.3-2.9 2.4zM402.9 765.7l2.9-2.4 8.9 6.7-2.6 .8z"/><path color="#003" d="M412.1 770.8l2.6-.8 9.8 3.5-2.8 2.4zM421.7 775.9l2.8-2.4 10 6.2-2.8 2.1zM431.7 781.8l2.8-2.1 10.7 4.4-2.7 2zM320.9 734.8l2.7-2.3 5.8 2.7-2.7 .9zM326.7 736.1l2.7-.9 6 4.2-2.6-.2zM332.8 739.2l2.6 .2 6.3 3-2.6-.5z"/><path color="#002" d="M339.1 741.9l2.6 .5 6.6 .7z"/><path color="#003" d="M339.1 741.9l9.2 1.2-2.7 1.1zM345.6 744.2l2.7-1.1 6.9 .9-2.8 2z"/><path color="#004" d="M352.4 746l2.8-2 7.1 3.6-2.8 2.4zM359.5 750l2.8-2.4 7.5 2.8-2.8 2.3zM367 752.7l2.8-2.3 7.8 2.7-2.9 3.2zM374.7 756.3l2.9-3.2 8 5-2.9 2.9zM382.7 761l2.9-2.9 8.5 3.4-2.8 1.5zM391.3 763l2.8-1.5 8.8 4.2-2.8 2.3zM400.1 768l2.8-2.3 9.2 5.1-2.6 .2z"/><path color="#003" d="M409.5 771l2.6-.2 9.6 5.1-2.5 .1zM419.2 776l2.5-.1 10 5.9-2.8 2.1zM428.9 783.9l2.8-2.1 10.8 4.3-2.8 2.2zM318.3 735.4l2.6-.6 5.8 1.3-2.7 1.6zM324 737.7l2.7-1.6 6.1 3.1-2.7 1.9zM330.1 741.1l2.7-1.9 6.3 2.7-2.8 1.4zM336.3 743.3l2.8-1.4 6.5 2.3-2.7 1.7zM342.9 745.9l2.7-1.7 6.8 1.8-2.7 2.2z"/><path color="#004" d="M349.7 748.2l2.7-2.2 7.1 4-2.7 1.4z"/><path color="#003" d="M356.8 751.4l2.7-1.4 7.5 2.7-2.8 1.5z"/><path color="#004" d="M364.2 754.2l2.8-1.5 7.7 3.6z"/><path color="#003" d="M364.2 754.2l10.5 2.1-2.6-1.1zM372.1 755.2l2.6 1.1 8 4.7-2.6-.5zM380.1 760.5l2.6 .5 8.6 2zM380.1 760.5l11.2 2.5-2.5-1.9zM388.8 761.1l2.5 1.9 8.8 5zM388.8 761.1l11.3 6.9-2.5-1.2zM397.6 766.8l2.5 1.2 9.4 3zM397.6 766.8l11.9 4.2-2.1-3.9zM407.4 767.1l2.1 3.9 9.7 5-2.1-3.7zM417.1 772.3l2.1 3.7 9.7 7.9z"/><path color="#004" d="M417.1 772.3l11.8 11.6-2.8 2.2z"/><path color="#003" d="M426.1 786.1l2.8-2.2 10.8 4.4-2.5 .5zM315.5 736.3l2.8-.9 5.7 2.3-2.7 .1zM321.3 737.8l2.7-.1 6.1 3.4-2.8 .8zM327.3 741.9l2.8-.8 6.2 2.2-2.7 1zM333.6 744.3l2.7-1 6.6 2.6-2.8 1.4zM340.1 747.3l2.8-1.4 6.8 2.3-2.8 1.4zM346.9 749.6l2.8-1.4 7.1 3.2-2.8 .2zM354 751.6l2.8-.2 7.4 2.8z"/><path color="#002" d="M354 751.6l10.2 2.6-2.6-3.3z"/><path color="#003" d="M361.6 750.9l2.6 3.3 7.9 1-2.5-4.5zM369.6 750.7l2.5 4.5 8 5.3-2.5-3.8zM377.6 756.7l2.5 3.8 8.7 .6-2.3-5.1zM386.5 756l2.3 5.1 8.8 5.7-2.3-4.5zM395.3 762.3l2.3 4.5 9.8 .3-2-6.1z"/><path color="#004" d="M405.4 761l2 6.1 9.7 5.2-1.8-5.9z"/><path color="#003" d="M415.3 766.4l1.8 5.9 9 13.8z"/><path color="#004" d="M415.3 766.4l10.8 19.7-2.5-.6z"/><path color="#002" d="M423.6 785.5l2.5 .6 11.1 2.7z"/><path color="#003" d="M423.6 785.5l13.6 3.3-2.9 2.8zM312.8 736.5l2.7-.2 5.8 1.5-2.7 1.8zM318.6 739.6l2.7-1.8 6 4.1-2.7 1.7zM324.6 743.6l2.7-1.7 6.3 2.4z"/><path color="#002" d="M324.6 743.6l9 .7-2.8-.9z"/><path color="#003" d="M330.8 743.4l2.8 .9 6.5 3-2.8 1.2zM337.3 748.5l2.8-1.2 6.8 2.3z"/><path color="#002" d="M337.3 748.5l9.6 1.1-2.8-1.8z"/><path color="#003" d="M344.1 747.8l2.8 1.8 7.1 2-2.7-3.5zM351.3 748.1l2.7 3.5 7.6-.7-2.6-5.3z"/><path color="#004" d="M359 745.6l2.6 5.3 8-.2-2.5-6.9zM367.1 743.8l2.5 6.9 8 6-2.4-6z"/><path style="fill:url(#gjt);stroke:url(#gjt)" d="M375.2 750.7l2.4 6 8.9-.7z"/><path style="fill:url(#gju);stroke:url(#gju)" d="M375.2 750.7l11.3 5.3-2.1-8z"/><path color="#004" d="M384.4 748l2.1 8 8.8 6.3-2.1-7.1z"/><path style="fill:url(#gjv);stroke:url(#gjv)" d="M393.2 755.2l2.1 7.1 10.1-1.3z"/><path style="fill:url(#gjw);stroke:url(#gjw)" d="M393.2 755.2l12.2 5.8-1.7-9.6z"/><path style="fill:url(#gjx);stroke:url(#gjx)" d="M403.7 751.4l1.7 9.6 9.9 5.4z"/><path style="fill:url(#gjy);stroke:url(#gjy)" d="M403.7 751.4l11.6 15-1.6-9.2z"/><path color="#004" d="M413.7 757.2l1.6 9.2 8.3 19.1z"/><path color="#005" d="M413.7 757.2l9.9 28.3-2.9 2.8z"/><path color="#003" d="M420.7 788.3l2.9-2.8 10.7 6.1-2.9 2.1zM310 737.7l2.8-1.2 5.8 3.1-2.8 .7zM315.8 740.3l2.8-.7 6 4-2.8 1.1zM321.8 744.7l2.8-1.1 6.2-.2z"/><path color="#002" d="M321.8 744.7l9-1.3-2.9-3.3z"/><path color="#003" d="M327.9 740.1l2.9 3.3 6.5 5.1zM327.9 740.1l9.4 8.4-2.9-2.5zM334.4 746l2.9 2.5 6.8-.7-2.8-4.2zM341.3 743.6l2.8 4.2 7.2 .3-2.8-5.4z"/><path style="fill:url(#gjz);stroke:url(#gjz)" d="M348.5 742.7l2.8 5.4 7.7-2.5z"/><path style="fill:url(#gk0);stroke:url(#gk0)" d="M348.5 742.7l10.5 2.9-2.6-8.1z"/><path style="fill:url(#gk1);stroke:url(#gk1)" d="M356.4 737.5l2.6 8.1 8.1-1.8z"/><path style="fill:url(#gk2);stroke:url(#gk2)" d="M356.4 737.5l10.7 6.3-2.4-10.5z"/><path style="fill:url(#gk3);stroke:url(#gk3)" d="M364.7 733.3l2.4 10.5 8.1 6.9z"/><path style="fill:url(#gk4);stroke:url(#gk4)" d="M364.7 733.3l10.5 17.4-2.3-9.1z"/><path style="fill:url(#gk5);stroke:url(#gk5)" d="M372.9 741.6l2.3 9.1 9.2-2.7z"/><path style="fill:url(#gk6);stroke:url(#gk6)" d="M372.9 741.6l11.5 6.4-2-12.3z"/><path color="#006" d="M382.4 735.7l2 12.3 8.8 7.2-1.9-10.8z"/><path style="fill:url(#gk7);stroke:url(#gk7)" d="M391.3 744.4l1.9 10.8 10.5-3.8z"/><path style="fill:url(#gk8);stroke:url(#gk8)" d="M391.3 744.4l12.4 7-1.3-14.7z"/><path style="fill:url(#gk9);stroke:url(#gk9)" d="M402.4 736.7l1.3 14.7 10 5.8z"/><path style="fill:url(#gka);stroke:url(#gka)" d="M402.4 736.7l11.3 20.5-1.1-14.1z"/><path color="#015" d="M412.6 743.1l1.1 14.1 7 31.1zM412.6 743.1l8.1 45.2-2.9 1.3z"/><path color="#003" d="M417.8 789.6l2.9-1.3 10.7 5.4-2.7 .8zM307.2 739.7l2.8-2 5.8 2.6-2.9 1.7zM312.9 742l2.9-1.7 6 4.4-2.9 .2z"/><path color="#002" d="M318.9 744.9l2.9-.2 6.1-4.6z"/><path color="#004" d="M318.9 744.9l9-4.8-3-5.1z"/><path color="#003" d="M324.9 735l3 5.1 6.5 5.9-2.9-4z"/><path color="#004" d="M331.5 742l2.9 4 6.9-2.4-2.9-6.4z"/><path color="#005" d="M338.4 737.2l2.9 6.4 7.2-.9-2.7-8.3z"/><path style="fill:url(#gkb);stroke:url(#gkb)" d="M345.8 734.4l2.7 8.3 7.9-5.2z"/><path style="fill:url(#gkc);stroke:url(#gkc)" d="M345.8 734.4l10.6 3.1-2.6-12.3z"/><path style="fill:url(#gkd);stroke:url(#gkd)" d="M353.8 725.2l2.6 12.3 8.3-4.2z"/><path style="fill:url(#gke);stroke:url(#gke)" d="M353.8 725.2l10.9 8.1-2.3-16.1z"/><path style="fill:url(#gkf);stroke:url(#gkf)" d="M362.4 717.2l2.3 16.1 8.2 8.3z"/><path style="fill:url(#gkg);stroke:url(#gkg)" d="M362.4 717.2l10.5 24.4-2.2-14z"/><path style="fill:url(#gkh);stroke:url(#gkh)" d="M370.7 727.6l2.2 14 9.5-5.9z"/><path style="fill:url(#gki);stroke:url(#gki)" d="M370.7 727.6l11.7 8.1-1.7-18.7z"/><path style="fill:url(#gkj);stroke:url(#gkj)" d="M380.7 717l1.7 18.7 8.9 8.7z"/><path style="fill:url(#gkk);stroke:url(#gkk)" d="M380.7 717l10.6 27.4-1.5-16.6z"/><path style="fill:url(#gkl);stroke:url(#gkl)" d="M389.8 727.8l1.5 16.6 11.1-7.7z"/><path style="fill:url(#gkm);stroke:url(#gkm)" d="M389.8 727.8l12.6 8.9-.7-22.7z"/><path color="#164" d="M401.7 714l.7 22.7 10.2 6.4z"/><path color="#166" d="M401.7 714l10.9 29.1-4.4 12.4z"/><path style="fill:url(#gkn);stroke:url(#gkn)" d="M408.2 755.5l4.4-12.4 5.2 46.5z"/><path style="fill:url(#gko);stroke:url(#gko)" d="M408.2 755.5l9.6 34.1-3 2.2z"/><path color="#003" d="M414.8 791.8l3-2.2 10.9 4.9-3.2 3.8zM304.4 739.8l2.8-.1 5.7 2.3-2.8 1zM310.1 743l2.8-1 6 2.9-2.9 1z"/><path style="fill:url(#gkp);stroke:url(#gkp)" d="M316 745.9l2.9-1 6-9.9z"/><path style="fill:url(#gkq);stroke:url(#gkq)" d="M316 745.9l8.9-10.9-3.1-7.8z"/><path color="#004" d="M321.8 727.2l3.1 7.8 6.6 7-3-6.2z"/><path style="fill:url(#gkr);stroke:url(#gkr)" d="M328.5 735.8l3 6.2 6.9-4.8z"/><path style="fill:url(#gks);stroke:url(#gks)" d="M328.5 735.8l9.9 1.4-2.9-9.7z"/><path style="fill:url(#gkt);stroke:url(#gkt)" d="M335.5 727.5l2.9 9.7 7.4-2.8z"/><path style="fill:url(#gku);stroke:url(#gku)" d="M335.5 727.5l10.3 6.9-2.9-12.6z"/><path style="fill:url(#gkv);stroke:url(#gkv)" d="M342.9 721.8l2.9 12.6 8-9.2z"/><path style="fill:url(#gkw);stroke:url(#gkw)" d="M342.9 721.8l10.9 3.4-2.6-18.6z"/><path style="fill:url(#gkx);stroke:url(#gkx)" d="M351.2 706.6l2.6 18.6 8.6-8z"/><path style="fill:url(#gky);stroke:url(#gky)" d="M351.2 706.6l11.2 10.6-2.2-24.5z"/><path style="fill:url(#gkz);stroke:url(#gkz)" d="M360.2 692.7l2.2 24.5 8.3 10.4z"/><path style="fill:url(#gl0);stroke:url(#gl0)" d="M360.2 692.7l10.5 34.9-2-21.3z"/><path style="fill:url(#gl1);stroke:url(#gl1)" d="M368.7 706.3l2 21.3 10-10.6z"/><path style="fill:url(#gl2);stroke:url(#gl2)" d="M368.7 706.3l12 10.7-1.2-29.1z"/><path style="fill:url(#gl3);stroke:url(#gl3)" d="M379.5 687.9l1.2 29.1 9.1 10.8z"/><path style="fill:url(#gl4);stroke:url(#gl4)" d="M379.5 687.9l10.3 39.9-1-25.6z"/><path color="#3a1" d="M388.8 702.2l1 25.6 11.9-13.8z"/><path color="#3c2" d="M388.8 702.2l12.9 11.8-5.1 19.9z"/><path style="fill:url(#gl5);stroke:url(#gl5)" d="M396.6 733.9l5.1-19.9 6.5 41.5z"/><path style="fill:url(#gl6);stroke:url(#gl6)" d="M396.6 733.9l11.6 21.6-6.7 33.3z"/><path style="fill:url(#gl7);stroke:url(#gl7)" d="M401.5 788.8l6.7-33.3 6.6 36.3z"/><path style="fill:url(#gl8);stroke:url(#gl8)" d="M401.5 788.8l13.3 3-2.9 1.1z"/><path color="#003" d="M411.9 792.9l2.9-1.1 10.7 6.5-2.8 .1zM301.5 741.9l2.9-2.1 5.7 3.2-2.9 .8zM307.2 743.8l2.9-.8 5.9 2.9-2.9 1.7z"/><path style="fill:url(#gl9);stroke:url(#gl9)" d="M313.1 747.6l2.9-1.7 5.8-18.7z"/><path style="fill:url(#gla);stroke:url(#gla)" d="M313.1 747.6l8.7-20.4-3.3-11.8z"/><path color="#016" d="M318.5 715.4l3.3 11.8 6.7 8.6-3.1-9.3z"/><path style="fill:url(#glb);stroke:url(#glb)" d="M325.4 726.5l3.1 9.3 7-8.3z"/><path style="fill:url(#glc);stroke:url(#glc)" d="M325.4 726.5l10.1 1-3.1-14.7z"/><path style="fill:url(#gld);stroke:url(#gld)" d="M332.4 712.8l3.1 14.7 7.4-5.7z"/><path style="fill:url(#gle);stroke:url(#gle)" d="M332.4 712.8l10.5 9-2.9-19.2z"/><path style="fill:url(#glf);stroke:url(#glf)" d="M340 702.6l2.9 19.2 8.3-15.2z"/><path style="fill:url(#glg);stroke:url(#glg)" d="M340 702.6l11.2 4-2.6-28.8z"/><path style="fill:url(#glh);stroke:url(#glh)" d="M348.6 677.8l2.6 28.8 9-13.9z"/><path style="fill:url(#gli);stroke:url(#gli)" d="M348.6 677.8l11.6 14.9-2-38.6z"/><path style="fill:url(#glj);stroke:url(#glj)" d="M358.2 654.1l2 38.6 8.5 13.6z"/><path style="fill:url(#glk);stroke:url(#glk)" d="M358.2 654.1l10.5 52.2-1.7-33.3z"/><path color="#8c0" d="M367 673l1.7 33.3 10.8-18.4z"/><path color="#9d0" d="M367 673l12.5 14.9-5.1 27.7z"/><path style="fill:url(#gll);stroke:url(#gll)" d="M374.4 715.6l5.1-27.7 9.3 14.3z"/><path style="fill:url(#glm);stroke:url(#glm)" d="M374.4 715.6l14.4-13.4-5 22z"/><path style="fill:url(#gln);stroke:url(#gln)" d="M383.8 724.2l5-22 7.8 31.7z"/><path style="fill:url(#glo);stroke:url(#glo)" d="M383.8 724.2l12.8 9.7-7.8 50.8z"/><path style="fill:url(#glp);stroke:url(#glp)" d="M388.8 784.7l7.8-50.8 4.9 54.9z"/><path style="fill:url(#glq);stroke:url(#glq)" d="M388.8 784.7l12.7 4.1-3 1.7z"/><path color="#003" d="M398.5 790.5l3-1.7 10.4 4.1-3.2 3.1zM408.7 796l3.2-3.1 10.8 5.5-3.1 2.8zM298.6 743.3l2.9-1.4 5.7 1.9-3 .6zM304.2 744.4l3-.6 5.9 3.8-3-.3z"/><path style="fill:url(#glr);stroke:url(#glr)" d="M310.1 747.3l3 .3 5.4-32.2z"/><path style="fill:url(#gls);stroke:url(#gls)" d="M310.1 747.3l8.4-31.9-3.6-17.8z"/><path style="fill:url(#glt);stroke:url(#glt)" d="M314.9 697.6l3.6 17.8 6.9 11.1z"/><path style="fill:url(#glu);stroke:url(#glu)" d="M314.9 697.6l10.5 28.9-3.4-14.2z"/><path style="fill:url(#glv);stroke:url(#glv)" d="M322 712.3l3.4 14.2 7-13.7z"/><path style="fill:url(#glw);stroke:url(#glw)" d="M322 712.3l10.4 .5-3.4-22.5z"/><path style="fill:url(#glx);stroke:url(#glx)" d="M329 690.3l3.4 22.5 7.6-10.2z"/><path style="fill:url(#gly);stroke:url(#gly)" d="M329 690.3l11 12.3-3.1-29.5z"/><path style="fill:url(#glz);stroke:url(#glz)" d="M336.9 673.1l3.1 29.5 8.6-24.8z"/><path style="fill:url(#gm0);stroke:url(#gm0)" d="M336.9 673.1l11.7 4.7-2.7-45.6z"/><path style="fill:url(#gm1);stroke:url(#gm1)" d="M345.9 632.2l2.7 45.6 9.6-23.7z"/><path style="fill:url(#gm2);stroke:url(#gm2)" d="M345.9 632.2l12.3 21.9-5.6 67.8z"/><path style="fill:url(#gm3);stroke:url(#gm3)" d="M352.6 721.9l5.6-67.8 8.8 18.9z"/><path style="fill:url(#gm4);stroke:url(#gm4)" d="M352.6 721.9l14.4-48.9-5.1 37.1z"/><path style="fill:url(#gm5);stroke:url(#gm5)" d="M361.9 710.1l5.1-37.1 7.4 42.6z"/><path style="fill:url(#gm6);stroke:url(#gm6)" d="M361.9 710.1l12.5 5.5-6.7 60.9z"/><path style="fill:url(#gm7);stroke:url(#gm7)" d="M367.7 776.5l6.7-60.9 9.4 8.6z"/><path style="fill:url(#gm8);stroke:url(#gm8)" d="M367.7 776.5l16.1-52.3-7.4 57.8z"/><path style="fill:url(#gm9);stroke:url(#gm9)" d="M376.4 782l7.4-57.8 5 60.5z"/><path style="fill:url(#gma);stroke:url(#gma)" d="M376.4 782l12.4 2.7-3.1 2z"/><path color="#003" d="M385.7 786.7l3.1-2 9.7 5.8-3 1.2zM395.5 791.7l3-1.2 10.2 5.5-2.9 .3z"/><path color="#002" d="M405.8 796.3l2.9-.3 10.9 5.2-3.1 2.4zM295.7 743.8l2.9-.5 5.6 1.1-2.9 1.6z"/><path color="#003" d="M301.3 746l2.9-1.6 5.9 2.9-3 .7z"/><path style="fill:url(#gmb);stroke:url(#gmb)" d="M307.1 748l3-.7 4.8-49.7z"/><path style="fill:url(#gmc);stroke:url(#gmc)" d="M307.1 748l7.8-50.4-4.1-27.3z"/><path style="fill:url(#gmd);stroke:url(#gmd)" d="M310.8 670.3l4.1 27.3 7.1 14.7z"/><path style="fill:url(#gme);stroke:url(#gme)" d="M310.8 670.3l11.2 42-3.7-21.4z"/><path style="fill:url(#gmf);stroke:url(#gmf)" d="M318.3 690.9l3.7 21.4 7-22z"/><path style="fill:url(#gmg);stroke:url(#gmg)" d="M318.3 690.9l10.7-.6-3.7-34.8z"/><path style="fill:url(#gmh);stroke:url(#gmh)" d="M325.3 655.5l3.7 34.8 7.9-17.2z"/><path style="fill:url(#gmi);stroke:url(#gmi)" d="M325.3 655.5l11.6 17.6-3.5-46.9z"/><path style="fill:url(#gmj);stroke:url(#gmj)" d="M333.4 626.2l3.5 46.9 9-40.9z"/><path style="fill:url(#gmk);stroke:url(#gmk)" d="M333.4 626.2l12.5 6-5 106.1z"/><path style="fill:url(#gml);stroke:url(#gml)" d="M340.9 738.3l5-106.1 6.7 89.7z"/><path style="fill:url(#gmm);stroke:url(#gmm)" d="M340.9 738.3l11.7-16.4-4.5 47.9z"/><path style="fill:url(#gmn);stroke:url(#gmn)" d="M348.1 769.8l4.5-47.9 9.3-11.8z"/><path style="fill:url(#gmo);stroke:url(#gmo)" d="M348.1 769.8l13.8-59.7-5.7 63.6z"/><path style="fill:url(#gmp);stroke:url(#gmp)" d="M356.2 773.7l5.7-63.6 5.8 66.4z"/><path style="fill:url(#gmq);stroke:url(#gmq)" d="M356.2 773.7l11.5 2.8-3.2 2z"/><path color="#003" d="M364.5 778.5l3.2-2 8.7 5.5-3.1 1zM373.3 783l3.1-1 9.3 4.7-3.2 2.4zM382.5 789.1l3.2-2.4 9.8 5-3.1 .6zM392.4 792.3l3.1-.6 10.3 4.6-3.2 2.4zM402.6 798.7l3.2-2.4 10.7 7.3z"/><path color="#002" d="M402.6 798.7l13.9 4.9-2.8-.7zM292.6 743.2l3.1 .6 5.6 2.2-3.1 .5z"/><path color="#003" d="M298.2 746.5l3.1-.5 5.8 2-3.1 1.1z"/><path style="fill:url(#gmr);stroke:url(#gmr)" d="M304 749.1l3.1-1.1 3.7-77.7z"/><path style="fill:url(#gms);stroke:url(#gms)" d="M304 749.1l6.8-78.8-4.9-42.8z"/><path style="fill:url(#gmt);stroke:url(#gmt)" d="M305.9 627.5l4.9 42.8 7.5 20.6z"/><path style="fill:url(#gmu);stroke:url(#gmu)" d="M305.9 627.5l12.4 63.4-4.2-33.2z"/><path style="fill:url(#gmv);stroke:url(#gmv)" d="M314.1 657.7l4.2 33.2 7-35.4z"/><path style="fill:url(#gmw);stroke:url(#gmw)" d="M314.1 657.7l11.2-2.2-2.4 83.1z"/><path style="fill:url(#gmx);stroke:url(#gmx)" d="M322.9 738.6l2.4-83.1 8.1-29.3z"/><path style="fill:url(#gmy);stroke:url(#gmy)" d="M322.9 738.6l10.5-112.4-3.4 108.6z"/><path style="fill:url(#gmz);stroke:url(#gmz)" d="M330 734.8l3.4-108.6 7.5 112.1z"/><path style="fill:url(#gn0);stroke:url(#gn0)" d="M330 734.8l10.9 3.5-3.5 28.8z"/><path style="fill:url(#gn1);stroke:url(#gn1)" d="M337.4 767.1l3.5-28.8 7.2 31.5z"/><path style="fill:url(#gn2);stroke:url(#gn2)" d="M337.4 767.1l10.7 2.7-3.1 1.8z"/><path color="#003" d="M345 771.6l3.1-1.8 8.1 3.9-3.2 1.9zM353 775.6l3.2-1.9 8.3 4.8-3.2 2.3zM361.3 780.8l3.2-2.3 8.8 4.5-3.2 2.5zM370.1 785.5l3.2-2.5 9.2 6.1-3.2 1.7zM379.3 790.8l3.2-1.7 9.9 3.2-3.2 1.9zM389.2 794.2l3.2-1.9 10.2 6.4-3.2 1.9zM399.4 800.6l3.2-1.9 11.1 4.2-3.5 4.1zM289.6 745.3l3-2.1 5.6 3.3-3 2.2zM295.2 748.7l3-2.2 5.8 2.6-3 1z"/><path style="fill:url(#gn3);stroke:url(#gn3)" d="M301 750.1l3-1 1.9-121.6z"/><path style="fill:url(#gn4);stroke:url(#gn4)" d="M301 750.1l4.9-122.6 .1 99.9z"/><path style="fill:url(#gn5);stroke:url(#gn5)" d="M306 727.4l-.1-99.9 8.2 30.2z"/><path style="fill:url(#gn6);stroke:url(#gn6)" d="M306 727.4l8.1-69.7-1.3 79.5z"/><path style="fill:url(#gn7);stroke:url(#gn7)" d="M312.8 737.2l1.3-79.5 8.8 80.9z"/><path style="fill:url(#gn8);stroke:url(#gn8)" d="M312.8 737.2l10.1 1.4-2.9 22.3z"/><path style="fill:url(#gn9);stroke:url(#gn9)" d="M320 760.9l2.9-22.3 7.1-3.8z"/><path style="fill:url(#gna);stroke:url(#gna)" d="M320 760.9l10-26.1-3.1 30.1z"/><path style="fill:url(#gnb);stroke:url(#gnb)" d="M326.9 764.9l3.1-30.1 7.4 32.3z"/><path style="fill:url(#gnc);stroke:url(#gnc)" d="M326.9 764.9l10.5 2.2-3.2 1.4z"/><path color="#003" d="M334.2 768.5l3.2-1.4 7.6 4.5-3.2 2zM341.8 773.6l3.2-2 8 4-3.2 .5zM349.8 776.1l3.2-.5 8.3 5.2-3.2 .9zM358.1 781.7l3.2-.9 8.8 4.7-3.2 1.3zM366.9 786.8l3.2-1.3 9.2 5.3-3.2 1.4zM376.1 792.2l3.2-1.4 9.9 3.4-3.4 3zM385.8 797.2l3.4-3 10.2 6.4-3.2 1.3zM396.2 801.9l3.2-1.3 10.8 6.4-3.2 1.8zM286.5 745.4l3.1-.1 5.6 3.4-3.2-.2z"/><path color="#002" d="M292 748.5l3.2 .2 5.8 1.4-3.2 .4z"/><path color="#004" d="M297.8 750.5l3.2-.4 5-22.7z"/><path color="#005" d="M297.8 750.5l8.2-23.1-2.1 28.3z"/><path style="fill:url(#gnd);stroke:url(#gnd)" d="M303.9 755.7l2.1-28.3 6.8 9.8z"/><path style="fill:url(#gne);stroke:url(#gne)" d="M303.9 755.7l8.9-18.5-2.6 22.4z"/><path style="fill:url(#gnf);stroke:url(#gnf)" d="M310.2 759.6l2.6-22.4 7.2 23.7z"/><path style="fill:url(#gng);stroke:url(#gng)" d="M310.2 759.6l9.8 1.3-3.2 1.1z"/><path color="#003" d="M316.8 762l3.2-1.1 6.9 4-3.2 1.8zM323.7 766.7l3.2-1.8 7.3 3.6-3.3 1.6zM330.9 770.1l3.3-1.6 7.6 5.1-3.3 .8zM338.5 774.4l3.3-.8 8 2.5-3.3 1.9zM346.5 778l3.3-1.9 8.3 5.6-3.3 2.3zM354.8 784l3.3-2.3 8.8 5.1-3.3 1.6zM363.6 788.4l3.3-1.6 9.2 5.4-3.4 3.3zM372.7 795.5l3.4-3.3 9.7 5-3.3 2.4zM382.5 799.6l3.3-2.4 10.4 4.7-3.2 1.3zM393 803.2l3.2-1.3 10.8 6.9-3.3 2.3zM283.4 747.3l3.1-1.9 5.5 3.1-2.9 3.5zM289.1 752l2.9-3.5 5.8 2-3.1 2.1zM294.7 752.6l3.1-2.1 6.1 5.2-3.2 1.3zM300.7 757l3.2-1.3 6.3 3.9-3.2-.6z"/><path color="#002" d="M307 759l3.2 .6 6.6 2.4z"/><path color="#003" d="M307 759l9.8 3-3.2 2.3zM313.6 764.3l3.2-2.3 6.9 4.7-3.2 1.8zM320.5 768.5l3.2-1.8 7.2 3.4-3.3 .4zM327.6 770.5l3.3-.4 7.6 4.3-3.3 2.4zM335.2 776.8l3.3-2.4 8 3.6-3.4 2.2zM343.1 780.2l3.4-2.2 8.3 6-3.3-.1z"/><path color="#002" d="M351.5 783.9l3.3 .1 8.8 4.4-3.4 1.5z"/><path color="#003" d="M360.2 789.9l3.4-1.5 9.1 7.1-3.3-.3z"/><path color="#002" d="M369.4 795.2l3.3 .3 9.8 4.1-3.3 1z"/><path color="#003" d="M379.2 800.6l3.3-1 10.5 3.6-3.5 2.5zM389.5 805.7l3.5-2.5 10.7 7.9-3.4 2.2zM280.3 748.1l3.1-.8 5.7 4.7-3.3-.8z"/><path color="#002" d="M285.8 751.2l3.3 .8 5.6 .6z"/><path color="#003" d="M285.8 751.2l8.9 1.4-3.2 2.6zM291.5 755.2l3.2-2.6 6 4.4-3.2 1.8zM297.5 758.8l3.2-1.8 6.3 2-3.2 2.6zM303.8 761.6l3.2-2.6 6.6 5.3-3.3 1.5zM310.3 765.8l3.3-1.5 6.9 4.2-3.3 1.2zM317.2 769.7l3.3-1.2 7.1 2-3.3 2zM324.3 772.5l3.3-2 7.6 6.3-3.4 .6zM331.8 777.4l3.4-.6 7.9 3.4-3.3-.6z"/><path color="#002" d="M339.8 779.6l3.3 .6 8.4 3.7-3.4 2z"/><path color="#003" d="M348.1 785.9l3.4-2 8.7 6-3.4 2.3zM356.8 792.2l3.4-2.3 9.2 5.3-3.3 1.1zM366.1 796.3l3.3-1.1 9.8 5.4-3.4 1.6zM375.8 802.2l3.4-1.6 10.3 5.1-3.5 3.3zM386 809l3.5-3.3 10.8 7.6z"/><path color="#002" d="M386 809l14.3 4.3-3.3 .4z"/><path color="#003" d="M277.1 749.3l3.2-1.2 5.5 3.1-3.2 2zM282.6 753.2l3.2-2 5.7 4-3.2 .6zM288.3 755.8l3.2-.6 6 3.6-3.3-.6z"/><path color="#002" d="M294.2 758.2l3.3 .6 6.3 2.8-3.4 1.2z"/><path color="#003" d="M300.4 762.8l3.4-1.2 6.5 4.2-3.4-.2z"/><path color="#002" d="M306.9 765.6l3.4 .2 6.9 3.9-3.5-.6zM313.7 769.1l3.5 .6 7.1 2.8-3.4 1.9z"/><path color="#003" d="M320.9 774.4l3.4-1.9 7.5 4.9-3.4 2.3zM328.4 779.7l3.4-2.3 8 2.2-3.5 4.8zM336.3 784.4l3.5-4.8 8.3 6.3-3.5 2.4zM344.6 788.3l3.5-2.4 8.7 6.3-3.4 .4z"/><path color="#002" d="M353.4 792.6l3.4-.4 9.3 4.1-3.6 2.2z"/><path color="#003" d="M362.5 798.5l3.6-2.2 9.7 5.9-3.5 1.7zM372.3 803.9l3.5-1.7 10.2 6.8-3.5 1.8zM382.5 810.8l3.5-1.8 11 4.7-3.5 2.8zM273.8 750.2l3.3-.9 5.5 3.9-3.4-.2z"/><path color="#002" d="M279.2 753l3.4 .2 5.7 2.6-3.3 1.8z"/><path color="#003" d="M285 757.6l3.3-1.8 5.9 2.4-3.3 2.2zM290.9 760.4l3.3-2.2 6.2 4.6z"/><path color="#002" d="M290.9 760.4l9.5 2.4-3.4-.4zM297 762.4l3.4 .4 6.5 2.8z"/><path color="#003" d="M297 762.4l9.9 3.2-3.3 2.6zM303.6 768.2l3.3-2.6 6.8 3.5-3.4 1.1zM310.3 770.2l3.4-1.1 7.2 5.3-3.4 1.5zM317.5 775.9l3.4-1.5 7.5 5.3-3.5-.2z"/><path color="#002" d="M324.9 779.5l3.5 .2 7.9 4.7-3.5 .5zM332.8 784.9l3.5-.5 8.3 3.9z"/><path color="#003" d="M332.8 784.9l11.8 3.4-3.5 3.4zM341.1 791.7l3.5-3.4 8.8 4.3-3.6 2.9zM349.8 795.5l3.6-2.9 9.1 5.9-3.5 1.9zM359 800.4l3.5-1.9 9.8 5.4-3.7 3.4zM368.6 807.3l3.7-3.4 10.2 6.9-3.6 2.8zM378.9 813.6l3.6-2.8 11 5.7-3.6 2.1zM270.5 750.4l3.3-.2 5.4 2.8-3.4 .3zM275.8 753.3l3.4-.3 5.8 4.6-3.4-.1z"/><path color="#002" d="M281.6 757.5l3.4 .1 5.9 2.8-3.4 1.1z"/><path color="#003" d="M287.5 761.5l3.4-1.1 6.1 2-3.4 2zM293.6 764.4l3.4-2 6.6 5.8z"/><path color="#002" d="M293.6 764.4l10 3.8-3.6-.8zM300 767.4l3.6 .8 6.7 2z"/><path color="#003" d="M300 767.4l10.3 2.8-3.4 2.9zM306.9 773.1l3.4-2.9 7.2 5.7-3.5 1.4zM314 777.3l3.5-1.4 7.4 3.6-3.5 2.4zM321.4 781.9l3.5-2.4 7.9 5.4-3.5 .7zM329.3 785.6l3.5-.7 8.3 6.8-3.6 1.3z"/><path color="#002" d="M337.5 793l3.6-1.3 8.7 3.8-3.6 1z"/><path color="#003" d="M346.2 796.5l3.6-1 9.2 4.9-3.6 1zM355.4 801.4l3.6-1 9.6 6.9-3.6 1.7zM365 809l3.6-1.7 10.3 6.3-3.5-.4z"/><path color="#002" d="M375.4 813.2l3.5 .4 11 5-3.6 2z"/><path color="#003" d="M267.1 751.5l3.4-1.1 5.3 2.9-3.2 2.8zM272.6 756.1l3.2-2.8 5.8 4.2z"/><path color="#002" d="M272.6 756.1l9 1.4-3.5 0z"/><path color="#003" d="M278.1 757.5l3.5 0 5.9 4-3.5 1zM284 762.5l3.5-1 6.1 2.9-3.4 1.8zM290.2 766.2l3.4-1.8 6.4 3-3.4 3.5zM296.6 770.9l3.4-3.5 6.9 5.7-3.5 1.8zM303.4 774.9l3.5-1.8 7.1 4.2-3.6 1zM310.4 778.3l3.6-1 7.4 4.6-3.6 .6zM317.8 782.5l3.6-.6 7.9 3.7-3.7 1.9zM325.6 787.5l3.7-1.9 8.2 7.4z"/><path color="#002" d="M325.6 787.5l11.9 5.5-3.6-.8zM333.9 792.2l3.6 .8 8.7 3.5-3.6 1.5z"/><path color="#003" d="M342.6 798l3.6-1.5 9.2 4.9-3.7 2.9zM351.7 804.3l3.7-2.9 9.6 7.6-3.6 .5z"/><path color="#002" d="M361.4 809.5l3.6-.5 10.4 4.2-3.7 2.9z"/><path color="#003" d="M371.7 816.1l3.7-2.9 10.9 7.4-3.8 2.9zM263.8 753.1l3.3-1.6 5.5 4.6-3.4 .7zM269.2 756.8l3.4-.7 5.5 1.4-3.5 1.2zM274.6 758.7l3.5-1.2 5.9 5-3.5 1zM280.5 763.5l3.5-1 6.2 3.7-3.5 2zM286.7 768.2l3.5-2 6.4 4.7-3.5 1.2zM293.1 772.1l3.5-1.2 6.8 4-3.6 .9zM299.8 775.8l3.6-.9 7 3.4-3.7 .1zM306.7 778.4l3.7-.1 7.4 4.2-3.6 2.5zM314.2 785l3.6-2.5 7.8 5-3.6 2.2zM322 789.7l3.6-2.2 8.3 4.7-3.7 2.3zM330.2 794.5l3.7-2.3 8.7 5.8-3.8 2.5zM338.8 800.5l3.8-2.5 9.1 6.3-3.7-.1zM348 804.2l3.7 .1 9.7 5.2zM348 804.2l13.4 5.3-3.8 3.3zM357.6 812.8l3.8-3.3 10.3 6.6-3.8 2zM367.9 818.1l3.8-2 10.8 7.4-3.7 2z"/><path color="#002" d="M260.3 753.2l3.5-.1 5.4 3.7-3.4 2.1z"/><path color="#003" d="M265.8 758.9l3.4-2.1 5.4 1.9-3.4 2.3zM271.2 761l3.4-2.3 5.9 4.8-3.5 1.5zM277 765l3.5-1.5 6.2 4.7-3.5 1.4zM283.2 769.6l3.5-1.4 6.4 3.9-3.7 .4z"/><path color="#002" d="M289.4 772.5l3.7-.4 6.7 3.7-3.7 1.7z"/><path color="#003" d="M296.1 777.5l3.7-1.7 6.9 2.6zM296.1 777.5l10.6 .9-3.5 4.7zM303.2 783.1l3.5-4.7 7.5 6.6zM303.2 783.1l11 1.9-3.7 1.7zM310.5 786.7l3.7-1.7 7.8 4.7-3.8 1.9zM318.2 791.6l3.8-1.9 8.2 4.8-3.8 2.1zM326.4 796.6l3.8-2.1 8.6 6-3.8 2.8zM335 803.3l3.8-2.8 9.2 3.7-3.8 3.4zM344.2 807.6l3.8-3.4 9.6 8.6-3.8 .9z"/><path color="#002" d="M353.8 813.7l3.8-.9 10.3 5.3-3.9 3.9z"/><path color="#003" d="M364 822l3.9-3.9 10.9 7.4-3.9 3.1zM256.9 755.2l3.4-2 5.5 5.7z"/><path color="#002" d="M256.9 755.2l8.9 3.7-3.7-1zM262.1 757.9l3.7 1 5.4 2.1-3.5 1.4z"/><path color="#003" d="M267.7 762.4l3.5-1.4 5.8 4-3.5 1.7zM273.5 766.7l3.5-1.7 6.2 4.6-3.8 .2z"/><path color="#002" d="M279.4 769.8l3.8-.2 6.2 2.9-3.6 2.2z"/><path color="#003" d="M285.8 774.7l3.6-2.2 6.7 5-3.7 1.3zM292.4 778.8l3.7-1.3 7.1 5.6-3.8 .1z"/><path color="#002" d="M299.4 783.2l3.8-.1 7.3 3.6-3.8 1.5z"/><path color="#003" d="M306.7 788.2l3.8-1.5 7.7 4.9-3.8 1.7zM314.4 793.3l3.8-1.7 8.2 5-3.8 2.6zM322.6 799.2l3.8-2.6 8.6 6.7-3.8 1z"/><path color="#002" d="M331.2 804.3l3.8-1 9.2 4.3z"/><path color="#003" d="M331.2 804.3l13 3.3-4 4.4zM340.2 812l4-4.4 9.6 6.1-3.9 2.9zM349.9 816.6l3.9-2.9 10.2 8.3-4 2.3zM360 824.3l4-2.3 10.9 6.6-3.9 .7zM253.4 756.8l3.5-1.6 5.2 2.7-3.4 2.7zM258.7 760.6l3.4-2.7 5.6 4.5-3.6 1.7zM264.1 764.1l3.6-1.7 5.8 4.3-3.6 1.6zM269.9 768.3l3.6-1.6 5.9 3.1-3.6 1.5zM275.8 771.3l3.6-1.5 6.4 4.9-3.8 .2z"/><path color="#002" d="M282 774.9l3.8-.2 6.6 4.1-3.7 1.2z"/><path color="#003" d="M288.7 780l3.7-1.2 7 4.4-3.8 1.1zM295.6 784.3l3.8-1.1 7.3 5-3.9 .2zM302.8 788.4l3.9-.2 7.7 5.1-3.8 1.3zM310.6 794.6l3.8-1.3 8.2 5.9-3.9 .9z"/><path color="#002" d="M318.7 800.1l3.9-.9 8.6 5.1-4 2z"/><path color="#003" d="M327.2 806.3l4-2 9 7.7-3.9 1.6z"/><path color="#002" d="M336.3 813.6l3.9-1.6 9.7 4.6-4 1.4z"/><path color="#003" d="M345.9 818l4-1.4 10.1 7.7-4 2.8zM356 827.1l4-2.8 11 5-4 2.9zM249.8 757.6l3.6-.8 5.3 3.8-3.8-.1z"/><path color="#002" d="M254.9 760.5l3.8 .1 5.4 3.5-3.6 1.1z"/><path color="#003" d="M260.5 765.2l3.6-1.1 5.8 4.2-4-1.2z"/><path color="#002" d="M265.9 767.1l4 1.2 5.9 3-3.8 .7z"/><path color="#003" d="M272 772l3.8-.7 6.2 3.6-3.9 .5zM278.1 775.4l3.9-.5 6.7 5.1-3.9 1.6zM284.8 781.6l3.9-1.6 6.9 4.3-3.8 2.3zM291.8 786.6l3.8-2.3 7.2 4.1-3.8 2.8zM299 791.2l3.8-2.8 7.8 6.2-4 1.4zM306.6 796l4-1.4 8.1 5.5-4 2.5zM314.7 802.6l4-2.5 8.5 6.2-4 1.4zM323.2 807.7l4-1.4 9.1 7.3-4 .7z"/><path color="#002" d="M332.3 814.3l4-.7 9.6 4.4-4 1.4z"/><path color="#003" d="M341.9 819.4l4-1.4 10.1 9.1-4 1.3z"/><path color="#002" d="M352 828.4l4-1.3 11 5.1-4.1 2.1z"/><path color="#003" d="M246.1 758l3.7-.4 5.1 2.9-3.5 2zM251.4 762.5l3.5-2 5.6 4.7-3.8 1zM256.7 766.2l3.8-1 5.4 1.9-3.6 2.3zM262.3 769.4l3.6-2.3 6.1 4.9-3.8 1.7zM268.2 773.7l3.8-1.7 6.1 3.4-3.8 1.8zM274.3 777.2l3.8-1.8 6.7 6.2-3.7 3.2zM281.1 784.8l3.7-3.2 7 5-4 .7zM287.8 787.3l4-.7 7.2 4.6-4 2.2zM295 793.4l4-2.2 7.6 4.8-4 2.3zM302.6 798.3l4-2.3 8.1 6.6-4.1 .7zM310.6 803.3l4.1-.7 8.5 5.1-4.1 1.4zM319.1 809.1l4.1-1.4 9.1 6.6-4.2 1.1zM328.1 815.4l4.2-1.1 9.6 5.1-4.2 3.5zM337.7 822.9l4.2-3.5 10.1 9z"/><path color="#002" d="M337.7 822.9l14.3 5.5-4.1 .3zM347.9 828.7l4.1-.3 10.9 5.9z"/><path color="#003" d="M347.9 828.7l15 5.6-4.3 3.8zM242.6 760.2l3.5-2.2 5.3 4.5-3.7 1.8zM247.7 764.3l3.7-1.8 5.3 3.7-3.6 2.1zM253.1 768.3l3.6-2.1 5.6 3.2-3.8 1.6zM258.5 771l3.8-1.6 5.9 4.3-3.9 1.2zM264.3 774.9l3.9-1.2 6.1 3.5-3.8 2.8zM270.5 780l3.8-2.8 6.8 7.6z"/><path color="#002" d="M270.5 780l10.6 4.8-4.1-.4zM277 784.4l4.1 .4 6.7 2.5-4 2.2z"/><path color="#003" d="M283.8 789.5l4-2.2 7.2 6.1-4 1.2zM291 794.6l4-1.2 7.6 4.9-4 3.2zM298.6 801.5l4-3.2 8 5-4.1 3zM306.5 806.3l4.1-3 8.5 5.8-4.1 2.8zM315 811.9l4.1-2.8 9 6.3-4.1 3.8zM324 819.2l4.1-3.8 9.6 7.5-4.2 2.9zM333.5 825.8l4.2-2.9 10.2 5.8-4.3 4.7zM343.6 833.4l4.3-4.7 10.7 9.4-4.2 2.6z"/><path color="#002" d="M238.6 759.7l4 .5 5.1 4.1-3.9-.1zM243.8 764.2l3.9 .1 5.4 4-4.1-.7zM249 767.6l4.1 .7 5.4 2.7z"/><path color="#003" d="M249 767.6l9.5 3.4-3.7 2.5zM254.8 773.5l3.7-2.5 5.8 3.9-3.8 2.2zM260.5 777.1l3.8-2.2 6.2 5.1-3.8 2.1zM266.7 782.1l3.8-2.1 6.5 4.4-4.1 .6zM272.9 785l4.1-.6 6.8 5.1-4.1 1.2zM279.7 790.7l4.1-1.2 7.2 5.1-4.1 2.1zM286.9 796.7l4.1-2.1 7.6 6.9-4.2 .9z"/><path color="#002" d="M294.4 802.4l4.2-.9 7.9 4.8-4.2 1.2z"/><path color="#003" d="M302.3 807.5l4.2-1.2 8.5 5.6-4.2 2.8zM310.8 814.7l4.2-2.8 9 7.3-4.3 2.3zM319.7 821.5l4.3-2.3 9.5 6.6-4.4 1.4zM329.1 827.2l4.4-1.4 10.1 7.6-4.3-.6z"/><path color="#002" d="M339.3 832.8l4.3 .6 10.8 7.3-4.4 2.6z"/><path color="#003" d="M235.2 763.6l3.4-3.9 5.2 4.5-3.8 2zM240 766.2l3.8-2 5.2 3.4-3.7 2.8zM245.3 770.4l3.7-2.8 5.8 5.9z"/><path color="#002" d="M245.3 770.4l9.5 3.1-4.1 .2zM250.7 773.7l4.1-.2 5.7 3.6z"/><path color="#003" d="M250.7 773.7l9.8 3.4-3.8 3.1zM256.7 780.2l3.8-3.1 6.2 5z"/><path color="#002" d="M256.7 780.2l10 1.9-4.3 0zM262.4 782.1l4.3 0 6.2 2.9-4.1 2z"/><path color="#003" d="M268.8 787l4.1-2 6.8 5.7-4 3.3zM275.7 794l4-3.3 7.2 6-4.1 2.4zM282.8 799.1l4.1-2.4 7.5 5.7-4.2 2.2zM290.2 804.6l4.2-2.2 7.9 5.1-4.2 2.3zM298.1 809.8l4.2-2.3 8.5 7.2-4.4 .9zM306.4 815.6l4.4-.9 8.9 6.8-4.5-.4z"/><path color="#002" d="M315.2 821.1l4.5 .4 9.4 5.7z"/><path color="#003" d="M315.2 821.1l13.9 6.1-4.4 3zM324.7 830.2l4.4-3 10.2 5.6-4.5 4.2zM334.8 837l4.5-4.2 10.7 10.5-4.5 2.3z"/><path color="#002" d="M231.2 763.4l4 .2 4.8 2.6-4 .1z"/><path color="#003" d="M236 766.3l4-.1 5.3 4.2-4.1 .3z"/><path color="#002" d="M241.2 770.7l4.1-.3 5.4 3.3-4 1.6z"/><path color="#003" d="M246.7 775.3l4-1.6 6 6.5-4.2 0z"/><path color="#002" d="M252.5 780.2l4.2 0 5.7 1.9-4 2.2z"/><path color="#003" d="M258.4 784.3l4-2.2 6.4 4.9-4 2.7zM264.8 789.7l4-2.7 6.9 7z"/><path color="#002" d="M264.8 789.7l10.9 4.3-4.3 0zM271.4 794l4.3 0 7.1 5.1-4.3 1.6z"/><path color="#003" d="M278.5 800.7l4.3-1.6 7.4 5.5-4.4 1.1zM285.8 805.7l4.4-1.1 7.9 5.2-4.4 2.2zM293.7 812l4.4-2.2 8.3 5.8-4.4 2.3zM302 817.9l4.4-2.3 8.8 5.5-4.4 3.9zM310.8 825l4.4-3.9 9.5 9.1z"/><path color="#002" d="M310.8 825l13.9 5.2-4.5-.1zM320.2 830.1l4.5 .1 10.1 6.8-4.6 1.9z"/><path color="#003" d="M330.2 838.9l4.6-1.9 10.7 8.6-4.5 1.5zM227.1 763.4l4.1 0 4.8 2.9-3.9 1.7zM232.1 768l3.9-1.7 5.2 4.4-4 1.3zM237.2 772l4-1.3 5.5 4.6-4.1 .7zM242.6 776l4.1-.7 5.8 4.9-4.2 .9zM248.3 781.1l4.2-.9 5.9 4.1-4 2.3zM254.4 786.6l4-2.3 6.4 5.4-4.2 2.1zM260.6 791.8l4.2-2.1 6.6 4.3-4.2 3zM267.2 797l4.2-3 7.1 6.7z"/><path color="#002" d="M267.2 797l11.3 3.7-4.5 .1zM274 800.8l4.5-.1 7.3 5z"/><path color="#003" d="M274 800.8l11.8 4.9-4.2 3.3zM281.6 809l4.2-3.3 7.9 6.3-4.4 2.5zM289.3 814.5l4.4-2.5 8.3 5.9-4.5 2.9zM297.5 820.8l4.5-2.9 8.8 7.1-4.5 2.3zM306.3 827.3l4.5-2.3 9.4 5.1-4.6 4.3zM315.6 834.4l4.6-4.3 10 8.8-4.6 5.2zM325.6 844.1l4.6-5.2 10.8 8.2-4.7 5.9zM223.6 767.4l3.5-4 5 4.6-3.8 2.5zM228.3 770.5l3.8-2.5 5.1 4-4.1 1.5zM233.1 773.5l4.1-1.5 5.4 4-4.2 1.5zM238.4 777.5l4.2-1.5 5.7 5.1-3.9 3.5zM244.4 784.6l3.9-3.5 6.1 5.5-4.3 1.5zM250.1 788.1l4.3-1.5 6.2 5.2-4.4 .7z"/><path color="#002" d="M256.2 792.5l4.4-.7 6.6 5.2-4.3 1.7z"/><path color="#003" d="M262.9 798.7l4.3-1.7 6.8 3.8-4.4 1.6zM269.6 802.4l4.4-1.6 7.6 8.2-4.5 1.8zM277.1 810.8l4.5-1.8 7.7 5.5-4.6 1.3zM284.7 815.8l4.6-1.3 8.2 6.3-4.5 2.9zM293 823.7l4.5-2.9 8.8 6.5-4.7 1.3zM301.6 828.6l4.7-1.3 9.3 7.1-4.6 3.1zM311 837.5l4.6-3.1 10 9.7-4.7 1.9z"/><path color="#002" d="M320.9 846l4.7-1.9 10.7 8.9-4.8 2.9zM219.3 767l4.3 .4 4.7 3.1-4.4-.2zM223.9 770.3l4.4 .2 4.8 3-4 2z"/><path color="#003" d="M229.1 775.5l4-2 5.3 4-3.9 3zM234.5 780.5l3.9-3 6 7.1z"/><path color="#002" d="M234.5 780.5l9.9 4.1-4.6-.6zM239.8 784l4.6 .6 5.7 3.5-4.4 .8z"/><path color="#003" d="M245.7 788.9l4.4-.8 6.1 4.4-4.3 2.2zM251.9 794.7l4.3-2.2 6.7 6.2-4.5 1.9zM258.4 800.6l4.5-1.9 6.7 3.7-4.4 3.1zM265.2 805.5l4.4-3.1 7.5 8.4-4.4 3.1zM272.7 813.9l4.4-3.1 7.6 5-4.6 1.8zM280.1 817.6l4.6-1.8 8.3 7.9-4.8 .9z"/><path color="#002" d="M288.2 824.6l4.8-.9 8.6 4.9z"/><path color="#003" d="M288.2 824.6l13.4 4-4.6 5.2zM297 833.8l4.6-5.2 9.4 8.9-4.8 2.5zM306.2 840l4.8-2.5 9.9 8.5-4.8 3.3zM316.1 849.3l4.8-3.3 10.6 9.9-4.9 .6zM215.1 767.8l4.2-.8 4.6 3.3-4 1.8zM219.9 772.1l4-1.8 5.2 5.2-4.2 1.2zM224.9 776.7l4.2-1.2 5.4 5-4.5 .3z"/><path color="#002" d="M230 780.8l4.5-.3 5.3 3.5z"/><path color="#003" d="M230 780.8l9.8 3.2-3.8 4.3zM236 788.3l3.8-4.3 5.9 4.9z"/><path color="#002" d="M236 788.3l9.7 .6-4.5 1.3z"/><path color="#003" d="M241.2 790.2l4.5-1.3 6.2 5.8-4.3 2.4zM247.6 797.1l4.3-2.4 6.5 5.9-4.4 2.6zM254 803.2l4.4-2.6 6.8 4.9-4.6 1.9zM260.6 807.4l4.6-1.9 7.5 8.4-5-.7z"/><path color="#002" d="M267.7 813.2l5 .7 7.4 3.7z"/><path color="#003" d="M267.7 813.2l12.4 4.4-4.6 3.2zM275.5 820.8l4.6-3.2 8.1 7-4.6 3.8zM283.6 828.4l4.6-3.8 8.8 9.2-4.9 1z"/><path color="#002" d="M292.1 834.8l4.9-1 9.2 6.2-4.9 2.8z"/><path color="#003" d="M301.3 842.8l4.9-2.8 9.9 9.3-5.1 .5z"/><path color="#002" d="M311 849.8l5.1-.5 10.5 7.2-5 3z"/><path style="fill:url(#gnh);stroke:url(#gnh)" d="M212.8 778.6l2.3-10.8 4.8 4.3z"/><path style="fill:url(#gni);stroke:url(#gni)" d="M212.8 778.6l7.1-6.5-2.5 10.8z"/><path style="fill:url(#gnj);stroke:url(#gnj)" d="M217.4 782.9l2.5-10.8 5 4.6z"/><path style="fill:url(#gnk);stroke:url(#gnk)" d="M217.4 782.9l7.5-6.2-2.6 10.7z"/><path style="fill:url(#gnl);stroke:url(#gnl)" d="M222.3 787.4l2.6-10.7 5.1 4.1z"/><path style="fill:url(#gnm);stroke:url(#gnm)" d="M222.3 787.4l7.7-6.6-2.6 11.4z"/><path style="fill:url(#gnn);stroke:url(#gnn)" d="M227.4 792.2l2.6-11.4 6 7.5z"/><path style="fill:url(#gno);stroke:url(#gno)" d="M227.4 792.2l8.6-3.9-3.2 8.8z"/><path style="fill:url(#gnp);stroke:url(#gnp)" d="M232.8 797.1l3.2-8.8 5.2 1.9z"/><path style="fill:url(#gnq);stroke:url(#gnq)" d="M232.8 797.1l8.4-6.9-2.8 12.2z"/><path style="fill:url(#gnr);stroke:url(#gnr)" d="M238.4 802.4l2.8-12.2 6.4 6.9z"/><path style="fill:url(#gns);stroke:url(#gns)" d="M238.4 802.4l9.2-5.3-3.2 10.8z"/><path color="#001" d="M244.4 807.9l3.2-10.8 6.4 6.1-3.3 10.5z"/><path style="fill:url(#gnt);stroke:url(#gnt)" d="M250.7 813.7l3.3-10.5 6.6 4.2z"/><path style="fill:url(#gnu);stroke:url(#gnu)" d="M250.7 813.7l9.9-6.3-3.3 12.4z"/><path style="fill:url(#gnv);stroke:url(#gnv)" d="M257.3 819.8l3.3-12.4 7.1 5.8z"/><path style="fill:url(#gnw);stroke:url(#gnw)" d="M257.3 819.8l10.4-6.6-3.4 13.1z"/><path style="fill:url(#gnx);stroke:url(#gnx)" d="M264.3 826.3l3.4-13.1 7.8 7.6z"/><path style="fill:url(#gny);stroke:url(#gny)" d="M264.3 826.3l11.2-5.5-3.8 12.4z"/><path style="fill:url(#gnz);stroke:url(#gnz)" d="M271.7 833.2l3.8-12.4 8.1 7.6z"/><path style="fill:url(#go0);stroke:url(#go0)" d="M271.7 833.2l11.9-4.8-4 12.1z"/><path style="fill:url(#go1);stroke:url(#go1)" d="M279.6 840.5l4-12.1 8.5 6.4z"/><path style="fill:url(#go2);stroke:url(#go2)" d="M279.6 840.5l12.5-5.7-4 13.5z"/><path style="fill:url(#go3);stroke:url(#go3)" d="M288.1 848.3l4-13.5 9.2 8z"/><path style="fill:url(#go4);stroke:url(#go4)" d="M288.1 848.3l13.2-5.5-4.3 13.8z"/><path style="fill:url(#go5);stroke:url(#go5)" d="M297 856.6l4.3-13.8 9.7 7z"/><path style="fill:url(#go6);stroke:url(#go6)" d="M297 856.6l14-6.8-4.4 15.6z"/><path style="fill:url(#go7);stroke:url(#go7)" d="M306.6 865.4l4.4-15.6 10.6 9.7z"/><path style="fill:url(#go8);stroke:url(#go8)" d="M306.6 865.4l15-5.9-4.8 15.4z"/><path color="#000" d="M208.7 780l4.1-1.4 4.6 4.3-4.2 1.5zM213.2 784.4l4.2-1.5 4.9 4.5-4.3 1.5zM218 788.9l4.3-1.5 5.1 4.8-4.3 1.5zM223.1 793.7l4.3-1.5 5.4 4.9-4.4 1.7zM228.4 798.8l4.4-1.7 5.6 5.3-4.4 1.7zM234 804.1l4.4-1.7 6 5.5-4.5 1.8zM239.9 809.7l4.5-1.8 6.3 5.8-4.6 1.9zM246.1 815.6l4.6-1.9 6.6 6.1-4.7 2.1zM252.6 821.9l4.7-2.1 7 6.5-4.7 2.2zM259.6 828.5l4.7-2.2 7.4 6.9-4.7 2.3zM267 835.5l4.7-2.3 7.9 7.3-4.8 2.5zM274.8 843l4.8-2.5 8.5 7.8-5 2.6zM283.1 850.9l5-2.6 8.9 8.3-5 2.8zM292 859.4l5-2.8 9.6 8.8-5.1 3.1zM301.5 868.5l5.1-3.1 10.2 9.5-5.1 3.3z"/></g></g>
<g><path d="M210 1084.3L179.5 931.9M210 1084.3L389.2 1024.1M389.2 1024.1L397.5 919.9M389.2 1024.1L503.3 1062.1M258.5 1068L241.9 928.5M204.9 1058.8L390.7 1005.6M407.5 1030.2L419.3 921.1M390.7 1005.6L509.3 1039M299.1 1054.4L292.2 925.7M199.4 1031.1L392.2 985.9M427.7 1037L443.7 922.3M392.2 985.9L515.8 1014.2M333.7 1042.8L333.5 923.4M193.3 1001L393.9 965.2M450.1 1044.4L471.2 923.7M393.9 965.2L522.8 987.4M363.4 1032.8L368.1 921.5M186.8 968.1L395.7 943.2M475.2 1052.8L502.6 925.4M395.7 943.2L530.4 958.5M389.2 1024.1L397.5 919.9M179.5 931.9L397.5 919.9M503.3 1062.1L538.6 927.2M397.5 919.9L538.6 927.2M210 1084.3L313.1 1182.8M313.1 1182.8L503.3 1062.1" class="gr"/>
<path fill="#000" d="M210 1084.3l179.2-60.2 114.1 38-190.2 120.7z"/>
<g class="s"><defs><linearGradient id="go9" x1=".45" y1=".06" x2=".09" y2=".92"><stop stop-color="#004"/><stop offset="1" stop-color="#003"/></linearGradient><linearGradient id="goa" x1=".68" y1="-.02" x2=".43" y2=".93"><stop stop-color="#006"/><stop offset="1" stop-color="#004"/></linearGradient><linearGradient id="gob" x1=".46" y1="-.19" x2=".09" y2=".94"><stop stop-color="#004"/><stop offset="1" stop-color="#002"/></linearGradient><linearGradient id="goc" x1=".66" y1="-.01" x2=".43" y2="1.09"><stop stop-color="#006"/><stop offset="1" stop-color="#004"/></linearGradient><linearGradient id="god" x1=".47" y1="0" x2=".22" y2=".98"><stop stop-color="#006"/><stop offset="1" stop-color="#004"/></linearGradient><linearGradient id="goe" x1=".72" y1="0" x2=".56" y2="1.01"><stop stop-color="#028"/><stop offset="1" stop-color="#006"/></linearGradient><linearGradient id="gof" x1=".73" y1=".37" x2=".53" y2=".76"><stop stop-color="#016"/><stop offset="1" stop-color="#005"/></linearGradient><linearGradient id="gog" x1=".72" y1=".45" x2=".57" y2=".63"><stop stop-color="#007"/><stop offset=".54" stop-color="#016"/><stop offset="1" stop-color="#005"/></linearGradient><linearGradient id="goh" x1=".46" y1=".27" x2=".14" y2=".79"><stop stop-color="#004"/><stop offset="1" stop-color="#003"/></linearGradient><linearGradient id="goi" x1=".66" y1=".07" x2=".55" y2=".99"><stop stop-color="#006"/><stop offset="1" stop-color="#003"/></linearGradient><linearGradient id="goj" x1=".46" y1="0" x2=".45" y2=".99"><stop stop-color="#005"/><stop offset="1" stop-color="#001"/></linearGradient><linearGradient id="gok" x1=".69" y1="1.01" x2=".49" y2="-.09"><stop stop-color="#000"/><stop offset="1" stop-color="#003"/></linearGradient><linearGradient id="gol" x1=".51" y1=".95" x2=".31" y2=".18"><stop stop-color="#001"/><stop offset="1" stop-color="#003"/></linearGradient><linearGradient id="gom" x1=".63" y1="-.01" x2=".58" y2="1.03"><stop stop-color="#005"/><stop offset="1" stop-color="#001"/></linearGradient><linearGradient id="gon" x1=".48" y1="-.09" x2=".29" y2="1"><stop stop-color="#006"/><stop offset="1" stop-color="#004"/></linearGradient><linearGradient id="goo" x1=".79" y1=".01" x2=".56" y2="1.12"><stop stop-color="#018"/><stop offset="1" stop-color="#006"/></linearGradient><linearGradient id="gop" x1=".47" y1="-.04" x2=".34" y2="1.01"><stop stop-color="#027"/><stop offset="1" stop-color="#006"/></linearGradient><linearGradient id="goq" x1=".5" y1="1.02" x2=".58" y2="-.01"><stop stop-color="#018"/><stop offset="1" stop-color="#1a2"/></linearGradient><linearGradient id="gor" x1=".99" y1=".32" x2=".79" y2=".93"><stop stop-color="#191"/><stop offset="1" stop-color="#007"/></linearGradient><linearGradient id="gos" x1=".71" y1=".03" x2=".68" y2=".99"><stop stop-color="#181"/><stop offset="1" stop-color="#007"/></linearGradient><linearGradient id="got" x1=".46" y1=".25" x2=".09" y2=".94"><stop stop-color="#005"/><stop offset="1" stop-color="#003"/></linearGradient><linearGradient id="gou" x1=".65" y1=".08" x2=".54" y2=".99"><stop stop-color="#007"/><stop offset="1" stop-color="#004"/></linearGradient><linearGradient id="gov" x1=".6" y1=".04" x2=".47" y2=".92"><stop stop-color="#006"/><stop offset="1" stop-color="#003"/></linearGradient><linearGradient id="gow" x1=".66" y1=".13" x2=".49" y2=".96"><stop stop-color="#004"/><stop offset="1" stop-color="#001"/></linearGradient><linearGradient id="gox" x1=".56" y1=".05" x2=".4" y2=".88"><stop stop-color="#003"/><stop offset="1" stop-color="#000"/></linearGradient><linearGradient id="goy" x1=".61" y1=".06" x2=".52" y2=".98"><stop stop-color="#001"/><stop offset="1" stop-color="#000"/></linearGradient><linearGradient id="goz" x1=".59" y1=".95" x2=".43" y2=".1"><stop stop-color="#001"/><stop offset="1" stop-color="#005"/></linearGradient><linearGradient id="gp0" x1=".61" y1="0" x2=".6" y2="1.01"><stop stop-color="#008"/><stop offset="1" stop-color="#002"/></linearGradient><linearGradient id="gp1" x1=".32" y1=".19" x2=".53" y2=".93"><stop stop-color="#008"/><stop offset=".01" stop-color="#018"/><stop offset="1" stop-color="#005"/></linearGradient><linearGradient id="gp2" x1=".34" y1=".04" x2=".42" y2=".96"><stop stop-color="#092"/><stop offset="1" stop-color="#008"/></linearGradient><linearGradient id="gp3" x1=".5" y1="-.04" x2=".43" y2="1.01"><stop stop-color="#1a2"/><stop offset="1" stop-color="#018"/></linearGradient><linearGradient id="gp4" x1=".43" y1="1.02" x2=".49" y2="-.02"><stop stop-color="#092"/><stop offset="1" stop-color="#ac0"/></linearGradient><linearGradient id="gp5" x1=".61" y1=".55" x2=".37" y2=".82"><stop stop-color="#9b0"/><stop offset=".19" stop-color="#054"/><stop offset="1" stop-color="#191"/></linearGradient><linearGradient id="gp6" x1=".17" y1=".51" x2=".37" y2=".17"><stop stop-color="#054"/><stop offset=".89" stop-color="#9a0"/><stop offset="1" stop-color="#5b0"/></linearGradient><linearGradient id="gp7" x1=".6" y1=".21" x2=".37" y2=".87"><stop stop-color="#007"/><stop offset="1" stop-color="#005"/></linearGradient><linearGradient id="gp8" x1=".65" y1=".02" x2=".61" y2="1"><stop stop-color="#00a"/><stop offset="1" stop-color="#004"/></linearGradient><linearGradient id="gp9" x1=".6" y1=".1" x2=".27" y2="1.09"><stop stop-color="#007"/><stop offset="1" stop-color="#004"/></linearGradient><linearGradient id="gpa" x1=".84" y1="-.07" x2=".43" y2=".89"><stop stop-color="#006"/><stop offset="1" stop-color="#004"/></linearGradient><linearGradient id="gpb" x1=".62" y1=".05" x2=".49" y2=".92"><stop stop-color="#007"/><stop offset="1" stop-color="#004"/></linearGradient><linearGradient id="gpc" x1=".65" y1=".12" x2=".5" y2=".97"><stop stop-color="#004"/><stop offset="1" stop-color="#001"/></linearGradient><linearGradient id="gpd" x1=".59" y1=".06" x2=".42" y2=".88"><stop stop-color="#004"/><stop offset="1" stop-color="#001"/></linearGradient><linearGradient id="gpe" x1=".62" y1=".21" x2=".4" y2=".89"><stop stop-color="#001"/><stop offset="1" stop-color="#000"/></linearGradient><linearGradient id="gpf" x1=".68" y1=".96" x2=".57" y2=".05"><stop stop-color="#001"/><stop offset="1" stop-color="#008"/></linearGradient><linearGradient id="gpg" x1=".93" y1=".48" x2=".53" y2=".18"><stop stop-color="#009"/><stop offset=".87" stop-color="#002"/><stop offset="1" stop-color="#056"/></linearGradient><linearGradient id="gph" x1=".94" y1="-.02" x2=".64" y2="1.09"><stop stop-color="#092"/><stop offset="1" stop-color="#008"/></linearGradient><linearGradient id="gpi" x1="-.38" y1=".72" x2=".34" y2="-.27"><stop stop-color="#056"/><stop offset=".61" stop-color="#0a2"/><stop offset="1" stop-color="#9d0"/></linearGradient><linearGradient id="gpj" x1=".41" y1="0" x2=".42" y2="1"><stop stop-color="#ac0"/><stop offset="1" stop-color="#092"/></linearGradient><linearGradient id="gpk" x1=".61" y1="0" x2=".61" y2="1"><stop stop-color="#d10"/><stop offset=".94" stop-color="#bc0"/><stop offset="1" stop-color="#9d0"/></linearGradient><linearGradient id="gpl" x1=".05" y1=".59" x2=".31" y2=".23"><stop stop-color="#9b0"/><stop offset=".52" stop-color="#5b0"/><stop offset="1" stop-color="#b10"/></linearGradient><linearGradient id="gpm" x1=".93" y1=".54" x2=".49" y2=".88"><stop stop-color="#6f0"/><stop offset=".73" stop-color="#f10"/><stop offset="1" stop-color="#019"/></linearGradient><linearGradient id="gpn" x1="1.13" y1=".05" x2="1.06" y2="1.01"><stop stop-color="#6e0"/><stop offset="1" stop-color="#00a"/></linearGradient><linearGradient id="gpo" x1=".95" y1=".23" x2=".63" y2=".99"><stop stop-color="#00a"/><stop offset=".2" stop-color="#019"/><stop offset="1" stop-color="#006"/></linearGradient><linearGradient id="gpp" x1=".72" y1=".03" x2=".64" y2=".97"><stop stop-color="#00a"/><stop offset="1" stop-color="#004"/></linearGradient><linearGradient id="gpq" x1=".7" y1=".07" x2=".6" y2=".99"><stop stop-color="#006"/><stop offset="1" stop-color="#001"/></linearGradient><linearGradient id="gpr" x1=".6" y1=".14" x2=".16" y2="1.07"><stop stop-color="#004"/><stop offset="1" stop-color="#001"/></linearGradient><linearGradient id="gps" x1=".85" y1="-.08" x2=".37" y2=".82"><stop stop-color="#004"/><stop offset="1" stop-color="#001"/></linearGradient><linearGradient id="gpt" x1=".61" y1=".06" x2=".45" y2=".89"><stop stop-color="#004"/><stop offset="1" stop-color="#001"/></linearGradient><linearGradient id="gpu" x1=".62" y1=".21" x2=".39" y2=".89"><stop stop-color="#001"/><stop offset="1" stop-color="#000"/></linearGradient><linearGradient id="gpv" x1="1.04" y1=".75" x2=".8" y2=".07"><stop stop-color="#002"/><stop offset=".23" stop-color="#003"/><stop offset="1" stop-color="#056"/></linearGradient><linearGradient id="gpw" x1="-.11" y1=".43" x2=".16" y2=".91"><stop stop-color="#5e0"/><stop offset=".96" stop-color="#056"/><stop offset="1" stop-color="#003"/></linearGradient><linearGradient id="gpx" x1="1.24" y1=".67" x2=".99" y2="-.01"><stop stop-color="#056"/><stop offset=".98" stop-color="#9d0"/><stop offset="1" stop-color="#5d0"/></linearGradient><linearGradient id="gpy" x1="1.07" y1=".6" x2=".26" y2=".31"><stop stop-color="#ad0"/><stop offset=".65" stop-color="#d30"/><stop offset="1" stop-color="#5d0"/></linearGradient><linearGradient id="gpz" x1=".55" y1="-.01" x2=".53" y2="1"><stop stop-color="#d10"/><stop offset="1" stop-color="#9d0"/></linearGradient><linearGradient id="gq0" x1=".53" y1="0" x2=".53" y2="1"><stop stop-color="#e10"/><stop offset=".09" stop-color="#e30"/><stop offset="1" stop-color="#3e0"/></linearGradient><linearGradient id="gq1" x1=".8" y1=".56" x2=".09" y2=".88"><stop stop-color="#019"/><stop offset=".15" stop-color="#e10"/><stop offset="1" stop-color="#3e0"/></linearGradient><linearGradient id="gq2" x1="-.09" y1=".5" x2=".96" y2=".69"><stop stop-color="#3f0"/><stop offset=".75" stop-color="#003"/><stop offset="1" stop-color="#019"/></linearGradient><linearGradient id="gq3" x1="1.1" y1=".13" x2=".92" y2="1.16"><stop stop-color="#019"/><stop offset="1" stop-color="#003"/></linearGradient><linearGradient id="gq4" x1=".82" y1="-.05" x2=".57" y2=".97"><stop stop-color="#005"/><stop offset="1" stop-color="#002"/></linearGradient><linearGradient id="gq5" x1=".66" y1=".04" x2=".56" y2=".95"><stop stop-color="#006"/><stop offset="1" stop-color="#001"/></linearGradient><linearGradient id="gq6" x1=".63" y1=".13" x2=".45" y2=".94"><stop stop-color="#002"/><stop offset="1" stop-color="#000"/></linearGradient><linearGradient id="gq7" x1=".49" y1=".54" x2=".42" y2=".47"><stop stop-color="#017"/><stop offset=".34" stop-color="#b20"/><stop offset="1" stop-color="#4b0"/></linearGradient><linearGradient id="gq8" x1=".38" y1=".57" x2=".62" y2=".79"><stop stop-color="#018"/><stop offset=".28" stop-color="#c30"/><stop offset="1" stop-color="#2c0"/></linearGradient><linearGradient id="gq9" x1=".27" y1="1" x2=".29" y2="0"><stop stop-color="#2d0"/><stop offset="1" stop-color="#e30"/></linearGradient><linearGradient id="gqa" x1=".74" y1="-.01" x2=".72" y2="1"><stop stop-color="#3e0"/><stop offset=".05" stop-color="#2d0"/><stop offset="1" stop-color="#005"/></linearGradient><linearGradient id="gqb" x1="2.21" y1=".4" x2="2.02" y2="1.29"><stop stop-color="#3e0"/><stop offset=".93" stop-color="#003"/><stop offset="1" stop-color="#005"/></linearGradient><linearGradient id="gqc" x1=".76" y1=".09" x2=".66" y2="1"><stop stop-color="#005"/><stop offset="1" stop-color="#000"/></linearGradient><linearGradient id="gqd" x1=".65" y1=".14" x2=".28" y2="1.11"><stop stop-color="#003"/><stop offset="1" stop-color="#000"/></linearGradient><linearGradient id="gqe" x1=".79" y1="-.19" x2=".16" y2=".52"><stop stop-color="#002"/><stop offset="1" stop-color="#000"/></linearGradient><linearGradient id="gqf" x1=".48" y1=".57" x2=".43" y2=".52"><stop stop-color="#002"/><stop offset="1" stop-color="#017"/></linearGradient><linearGradient id="gqg" x1="1.59" y1=".1" x2="1.4" y2="1.17"><stop stop-color="#019"/><stop offset="1" stop-color="#002"/></linearGradient><linearGradient id="gqh" x1=".65" y1=".49" x2=".39" y2=".31"><stop stop-color="#2b0"/><stop offset=".72" stop-color="#002"/><stop offset="1" stop-color="#018"/></linearGradient><linearGradient id="gqi" x1="-.99" y1=".41" x2="-.82" y2="1.25"><stop stop-color="#2c0"/><stop offset=".9" stop-color="#003"/><stop offset="1" stop-color="#004"/></linearGradient><linearGradient id="gqj" x1=".91" y1=".02" x2=".89" y2="1"><stop stop-color="#2e0"/><stop offset="1" stop-color="#005"/></linearGradient><linearGradient id="gqk" x1=".71" y1=".05" x2=".6" y2=".99"><stop stop-color="#005"/><stop offset="1" stop-color="#000"/></linearGradient><linearGradient id="gql" x1=".76" y1=".06" x2=".64" y2=".96"><stop stop-color="#005"/><stop offset="1" stop-color="#000"/></linearGradient><linearGradient id="gqm" x1="0" y1=".56" x2="1" y2=".56"><stop stop-color="#000"/><stop offset="1" stop-color="#000"/></linearGradient><linearGradient id="gqn" x1=".62" y1=".04" x2="-.05" y2=".97"><stop stop-color="#003"/><stop offset="1" stop-color="#001"/></linearGradient><linearGradient id="gqo" x1=".86" y1="-.06" x2=".5" y2=".93"><stop stop-color="#003"/><stop offset="1" stop-color="#000"/></linearGradient><linearGradient id="gqp" x1=".86" y1="-.05" x2=".38" y2="1.15"><stop stop-color="#004"/><stop offset="1" stop-color="#000"/></linearGradient><linearGradient id="gqq" x1="1.17" y1=".05" x2=".87" y2="1.05"><stop stop-color="#004"/><stop offset="1" stop-color="#000"/></linearGradient><linearGradient id="gqr" x1=".75" y1=".06" x2=".63" y2=".96"><stop stop-color="#005"/><stop offset="1" stop-color="#000"/></linearGradient><linearGradient id="gqs" x1="0" y1=".56" x2="1" y2=".56"><stop stop-color="#000"/><stop offset="1" stop-color="#000"/></linearGradient></defs><path color="#000" d="M371 1059.4l2.5-.7 7.4 2.9-2.5 .6zM378.4 1062.2l2.5-.6 7.6 3.5-2.5 .8zM361.4 1057.4l2.6-.7 7 2.7-2.5 .6z"/><path color="#001" d="M368.5 1060l2.5-.6 7.4 2.8-2.6 .5zM375.8 1062.7l2.6-.5 7.6 3.7-2.6 .5z"/><path color="#000" d="M383.4 1066.4l2.6-.5 7.9 4.2-2.6 .9zM417.4 1082.7l2.6-1 9.5 4.1-2.5 1zM427 1086.8l2.5-1 9.8 5.4-2.5 1.5zM358.8 1058.1l2.6-.7 7.1 2.6-2.6 .5z"/><path color="#001" d="M365.9 1060.5l2.6-.5 7.3 2.7-2.5 .1zM373.3 1062.8l2.5-.1 7.6 3.7-2.5 .4zM380.9 1066.8l2.5-.4 7.9 4.6-2.6 .8z"/><path color="#000" d="M388.7 1071.8l2.6-.8 8.3 3.8-2.5 .8zM397.1 1075.6l2.5-.8 8.7 4-2.6 .9zM405.7 1079.7l2.6-.9 9.1 3.9-2.5 .8z"/><path color="#001" d="M414.9 1083.5l2.5-.8 9.6 4.1-2.5 .8z"/><path color="#000" d="M424.5 1087.6l2.5-.8 9.8 5.9-2.6 1.4zM349.4 1056.9l2.6-.9 6.8 2.1-2.6 .5z"/><path color="#001" d="M356.2 1058.6l2.6-.5 7.1 2.4-2.6 .2zM363.3 1060.7l2.6-.2 7.4 2.3-2.6-.2zM370.7 1062.6l2.6 .2 7.6 4-2.6-.1zM378.3 1066.7l2.6 .1 7.8 5-2.6 .6zM386.1 1072.4l2.6-.6 8.4 3.8-2.6 .6zM394.5 1076.2l2.6-.6 8.6 4.1-2.5 .8zM403.2 1080.5l2.5-.8 9.2 3.8-2.6 .7zM412.3 1084.2l2.6-.7 9.6 4.1-2.5 .5z"/><path color="#000" d="M422 1088.1l2.5-.5 9.7 6.5-2.6 1.5zM346.8 1057.8l2.6-.9 6.8 1.7-2.7 .3z"/><path color="#001" d="M353.5 1058.9l2.7-.3 7.1 2.1-2.7-.3zM360.6 1060.4l2.7 .3 7.4 1.9zM360.6 1060.4l10.1 2.2-2.6-.9zM368.1 1061.7l2.6 .9 7.6 4.1-2.6-.5zM375.7 1066.2l2.6 .5 7.8 5.7-2.6 .4zM383.5 1072.8l2.6-.4 8.4 3.8-2.7 .4zM391.8 1076.6l2.7-.4 8.7 4.3-2.7 .5zM400.5 1081l2.7-.5 9.1 3.7-2.5 .3zM409.8 1084.5l2.5-.3 9.7 3.9-2.5 .2zM419.5 1088.3l2.5-.2 9.6 7.5-2.6 1.4zM344.1 1058.6l2.7-.8 6.7 1.1-2.7-.1zM350.8 1058.8l2.7 .1 7.1 1.5zM350.8 1058.8l9.8 1.6-2.6-.7z"/><path color="#002" d="M358 1059.7l2.6 .7 7.5 1.3-2.6-1.8zM365.5 1059.9l2.6 1.8 7.6 4.5zM365.5 1059.9l10.2 6.3-2.6-1.3z"/><path color="#001" d="M373.1 1064.9l2.6 1.3 7.8 6.6-2.7 0zM380.8 1072.8l2.7 0 8.3 3.8-2.6 0zM389.2 1076.6l2.6 0 8.7 4.4-2.6 .2zM397.9 1081.2l2.6-.2 9.3 3.5-2.6-.2zM407.2 1084.3l2.6 .2 9.7 3.8-2.5-.5zM417 1087.8l2.5 .5 9.5 8.7-2.7 1.3zM341.3 1059.4l2.8-.8 6.7 .2zM341.3 1059.4l9.5-.6-2.7-.5z"/><path color="#002" d="M348.1 1058.3l2.7 .5 7.2 .9-2.7-1.7zM355.3 1058l2.7 1.7 7.5 .2-2.7-3zM362.8 1056.9l2.7 3 7.6 5-2.6-2.5zM370.5 1062.4l2.6 2.5 7.7 7.9-2.6-.5z"/><path color="#001" d="M378.2 1072.3l2.6 .5 8.4 3.8-2.6-.6zM386.6 1076l2.6 .6 8.7 4.6-2.6-.4zM395.3 1080.8l2.6 .4 9.3 3.1z"/><path color="#002" d="M395.3 1080.8l11.9 3.5-2.5-.9zM404.7 1083.4l2.5 .9 9.8 3.5zM404.7 1083.4l12.3 4.4-2.4-1.3z"/><path color="#001" d="M414.6 1086.5l2.4 1.3 9.3 10.5-2.7 1.3zM338.6 1060.1l2.7-.7 6.8-1.1zM338.6 1060.1l9.5-1.8-2.7-1.3z"/><path color="#002" d="M345.4 1057l2.7 1.3 7.2-.3-2.8-2.8z"/><path color="#003" d="M352.5 1055.2l2.8 2.8 7.5-1.1-2.6-5zM360.2 1051.9l2.6 5 7.7 5.5-2.6-4.1zM367.9 1058.3l2.6 4.1 7.7 9.9zM367.9 1058.3l10.3 14-2.7-1.4z"/><path color="#002" d="M375.5 1070.9l2.7 1.4 8.4 3.7-2.6-1.5zM384 1074.5l2.6 1.5 8.7 4.8zM384 1074.5l11.3 6.3-2.6-1.2zM392.7 1079.6l2.6 1.2 9.4 2.6-2.4-1.9zM402.3 1081.5l2.4 1.9 9.9 3.1-2.3-2.7zM412.3 1083.8l2.3 2.7 9 13.1zM412.3 1083.8l11.3 15.8-2.7 1.1z"/><path color="#000" d="M420.9 1100.7l2.7-1.1 10.4 6.5-2.8 1.7zM329.3 1058.6l2.8-.9 6.5 2.4-2.9 .5z"/><path color="#001" d="M335.7 1060.6l2.9-.5 6.8-3.1z"/><path color="#002" d="M335.7 1060.6l9.7-3.6-2.9-2.3zM342.5 1054.7l2.9 2.3 7.1-1.8-2.7-4.7z"/><path style="fill:url(#go9);stroke:url(#go9)" d="M349.8 1050.5l2.7 4.7 7.7-3.3z"/><path style="fill:url(#goa);stroke:url(#goa)" d="M349.8 1050.5l10.4 1.4-2.6-7.9z"/><path color="#004" d="M357.6 1044l2.6 7.9 7.7 6.4-2.5-6.5z"/><path color="#003" d="M365.4 1051.8l2.5 6.5 7.6 12.6z"/><path color="#004" d="M365.4 1051.8l10.1 19.1-2.6-2.5z"/><path color="#002" d="M372.9 1068.4l2.6 2.5 8.5 3.6-2.6-2.7zM381.4 1071.8l2.6 2.7 8.7 5.1-2.5-2.4zM390.2 1077.2l2.5 2.4 9.6 1.9-2.4-3.5z"/><path color="#003" d="M399.9 1078l2.4 3.5 10 2.3-2.2-4.5z"/><path color="#002" d="M410.1 1079.3l2.2 4.5 8.6 16.9zM410.1 1079.3l10.8 21.4-2.7 .9z"/><path color="#000" d="M418.2 1101.6l2.7-.9 10.3 7.1-2.8 1.8zM326.5 1059.3l2.8-.7 6.4 2-2.8 .3z"/><path color="#001" d="M332.9 1060.9l2.8-.3 6.8-5.9z"/><path color="#002" d="M332.9 1060.9l9.6-6.2-2.8-3.8z"/><path style="fill:url(#gob);stroke:url(#gob)" d="M339.7 1050.9l2.8 3.8 7.3-4.2z"/><path style="fill:url(#goc);stroke:url(#goc)" d="M339.7 1050.9l10.1-.4-2.8-7.5z"/><path style="fill:url(#god);stroke:url(#god)" d="M347 1043l2.8 7.5 7.8-6.5z"/><path style="fill:url(#goe);stroke:url(#goe)" d="M347 1043l10.6 1-2.6-12.3z"/><path style="fill:url(#gof);stroke:url(#gof)" d="M355 1031.7l2.6 12.3 7.8 7.8z"/><path style="fill:url(#gog);stroke:url(#gog)" d="M355 1031.7l10.4 20.1-2.5-10.4z"/><path color="#004" d="M362.9 1041.4l2.5 10.4 7.5 16.6z"/><path color="#005" d="M362.9 1041.4l10 27-2.7-4.3z"/><path color="#003" d="M370.2 1064.1l2.7 4.3 8.5 3.4-2.6-4.6zM378.8 1067.2l2.6 4.6 8.8 5.4-2.5-4zM387.7 1073.2l2.5 4 9.7 .8-2.3-5.8z"/><path style="fill:url(#goh);stroke:url(#goh)" d="M397.6 1072.2l2.3 5.8 10.2 1.3z"/><path style="fill:url(#goi);stroke:url(#goi)" d="M397.6 1072.2l12.5 7.1-4 10.6z"/><path style="fill:url(#goj);stroke:url(#goj)" d="M406.1 1089.9l4-10.6 8.1 22.3z"/><path style="fill:url(#gok);stroke:url(#gok)" d="M406.1 1089.9l12.1 11.7-3.1 2.9z"/><path color="#000" d="M415.1 1104.5l3.1-2.9 10.2 8-2.9 1.8z"/><path color="#001" d="M323.6 1060l2.9-.7 6.4 1.6-2.9 0z"/><path style="fill:url(#gol);stroke:url(#gol)" d="M330 1060.9l2.9 0 6.8-10z"/><path style="fill:url(#gom);stroke:url(#gom)" d="M330 1060.9l9.7-10-3-6.1z"/><path style="fill:url(#gon);stroke:url(#gon)" d="M336.7 1044.8l3 6.1 7.3-7.9z"/><path style="fill:url(#goo);stroke:url(#goo)" d="M336.7 1044.8l10.3-1.8-2.8-11.5z"/><path style="fill:url(#gop);stroke:url(#gop)" d="M344.2 1031.5l2.8 11.5 8-11.3z"/><path style="fill:url(#goq);stroke:url(#goq)" d="M344.2 1031.5l10.8 .2-2.6-19.2z"/><path style="fill:url(#gor);stroke:url(#gor)" d="M352.4 1012.5l2.6 19.2 7.9 9.7z"/><path style="fill:url(#gos);stroke:url(#gos)" d="M352.4 1012.5l10.5 28.9-2.5-16.1z"/><path color="#024" d="M360.4 1025.3l2.5 16.1 7.3 22.7z"/><path color="#025" d="M360.4 1025.3l9.8 38.8-2.6-6.9z"/><path color="#004" d="M367.6 1057.2l2.6 6.9 8.6 3.1-2.4-7.5zM376.4 1059.7l2.4 7.5 8.9 6-2.4-6.7z"/><path style="fill:url(#got);stroke:url(#got)" d="M385.3 1066.5l2.4 6.7 9.9-1z"/><path style="fill:url(#gou);stroke:url(#gou)" d="M385.3 1066.5l12.3 5.7-4.1 12.3z"/><path style="fill:url(#gov);stroke:url(#gov)" d="M393.5 1084.5l4.1-12.3 8.5 17.7z"/><path style="fill:url(#gow);stroke:url(#gow)" d="M393.5 1084.5l12.6 5.4-3.9 9.6z"/><path style="fill:url(#gox);stroke:url(#gox)" d="M402.2 1099.5l3.9-9.6 9 14.6z"/><path style="fill:url(#goy);stroke:url(#goy)" d="M402.2 1099.5l12.9 5-3.1 2.8z"/><path color="#000" d="M314.6 1058.6l2.9-.9 6.1 2.3-2.9 .5z"/><path color="#001" d="M320.7 1060.5l2.9-.5 6.4 .9zM320.7 1060.5l9.3 .4-3-.6z"/><path style="fill:url(#goz);stroke:url(#goz)" d="M327 1060.3l3 .6 6.7-16.1z"/><path style="fill:url(#gp0);stroke:url(#gp0)" d="M327 1060.3l9.7-15.5-3-9.6z"/><path style="fill:url(#gp1);stroke:url(#gp1)" d="M333.7 1035.2l3 9.6 7.5-13.3z"/><path style="fill:url(#gp2);stroke:url(#gp2)" d="M333.7 1035.2l10.5-3.7-3-18.1z"/><path style="fill:url(#gp3);stroke:url(#gp3)" d="M341.2 1013.4l3 18.1 8.2-19z"/><path style="fill:url(#gp4);stroke:url(#gp4)" d="M341.2 1013.4l11.2-.9-2.5-30.4z"/><path style="fill:url(#gp5);stroke:url(#gp5)" d="M349.9 982.1l2.5 30.4 8 12.8z"/><path style="fill:url(#gp6);stroke:url(#gp6)" d="M349.9 982.1l10.5 43.2-2.3-25.5z"/><path color="#153" d="M358.1 999.8l2.3 25.5 7.2 31.9z"/><path color="#244" d="M358.1 999.8l9.5 57.4-2.5-10.9z"/><path style="fill:url(#gp7);stroke:url(#gp7)" d="M365.1 1046.3l2.5 10.9 8.8 2.5z"/><path style="fill:url(#gp8);stroke:url(#gp8)" d="M365.1 1046.3l11.3 13.4-3.9 14.5z"/><path style="fill:url(#gp9);stroke:url(#gp9)" d="M372.5 1074.2l3.9-14.5 8.9 6.8z"/><path style="fill:url(#gpa);stroke:url(#gpa)" d="M372.5 1074.2l12.8-7.7-4 13.5z"/><path style="fill:url(#gpb);stroke:url(#gpb)" d="M381.3 1080l4-13.5 8.2 18z"/><path style="fill:url(#gpc);stroke:url(#gpc)" d="M381.3 1080l12.2 4.5-3.9 11z"/><path style="fill:url(#gpd);stroke:url(#gpd)" d="M389.6 1095.5l3.9-11 8.7 15z"/><path style="fill:url(#gpe);stroke:url(#gpe)" d="M389.6 1095.5l12.6 4-3.3 4.6z"/><path color="#000" d="M398.9 1104.1l3.3-4.6 9.8 7.8-3 2.2zM311.7 1059.4l2.9-.8 6.1 1.9-3 .2z"/><path color="#001" d="M317.7 1060.7l3-.2 6.3-.2zM317.7 1060.7l9.3-.4-3-1.2z"/><path style="fill:url(#gpf);stroke:url(#gpf)" d="M324 1059.1l3 1.2 6.7-25.1z"/><path style="fill:url(#gpg);stroke:url(#gpg)" d="M324 1059.1l9.7-23.9-3.3-14.9z"/><path style="fill:url(#gph);stroke:url(#gph)" d="M330.4 1020.3l3.3 14.9 7.5-21.8z"/><path style="fill:url(#gpi);stroke:url(#gpi)" d="M330.4 1020.3l10.8-6.9-3.1-28.4z"/><path style="fill:url(#gpj);stroke:url(#gpj)" d="M338.1 985l3.1 28.4 8.7-31.3z"/><path style="fill:url(#gpk);stroke:url(#gpk)" d="M338.1 985l11.8-2.9-2.7-49.7z"/><path style="fill:url(#gpl);stroke:url(#gpl)" d="M347.2 932.4l2.7 49.7 8.2 17.7z"/><path style="fill:url(#gpm);stroke:url(#gpm)" d="M347.2 932.4l10.9 67.4-4.5 40z"/><path style="fill:url(#gpn);stroke:url(#gpn)" d="M353.6 1039.8l4.5-40 7 46.5z"/><path style="fill:url(#gpo);stroke:url(#gpo)" d="M353.6 1039.8l11.5 6.5-4 19.4z"/><path style="fill:url(#gpp);stroke:url(#gpp)" d="M361.1 1065.7l4-19.4 7.4 27.9z"/><path style="fill:url(#gpq);stroke:url(#gpq)" d="M361.1 1065.7l11.4 8.5-3.8 12.7z"/><path style="fill:url(#gpr);stroke:url(#gpr)" d="M368.7 1086.9l3.8-12.7 8.8 5.8z"/><path style="fill:url(#gps);stroke:url(#gps)" d="M368.7 1086.9l12.6-6.9-3.9 11.9z"/><path style="fill:url(#gpt);stroke:url(#gpt)" d="M377.4 1091.9l3.9-11.9 8.3 15.5z"/><path style="fill:url(#gpu);stroke:url(#gpu)" d="M377.4 1091.9l12.2 3.6-3.3 5.1z"/><path color="#000" d="M386.3 1100.6l3.3-5.1 9.3 8.6zM386.3 1100.6l12.6 3.5-3 1.7z"/><path color="#001" d="M308.7 1060.2l3-.8 6 1.3-3 0z"/><path color="#002" d="M314.7 1060.7l3 0 6.3-1.6-3.1-2.3z"/><path style="fill:url(#gpv);stroke:url(#gpv)" d="M320.9 1056.8l3.1 2.3 6.4-38.8z"/><path style="fill:url(#gpw);stroke:url(#gpw)" d="M320.9 1056.8l9.5-36.5-3.5-23.3z"/><path style="fill:url(#gpx);stroke:url(#gpx)" d="M326.9 997l3.5 23.3 7.7-35.3z"/><path style="fill:url(#gpy);stroke:url(#gpy)" d="M326.9 997l11.2-12-3.5-46.2z"/><path style="fill:url(#gpz);stroke:url(#gpz)" d="M334.6 938.8l3.5 46.2 9.1-52.6z"/><path style="fill:url(#gq0);stroke:url(#gq0)" d="M334.6 938.8l12.6-6.4-4.6 74z"/><path style="fill:url(#gq1);stroke:url(#gq1)" d="M342.6 1006.4l4.6-74 6.4 107.4z"/><path style="fill:url(#gq2);stroke:url(#gq2)" d="M342.6 1006.4l11 33.4-4.1 32.7z"/><path style="fill:url(#gq3);stroke:url(#gq3)" d="M349.5 1072.5l4.1-32.7 7.5 25.9z"/><path style="fill:url(#gq4);stroke:url(#gq4)" d="M349.5 1072.5l11.6-6.8-3.7 16.7z"/><path style="fill:url(#gq5);stroke:url(#gq5)" d="M357.4 1082.4l3.7-16.7 7.6 21.2z"/><path style="fill:url(#gq6);stroke:url(#gq6)" d="M357.4 1082.4l11.3 4.5-3.3 5.6z"/><path color="#001" d="M365.4 1092.5l3.3-5.6 8.7 5-3.3 5.4z"/><path color="#000" d="M374.1 1097.3l3.3-5.4 8.9 8.7zM374.1 1097.3l12.2 3.3-3.1 1.7zM300 1058.5l2.9-.8 5.8 2.5-3 .6z"/><path color="#001" d="M305.7 1060.8l3-.6 6 .5zM305.7 1060.8l9-.1-3.1-.7zM311.6 1060l3.1 .7 6.2-3.9z"/><path color="#003" d="M311.6 1060l9.3-3.2-3.2-3.9z"/><path color="#142" d="M317.7 1052.9l3.2 3.9 6-59.8z"/><path color="#144" d="M317.7 1052.9l9.2-55.9-2.9 36.7z"/><path style="fill:url(#gq7);stroke:url(#gq7)" d="M324 1033.7l2.9-36.7 7.7-58.2z"/><path style="fill:url(#gq8);stroke:url(#gq8)" d="M324 1033.7l10.6-94.9-3.4 69z"/><path style="fill:url(#gq9);stroke:url(#gq9)" d="M331.2 1007.8l3.4-69 8 67.6z"/><path style="fill:url(#gqa);stroke:url(#gqa)" d="M331.2 1007.8l11.4-1.4-3.8 55.9z"/><path style="fill:url(#gqb);stroke:url(#gqb)" d="M338.8 1062.3l3.8-55.9 6.9 66.1z"/><path style="fill:url(#gqc);stroke:url(#gqc)" d="M338.8 1062.3l10.7 10.2-3.3 12.5z"/><path style="fill:url(#gqd);stroke:url(#gqd)" d="M346.2 1085l3.3-12.5 7.9 9.9z"/><path style="fill:url(#gqe);stroke:url(#gqe)" d="M346.2 1085l11.2-2.6-3.4 7z"/><path color="#001" d="M354 1089.4l3.4-7 8 10.1z"/><path color="#000" d="M354 1089.4l11.4 3.1-3.1 1.5zM296.9 1059.4l3.1-.9 5.7 2.3-3.1 .4z"/><path color="#001" d="M302.6 1061.2l3.1-.4 5.9-.8zM302.6 1061.2l9-1.2-3 3.7z"/><path color="#002" d="M308.6 1063.7l3-3.7 6.1-7.1z"/><path color="#003" d="M308.6 1063.7l9.1-10.8-3 8.6z"/><path style="fill:url(#gqf);stroke:url(#gqf)" d="M314.7 1061.5l3-8.6 6.3-19.2z"/><path style="fill:url(#gqg);stroke:url(#gqg)" d="M314.7 1061.5l9.3-27.8-2.7 30.2z"/><path style="fill:url(#gqh);stroke:url(#gqh)" d="M321.3 1063.9l2.7-30.2 7.2-25.9z"/><path style="fill:url(#gqi);stroke:url(#gqi)" d="M321.3 1063.9l9.9-56.1-3 52.7z"/><path style="fill:url(#gqj);stroke:url(#gqj)" d="M328.2 1060.5l3-52.7 7.6 54.5z"/><path style="fill:url(#gqk);stroke:url(#gqk)" d="M328.2 1060.5l10.6 1.8-3.3 19.8z"/><path style="fill:url(#gql);stroke:url(#gql)" d="M335.5 1082.1l3.3-19.8 7.4 22.7z"/><path style="fill:url(#gqm);stroke:url(#gqm)" d="M335.5 1082.1l10.7 2.9-3.2 1.4z"/><path color="#000" d="M293.8 1060.1l3.1-.7 5.7 1.8-3 2.1z"/><path color="#001" d="M299.6 1063.3l3-2.1 6 2.5-3 3.4zM305.6 1067.1l3-3.4 6.1-2.2zM305.6 1067.1l9.1-5.6-2.9 7.7z"/><path style="fill:url(#gqn);stroke:url(#gqn)" d="M311.8 1069.2l2.9-7.7 6.6 2.4z"/><path style="fill:url(#gqo);stroke:url(#gqo)" d="M311.8 1069.2l9.5-5.3-2.9 11.5z"/><path style="fill:url(#gqp);stroke:url(#gqp)" d="M318.4 1075.4l2.9-11.5 6.9-3.4z"/><path style="fill:url(#gqq);stroke:url(#gqq)" d="M318.4 1075.4l9.8-14.9-3 18.9z"/><path style="fill:url(#gqr);stroke:url(#gqr)" d="M325.2 1079.4l3-18.9 7.3 21.6z"/><path style="fill:url(#gqs);stroke:url(#gqs)" d="M325.2 1079.4l10.3 2.7-3.2 1.4z"/><path color="#000" d="M302.5 1069.2l3.1-2.1 6.2 2.1-3.1 3.6zM308.7 1072.8l3.1-3.6 6.6 6.2zM308.7 1072.8l9.7 2.6-3.2 1.3z"/></g></g>
<g><path d="M208.9 1389.2L178.6 1237.1M208.9 1389.2L387.5 1329.1M387.5 1329.1L395.9 1225.1M387.5 1329.1L501.2 1367M257.2 1372.9L240.8 1233.6M203.8 1363.7L389 1310.5M405.8 1335.2L417.6 1226.2M389 1310.5L507.2 1343.9M297.8 1359.3L290.9 1230.9M198.3 1336.1L390.6 1291M425.9 1341.9L441.9 1227.5M390.6 1291L513.7 1319.1M332.2 1347.7L332.1 1228.6M192.3 1306L392.3 1270.3M448.3 1349.3L469.4 1228.9M392.3 1270.3L520.7 1292.4M361.8 1337.7L366.6 1226.7M185.8 1273.2L394 1248.4M473.2 1357.6L500.6 1230.5M394 1248.4L528.3 1263.6M387.5 1329.1L395.9 1225.1M178.6 1237.1L395.9 1225.1M501.2 1367L536.5 1232.3M395.9 1225.1L536.5 1232.3M208.9 1389.2L311.6 1487.4M311.6 1487.4L501.2 1367" class="gr"/>
<path fill="#000" d="M208.9 1389.2l178.6-60.1 113.7 37.9-189.6 120.4z"/>
<g class="s"><defs><linearGradient id="gqt" x1=".45" y1=".14" x2=".03" y2=".87"><stop stop-color="#003"/><stop offset="1" stop-color="#003"/></linearGradient><linearGradient id="gqu" x1=".66" y1="-.03" x2=".34" y2=".84"><stop stop-color="#005"/><stop offset="1" stop-color="#004"/></linearGradient><linearGradient id="gqv" x1=".45" y1="0" x2=".01" y2=".86"><stop stop-color="#003"/><stop offset="1" stop-color="#002"/></linearGradient><linearGradient id="gqw" x1=".64" y1="-.03" x2=".32" y2=".93"><stop stop-color="#005"/><stop offset="1" stop-color="#003"/></linearGradient><linearGradient id="gqx" x1=".45" y1=".06" x2=".13" y2=".95"><stop stop-color="#005"/><stop offset="1" stop-color="#004"/></linearGradient><linearGradient id="gqy" x1=".68" y1="-.02" x2=".45" y2=".95"><stop stop-color="#008"/><stop offset="1" stop-color="#005"/></linearGradient><linearGradient id="gqz" x1=".63" y1=".23" x2=".43" y2=".79"><stop stop-color="#006"/><stop offset="1" stop-color="#004"/></linearGradient><linearGradient id="gr0" x1=".74" y1=".29" x2=".54" y2=".82"><stop stop-color="#006"/><stop offset="1" stop-color="#004"/></linearGradient><linearGradient id="gr1" x1=".43" y1=".31" x2=".03" y2=".88"><stop stop-color="#004"/><stop offset="1" stop-color="#003"/></linearGradient><linearGradient id="gr2" x1=".69" y1="-.07" x2=".33" y2=".67"><stop stop-color="#005"/><stop offset="1" stop-color="#004"/></linearGradient><linearGradient id="gr3" x1=".44" y1=".25" x2=".06" y2=".94"><stop stop-color="#005"/><stop offset="1" stop-color="#004"/></linearGradient><linearGradient id="gr4" x1=".71" y1="-.06" x2=".39" y2=".76"><stop stop-color="#007"/><stop offset="1" stop-color="#005"/></linearGradient><linearGradient id="gr5" x1=".49" y1=".95" x2=".29" y2=".18"><stop stop-color="#001"/><stop offset="1" stop-color="#003"/></linearGradient><linearGradient id="gr6" x1=".6" y1="0" x2=".56" y2="1.02"><stop stop-color="#005"/><stop offset="1" stop-color="#002"/></linearGradient><linearGradient id="gr7" x1=".47" y1="-.1" x2=".1" y2=".94"><stop stop-color="#005"/><stop offset="1" stop-color="#003"/></linearGradient><linearGradient id="gr8" x1=".67" y1="-.01" x2=".43" y2="1.05"><stop stop-color="#007"/><stop offset="1" stop-color="#005"/></linearGradient><linearGradient id="gr9" x1=".47" y1=".01" x2=".24" y2="1"><stop stop-color="#008"/><stop offset="1" stop-color="#005"/></linearGradient><linearGradient id="gra" x1=".64" y1="-.01" x2=".58" y2=".97"><stop stop-color="#046"/><stop offset="1" stop-color="#008"/></linearGradient><linearGradient id="grb" x1=".73" y1=".39" x2=".51" y2=".79"><stop stop-color="#035"/><stop offset="1" stop-color="#007"/></linearGradient><linearGradient id="grc" x1=".77" y1=".44" x2=".46" y2=".66"><stop stop-color="#026"/><stop offset=".36" stop-color="#006"/><stop offset="1" stop-color="#035"/></linearGradient><linearGradient id="grd" x1=".49" y1=".25" x2=".18" y2=".86"><stop stop-color="#005"/><stop offset="1" stop-color="#004"/></linearGradient><linearGradient id="gre" x1=".68" y1="-.05" x2=".34" y2=".7"><stop stop-color="#006"/><stop offset="1" stop-color="#005"/></linearGradient><linearGradient id="grf" x1=".59" y1=".25" x2=".38" y2=".74"><stop stop-color="#006"/><stop offset="1" stop-color="#004"/></linearGradient><linearGradient id="grg" x1=".73" y1=".31" x2=".52" y2=".79"><stop stop-color="#005"/><stop offset="1" stop-color="#004"/></linearGradient><linearGradient id="grh" x1=".44" y1=".2" x2=".1" y2=".96"><stop stop-color="#006"/><stop offset="1" stop-color="#004"/></linearGradient><linearGradient id="gri" x1=".72" y1="-.04" x2=".46" y2=".83"><stop stop-color="#008"/><stop offset="1" stop-color="#006"/></linearGradient><linearGradient id="grj" x1=".47" y1=".17" x2=".17" y2="1.01"><stop stop-color="#008"/><stop offset="1" stop-color="#006"/></linearGradient><linearGradient id="grk" x1=".66" y1=".06" x2=".58" y2="1"><stop stop-color="#00a"/><stop offset="1" stop-color="#005"/></linearGradient><linearGradient id="grl" x1=".71" y1=".01" x2=".66" y2=".98"><stop stop-color="#009"/><stop offset="1" stop-color="#002"/></linearGradient><linearGradient id="grm" x1=".62" y1=".02" x2=".59" y2="1"><stop stop-color="#006"/><stop offset="1" stop-color="#001"/></linearGradient><linearGradient id="grn" x1=".52" y1=".96" x2=".39" y2=".1"><stop stop-color="#001"/><stop offset="1" stop-color="#005"/></linearGradient><linearGradient id="gro" x1=".58" y1="0" x2=".57" y2="1.01"><stop stop-color="#007"/><stop offset="1" stop-color="#002"/></linearGradient><linearGradient id="grp" x1=".48" y1="-.1" x2=".26" y2="1"><stop stop-color="#007"/><stop offset="1" stop-color="#005"/></linearGradient><linearGradient id="grq" x1=".51" y1=".02" x2=".57" y2="1"><stop stop-color="#037"/><stop offset="1" stop-color="#008"/></linearGradient><linearGradient id="grr" x1=".56" y1="-.08" x2=".27" y2="1.01"><stop stop-color="#046"/><stop offset="1" stop-color="#008"/></linearGradient><linearGradient id="grs" x1=".78" y1="0" x2=".68" y2="1.05"><stop stop-color="#2d0"/><stop offset="1" stop-color="#037"/></linearGradient><linearGradient id="grt" x1=".96" y1=".23" x2=".79" y2=".95"><stop stop-color="#2b0"/><stop offset="1" stop-color="#027"/></linearGradient><linearGradient id="gru" x1=".07" y1=".78" x2=".25" y2=".06"><stop stop-color="#026"/><stop offset="1" stop-color="#2b0"/></linearGradient><linearGradient id="grv" x1=".66" y1=".46" x2=".52" y2=".66"><stop stop-color="#181"/><stop offset=".94" stop-color="#026"/><stop offset="1" stop-color="#005"/></linearGradient><linearGradient id="grw" x1=".56" y1=".58" x2=".58" y2=".57"><stop stop-color="#182"/><stop offset=".85" stop-color="#005"/><stop offset="1" stop-color="#007"/></linearGradient><linearGradient id="grx" x1=".5" y1=".23" x2=".09" y2=".95"><stop stop-color="#008"/><stop offset="1" stop-color="#006"/></linearGradient><linearGradient id="gry" x1=".83" y1=".16" x2=".59" y2=".99"><stop stop-color="#00a"/><stop offset=".09" stop-color="#01a"/><stop offset="1" stop-color="#006"/></linearGradient><linearGradient id="grz" x1=".72" y1=".04" x2=".62" y2=".95"><stop stop-color="#00a"/><stop offset="1" stop-color="#005"/></linearGradient><linearGradient id="gs0" x1=".67" y1=".09" x2=".55" y2=".99"><stop stop-color="#006"/><stop offset="1" stop-color="#002"/></linearGradient><linearGradient id="gs1" x1=".66" y1=".04" x2=".53" y2=".93"><stop stop-color="#005"/><stop offset="1" stop-color="#001"/></linearGradient><linearGradient id="gs2" x1=".63" y1=".18" x2=".42" y2=".91"><stop stop-color="#002"/><stop offset="1" stop-color="#000"/></linearGradient><linearGradient id="gs3" x1=".55" y1=".98" x2=".47" y2=".05"><stop stop-color="#002"/><stop offset="1" stop-color="#007"/></linearGradient><linearGradient id="gs4" x1=".99" y1=".47" x2=".04" y2=".4"><stop stop-color="#008"/><stop offset=".36" stop-color="#028"/><stop offset="1" stop-color="#003"/></linearGradient><linearGradient id="gs5" x1=".65" y1="-.11" x2=".3" y2="1.01"><stop stop-color="#037"/><stop offset="1" stop-color="#007"/></linearGradient><linearGradient id="gs6" x1=".64" y1="0" x2=".61" y2="1.01"><stop stop-color="#2c1"/><stop offset="1" stop-color="#028"/></linearGradient><linearGradient id="gs7" x1=".49" y1="-.04" x2=".42" y2="1.01"><stop stop-color="#2d0"/><stop offset="1" stop-color="#037"/></linearGradient><linearGradient id="gs8" x1=".55" y1="1.01" x2=".57" y2="0"><stop stop-color="#2c1"/><stop offset=".03" stop-color="#2d0"/><stop offset="1" stop-color="#cc0"/></linearGradient><linearGradient id="gs9" x1=".94" y1=".51" x2=".69" y2=".98"><stop stop-color="#aa0"/><stop offset=".76" stop-color="#192"/><stop offset="1" stop-color="#2b0"/></linearGradient><linearGradient id="gsa" x1="1.06" y1=".34" x2=".86" y2=".96"><stop stop-color="#aa0"/><stop offset=".14" stop-color="#7b0"/><stop offset="1" stop-color="#192"/></linearGradient><linearGradient id="gsb" x1=".59" y1=".49" x2=".38" y2=".66"><stop stop-color="#007"/><stop offset=".59" stop-color="#7a0"/><stop offset="1" stop-color="#182"/></linearGradient><linearGradient id="gsc" x1=".55" y1=".58" x2=".58" y2=".55"><stop stop-color="#007"/><stop offset=".89" stop-color="#054"/><stop offset="1" stop-color="#7a0"/></linearGradient><linearGradient id="gsd" x1=".3" y1="1.01" x2=".45" y2=".07"><stop stop-color="#008"/><stop offset="1" stop-color="#054"/></linearGradient><linearGradient id="gse" x1=".95" y1=".47" x2="-.02" y2=".03"><stop stop-color="#029"/><stop offset=".08" stop-color="#006"/><stop offset="1" stop-color="#076"/></linearGradient><linearGradient id="gsf" x1=".97" y1=".31" x2=".04" y2="1.05"><stop stop-color="#019"/><stop offset=".26" stop-color="#028"/><stop offset="1" stop-color="#006"/></linearGradient><linearGradient id="gsg" x1=".9" y1="-.02" x2=".66" y2="1"><stop stop-color="#019"/><stop offset="1" stop-color="#005"/></linearGradient><linearGradient id="gsh" x1=".7" y1=".03" x2=".61" y2=".96"><stop stop-color="#01a"/><stop offset="1" stop-color="#005"/></linearGradient><linearGradient id="gsi" x1=".67" y1=".09" x2=".55" y2=".99"><stop stop-color="#006"/><stop offset="1" stop-color="#002"/></linearGradient><linearGradient id="gsj" x1=".69" y1=".05" x2=".56" y2=".94"><stop stop-color="#006"/><stop offset="1" stop-color="#002"/></linearGradient><linearGradient id="gsk" x1=".63" y1=".18" x2=".43" y2=".92"><stop stop-color="#002"/><stop offset="1" stop-color="#000"/></linearGradient><linearGradient id="gsl" x1="-.2" y1=".23" x2="-.04" y2="1.07"><stop stop-color="#027"/><stop offset="1" stop-color="#003"/></linearGradient><linearGradient id="gsm" x1=".06" y1=".43" x2=".35" y2=".85"><stop stop-color="#1a2"/><stop offset=".85" stop-color="#004"/><stop offset="1" stop-color="#028"/></linearGradient><linearGradient id="gsn" x1=".48" y1="-.02" x2=".45" y2="1"><stop stop-color="#2c1"/><stop offset="1" stop-color="#028"/></linearGradient><linearGradient id="gso" x1=".6" y1="0" x2=".6" y2="1"><stop stop-color="#bc0"/><stop offset=".89" stop-color="#2c1"/><stop offset="1" stop-color="#1a2"/></linearGradient><linearGradient id="gsp" x1=".47" y1="-.01" x2=".45" y2="1"><stop stop-color="#cc0"/><stop offset="1" stop-color="#2c1"/></linearGradient><linearGradient id="gsq" x1=".52" y1="0" x2=".53" y2="1"><stop stop-color="#d10"/><stop offset=".96" stop-color="#cc0"/><stop offset="1" stop-color="#bc0"/></linearGradient><linearGradient id="gsr" x1="-.07" y1=".63" x2=".18" y2=".08"><stop stop-color="#aa0"/><stop offset=".17" stop-color="#8b0"/><stop offset="1" stop-color="#b10"/></linearGradient><linearGradient id="gss" x1=".96" y1=".52" x2=".49" y2=".9"><stop stop-color="#ae0"/><stop offset=".68" stop-color="#f10"/><stop offset="1" stop-color="#038"/></linearGradient><linearGradient id="gst" x1="1.43" y1=".16" x2="1.27" y2="1.2"><stop stop-color="#9e0"/><stop offset=".73" stop-color="#075"/><stop offset="1" stop-color="#038"/></linearGradient><linearGradient id="gsu" x1="1.28" y1=".19" x2=".7" y2="1.05"><stop stop-color="#075"/><stop offset=".71" stop-color="#038"/><stop offset="1" stop-color="#007"/></linearGradient><linearGradient id="gsv" x1="1.33" y1=".27" x2="1.09" y2="1.1"><stop stop-color="#076"/><stop offset=".92" stop-color="#006"/><stop offset="1" stop-color="#008"/></linearGradient><linearGradient id="gsw" x1=".7" y1=".05" x2=".63" y2="1"><stop stop-color="#008"/><stop offset="1" stop-color="#002"/></linearGradient><linearGradient id="gsx" x1=".66" y1=".1" x2=".37" y2="1.11"><stop stop-color="#006"/><stop offset="1" stop-color="#002"/></linearGradient><linearGradient id="gsy" x1=".96" y1="-.01" x2=".61" y2=".98"><stop stop-color="#005"/><stop offset="1" stop-color="#002"/></linearGradient><linearGradient id="gsz" x1=".71" y1=".05" x2=".59" y2=".94"><stop stop-color="#006"/><stop offset="1" stop-color="#002"/></linearGradient><linearGradient id="gt0" x1=".63" y1=".17" x2=".43" y2=".92"><stop stop-color="#002"/><stop offset="1" stop-color="#000"/></linearGradient><linearGradient id="gt1" x1=".47" y1=".98" x2=".35" y2=".09"><stop stop-color="#001"/><stop offset="1" stop-color="#003"/></linearGradient><linearGradient id="gt2" x1=".6" y1="0" x2=".52" y2="1.04"><stop stop-color="#005"/><stop offset="1" stop-color="#002"/></linearGradient><linearGradient id="gt3" x1="1.59" y1=".56" x2=".66" y2="1.52"><stop stop-color="#1a2"/><stop offset=".89" stop-color="#004"/><stop offset="1" stop-color="#005"/></linearGradient><linearGradient id="gt4" x1=".22" y1=".46" x2=".62" y2=".82"><stop stop-color="#9d0"/><stop offset=".37" stop-color="#006"/><stop offset="1" stop-color="#1b2"/></linearGradient><linearGradient id="gt5" x1=".33" y1=".03" x2=".37" y2="1"><stop stop-color="#bc0"/><stop offset=".17" stop-color="#9d0"/><stop offset="1" stop-color="#1a2"/></linearGradient><linearGradient id="gt6" x1=".22" y1=".01" x2=".25" y2=".99"><stop stop-color="#d20"/><stop offset=".9" stop-color="#bc0"/><stop offset="1" stop-color="#9d0"/></linearGradient><linearGradient id="gt7" x1=".52" y1="-.01" x2=".5" y2="1"><stop stop-color="#d10"/><stop offset="1" stop-color="#bc0"/></linearGradient><linearGradient id="gt8" x1=".56" y1="0" x2=".56" y2="1"><stop stop-color="#e10"/><stop offset="1" stop-color="#3e0"/></linearGradient><linearGradient id="gt9" x1=".78" y1=".57" x2=".1" y2=".91"><stop stop-color="#038"/><stop offset=".08" stop-color="#e10"/><stop offset="1" stop-color="#3e0"/></linearGradient><linearGradient id="gta" x1="-.16" y1=".47" x2=".86" y2=".83"><stop stop-color="#3e0"/><stop offset=".84" stop-color="#003"/><stop offset="1" stop-color="#038"/></linearGradient><linearGradient id="gtb" x1=".88" y1=".48" x2=".19" y2="1.19"><stop stop-color="#007"/><stop offset=".03" stop-color="#038"/><stop offset="1" stop-color="#003"/></linearGradient><linearGradient id="gtc" x1="1.02" y1="0" x2=".78" y2="1.03"><stop stop-color="#007"/><stop offset="1" stop-color="#002"/></linearGradient><linearGradient id="gtd" x1=".76" y1=".04" x2=".68" y2=".97"><stop stop-color="#008"/><stop offset="1" stop-color="#002"/></linearGradient><linearGradient id="gte" x1=".64" y1=".14" x2=".47" y2=".96"><stop stop-color="#003"/><stop offset="1" stop-color="#000"/></linearGradient><linearGradient id="gtf" x1=".48" y1=".99" x2=".41" y2=".04"><stop stop-color="#002"/><stop offset="1" stop-color="#004"/></linearGradient><linearGradient id="gtg" x1=".59" y1="0" x2=".56" y2="1.02"><stop stop-color="#007"/><stop offset="1" stop-color="#003"/></linearGradient><linearGradient id="gth" x1=".29" y1=".51" x2=".41" y2=".63"><stop stop-color="#8b0"/><stop offset=".61" stop-color="#b20"/><stop offset="1" stop-color="#027"/></linearGradient><linearGradient id="gti" x1=".38" y1=".59" x2=".63" y2=".82"><stop stop-color="#027"/><stop offset=".18" stop-color="#c20"/><stop offset="1" stop-color="#2c0"/></linearGradient><linearGradient id="gtj" x1=".08" y1="1" x2=".11" y2="-.01"><stop stop-color="#2e0"/><stop offset="1" stop-color="#e20"/></linearGradient><linearGradient id="gtk" x1=".63" y1="0" x2=".62" y2="1"><stop stop-color="#3e0"/><stop offset=".02" stop-color="#2e0"/><stop offset="1" stop-color="#005"/></linearGradient><linearGradient id="gtl" x1="2.26" y1=".36" x2="2.09" y2="1.26"><stop stop-color="#3e0"/><stop offset=".95" stop-color="#003"/><stop offset="1" stop-color="#005"/></linearGradient><linearGradient id="gtm" x1=".75" y1=".09" x2=".65" y2="1"><stop stop-color="#005"/><stop offset="1" stop-color="#000"/></linearGradient><linearGradient id="gtn" x1=".67" y1=".15" x2=".27" y2="1.11"><stop stop-color="#003"/><stop offset="1" stop-color="#000"/></linearGradient><linearGradient id="gto" x1=".85" y1="-.1" x2=".28" y2=".72"><stop stop-color="#002"/><stop offset="1" stop-color="#000"/></linearGradient><linearGradient id="gtp" x1=".54" y1=".49" x2=".4" y2=".34"><stop stop-color="#004"/><stop offset=".24" stop-color="#027"/><stop offset="1" stop-color="#007"/></linearGradient><linearGradient id="gtq" x1=".11" y1=".94" x2=".21" y2="-.08"><stop stop-color="#003"/><stop offset="1" stop-color="#038"/></linearGradient><linearGradient id="gtr" x1=".75" y1=".46" x2=".35" y2=".24"><stop stop-color="#2c0"/><stop offset=".86" stop-color="#003"/><stop offset="1" stop-color="#027"/></linearGradient><linearGradient id="gts" x1="-1.04" y1=".28" x2="-.91" y2="1.18"><stop stop-color="#2d0"/><stop offset=".94" stop-color="#003"/><stop offset="1" stop-color="#004"/></linearGradient><linearGradient id="gtt" x1=".15" y1=".97" x2=".18" y2="0"><stop stop-color="#005"/><stop offset="1" stop-color="#2e0"/></linearGradient><linearGradient id="gtu" x1=".71" y1=".06" x2=".6" y2=".99"><stop stop-color="#005"/><stop offset="1" stop-color="#000"/></linearGradient><linearGradient id="gtv" x1=".76" y1=".06" x2=".65" y2=".96"><stop stop-color="#005"/><stop offset="1" stop-color="#000"/></linearGradient><linearGradient id="gtw" x1="0" y1=".56" x2="1" y2=".56"><stop stop-color="#000"/><stop offset="1" stop-color="#000"/></linearGradient><linearGradient id="gtx" x1="1.14" y1=".35" x2="-.06" y2=".83"><stop stop-color="#004"/><stop offset="1" stop-color="#000"/></linearGradient><linearGradient id="gty" x1="1.19" y1=".11" x2=".55" y2="1.24"><stop stop-color="#004"/><stop offset="1" stop-color="#001"/></linearGradient><linearGradient id="gtz" x1=".68" y1=".12" x2=".36" y2="1.12"><stop stop-color="#005"/><stop offset="1" stop-color="#001"/></linearGradient><linearGradient id="gu0" x1=".82" y1="-.05" x2=".55" y2=".96"><stop stop-color="#003"/><stop offset="1" stop-color="#000"/></linearGradient><linearGradient id="gu1" x1=".83" y1="-.06" x2=".38" y2="1.14"><stop stop-color="#004"/><stop offset="1" stop-color="#000"/></linearGradient><linearGradient id="gu2" x1="1.18" y1=".06" x2=".88" y2="1.06"><stop stop-color="#005"/><stop offset="1" stop-color="#000"/></linearGradient><linearGradient id="gu3" x1=".75" y1=".06" x2=".64" y2=".95"><stop stop-color="#005"/><stop offset="1" stop-color="#000"/></linearGradient><linearGradient id="gu4" x1="0" y1=".55" x2="1" y2=".55"><stop stop-color="#000"/><stop offset="1" stop-color="#000"/></linearGradient></defs><path color="#000" d="M374.4 1362.3l2.5-.8 7.3 2.9-2.4 .7zM381.8 1365.1l2.4-.7 7.6 3.4-2.5 .7zM364.9 1360.3l2.5-.8 7 2.8-2.5 .6zM371.9 1362.9l2.5-.6 7.4 2.8-2.5 .5z"/><path color="#001" d="M379.3 1365.6l2.5-.5 7.5 3.4-2.4 .7z"/><path color="#000" d="M386.9 1369.2l2.4-.7 7.9 4-2.4 .8zM411.7 1380.8l2.4-1 9.1 3.7-2.4 .9zM420.8 1384.4l2.4-.9 9.5 3.9-2.4 .9zM430.3 1388.3l2.4-.9 9.7 5.5-2.4 1.3zM362.4 1360.9l2.5-.6 7 2.6-2.5 .6z"/><path color="#001" d="M369.4 1363.5l2.5-.6 7.4 2.7-2.5 .4zM376.8 1366l2.5-.4 7.6 3.6-2.5 .5zM384.4 1369.7l2.5-.5 7.9 4.1-2.5 .8z"/><path color="#000" d="M392.3 1374.1l2.5-.8 8.2 3.5-2.4 .8zM400.6 1377.6l2.4-.8 8.7 4-2.5 .8z"/><path color="#001" d="M409.2 1381.6l2.5-.8 9.1 3.6-2.5 .8zM418.3 1385.2l2.5-.8 9.5 3.9-2.4 .7z"/><path color="#000" d="M427.9 1389l2.4-.7 9.7 5.9-2.5 1.4zM353.1 1359.6l2.5-.8 6.8 2.1-2.5 .6z"/><path color="#001" d="M359.9 1361.5l2.5-.6 7 2.6-2.5 .4zM366.9 1363.9l2.5-.4 7.4 2.5-2.5 .1zM374.3 1366.1l2.5-.1 7.6 3.7-2.5 .2zM381.9 1369.9l2.5-.2 7.9 4.4-2.6 .6zM389.7 1374.7l2.6-.6 8.3 3.5-2.5 .6zM398.1 1378.2l2.5-.6 8.6 4-2.5 .7zM406.7 1382.3l2.5-.7 9.1 3.6-2.4 .6zM415.9 1385.8l2.4-.6 9.6 3.8-2.4 .4zM425.5 1389.4l2.4-.4 9.6 6.6-2.5 1.2z"/><path color="#000" d="M350.5 1360.5l2.6-.9 6.8 1.9-2.6 .4z"/><path color="#001" d="M357.3 1361.9l2.6-.4 7 2.4-2.6 .1zM364.3 1364l2.6-.1 7.4 2.2-2.6-.2zM371.7 1365.9l2.6 .2 7.6 3.8-2.6-.1zM379.3 1369.8l2.6 .1 7.8 4.8-2.5 .4zM387.2 1375.1l2.5-.4 8.4 3.5-2.6 .3zM395.5 1378.5l2.6-.3 8.6 4.1-2.5 .5zM404.2 1382.8l2.5-.5 9.2 3.5-2.5 .2zM413.4 1386l2.5-.2 9.6 3.6-2.4 0zM423.1 1389.4l2.4 0 9.5 7.4-2.5 1.3zM347.9 1361.2l2.6-.7 6.8 1.4-2.6 .2zM354.7 1362.1l2.6-.2 7 2.1-2.6-.2zM361.7 1363.8l2.6 .2 7.4 1.9zM361.7 1363.8l10 2.1-2.5-.8z"/><path color="#002" d="M369.2 1365.1l2.5 .8 7.6 3.9-2.5-.5z"/><path color="#001" d="M376.8 1369.3l2.5 .5 7.9 5.3-2.6 .2zM384.6 1375.3l2.6-.2 8.3 3.4-2.5 0zM393 1378.5l2.5 0 8.7 4.3-2.5 .2zM401.7 1383l2.5-.2 9.2 3.2-2.4-.1zM411 1385.9l2.4 .1 9.7 3.4-2.4-.4zM420.7 1389l2.4 .4 9.4 8.7-2.5 1.1z"/><path color="#000" d="M430 1399.2l2.5-1.1 10.2 6-2.5 1.6z"/><path color="#001" d="M345.2 1361.9l2.7-.7 6.8 .9zM345.2 1361.9l9.5 .2-2.7-.2zM352 1361.9l2.7 .2 7 1.7zM352 1361.9l9.7 1.9-2.6-.7z"/><path color="#002" d="M359.1 1363.1l2.6 .7 7.5 1.3-2.6-1.4zM366.6 1363.7l2.6 1.4 7.6 4.2zM366.6 1363.7l10.2 5.6-2.6-1.2zM374.2 1368.1l2.6 1.2 7.8 6-2.6-.3z"/><path color="#001" d="M382 1375l2.6 .3 8.4 3.2-2.5-.4z"/><path color="#002" d="M390.5 1378.1l2.5 .4 8.7 4.5-2.6-.3z"/><path color="#001" d="M399.1 1382.7l2.6 .3 9.3 2.9z"/><path color="#002" d="M399.1 1382.7l11.9 3.2-2.5-.7zM408.5 1385.2l2.5 .7 9.7 3.1zM408.5 1385.2l12.2 3.8-2.3-1.2z"/><path color="#001" d="M418.4 1387.8l2.3 1.2 9.3 10.2-2.6 1z"/><path color="#000" d="M427.4 1400.2l2.6-1 10.2 6.5-2.7 1.7zM336.1 1360.4l2.7-.8 6.4 2.3-2.7 .6z"/><path color="#001" d="M342.5 1362.5l2.7-.6 6.8 0zM342.5 1362.5l9.5-.6-2.6-.5z"/><path color="#002" d="M349.4 1361.4l2.6 .5 7.1 1.2-2.6-1.4zM356.5 1361.7l2.6 1.4 7.5 .6-2.6-2.4zM364 1361.3l2.6 2.4 7.6 4.4-2.5-2zM371.7 1366.1l2.5 2 7.8 6.9-2.6-.8zM379.4 1374.2l2.6 .8 8.5 3.1zM379.4 1374.2l11.1 3.9-2.6-1.1zM387.9 1377l2.6 1.1 8.6 4.6-2.5-.9zM396.6 1381.8l2.5 .9 9.4 2.5-2.4-1.5zM406.1 1383.7l2.4 1.5 9.9 2.6-2.2-2.2zM416.2 1385.6l2.2 2.2 9 12.4zM416.2 1385.6l11.2 14.6-2.6 .8z"/><path color="#000" d="M424.8 1401l2.6-.8 10.1 7.2-2.6 1.7zM333.4 1361.1l2.7-.7 6.4 2.1-2.7 .4z"/><path color="#001" d="M339.8 1362.9l2.7-.4 6.9-1.1-2.8-1.2z"/><path color="#002" d="M346.6 1360.2l2.8 1.2 7.1 .3-2.7-2.3z"/><path color="#003" d="M353.8 1359.4l2.7 2.3 7.5-.4-2.6-3.9zM361.4 1357.4l2.6 3.9 7.7 4.8-2.6-3.4zM369.1 1362.7l2.6 3.4 7.7 8.1zM369.1 1362.7l10.3 11.5-2.6-1.6z"/><path color="#002" d="M376.8 1372.6l2.6 1.6 8.5 2.8-2.5-2.1zM385.4 1374.9l2.5 2.1 8.7 4.8-2.5-1.7zM394.1 1380.1l2.5 1.7 9.5 1.9-2.3-2.7z"/><path color="#003" d="M403.8 1381l2.3 2.7 10.1 1.9-2.1-3.7zM414.1 1381.9l2.1 3.7 8.6 15.4z"/><path color="#002" d="M414.1 1381.9l10.7 19.1-2.6 .5z"/><path color="#001" d="M422.2 1401.5l2.6-.5 10.1 8.1-2.8 1.7zM330.6 1361.8l2.8-.7 6.4 1.8-2.7 .3z"/><path color="#002" d="M337.1 1363.2l2.7-.3 6.8-2.7-2.7-2.1z"/><path color="#003" d="M343.9 1358.1l2.7 2.1 7.2-.8-2.7-3.6z"/><path style="fill:url(#gqt);stroke:url(#gqt)" d="M351.1 1355.8l2.7 3.6 7.6-2z"/><path style="fill:url(#gqu);stroke:url(#gqu)" d="M351.1 1355.8l10.3 1.6-2.5-5.8z"/><path color="#004" d="M358.9 1351.6l2.5 5.8 7.7 5.3-2.5-5.1z"/><path color="#003" d="M366.6 1357.6l2.5 5.1 7.7 9.9z"/><path color="#004" d="M366.6 1357.6l10.2 15-2.5-2.8z"/><path color="#003" d="M374.3 1369.8l2.5 2.8 8.6 2.3-2.5-3.3zM382.9 1371.6l2.5 3.3 8.7 5.2-2.4-2.9zM391.7 1377.2l2.4 2.9 9.7 .9-2.3-4.2zM401.5 1376.8l2.3 4.2 10.3 .9-2-5.8zM412.1 1376.1l2 5.8 8.1 19.6zM412.1 1376.1l10.1 25.4-2.6 .1z"/><path color="#001" d="M419.6 1401.6l2.6-.1 9.9 9.3-2.7 1.8z"/><path color="#000" d="M321.7 1360.5l2.8-.9 6.1 2.2-2.7 .6z"/><path color="#001" d="M327.9 1362.4l2.7-.6 6.5 1.4-2.9-.1zM334.2 1363.1l2.9 .1 6.8-5.1z"/><path color="#002" d="M334.2 1363.1l9.7-5-2.8-3.3z"/><path style="fill:url(#gqv);stroke:url(#gqv)" d="M341.1 1354.8l2.8 3.3 7.2-2.3z"/><path style="fill:url(#gqw);stroke:url(#gqw)" d="M341.1 1354.8l10 1-2.7-5.6z"/><path style="fill:url(#gqx);stroke:url(#gqx)" d="M348.4 1350.2l2.7 5.6 7.8-4.2z"/><path style="fill:url(#gqy);stroke:url(#gqy)" d="M348.4 1350.2l10.5 1.4-2.6-8.6z"/><path style="fill:url(#gqz);stroke:url(#gqz)" d="M356.3 1343l2.6 8.6 7.7 6z"/><path style="fill:url(#gr0);stroke:url(#gr0)" d="M356.3 1343l10.3 14.6-2.5-7.8z"/><path color="#004" d="M364.1 1349.8l2.5 7.8 7.7 12.2z"/><path color="#005" d="M364.1 1349.8l10.2 20-2.6-4.3z"/><path color="#003" d="M371.7 1365.5l2.6 4.3 8.6 1.8-2.4-5.2zM380.5 1366.4l2.4 5.2 8.8 5.6-2.4-4.7z"/><path style="fill:url(#gr1);stroke:url(#gr1)" d="M389.3 1372.5l2.4 4.7 9.8-.4z"/><path style="fill:url(#gr2);stroke:url(#gr2)" d="M389.3 1372.5l12.2 4.3-2-6.6z"/><path style="fill:url(#gr3);stroke:url(#gr3)" d="M399.5 1370.2l2 6.6 10.6-.7z"/><path style="fill:url(#gr4);stroke:url(#gr4)" d="M399.5 1370.2l12.6 5.9-1.7-8.7z"/><path color="#004" d="M410.4 1367.4l1.7 8.7 7.5 25.5zM410.4 1367.4l9.2 34.2-2.5-.5z"/><path color="#001" d="M417.1 1401.1l2.5 .5 9.8 11-2.8 1.8z"/><path color="#000" d="M318.9 1361.3l2.8-.8 6.2 1.9-2.9 .4z"/><path color="#001" d="M325 1362.8l2.9-.4 6.3 .7zM325 1362.8l9.2 .3-2.8-.5z"/><path style="fill:url(#gr5);stroke:url(#gr5)" d="M331.4 1362.6l2.8 .5 6.9-8.3z"/><path style="fill:url(#gr6);stroke:url(#gr6)" d="M331.4 1362.6l9.7-7.8-2.9-5z"/><path style="fill:url(#gr7);stroke:url(#gr7)" d="M338.2 1349.8l2.9 5 7.3-4.6z"/><path style="fill:url(#gr8);stroke:url(#gr8)" d="M338.2 1349.8l10.2 .4-2.8-8.3z"/><path style="fill:url(#gr9);stroke:url(#gr9)" d="M345.6 1341.9l2.8 8.3 7.9-7.2z"/><path style="fill:url(#gra);stroke:url(#gra)" d="M345.6 1341.9l10.7 1.1-2.6-12.9z"/><path style="fill:url(#grb);stroke:url(#grb)" d="M353.7 1330.1l2.6 12.9 7.8 6.8z"/><path style="fill:url(#grc);stroke:url(#grc)" d="M353.7 1330.1l10.4 19.7-2.5-11.5z"/><path color="#015" d="M361.6 1338.3l2.5 11.5 7.6 15.7z"/><path color="#016" d="M361.6 1338.3l10.1 27.2-2.5-6.6z"/><path style="fill:url(#grd);stroke:url(#grd)" d="M369.2 1358.9l2.5 6.6 8.8 .9z"/><path style="fill:url(#gre);stroke:url(#gre)" d="M369.2 1358.9l11.3 7.5-2.4-7.9z"/><path style="fill:url(#grf);stroke:url(#grf)" d="M378.1 1358.5l2.4 7.9 8.8 6.1z"/><path style="fill:url(#grg);stroke:url(#grg)" d="M378.1 1358.5l11.2 14-2.2-7.1z"/><path style="fill:url(#grh);stroke:url(#grh)" d="M387.1 1365.4l2.2 7.1 10.2-2.3z"/><path style="fill:url(#gri);stroke:url(#gri)" d="M387.1 1365.4l12.4 4.8-1.9-10z"/><path style="fill:url(#grj);stroke:url(#grj)" d="M397.6 1360.2l1.9 10 10.9-2.8z"/><path style="fill:url(#grk);stroke:url(#grk)" d="M397.6 1360.2l12.8 7.2-5 18.5z"/><path style="fill:url(#grl);stroke:url(#grl)" d="M405.4 1385.9l5-18.5 6.7 33.7z"/><path style="fill:url(#grm);stroke:url(#grm)" d="M405.4 1385.9l11.7 15.2-3.4 5.3z"/><path color="#001" d="M413.7 1406.4l3.4-5.3 9.5 13.3z"/><path color="#000" d="M413.7 1406.4l12.9 8-2.9 1.8z"/><path color="#001" d="M316.1 1362.1l2.8-.8 6.1 1.5-2.9 .2zM322.1 1363l2.9-.2 6.4-.2zM322.1 1363l9.3-.4-2.9-1.2z"/><path style="fill:url(#grn);stroke:url(#grn)" d="M328.5 1361.4l2.9 1.2 6.8-12.8z"/><path style="fill:url(#gro);stroke:url(#gro)" d="M328.5 1361.4l9.7-11.6-2.9-7.5z"/><path style="fill:url(#grp);stroke:url(#grp)" d="M335.3 1342.3l2.9 7.5 7.4-7.9z"/><path style="fill:url(#grq);stroke:url(#grq)" d="M335.3 1342.3l10.3-.4-2.9-12.2z"/><path style="fill:url(#grr);stroke:url(#grr)" d="M342.7 1329.7l2.9 12.2 8.1-11.8z"/><path style="fill:url(#grs);stroke:url(#grs)" d="M342.7 1329.7l11 .4-2.6-19.1z"/><path style="fill:url(#grt);stroke:url(#grt)" d="M351.1 1311l2.6 19.1 7.9 8.2z"/><path style="fill:url(#gru);stroke:url(#gru)" d="M351.1 1311l10.5 27.3-2.4-17.1z"/><path style="fill:url(#grv);stroke:url(#grv)" d="M359.2 1321.2l2.4 17.1 7.6 20.6z"/><path style="fill:url(#grw);stroke:url(#grw)" d="M359.2 1321.2l10 37.7-2.5-9.8z"/><path color="#006" d="M366.7 1349.1l2.5 9.8 8.9-.4-2.2-11.8z"/><path color="#016" d="M375.9 1346.7l2.2 11.8 9 6.9-2.2-10.7z"/><path style="fill:url(#grx);stroke:url(#grx)" d="M384.9 1354.7l2.2 10.7 10.5-5.2z"/><path style="fill:url(#gry);stroke:url(#gry)" d="M384.9 1354.7l12.7 5.5-4.9 20.3z"/><path style="fill:url(#grz);stroke:url(#grz)" d="M392.7 1380.5l4.9-20.3 7.8 25.7z"/><path style="fill:url(#gs0);stroke:url(#gs0)" d="M392.7 1380.5l12.7 5.4-4.7 16z"/><path style="fill:url(#gs1);stroke:url(#gs1)" d="M400.7 1401.9l4.7-16 8.3 20.5z"/><path style="fill:url(#gs2);stroke:url(#gs2)" d="M400.7 1401.9l13 4.5-3.4 4.9z"/><path color="#001" d="M410.3 1411.3l3.4-4.9 10 9.8z"/><path color="#000" d="M410.3 1411.3l13.4 4.9-2.9 1.9z"/><path color="#001" d="M313.2 1362.8l2.9-.7 6 .9zM313.2 1362.8l8.9 .2-2.9-.1z"/><path color="#002" d="M319.2 1362.9l2.9 .1 6.4-1.6-3-1.9z"/><path style="fill:url(#gs3);stroke:url(#gs3)" d="M325.5 1359.5l3 1.9 6.8-19.1z"/><path style="fill:url(#gs4);stroke:url(#gs4)" d="M325.5 1359.5l9.8-17.2-3.1-11z"/><path style="fill:url(#gs5);stroke:url(#gs5)" d="M332.2 1331.3l3.1 11 7.4-12.6z"/><path style="fill:url(#gs6);stroke:url(#gs6)" d="M332.2 1331.3l10.5-1.6-2.9-18.2z"/><path style="fill:url(#gs7);stroke:url(#gs7)" d="M339.8 1311.5l2.9 18.2 8.4-18.7z"/><path style="fill:url(#gs8);stroke:url(#gs8)" d="M339.8 1311.5l11.3-.5-2.6-28.9z"/><path style="fill:url(#gs9);stroke:url(#gs9)" d="M348.5 1282.1l2.6 28.9 8.1 10.2z"/><path style="fill:url(#gsa);stroke:url(#gsa)" d="M348.5 1282.1l10.7 39.1-2.3-25.7z"/><path style="fill:url(#gsb);stroke:url(#gsb)" d="M356.9 1295.5l2.3 25.7 7.5 27.9z"/><path style="fill:url(#gsc);stroke:url(#gsc)" d="M356.9 1295.5l9.8 53.6-2.4-14.7z"/><path style="fill:url(#gsd);stroke:url(#gsd)" d="M364.3 1334.4l2.4 14.7 9.2-2.4z"/><path style="fill:url(#gse);stroke:url(#gse)" d="M364.3 1334.4l11.6 12.3-4.5 22.9z"/><path style="fill:url(#gsf);stroke:url(#gsf)" d="M371.4 1369.6l4.5-22.9 9 8z"/><path style="fill:url(#gsg);stroke:url(#gsg)" d="M371.4 1369.6l13.5-14.9-4.6 21.3z"/><path style="fill:url(#gsh);stroke:url(#gsh)" d="M380.3 1376l4.6-21.3 7.8 25.8z"/><path style="fill:url(#gsi);stroke:url(#gsi)" d="M380.3 1376l12.4 4.5-4.6 17.5z"/><path style="fill:url(#gsj);stroke:url(#gsj)" d="M388.1 1398l4.6-17.5 8 21.4z"/><path style="fill:url(#gsk);stroke:url(#gsk)" d="M388.1 1398l12.6 3.9-3.5 7z"/><path color="#001" d="M397.2 1408.9l3.5-7 9.6 9.4z"/><path color="#000" d="M397.2 1408.9l13.1 2.4-3.1 3zM304.5 1361.3l2.9-.8 5.8 2.3-3 .6z"/><path color="#001" d="M310.2 1363.4l3-.6 6 .1zM310.2 1363.4l9-.5-3-.5z"/><path color="#002" d="M316.2 1362.4l3 .5 6.3-3.4zM316.2 1362.4l9.3-2.9-3.1-3.2z"/><path style="fill:url(#gsl);stroke:url(#gsl)" d="M322.4 1356.3l3.1 3.2 6.7-28.2z"/><path style="fill:url(#gsm);stroke:url(#gsm)" d="M322.4 1356.3l9.8-25-3.3-16.4z"/><path style="fill:url(#gsn);stroke:url(#gsn)" d="M328.9 1314.9l3.3 16.4 7.6-19.8z"/><path style="fill:url(#gso);stroke:url(#gso)" d="M328.9 1314.9l10.9-3.4-3.1-27.3z"/><path style="fill:url(#gsp);stroke:url(#gsp)" d="M336.7 1284.2l3.1 27.3 8.7-29.4z"/><path style="fill:url(#gsq);stroke:url(#gsq)" d="M336.7 1284.2l11.8-2.1-2.7-44.6z"/><path style="fill:url(#gsr);stroke:url(#gsr)" d="M345.8 1237.5l2.7 44.6 8.4 13.4z"/><path style="fill:url(#gss);stroke:url(#gss)" d="M345.8 1237.5l11.1 58-4.7 44.7z"/><path style="fill:url(#gst);stroke:url(#gst)" d="M352.2 1340.2l4.7-44.7 7.4 38.9z"/><path style="fill:url(#gsu);stroke:url(#gsu)" d="M352.2 1340.2l12.1-5.8-4.4 27.4z"/><path style="fill:url(#gsv);stroke:url(#gsv)" d="M359.9 1361.8l4.4-27.4 7.1 35.2z"/><path style="fill:url(#gsw);stroke:url(#gsw)" d="M359.9 1361.8l11.5 7.8-4.2 19.6z"/><path style="fill:url(#gsx);stroke:url(#gsx)" d="M367.2 1389.2l4.2-19.6 8.9 6.4z"/><path style="fill:url(#gsy);stroke:url(#gsy)" d="M367.2 1389.2l13.1-13.2-4.4 18.4z"/><path style="fill:url(#gsz);stroke:url(#gsz)" d="M375.9 1394.4l4.4-18.4 7.8 22z"/><path style="fill:url(#gt0);stroke:url(#gt0)" d="M375.9 1394.4l12.2 3.6-3.5 7.4z"/><path color="#001" d="M384.6 1405.4l3.5-7.4 9.1 10.9z"/><path color="#000" d="M384.6 1405.4l12.6 3.5-3.1 1.7zM301.5 1362.1l3-.8 5.7 2.1-2.9 .4z"/><path color="#001" d="M307.3 1363.8l2.9-.4 6-1-3.1-1.2z"/><path style="fill:url(#gt1);stroke:url(#gt1)" d="M313.1 1361.2l3.1 1.2 6.2-6.1z"/><path style="fill:url(#gt2);stroke:url(#gt2)" d="M313.1 1361.2l9.3-4.9-3.2-4.8z"/><path style="fill:url(#gt3);stroke:url(#gt3)" d="M319.2 1351.5l3.2 4.8 6.5-41.4z"/><path style="fill:url(#gt4);stroke:url(#gt4)" d="M319.2 1351.5l9.7-36.6-3.5-24.6z"/><path style="fill:url(#gt5);stroke:url(#gt5)" d="M325.4 1290.3l3.5 24.6 7.8-30.7z"/><path style="fill:url(#gt6);stroke:url(#gt6)" d="M325.4 1290.3l11.3-6.1-3.5-42z"/><path style="fill:url(#gt7);stroke:url(#gt7)" d="M333.2 1242.2l3.5 42 9.1-46.7z"/><path style="fill:url(#gt8);stroke:url(#gt8)" d="M333.2 1242.2l12.6-4.7-4.7 73.9z"/><path style="fill:url(#gt9);stroke:url(#gt9)" d="M341.1 1311.4l4.7-73.9 6.4 102.7z"/><path style="fill:url(#gta);stroke:url(#gta)" d="M341.1 1311.4l11.1 28.8-4.2 36.1z"/><path style="fill:url(#gtb);stroke:url(#gtb)" d="M348 1376.3l4.2-36.1 7.7 21.6z"/><path style="fill:url(#gtc);stroke:url(#gtc)" d="M348 1376.3l11.9-14.5-4 23.1z"/><path style="fill:url(#gtd);stroke:url(#gtd)" d="M355.9 1384.9l4-23.1 7.3 27.4z"/><path style="fill:url(#gte);stroke:url(#gte)" d="M355.9 1384.9l11.3 4.3-3.4 8.1z"/><path color="#001" d="M363.8 1397.3l3.4-8.1 8.7 5.2-3.5 7.7zM372.4 1402.1l3.5-7.7 8.7 11z"/><path color="#000" d="M372.4 1402.1l12.2 3.3-3.1 1.7z"/><path color="#001" d="M298.5 1362.8l3-.7 5.8 1.7-3.1 .2z"/><path color="#002" d="M304.2 1364l3.1-.2 5.8-2.6-3.1-2z"/><path style="fill:url(#gtf);stroke:url(#gtf)" d="M310 1359.2l3.1 2 6.1-9.7z"/><path style="fill:url(#gtg);stroke:url(#gtg)" d="M310 1359.2l9.2-7.7-3.3-7.2z"/><path color="#344" d="M315.9 1344.3l3.3 7.2 6.2-61.2z"/><path color="#355" d="M315.9 1344.3l9.5-54-2.9 42.5z"/><path style="fill:url(#gth);stroke:url(#gth)" d="M322.5 1332.8l2.9-42.5 7.8-48.1z"/><path style="fill:url(#gti);stroke:url(#gti)" d="M322.5 1332.8l10.7-90.6-3.5 69.8z"/><path style="fill:url(#gtj);stroke:url(#gtj)" d="M329.7 1312l3.5-69.8 7.9 69.2z"/><path style="fill:url(#gtk);stroke:url(#gtk)" d="M329.7 1312l11.4-.6-3.8 55.8z"/><path style="fill:url(#gtl);stroke:url(#gtl)" d="M337.3 1367.2l3.8-55.8 6.9 64.9z"/><path style="fill:url(#gtm);stroke:url(#gtm)" d="M337.3 1367.2l10.7 9.1-3.4 13.5z"/><path style="fill:url(#gtn);stroke:url(#gtn)" d="M344.6 1389.8l3.4-13.5 7.9 8.6z"/><path style="fill:url(#gto);stroke:url(#gto)" d="M344.6 1389.8l11.3-4.9-3.5 9.3z"/><path color="#001" d="M352.4 1394.2l3.5-9.3 7.9 12.4z"/><path color="#000" d="M352.4 1394.2l11.4 3.1-3.1 1.5zM290.1 1361.9l3-1.1 5.4 2-3 .6z"/><path color="#001" d="M295.5 1363.4l3-.6 5.7 1.2-3.1-.2zM301.1 1363.8l3.1 .2 5.8-4.8z"/><path color="#002" d="M301.1 1363.8l8.9-4.6-2.9 6.3z"/><path color="#003" d="M307.1 1365.5l2.9-6.3 5.9-14.9z"/><path color="#004" d="M307.1 1365.5l8.8-21.2-2.8 14.9z"/><path style="fill:url(#gtp);stroke:url(#gtp)" d="M313.1 1359.2l2.8-14.9 6.6-11.5z"/><path style="fill:url(#gtq);stroke:url(#gtq)" d="M313.1 1359.2l9.4-26.4-2.7 34.5z"/><path style="fill:url(#gtr);stroke:url(#gtr)" d="M319.8 1367.3l2.7-34.5 7.2-20.8z"/><path style="fill:url(#gts);stroke:url(#gts)" d="M319.8 1367.3l9.9-55.3-3 53.2z"/><path style="fill:url(#gtt);stroke:url(#gtt)" d="M326.7 1365.2l3-53.2 7.6 55.2z"/><path style="fill:url(#gtu);stroke:url(#gtu)" d="M326.7 1365.2l10.6 2-3.3 19.8z"/><path style="fill:url(#gtv);stroke:url(#gtv)" d="M334 1387l3.3-19.8 7.3 22.6z"/><path style="fill:url(#gtw);stroke:url(#gtw)" d="M334 1387l10.6 2.8-3.1 1.4z"/><path color="#000" d="M287 1362.9l3.1-1 5.4 1.5-3.1 .5z"/><path color="#001" d="M292.4 1363.9l3.1-.5 5.6 .4zM292.4 1363.9l8.7-.1-3 3.1z"/><path color="#002" d="M298.1 1366.9l3-3.1 6 1.7z"/><path color="#001" d="M298.1 1366.9l9-1.4-3 5.7z"/><path style="fill:url(#gtx);stroke:url(#gtx)" d="M304.1 1371.2l3-5.7 6-6.3z"/><path style="fill:url(#gty);stroke:url(#gty)" d="M304.1 1371.2l9-12-2.8 12.9z"/><path style="fill:url(#gtz);stroke:url(#gtz)" d="M310.3 1372.1l2.8-12.9 6.7 8.1z"/><path style="fill:url(#gu0);stroke:url(#gu0)" d="M310.3 1372.1l9.5-4.8-2.9 13z"/><path style="fill:url(#gu1);stroke:url(#gu1)" d="M316.9 1380.3l2.9-13 6.9-2.1z"/><path style="fill:url(#gu2);stroke:url(#gu2)" d="M316.9 1380.3l9.8-15.1-3 19z"/><path style="fill:url(#gu3);stroke:url(#gu3)" d="M323.7 1384.2l3-19 7.3 21.8z"/><path style="fill:url(#gu4);stroke:url(#gu4)" d="M323.7 1384.2l10.3 2.8-3.2 1.4z"/><path color="#000" d="M284 1363.9l3-1 5.4 1-3 2z"/><path color="#001" d="M289.4 1365.9l3-2 5.7 3-3 2.9z"/><path color="#000" d="M295.1 1369.8l3-2.9 6 4.3-3 2.8z"/><path color="#001" d="M301.1 1374l3-2.8 6.2 .9z"/><path color="#000" d="M301.1 1374l9.2-1.9-3 5.6z"/><path color="#001" d="M307.3 1377.7l3-5.6 6.6 8.2z"/><path color="#000" d="M307.3 1377.7l9.6 2.6-3.2 1.2z"/></g></g>
<defs>
<clipPath id="ka"><rect x="91" y="0" width="493" height="304.5"/></clipPath>
<clipPath id="kb"><rect x="91" y="304.5" width="493" height="304.5"/></clipPath>
<clipPath id="kc"><rect x="91" y="609" width="493" height="305.6"/></clipPath>
<clipPath id="kd"><rect x="91" y="914.6" width="493" height="303.4"/></clipPath>
<clipPath id="ke"><rect x="91" y="1218" width="493" height="305"/></clipPath>
</defs>
<g clip-path="url(#ka)">
<text transform="translate(145.55 22.15) scale(1.04 1)" x="-12.75" y="7.88" font-size="23">53</text>
<text transform="translate(149.65 55.25) scale(1.05 1.07)" x="-12.75" y="8" font-size="23">42</text>
<text transform="translate(156.95 87.45) scale(1.05 1)" x="-12.75" y="7.88" font-size="23">32</text>
<text transform="translate(163.85 116.6) scale(0.95 1.08)" x="-12.75" y="8" font-size="23">21</text>
<text transform="translate(174.7 144.6) scale(0.94 1.09)" x="-12" y="7.88" font-size="23">11</text>
<text transform="translate(121.5 114.3) rotate(68)" x="-34" y="8.75" font-size="25.5">Count</text>
<text transform="translate(175.5 224.5) rotate(49)" x="-73" y="9.12" font-size="25.5">Rout Chan X</text>
<text transform="translate(184 178) rotate(-45)" x="-7" y="8.62" font-size="25">1</text>
<text transform="translate(199.8 196.6) rotate(-45)" x="-7" y="8.62" font-size="25">4</text>
<text transform="translate(214 214.5) rotate(-45)" x="-7" y="8.62" font-size="25">7</text>
<text transform="translate(225.9 230.3) rotate(-45)" x="-13.88" y="8.62" font-size="25">10</text>
<text transform="translate(249 263) rotate(-45)" x="-13.88" y="8.62" font-size="25">13</text>
<text transform="translate(277 291) rotate(-45)" x="-13.88" y="8.62" font-size="25">16</text>
<text transform="translate(329.6 287) rotate(21) skewX(-8)" x="-6.62" y="8.25" font-size="24">0</text>
<text transform="translate(407.7 256.7) rotate(21) skewX(-8)" x="-23.38" y="8.25" font-size="24">10.0</text>
<text transform="translate(445.7 228) rotate(21) skewX(-8)" x="-23.38" y="8.25" font-size="24">20.0</text>
<text transform="translate(473.1 202.6) rotate(21) skewX(-8)" x="-23.38" y="8.25" font-size="24">30.0</text>
<text transform="translate(502.7 180.7) rotate(21) skewX(-8)" x="-23.38" y="8.25" font-size="24">40.0</text>
<text transform="translate(532.3 158.7) rotate(21) skewX(-8)" x="-23.38" y="8.25" font-size="24">50.0</text>
<text transform="translate(505.1 241.5) rotate(-42.6)" x="-52.25" y="6.38" font-size="25">Time (ns)</text>
</g>
<g clip-path="url(#kb)">
<text transform="translate(143 327.15) scale(1.02 1)" x="-12.75" y="7.88" font-size="23">28</text>
<text transform="translate(151.35 367) scale(1.01 1.04)" x="-12.75" y="8" font-size="23">22</text>
<text transform="translate(160.7 398.55) scale(0.89 1.06)" x="-12.75" y="7.88" font-size="23">17</text>
<text transform="translate(166.15 430.35) scale(0.87 1.06)" x="-12" y="7.88" font-size="23">11</text>
<text transform="translate(178.2 458.55) scale(0.97 1)" x="-6.38" y="7.88" font-size="23">6</text>
<text transform="translate(133.5 419) rotate(68)" x="-34" y="8.75" font-size="25.5">Count</text>
<text transform="translate(186.7 534) rotate(49)" x="-73" y="9.12" font-size="25.5">Rout Chan X</text>
<text transform="translate(184.5 482.5) rotate(-45)" x="-7" y="8.62" font-size="25">1</text>
<text transform="translate(200.3 501.1) rotate(-45)" x="-7" y="8.62" font-size="25">4</text>
<text transform="translate(214.5 519) rotate(-45)" x="-7" y="8.62" font-size="25">7</text>
<text transform="translate(226.4 534.8) rotate(-45)" x="-13.88" y="8.62" font-size="25">10</text>
<text transform="translate(249.5 567.5) rotate(-45)" x="-13.88" y="8.62" font-size="25">13</text>
<text transform="translate(277.5 595.5) rotate(-45)" x="-13.88" y="8.62" font-size="25">16</text>
<text transform="translate(326.1 591.5) rotate(21) skewX(-8)" x="-6.62" y="8.25" font-size="24">0</text>
<text transform="translate(401.7 561.2) rotate(21) skewX(-8)" x="-23.38" y="8.25" font-size="24">10.0</text>
<text transform="translate(447.2 532.5) rotate(21) skewX(-8)" x="-23.38" y="8.25" font-size="24">20.0</text>
<text transform="translate(483.1 507.1) rotate(21) skewX(-8)" x="-23.38" y="8.25" font-size="24">30.0</text>
<text transform="translate(513.7 485.2) rotate(21) skewX(-8)" x="-23.38" y="8.25" font-size="24">40.0</text>
<text transform="translate(538.3 463.2) rotate(21) skewX(-8)" x="-23.38" y="8.25" font-size="24">50.0</text>
<text transform="translate(509.6 546) rotate(-42.6)" x="-52.25" y="6.38" font-size="25">Time (ns)</text>
</g>
<g clip-path="url(#kc)">
<text transform="translate(136.45 632.9) scale(1.06 1.1)" x="-19.25" y="8" font-size="23">277</text>
<text transform="translate(145.75 671.8) scale(1.06 1.05)" x="-19.25" y="8" font-size="23">222</text>
<text transform="translate(157 702.35) scale(1 1.05)" x="-19.25" y="7.88" font-size="23">166</text>
<text transform="translate(160.3 733.8) scale(1.02 1.04)" x="-17.5" y="7.88" font-size="23">111</text>
<text transform="translate(172.35 764.25) scale(1.01 1.03)" x="-12.75" y="7.75" font-size="23">55</text>
<text transform="translate(129.5 727) rotate(68)" x="-34" y="8.75" font-size="25.5">Count</text>
<text transform="translate(184 841.7) rotate(49)" x="-73" y="9.12" font-size="25.5">Rout Chan X</text>
<text transform="translate(185 787.5) rotate(-45)" x="-7" y="8.62" font-size="25">1</text>
<text transform="translate(200.8 806.1) rotate(-45)" x="-7" y="8.62" font-size="25">4</text>
<text transform="translate(215 824) rotate(-45)" x="-7" y="8.62" font-size="25">7</text>
<text transform="translate(226.9 839.8) rotate(-45)" x="-13.88" y="8.62" font-size="25">10</text>
<text transform="translate(250 872.5) rotate(-45)" x="-13.88" y="8.62" font-size="25">13</text>
<text transform="translate(278 900.5) rotate(-45)" x="-13.88" y="8.62" font-size="25">16</text>
<text transform="translate(326.6 896.5) rotate(21) skewX(-8)" x="-6.62" y="8.25" font-size="24">0</text>
<text transform="translate(402.2 866.2) rotate(21) skewX(-8)" x="-23.38" y="8.25" font-size="24">10.0</text>
<text transform="translate(447.7 837.5) rotate(21) skewX(-8)" x="-23.38" y="8.25" font-size="24">20.0</text>
<text transform="translate(483.6 812.1) rotate(21) skewX(-8)" x="-23.38" y="8.25" font-size="24">30.0</text>
<text transform="translate(514.2 790.2) rotate(21) skewX(-8)" x="-23.38" y="8.25" font-size="24">40.0</text>
<text transform="translate(538.8 768.2) rotate(21) skewX(-8)" x="-23.38" y="8.25" font-size="24">50.0</text>
<text transform="translate(510.1 851) rotate(-42.6)" x="-52.25" y="6.38" font-size="25">Time (ns)</text>
</g>
<g clip-path="url(#kd)">
<text transform="translate(135.85 935.35) scale(1.03 1)" x="-19.25" y="7.88" font-size="23">854</text>
<text transform="translate(144.75 972.7) scale(1.05 1.01)" x="-19.25" y="7.88" font-size="23">683</text>
<text transform="translate(155.65 1007.1) scale(1.04 1.02)" x="-19.25" y="7.88" font-size="23">512</text>
<text transform="translate(163.55 1039.2) scale(1.04 1.01)" x="-19.25" y="7.88" font-size="23">342</text>
<text transform="translate(171.2 1066.05) scale(0.93 1.03)" x="-19.25" y="7.88" font-size="23">171</text>
<text transform="translate(125.5 1033.5) rotate(68)" x="-34" y="8.75" font-size="25.5">Count</text>
<text transform="translate(185.8 1144.9) rotate(49)" x="-73" y="9.12" font-size="25.5">Rout Chan X</text>
<text transform="translate(186.5 1092.3) rotate(-45)" x="-7" y="8.62" font-size="25">1</text>
<text transform="translate(202.3 1110.9) rotate(-45)" x="-7" y="8.62" font-size="25">4</text>
<text transform="translate(216.5 1128.8) rotate(-45)" x="-7" y="8.62" font-size="25">7</text>
<text transform="translate(228.4 1144.6) rotate(-45)" x="-13.88" y="8.62" font-size="25">10</text>
<text transform="translate(251.5 1177.3) rotate(-45)" x="-13.88" y="8.62" font-size="25">13</text>
<text transform="translate(279.5 1205.3) rotate(-45)" x="-13.88" y="8.62" font-size="25">16</text>
<text transform="translate(328.1 1201.3) rotate(21) skewX(-8)" x="-6.62" y="8.25" font-size="24">0</text>
<text transform="translate(403.7 1171) rotate(21) skewX(-8)" x="-23.38" y="8.25" font-size="24">10.0</text>
<text transform="translate(449.2 1142.3) rotate(21) skewX(-8)" x="-23.38" y="8.25" font-size="24">20.0</text>
<text transform="translate(485.1 1116.9) rotate(21) skewX(-8)" x="-23.38" y="8.25" font-size="24">30.0</text>
<text transform="translate(515.7 1095) rotate(21) skewX(-8)" x="-23.38" y="8.25" font-size="24">40.0</text>
<text transform="translate(540.3 1073) rotate(21) skewX(-8)" x="-23.38" y="8.25" font-size="24">50.0</text>
<text transform="translate(511.6 1155.8) rotate(-42.6)" x="-52.25" y="6.38" font-size="25">Time (ns)</text>
</g>
<g clip-path="url(#ke)">
<text transform="translate(137.4 1238.2) scale(1.05 1)" x="-28.75" y="6.38" font-size="23">1,541</text>
<text transform="translate(146.5 1274.8) scale(1.05 1)" x="-28.75" y="6.5" font-size="23">1,233</text>
<text transform="translate(154.65 1305.45) scale(1.04 1)" x="-19.25" y="7.88" font-size="23">925</text>
<text transform="translate(164.85 1335.05) scale(1.04 1)" x="-19.25" y="7.88" font-size="23">616</text>
<text transform="translate(170.05 1363.05) scale(1.03 1)" x="-19.25" y="7.88" font-size="23">308</text>
<text transform="translate(125.8 1338.7) rotate(68)" x="-34" y="8.75" font-size="25.5">Count</text>
<text transform="translate(192.1 1449) rotate(49)" x="-73" y="9.12" font-size="25.5">Rout Chan X</text>
<text transform="translate(185 1397) rotate(-45)" x="-7" y="8.62" font-size="25">1</text>
<text transform="translate(200.8 1415.6) rotate(-45)" x="-7" y="8.62" font-size="25">4</text>
<text transform="translate(215 1433.5) rotate(-45)" x="-7" y="8.62" font-size="25">7</text>
<text transform="translate(226.9 1449.3) rotate(-45)" x="-13.88" y="8.62" font-size="25">10</text>
<text transform="translate(250 1482) rotate(-45)" x="-13.88" y="8.62" font-size="25">13</text>
<text transform="translate(278 1510) rotate(-45)" x="-13.88" y="8.62" font-size="25">16</text>
<text transform="translate(326.6 1506) rotate(21) skewX(-8)" x="-6.62" y="8.25" font-size="24">0</text>
<text transform="translate(402.2 1475.7) rotate(21) skewX(-8)" x="-23.38" y="8.25" font-size="24">10.0</text>
<text transform="translate(447.7 1447) rotate(21) skewX(-8)" x="-23.38" y="8.25" font-size="24">20.0</text>
<text transform="translate(483.6 1421.6) rotate(21) skewX(-8)" x="-23.38" y="8.25" font-size="24">30.0</text>
<text transform="translate(514.2 1399.7) rotate(21) skewX(-8)" x="-23.38" y="8.25" font-size="24">40.0</text>
<text transform="translate(538.8 1377.7) rotate(21) skewX(-8)" x="-23.38" y="8.25" font-size="24">50.0</text>
<text transform="translate(510.1 1460.5) rotate(-42.6)" x="-52.25" y="6.38" font-size="25">Time (ns)</text>
</g>
<text class="bl" transform="translate(10.5,42) scale(0.86,1)">a</text>
<text class="lt" transform="translate(64.7,162.5) rotate(-90)" text-anchor="middle">Above brain surface</text>
<text class="bl" transform="translate(10.5,348) scale(0.86,1)">b</text>
<text class="lt" transform="translate(64.7,453) rotate(-90)" text-anchor="middle">Under brain surface</text>
<text class="bl" transform="translate(10.5,652.8) scale(0.86,1)">c</text>
<text class="lt" transform="translate(64.7,773.4) rotate(-90)" text-anchor="middle">Deep in the cortex</text>
<text class="bl" transform="translate(10.5,958) scale(0.86,1)">d</text>
<text class="lt" transform="translate(64.7,1065.5) rotate(-90)" text-anchor="middle">In the striatum</text>
<text class="bl" transform="translate(10.5,1263.3) scale(0.86,1)">e</text>
<text class="lt" transform="translate(31.8,1369.8) rotate(-90)" text-anchor="middle">In the striatum</text>
<text class="lt" transform="translate(64.8,1378) rotate(-90)" text-anchor="middle">(same location as in <tspan font-weight="bold">d</tspan>)</text>
<g stroke="#000" stroke-width="2" fill="none"><rect x="1" y="1" width="673" height="1522"/><path d="M90.5 0V1524M584.5 0V1524M0 304.5H584.5M0 609H584.5M0 914.6H584.5M0 1218H675"/></g>
</svg></body></html>
